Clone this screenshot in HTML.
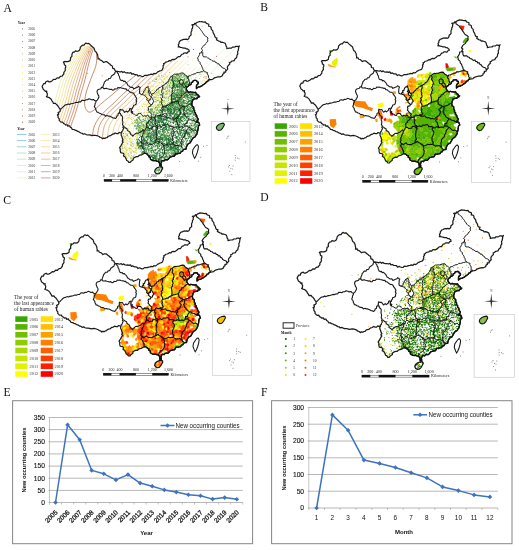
<!DOCTYPE html><html><head><meta charset="utf-8"><title>Figure</title><style>html,body{margin:0;padding:0;background:#fff}svg{display:block}text{white-space:pre}</style></head><body>
<svg width="519" height="550" viewBox="0 0 519 550">
<rect width="519" height="550" fill="#fff"/>
<defs>
<path id="cn" d="M37.2 88.4L37.4 87.2L38.1 86.1L38.7 85L40.4 85L40.8 83.2L42 82.6L43.2 82.1L44.2 83.1L45.4 83.1L46.4 82.5L47.5 82.1L48.3 81.2L49.4 80.4L51 80.6L52 79.7L53.1 78.8L54.7 79.1L55.6 77.9L56.6 77.2L58.1 77.1L58.9 75.9L59.9 74.8L59.8 73.1L60.8 72L61.5 70.7L61.2 69.1L61.8 67.7L61.8 66.1L60.4 65.2L60.2 63.7L59.4 62.4L60.8 61.7L62.3 61.8L63.9 61.9L65.3 61.4L66.6 60.5L66.8 59L67 57.5L68.4 56.4L68.2 54.7L68.7 53.3L69.5 52L70.9 51.9L72 50.6L73.6 51.1L75 50.8L76.2 49.9L76.9 48.5L77.1 46.8L78.2 45.6L79.4 44.7L81 44.6L81.9 43.3L83 42.4L84.4 43.2L85.9 42.8L87 43.8L88 44.8L89.1 45.8L90.2 46.7L91.3 47.6L91.8 48.8L92.2 50.1L92.7 51.4L93.9 52.2L94.5 53.4L95.2 54.8L95.3 56.2L95.7 57.6L95.5 59.1L97.1 58.9L97.9 60.4L99.3 60.7L100.3 61.6L101.5 62.8L103.3 62L104.8 62L106.1 63L107 63.9L108.1 64.5L108.8 65.5L110 65.9L110.8 67.2L110.9 68.9L112.8 69.4L113.2 70.9L114.2 72.1L115.8 72.1L117.4 72.3L118.9 72.8L120.3 72.1L121.6 73.3L123 72.4L124.3 73.5L125.6 73.6L127 73.5L128.3 74L129.9 73.4L130.9 74.9L132.5 74.5L133.7 75.4L135.1 75.5L136.5 75.7L137.5 77.2L139.2 76.4L140.5 77L141.8 77.5L143.2 77.3L144.3 76.2L145.8 76.3L147.2 76.2L148.5 75.7L150 75.5L151.2 74.9L152.9 75.4L154 74.2L155.7 74.6L156.9 73.7L158 72.6L159.3 72.1L160.5 71.5L161.9 71.2L162.9 70.3L163.4 68.8L163.9 67.6L163.5 66.4L164.5 65.3L164.1 64L165.3 63.6L166.1 62.5L167.5 62.2L168.9 61.8L170.1 60.8L171.7 61.1L172.6 59.9L173.9 59.5L175.4 59.8L176.5 59.1L177.7 58.4L178.6 57.3L179.9 56.7L181.5 56.6L182.3 55.3L183.2 54.2L184.6 53.9L185.6 52.9L187.1 52.8L188.7 53.2L189.6 51.7L190.9 51.4L190.9 50.1L189.9 49.3L189 48.5L187.7 48.6L186.7 47.7L185.4 47.7L184.2 47.6L183.1 47.1L181.8 47L180.7 46.5L179.4 46.6L179.9 45.5L179.5 44.1L180.4 43.1L180.3 41.8L181.1 40.8L181.9 39.8L183.1 39.5L184.2 38.9L185.4 38.5L186.6 38.6L187.8 38.4L189 38.9L190.1 38.2L190.8 37.2L190.9 35.8L191.9 35L193 33.8L192.8 32.1L193 30.6L193.8 29.3L193.6 28L194.5 26.9L194.5 25.7L194.8 24.5L193.7 23.4L194.7 23.1L196.1 23.3L196.6 22L198.1 21.9L199.1 20.9L200.4 20.4L201.6 19.9L202.8 20.2L204 20.1L205.2 20.4L206.5 20.6L208 20.4L208.9 21.9L210.1 22.3L211.4 22.9L211.3 24.9L213 25.2L213.9 26.2L213.9 27.6L214.7 28.7L215.7 29.7L215.8 31L216.2 32.2L217 33.3L217.5 34.5L217.8 35.8L218.5 36.8L220 37.2L219.4 39.1L220.7 39.7L221.8 40.4L223.1 40.6L224.1 41.8L225.5 41.6L227.1 42.2L228.6 42.8L229.3 44.5L229.5 45.8L230.4 47L230.3 48.4L231.5 48.2L232.7 47.8L233.9 47.8L235.1 47.8L236.1 46.8L237.5 46.8L238.8 46.6L239.9 45.8L241.1 45.9L242.3 46.4L243.4 45.5L242.8 46.6L242.6 47.8L242.4 49.1L242.2 50.3L241.6 51.4L241.6 52.7L241.8 54.1L240.9 55.1L240.8 56.5L240.5 57.8L239.3 58.6L238.5 59.7L238 60.9L236.7 61.2L235.4 61.3L234.5 62.5L233.2 62.8L233.4 64.5L232.2 65.6L231.3 66.7L230.8 67.9L231.2 69.5L230.4 70.5L229.3 71.5L229.1 72.8L227.2 72.9L227.4 74.4L226.1 75L225.7 76.6L224.5 77.3L223.4 77.8L222.1 77.7L220.9 77.9L219.7 78.2L218.2 78.6L216.8 79.2L215.6 80.3L214.1 80.7L212.5 80.8L211 81.2L210.3 82.6L208.9 83L208.1 84.3L206.8 85.3L205.5 86.1L204.3 87.2L203.1 87.6L202 88.4L200.6 88.4L199.5 89.1L198.5 90L198.5 88.6L198.5 87.2L199.2 85.9L200.5 84.9L200.4 83.3L199.2 83.1L198.7 81.7L197.5 81.4L196.2 81.6L195.1 82L194.6 83.3L193.2 83.8L193 85.5L191.8 86.2L190.6 86.5L190 87.6L188.9 88.1L188 89.4L187.9 91L188.8 92.3L189.8 93.5L191 94L192.2 93.4L193.4 93.9L194.6 93.9L196.1 94.2L197.5 93.9L198.3 95.1L199.1 96.1L200.4 96.8L200.5 98.1L201.8 98.1L200.9 99.1L199.6 99.3L199 100.7L197.5 100.6L196.4 101L195.1 101.3L194.6 102.6L194.1 104L193.7 105.5L193.8 107L194.1 108.5L195.6 109.3L195.7 110.6L195.8 112L196.6 113.2L196.4 114.6L197.6 115.6L197.5 117L198.7 118L199 119.5L199.5 120.9L200.3 121.7L200.4 122.8L199.2 123.8L198.5 125.2L199.9 124.9L200.9 125.4L201.4 126.7L201.9 128.2L200.6 129.2L200.4 130.5L200.3 131.7L200.1 132.9L199.9 134.1L199.5 135.3L199.2 136.6L198.9 137.9L197.9 138.9L197.5 140.1L196.6 140.9L195.5 141.4L194.6 142.2L193.9 143.4L193.2 144.6L192.5 145.8L191.8 147L190.1 147.6L189.1 148.8L188.4 150.3L187.9 151.8L187.6 153.4L185.8 153.5L184.5 154.2L184 155.6L182.5 156.1L181.5 157.7L179.8 157.9L178.3 158.5L176.7 158.2L176 159.8L175.1 160.9L173.7 160.9L172.5 161.4L171.1 161.6L170.2 162.5L169.3 163.7L168.3 164.6L166.7 164.3L165.5 164.6L164.6 165.8L163.2 165.3L162.2 165.9L162 167L161.3 168.2L161.6 169.4L161.7 170.7L160.2 170.7L160 169.1L159.8 167.6L159.1 166.9L158.4 166.2L156.9 165.9L155.5 165.3L154.2 165.5L152.9 165.4L151.7 164.7L150.4 163.9L150.3 162L148.8 161.4L148.9 159.9L147.5 159.5L146.8 158.5L145.5 157.8L144 157.6L143.1 158.4L142 158.8L141.1 159.5L139.5 159.6L138.3 160.3L137.2 161.4L135.8 161.3L134.6 161.7L133.4 162.4L132.4 163.1L132.4 164.5L131.4 165.3L130.2 166L129.5 167.2L127.8 167.3L126.9 165.9L125.6 165.3L125.1 163.9L124.5 162.6L123.7 161.4L122.2 160.6L122.8 158.7L121.8 157.6L120.5 157.4L119.3 157.1L118.9 155.6L118.8 154.4L118.9 153.2L118.1 152L118.9 150.8L119.7 149.7L120.3 148.4L121 147.2L121.8 146L120.9 144.9L121.7 143.5L121.1 142.4L120.8 141.2L120.4 140L119.8 138.9L119.8 137.7L119.9 136.4L118.8 136.3L117.7 135.9L116.6 137.1L115.1 137.1L113.5 136.5L112.3 137.5L110.9 137.8L109.8 138.5L108.7 139.4L107.2 139.6L106 140.2L105.1 141.3L103.9 141.5L102.8 142.2L101.4 141.9L100.3 142.6L99.3 141.5L97.9 141.2L96.8 140.2L95.5 139.7L94 139.2L92.5 138.9L90.9 139.1L89.3 139.3L87.8 138.8L86.3 138.5L84.7 138.6L83.2 138.2L81.7 137.3L80.1 137.8L79.1 136.8L77.8 136.6L76.7 135.9L75.6 135.2L74.3 134.9L73.1 134L71.6 133.6L70.4 132.9L68.7 132.8L67.9 131.2L66.6 130.5L65.9 129L64.1 129.5L63.5 127.9L61.8 128.2L60.8 127.2L59.5 126.6L58.8 125.2L57.1 125.3L56 124.4L55 123.4L55.1 121.8L53.9 120.5L53.9 118.9L53.1 117.6L54.5 116.9L53.8 115.1L55.4 114.4L56.2 113.4L56 111.8L55.4 110.8L54.7 109.9L54.1 108.9L53.2 107.6L52 106.7L51.1 105.4L49.1 105.6L48.3 104.1L47.4 102.9L46.8 101.5L45.7 100.5L44.5 99.5L43 99.1L41.6 98.5L42.4 97.7L42.5 96.6L42.6 95.3L41.8 94.1L42 92.8L40.5 93.1L39.8 91.8L38.7 91.3L38.1 90.4L37.8 89.3Z"/>
<path id="hn" d="M163 172.5L162.1 171.7L159.7 172.1L157.4 173L155.4 174.7L154.8 176.8L155.7 178.5L157.4 179.4L159.5 179L161.2 177.3L162.3 175.3L163.2 173.6Z"/>
<path id="tw" d="M199.6 148.8L200.6 150.5L200.2 154L199 158L197.6 161.5L196.6 163L195.6 161L194.3 157.5L194.8 154L196.8 151L198.5 149Z"/>
<path id="pv" d="M56 111.8L57.4 111.1L58.4 109.9L59.4 108.9L60.5 107.8L61.8 107L63.2 106.9L64.5 106.1L66 106.6L67.3 105.9L68.7 105.6L70 105.4L71.4 105L72.8 104.4L74.5 104.6L75.9 103.9L77.5 104L78.6 102.4L80.1 102.2L81.7 102.7L83.2 101.7L84.7 101.8L86.2 100.7L87.8 101.2L89.2 101.9L90.9 101.5L92.1 102.7L93.6 103.1M93.6 103.1L94.9 102.1L95.7 100.7L96.5 99.3L96.4 97.7L95.5 96.4L95 94.9L94.5 93.5L94.9 92L95.9 91L97.4 90.6L98.6 90.2L99.2 88.7L100.7 89M114.2 72.1L113.3 73.1L113 74.6L111.9 75.4L110.8 76.2L109.7 76.9L109.1 78.3L108.3 79.5L106.7 79.6L106.1 81.1L104.2 81.1L103.4 82.3L102.2 83.4L101.9 84.9L101.3 86.3L100.8 87.6L100.7 89M100.7 89L101.7 90.1L102.9 90.1L104.3 89.7L105.4 90.3L106.8 90.5L108.1 91.1L109.6 90.7L110.8 91.7L112.1 91.6L113 90.4L114.3 90.5L115.5 90.3L116.3 89.1L117.7 89.3L118.9 89L120 89.5L121.1 89.8L122.3 89.9L123.5 90.4L125 90.3L125.6 91.7L127 91.8L128 92.7L129 93.5L130.2 94.4L131.8 94.5L133 95.3L133.6 96.7L134.5 97.8L135.3 99.1L136 100.4L135.3 101.9L136.1 103.2L135.6 104.2L135.6 105.4L135.3 106.5L134.1 107.2L132.8 107.6L132.4 109.2L131.6 110L131.4 111.3L130.3 111.9L130.2 113.4L131.9 114.4L131.3 116M93.6 103.1L93.3 104.6L92.5 106L92.4 107.5L91.7 108.9L92.4 110L93.2 111L93.3 112.4L94 113.5L94.5 114.7L95.9 114.9L97 115.8L98.4 116.1L99.5 117.2L100.9 117.4L102.3 117.6L103.4 118.9L105 118.3L106.3 118.9L107.7 118.9L109 119.5L110.1 120.1L111.3 120.8L112.6 120.9L113.8 121.4L114.8 120.4L115.2 119L116.5 118.2L116.6 116.5L117.7 115.6M117.7 115.6L119.2 116.1L119.4 117.8L120.6 118.5L121.3 120L121.1 121.6L121 123.1L121.6 124.6L121.5 126.2L121.2 127.8L122.1 129.1L121.6 130.7L122.5 132L121.6 133L121.4 134.3L120.2 135.2L120.6 136.8M117.7 115.6L118.4 114.4L118.3 113.1L118.6 111.8L119.9 112.4L121.6 112.2L122.5 113.7L123.5 115L125.2 113.6L126.3 114.7L127.3 113.8L128.4 113L128.6 111.3L130 110.8L130.4 112.1L130.4 113.5L130.3 114.9L131.3 116M114.2 72.1L115.6 72.5L116 73.9L116.9 74.8L117.1 76.2L118 77.4L118.2 78.9L118.6 80L119.1 81.1L120.2 81.6L121.4 81.4L122.3 82.7L123.6 82.3L124.5 83.4L125.6 84.3L126.4 85.6L127 87L128.2 87.5L129.1 88.5L130.3 89L131.8 88.7L132.9 90.4L134.4 89.7L135.6 89.2L136.9 88.8L137.8 87.7L138.8 88.4L139.8 89L139.3 90.1L139.2 91.2L139.1 92.4L139 93.8L139.1 95.1L140.4 95.9L141.8 96.4M122.5 130L123.7 130.6L124.7 131.6L126 132L126.1 133.5L127.1 134.3L128.3 135L129 136L129.4 137.2L130.1 138.3L131.4 138.9L132 140L132.8 138.8L134 138L135 137L136.3 136.6L137.8 136.8L139 136L140.2 135.6L141.1 134.8L142 134L143 133.2L143.9 134.1"/>
<path id="pe" d="M141.8 96.4L142.1 95.2L143.4 94.4L143 93L144.4 92.5L144.7 91.2L145.2 90L145.9 89L147.2 88.9L147.9 87.7L148.2 89.1L148.8 90.3L148.8 91.5L148.7 92.7L147.9 93.7L149.2 94.5L149 95.9L149.2 97.1L150.5 97.9L151.3 99.1L150.3 100.3L150.6 101.8L149.1 101.7L148.6 103.2L147.4 102.8L146.5 101.8L147.1 100.2L145.9 99.1L145 98.2L144.5 97.1L143.1 96.8L141.8 96.4M148.8 91.5L149.5 92.5L150.1 93.6L150.3 94.9L151.3 95.7L152.6 95.3L154 95.1L154.7 94.1L155.6 93.1L156.6 92.4L157.1 90.9L158.8 90.5L159.3 89L160.8 88.7L162 87.7L162.8 87.1L163.7 86.9L164.8 86.2L165.9 85.6L166.5 84.4L167.8 84.1L168.6 82.7L169.5 81.5L170 80L170.9 79.2L171.2 77.8L172.4 77.2L173.4 76.5L174.4 75.6L175.5 75L176.9 75.1L178.3 74.8L179.7 74.9L181 74.4L182.4 73.9L183.8 73.7L185.1 73.9L185.7 75L186.6 75.8L187.7 76.4L188.7 77.2L189.8 78.2M196.6 22L197.9 22.5L198.1 24.1L199.3 24.7L200.3 25.6L201.5 26.3L202 27.6L203 28.5L203.7 29.6L204.5 30.6L205.1 31.8L206 32.8L206.8 34.2L207.9 35.3L209.3 36L210.6 37.2L210.1 39L210.6 40.4L209.7 41.3L209 42.3L208.1 43.1L207.6 44.3L206.3 45.1L205.1 46.1L204.4 47.5L203.6 48.6L205.1 49.9L204 51M204 51L205.1 52.3L205.1 53.9L205.2 55.5L206 57L207.6 56.9L209.1 57L210.1 58L211.6 58.3L212.4 59.7L213.9 59.9L214.9 60.9L216 61.6L217.6 61.2L218.3 62.8L219.7 62.8L220.3 64.2L222.1 64.2L222.6 65.7L224.2 66.3L224.9 67.9L226.4 68.6L227.8 69.1L228.9 69.9L229.3 71.5M204 51L204.1 52.7L201.8 52.9L201.8 54.5L201.1 55.8L200.5 57L199.5 58L200.3 59.2L200.2 60.8L201.5 61.7L202.4 62.8L202.3 64.2L203.4 65.2L204 66.3L204.3 67.6L205.1 68.8L205.3 70.4L206.2 71.5M206.2 71.5L207.4 72.3L208.7 73L210.1 73.4L209.8 74.7L210.5 75.8L211.2 76.9L211 78.2L211.8 79.5L212.5 80.8M206.2 71.5L204.9 72.4L203.3 72.5L201.9 73.1L200.4 73.4L198.8 73.3L197.6 74.6L196 74.7L194.6 75.3L193.2 75.8L192.2 76.7L190.5 76.7L189.8 78.2M189.8 78.2L189.2 79.5L190.2 80.4L190.8 81.3L190.8 82.8L191.5 84.1L190.8 85.4L190.5 86.8M173.4 76.5L172.8 77.6L173.6 79L173 80.1L172.7 81.3L173.9 82.5L174.5 83.9L174.8 85.5L174 86.8L174.2 88.3L172.8 89.4L173.4 91L173.9 92.6L172.9 93.9L173.2 95.4L172 96.6L172 98L172.5 99.4L172.5 100.8L172.7 102.2L172.6 103.5L172.6 104.8L171.3 105.6M163.7 86.9L163 88.2L163.1 89.7L162.6 91L162.3 92.4L162.1 93.9L162.9 95.2L162.5 96.6L163 98L163 99.5L161.6 100.6L162.5 102.3L161.6 103.5L161.7 105L162.4 106.3L163 107.6L163 109.1M163 109.1L164.4 108.6L165.9 108.4L167.2 107.7L168.8 107.4L169.9 106.2L171.3 105.6M180.6 81.6L182.6 80.6L184.6 81.8L184.8 84.4L183 86L181 85.2L180.6 81.6M184.8 84.4L186.6 85.6L187.2 88.4L185.6 89.4L184.4 87.6L183 86M188.7 93.1L187.5 94L186.2 94.8L185.2 95.9L184.4 96.9L182.8 97L182.5 98.5L181.7 99.4L180.2 100.1L180.1 101.9L179 102.9M171.3 105.6L172.7 105.2L174 104.3L175.5 104.2L176.6 103.7L177.9 103.4L179 102.9M179 102.9L179.6 104.2L179.7 105.6L180.4 107L181.7 107.7L183 108L183.8 109.1M183.8 109.1L185 109.1L186.2 108.8L187.3 108.4L188.9 108.2L190.2 107.2L191.5 106.3L192.6 106L193.7 105.5M183.8 109.1L182.7 110.1L181.8 111.2L180.4 111.9L181 113.2L182.2 114.3L181.7 116L181.1 117.1L180.6 118.2L179.7 119L178.6 119.3L178.3 120.5M183.8 109.1L185.4 109.1L185.9 110.7L185.4 111.8L185.5 113.3L184.5 114.2L185.4 115.3L185.5 116.8L186.6 117.7L187.2 118.7L187.6 119.8L188.7 120.5L189.8 121.1L190.8 121.9M151.3 95.7L152.2 97L151.2 98.6L152 100L152.7 101.3L153.5 102.6L154 104L152.8 104.8L152.5 106.5L151 107L150.5 108.5L148.7 108.7L148 110L148.5 111.3L148 112.8L149 114L149.8 115.2L150.9 116.1L152 117L151.2 118.3L152 119.9L151.2 121.2M163 109.1L162.1 110.4L162.9 112L162.3 113.3L162.7 114.4L162.9 115.5L163.7 116.4L162.7 117.9L160.8 117.5L159.5 118.4M159.5 118.4L158 118.4L156.7 117.7L155.8 118.4L155.4 119.8L154 119.8L152.7 120.6L151.2 121.2M131.3 116L132.6 116.6L133.9 117L135 118L136.8 118.2L137.5 116.3L139 116L140.4 116.2L141.1 117.4L142 118.3L143 119L144.2 118.1L145.9 119.1L147 118L148.4 118.4L148.8 120L150.4 120L151.2 121.2M148.6 103.2L148.6 104.9L150 106L151 107M151.2 121.2L150.3 122.3L149.5 123.5L148 124L148 125.5L146.8 126.1L146 127L146.5 128.2L146.3 129.4L146.5 130.6L145.5 131.6L145 133.1L143.9 134.1M146.5 130.6L148.1 130.4L149.3 132L151 131.5L152.5 131.5L153 129.5L154.6 129.7L156.1 130.1L157 131.4L158.2 132.3M154 119.8L154.9 120.7L154.9 122.2L156 123L155.3 124.4L155 126L155.8 127L155.9 128.5L157.4 128.8L157.5 130L157.8 131.2L158.2 132.3M143.9 134.1L143.6 135.6L143.3 137.1L142.3 138.4L141.9 139.9L141.2 141.3L141.1 142.8L141.4 144.4L140.3 145.7M140.3 145.7L141.4 146.8L141.8 148.1L140.8 149.9L142 151L142.8 152.3L143.1 153.8L144 155L143.9 156.3L144 157.6M140.3 145.7L141.3 146.6L142.6 147.4L143.5 148.4L144.5 147.8L145.4 147.1L146.5 146.6L147.4 147.6L148.5 148.2L149.8 148.2L151 148.4L152.3 148.4L153.2 147.4L154.4 147L155.5 146.6M158.2 132.3L157.1 133.4L156.7 134.8L156.7 136.3L156.4 137.7L156.4 139.1L156.4 140.4L156.9 141.7L157.3 143L156 143.8L156 145.4L155.5 146.6M155.5 146.6L156.6 146.2L157.4 145.4L158.5 145L159.3 146.1L160.7 146.6L161.7 147.5M161.7 147.5L162.8 148.5L164.1 149.4L164.4 151L165.1 152.1L164.4 153.6L165.3 154.7L165.1 156.1L165 157.6L164.4 159L163.7 160.2L162.8 161.3L161.3 161.9L160.5 163L159.5 163.9L159.1 165.2L158.4 166.2M161.7 147.5L162.9 147.7L163.8 148.9L164.8 149.5L166.2 149.3L167.6 148.8L169 147.9L170.6 148.4L171.8 148L173.1 148.2L174.2 147.5M174.2 147.5L174.7 148.8L176.1 149.2L176.9 150.2L178 149.4L179.4 149.8L180.5 149.3L181.5 149.8L182.1 150.8L183.2 151.1L183.7 152.3L184.9 152.9M174.2 147.5L174.8 146L173.5 144.9L173.3 143.6L173.3 142.2L173.3 140.7L174.1 139.4L174.6 138.1L175.1 136.8L175.2 135.4L174.6 134.4L173.9 133.4L173.3 132.3L173.9 131.4L175 131M175 131L174 130.2L172.8 129.8L171.5 129.7L170.1 130L169.4 128.6L168.4 127.7L167 127.9L165.7 128.4L164.1 128.1L163 129.3L161.7 129.7L160.4 128.8L158.6 130L157.4 128.8M175 131L176.7 131L178 130L179.3 130.2L180.4 130.9M180.4 130.9L180 129.9L179.7 128.8L179 127.4L178.9 125.7L177.6 124.6L177.1 123.1L178.7 122L178.3 120.5M178.3 120.5L177 120.6L176.2 122L174.8 121.9L173.6 121.3L172.1 121.9L171.1 121.1L169.9 120.5L168.4 120.8L167.1 120.2L166 118.6L164.4 119.1L163.1 119.1L161.9 119.3L160.8 118L159.5 118.4M180.4 130.9L181.7 130.4L183.1 130.2L184.8 130.8L186 129.5M186 129.5L186.6 128.1L186.6 126.7L188.6 126.7L188.7 125.3L189.3 124.1L190 123L190.8 121.9M190.8 121.9L192.1 121.9L193 122.9L194.2 123.2L195.8 123.5L197 124.6L197.8 124.7L198.5 125.2M186 129.5L187.2 129.3L188.5 129L189.5 129.7L190.3 130.6M190.3 130.6L191.8 131.1L192.8 132.2L193.9 133.2L195.3 133.9L196.9 133.3L198.3 134.1L198.7 134.9L199.5 135.3M190.3 130.6L189.6 132.1L188.5 133.2L187.8 134.2L187.8 135.5L187.4 136.7L186.7 137.7L186.1 138.9L186 140.3L184.9 141.2L184 142.2L183 143.5L183.1 145.2L182.3 146.6L182.7 148.1L182.7 149.6L183.2 151.1"/>
<path id="coast" d="M212.5 80.8L211 81.2L210.3 82.6L208.9 83L208.1 84.3L206.8 85.3L205.5 86.1L204.3 87.2L203.1 87.6L202 88.4L200.6 88.4L199.5 89.1L198.5 90L198.5 88.6L198.5 87.2L199.2 85.9L200.5 84.9L200.4 83.3L199.2 83.1L198.7 81.7L197.5 81.4L196.2 81.6L195.1 82L194.6 83.3L193.2 83.8L193 85.5L191.8 86.2L190.6 86.5L190 87.6L188.9 88.1L188 89.4L187.9 91L188.8 92.3L189.8 93.5L191 94L192.2 93.4L193.4 93.9L194.6 93.9L196.1 94.2L197.5 93.9L198.3 95.1L199.1 96.1L200.4 96.8L200.5 98.1L201.8 98.1L200.9 99.1L199.6 99.3L199 100.7L197.5 100.6L196.4 101L195.1 101.3L194.6 102.6L194.1 104L193.7 105.5L193.8 107L194.1 108.5L195.6 109.3L195.7 110.6L195.8 112L196.6 113.2L196.4 114.6L197.6 115.6L197.5 117L198.7 118L199 119.5L199.5 120.9L200.3 121.7L200.4 122.8L199.2 123.8L198.5 125.2L199.9 124.9L200.9 125.4L201.4 126.7L201.9 128.2L200.6 129.2L200.4 130.5L200.3 131.7L200.1 132.9L199.9 134.1L199.5 135.3L199.2 136.6L198.9 137.9L197.9 138.9L197.5 140.1L196.6 140.9L195.5 141.4L194.6 142.2L193.9 143.4L193.2 144.6L192.5 145.8L191.8 147L190.1 147.6L189.1 148.8L188.4 150.3L187.9 151.8L187.6 153.4L185.8 153.5L184.5 154.2L184 155.6L182.5 156.1L181.5 157.7L179.8 157.9L178.3 158.5L176.7 158.2L176 159.8L175.1 160.9L173.7 160.9L172.5 161.4L171.1 161.6L170.2 162.5L169.3 163.7L168.3 164.6L166.7 164.3L165.5 164.6L164.6 165.8L163.2 165.3L162.2 165.9L162 167L161.3 168.2L161.6 169.4L161.7 170.7L160.2 170.7L160 169.1L159.8 167.6L159.1 166.9L158.4 166.2L156.9 165.9L155.5 165.3L154.2 165.5L152.9 165.4L151.7 164.7L150.4 163.9L150.3 162L148.8 161.4L148.9 159.9L147.5 159.5L146.8 158.5L145.5 157.8L144 157.6"/>
<clipPath id="cc"><use href="#cn"/><use href="#hn"/></clipPath>
<g id="na"><path d="M231.3 103.4L232.2 111.2L231.3 118.6L230.4 111.2Z" fill="#333"/>
<path d="M224.1 111.2L231.3 110.4L238.5 111.2L231.3 112Z" fill="#333"/>
<text x="231.3" y="101.6" font-family="'Liberation Serif',serif" font-size="3" text-anchor="middle" fill="#444">N</text></g>
<g id="sb">
<rect x="101.9" y="185.2" width="67.2" height="1.9" fill="#fff" stroke="#111" stroke-width="0.45"/>
<rect x="101.9" y="184.9" width="8.4" height="2.3" fill="#111"/>
<rect x="118.7" y="184.9" width="16.8" height="2.3" fill="#111"/>
<rect x="152.3" y="184.9" width="16.8" height="2.3" fill="#111"/>
<text x="101.9" y="182.7" font-family="'Liberation Serif',serif" font-size="4.1" text-anchor="middle" fill="#222">0</text>
<text x="110.3" y="182.7" font-family="'Liberation Serif',serif" font-size="4.1" text-anchor="middle" fill="#222">200</text>
<text x="118.7" y="182.7" font-family="'Liberation Serif',serif" font-size="4.1" text-anchor="middle" fill="#222">400</text>
<text x="135.5" y="182.7" font-family="'Liberation Serif',serif" font-size="4.1" text-anchor="middle" fill="#222">800</text>
<text x="152.3" y="182.7" font-family="'Liberation Serif',serif" font-size="4.1" text-anchor="middle" fill="#222">1,200</text>
<text x="169.1" y="182.7" font-family="'Liberation Serif',serif" font-size="4.1" text-anchor="middle" fill="#222">1,600</text>
<text x="171.1" y="187.4" font-family="'Liberation Serif',serif" font-size="4.1" fill="#222">Kilometers</text>
</g>
<g id="ins"><rect x="214.1" y="124.3" width="40.4" height="62.9" fill="#fff" stroke="#b8b8b8" stroke-width="0.5"/>
<path d="M231.2 140.6h0M232.2 139.8h0M230.4 142.2h0M249.6 145.9h0M239 160h0M239.2 162.5h0M239.1 165h0M241.5 162.7h0M243 163.5h0M232 172h0M234.5 173.5h0M236 174.2h0M233.5 176.5h0M235.5 180h0M233 170.5h0M236.8 171h0" stroke="#333" stroke-width="0.7" stroke-linecap="round" fill="none"/>
</g>
<path id="isx" d="M206 150.4h0M209.5 149.6h0M181 166.3h0M203 162h0M200.5 166h0" stroke="#333" stroke-width="0.7" stroke-linecap="round" fill="none"/>
</defs>
<text transform="translate(3.4 11.9) scale(0.88 1)" font-family="'Liberation Serif',serif" font-size="13.2" fill="#111">A</text>
<text transform="translate(260.3 10.9) scale(0.88 1)" font-family="'Liberation Serif',serif" font-size="13.2" fill="#111">B</text>
<text transform="translate(3.2 203.7) scale(0.88 1)" font-family="'Liberation Serif',serif" font-size="13.2" fill="#111">C</text>
<text transform="translate(260.3 200.9) scale(0.88 1)" font-family="'Liberation Serif',serif" font-size="13.2" fill="#111">D</text>
<text transform="translate(3.5 396.2) scale(0.88 1)" font-family="'Liberation Serif',serif" font-size="13.2" fill="#111">E</text>
<text transform="translate(261.1 396.2) scale(0.88 1)" font-family="'Liberation Serif',serif" font-size="13.2" fill="#111">F</text>
<g transform="translate(6.6 2.43) scale(0.9563)">
<g clip-path="url(#cc)" fill="none" stroke-width="0.8">
<path d="M93.3 45.6C93.4 48.5 94.7 57.9 94 63.1C93.3 68.4 90.6 73.2 89.3 76.9C88 80.6 87.2 82.5 86.2 85.3C85.2 88.1 84.1 90.6 83.3 93.7C82.6 96.7 81.7 100.8 81.6 103.7C81.4 106.6 81.8 109.1 82.6 110.9C83.4 112.7 84.8 114.4 86.2 114.7C87.6 115 89.1 114.2 91.1 112.8C93.1 111.4 95.6 108.8 98.2 106.5C100.8 104.3 103.8 101.8 106.7 99.4C109.5 97.1 112.3 94.8 115.1 92.4C117.9 90.1 121.2 87.2 123.5 85.3C125.8 83.4 125.3 84.2 129 81.1C132.8 78.1 141.2 70.8 145.8 67C150.3 63.2 154.5 59.6 156.2 58.1" stroke="#b8683f"/>
<path d="M91.6 45.6C90.7 48.3 87.9 56.4 86.3 62.3C84.7 68.2 83.2 76.1 81.9 81.1C80.6 86.2 79.7 88.4 78.5 92.6C77.3 96.9 76 102.3 74.8 106.5C73.6 110.7 72.4 114.3 71.3 117.8C70.1 121.3 69.2 123.5 67.8 127.6C66.5 131.8 63.9 140.3 63.1 142.8" stroke="#bf7046"/>
<path d="M90.2 45.6C89.2 48.3 86 56.4 84.1 62.3C82.3 68.2 80.6 76.1 79.2 81.1C77.8 86.2 76.9 88.4 75.7 92.6C74.5 96.9 73.3 102.3 72 106.5C70.8 110.7 69.7 114.3 68.5 117.8C67.3 121.3 66.4 123.5 65 127.6C63.7 131.8 61.1 140.3 60.3 142.8" stroke="#c87a4e"/>
<path d="M88.9 45.6C87.7 48.3 84.1 56.4 82 62.3C79.9 68.2 77.9 76.1 76.4 81.1C74.9 86.2 74.1 88.4 72.9 92.6C71.8 96.9 70.5 102.3 69.3 106.5C68.1 110.7 66.9 114.3 65.7 117.8C64.6 121.3 63.6 123.5 62.3 127.6C60.9 131.8 58.3 140.3 57.6 142.8" stroke="#d08656"/>
<path d="M87.5 45.6C86.2 48.3 82.2 56.4 79.9 62.3C77.6 68.2 75.2 76.1 73.6 81.1C72 86.2 71.4 88.4 70.2 92.6C69 96.9 67.7 102.3 66.5 106.5C65.3 110.7 64.1 114.3 63 117.8C61.8 121.3 60.9 123.5 59.5 127.6C58.1 131.8 55.6 140.3 54.8 142.8" stroke="#e2a464"/>
<path d="M86.2 45.6C84.8 48.3 80.3 56.4 77.7 62.3C75.2 68.2 72.6 76.1 70.8 81.1C69.1 86.2 68.6 88.4 67.4 92.6C66.2 96.9 64.9 102.3 63.7 106.5C62.5 110.7 61.3 114.3 60.2 117.8C59 121.3 58.1 123.5 56.7 127.6C55.4 131.8 52.8 140.3 52 142.8" stroke="#eab870"/>
<path d="M84.8 45.6C83.3 48.3 78.4 56.4 75.6 62.3C72.8 68.2 69.9 76.1 68.1 81.1C66.2 86.2 65.8 88.4 64.6 92.6C63.4 96.9 62.2 102.3 61 106.5C59.8 110.7 58.6 114.3 57.4 117.8C56.2 121.3 55.3 123.5 54 127.6C52.6 131.8 50 140.3 49.3 142.8" stroke="#eec678"/>
<path d="M83.4 45.6C81.8 48.3 76.5 56.4 73.5 62.3C70.4 68.2 67.2 76.1 65.3 81.1C63.4 86.2 63 88.4 61.9 92.6C60.7 96.9 59.4 102.3 58.2 106.5C57 110.7 55.8 114.3 54.6 117.8C53.5 121.3 52.5 123.5 51.2 127.6C49.8 131.8 47.3 140.3 46.5 142.8" stroke="#f2dc88"/>
<path d="M82.1 45.6C80.3 48.3 74.6 56.4 71.3 62.3C68.1 68.2 64.6 76.1 62.5 81.1C60.5 86.2 60.3 88.4 59.1 92.6C57.9 96.9 56.6 102.3 55.4 106.5C54.2 110.7 53 114.3 51.9 117.8C50.7 121.3 49.8 123.5 48.4 127.6C47.1 131.8 44.5 140.3 43.7 142.8" stroke="#f2e490"/>
<path d="M80.7 45.6C78.8 48.3 72.7 56.4 69.2 62.3C65.7 68.2 61.9 76.1 59.8 81.1C57.6 86.2 57.5 88.4 56.3 92.6C55.1 96.9 53.9 102.3 52.7 106.5C51.4 110.7 50.3 114.3 49.1 117.8C47.9 121.3 47 123.5 45.6 127.6C44.3 131.8 41.7 140.3 40.9 142.8" stroke="#f0ea98"/>
<path d="M79.4 45.6C77.3 48.3 70.8 56.4 67.1 62.3C63.3 68.2 59.2 76.1 57 81.1C54.7 86.2 54.7 88.4 53.5 92.6C52.4 96.9 51.1 102.3 49.9 106.5C48.7 110.7 47.5 114.3 46.3 117.8C45.2 121.3 44.2 123.5 42.9 127.6C41.5 131.8 39 140.3 38.2 142.8" stroke="#e6eca0"/>
<path d="M66.5 48.7L63 60.2" stroke="#5ab0c8"/>
<path d="M68.4 47.1L64.5 61.8" stroke="#80c0c0"/>
<path d="M70.3 46.1L66.3 62.3" stroke="#a8d4b8"/>
<path d="M87.7 154.3C88.1 151.9 89 143.9 89.7 139.7C90.4 135.5 90.6 132.3 91.8 129.1C93 125.9 94.7 123.4 96.7 120.6C98.7 117.9 101.2 115.4 103.8 112.8C106.4 110.2 109.5 107.8 112.3 105.1C115.1 102.4 117.9 99.2 120.7 96.6C123.5 94 125.2 93.1 129 89.6C132.9 86 138.8 80.2 143.7 75.4C148.6 70.6 155.9 63.2 158.3 60.7" stroke="#bf7046" opacity="1.0"/>
<path d="M93 154.3C93.3 151.9 94.3 143.9 94.9 139.7C95.6 135.5 95.9 132.3 97 129.1C98.2 125.9 100 123.4 102 120.6C104 117.9 106.5 115.4 109.1 112.8C111.7 110.2 114.7 107.8 117.5 105.1C120.3 102.4 123.1 99.2 125.9 96.6C128.7 94 130.4 93.1 134.3 89.6C138.1 86 144 80.2 148.9 75.4C153.8 70.6 161.1 63.2 163.5 60.7" stroke="#c87a4e" opacity="1.0"/>
<path d="M98.2 154.3C98.5 151.9 99.5 143.9 100.2 139.7C100.9 135.5 101.1 132.3 102.3 129.1C103.4 125.9 105.2 123.4 107.2 120.6C109.2 117.9 111.7 115.4 114.3 112.8C116.9 110.2 120 107.8 122.8 105.1C125.6 102.4 128.3 99.2 131.1 96.6C133.9 94 135.7 93.1 139.5 89.6C143.3 86 149.3 80.2 154.1 75.4C159 70.6 166.3 63.2 168.8 60.7" stroke="#d9945c" opacity="1.0"/>
<path d="M103.4 154.3C103.8 151.9 104.7 143.9 105.4 139.7C106.1 135.5 106.3 132.3 107.5 129.1C108.7 125.9 110.4 123.4 112.4 120.6C114.4 117.9 116.9 115.4 119.5 112.8C122.1 110.2 125.2 107.8 128 105.1C130.8 102.4 133.6 99.2 136.4 96.6C139.1 94 140.9 93.1 144.7 89.6C148.6 86 154.5 80.2 159.4 75.4C164.2 70.6 171.6 63.2 174 60.7" stroke="#eab870" opacity="1.0"/>
<path d="M108.6 154.3C109 151.9 110 143.9 110.6 139.7C111.3 135.5 111.6 132.3 112.7 129.1C113.9 125.9 115.6 123.4 117.6 120.6C119.6 117.9 122.2 115.4 124.8 112.8C127.3 110.2 130.4 107.8 133.2 105.1C136 102.4 138.8 99.2 141.6 96.6C144.4 94 146.1 93.1 150 89.6C153.8 86 159.7 80.2 164.6 75.4C169.5 70.6 176.8 63.2 179.2 60.7" stroke="#eec678" opacity="1.0"/>
<path d="M113.9 154.3C114.2 151.9 115.2 143.9 115.9 139.7C116.5 135.5 116.8 132.3 118 129.1C119.1 125.9 120.9 123.4 122.9 120.6C124.9 117.9 127.4 115.4 130 112.8C132.6 110.2 135.6 107.8 138.5 105.1C141.3 102.4 144 99.2 146.8 96.6C149.6 94 151.3 93.1 155.2 89.6C159 86 164.9 80.2 169.8 75.4C174.7 70.6 182 63.2 184.5 60.7" stroke="#f2dc88" opacity="1.0"/>
<path d="M119.1 154.3C119.4 151.9 120.4 143.9 121.1 139.7C121.8 135.5 122 132.3 123.2 129.1C124.4 125.9 126.1 123.4 128.1 120.6C130.1 117.9 132.6 115.4 135.2 112.8C137.8 110.2 140.9 107.8 143.7 105.1C146.5 102.4 149.3 99.2 152 96.6C154.8 94 156.6 93.1 160.4 89.6C164.2 86 170.2 80.2 175 75.4C179.9 70.6 187.2 63.2 189.7 60.7" stroke="#f0ea98" opacity="1.0"/>
<path d="M124.3 154.3C124.7 151.9 125.6 143.9 126.3 139.7C127 135.5 127.2 132.3 128.4 129.1C129.6 125.9 131.3 123.4 133.3 120.6C135.3 117.9 137.8 115.4 140.4 112.8C143 110.2 146.1 107.8 148.9 105.1C151.7 102.4 154.5 99.2 157.3 96.6C160.1 94 161.8 93.1 165.6 89.6C169.5 86 176.6 79 180.3 75.4C183.9 71.8 186.4 69.3 187.6 68" stroke="#ecec9c" opacity="0.8"/>
<path d="M129.6 154.3C129.9 151.9 130.9 143.9 131.5 139.7C132.2 135.5 132.5 132.3 133.6 129.1C134.8 125.9 136.6 123.4 138.6 120.6C140.6 117.9 143.1 115.4 145.7 112.8C148.3 110.2 151.3 107.8 154.1 105.1C156.9 102.4 159.7 99.2 162.5 96.6C165.3 94 167 93.1 170.9 89.6C174.7 86 181.8 79 185.5 75.4C189.2 71.8 191.6 69.3 192.8 68" stroke="#dcecaa" opacity="0.8"/>
<path d="M134.8 154.3C135.1 151.9 136.1 143.9 136.8 139.7C137.5 135.5 137.7 132.3 138.9 129.1C140 125.9 141.8 123.4 143.8 120.6C145.8 117.9 148.3 115.4 150.9 112.8C153.5 110.2 156.6 107.8 159.4 105.1C162.2 102.4 164.9 99.2 167.7 96.6C170.5 94 172.3 93.1 176.1 89.6C179.9 86 187.1 79 190.7 75.4C194.4 71.8 196.8 69.3 198.1 68" stroke="#d0e8b0" opacity="0.8"/>
<path d="M140 154.3C140.3 151.9 141.3 143.9 142 139.7C142.7 135.5 142.9 132.3 144.1 129.1C145.3 125.9 147 123.4 149 120.6C151 117.9 153.5 115.4 156.1 112.8C158.7 110.2 161.8 107.8 164.6 105.1C167.4 102.4 170.2 99.2 173 96.6C175.7 94 177.5 93.1 181.3 89.6C185.2 86 192.3 79 196 75.4C199.6 71.8 202.1 69.3 203.3 68" stroke="#d0e8b0" opacity="0.8"/>
<path d="M145.2 154.3C145.6 151.9 146.6 143.9 147.2 139.7C147.9 135.5 148.2 132.3 149.3 129.1C150.5 125.9 152.2 123.4 154.2 120.6C156.2 117.9 158.8 115.4 161.4 112.8C163.9 110.2 167 107.8 169.8 105.1C172.6 102.4 175.4 99.2 178.2 96.6C181 94 182.7 93.1 186.6 89.6C190.4 86 196.3 80.2 201.2 75.4C206.1 70.6 210.4 66.2 215.8 60.7C221.2 55.2 228 48.2 233.6 42.4C239.2 36.7 244.4 31.3 249.3 26.2C254.2 21.2 260.6 14.5 262.9 12.1" stroke="#d0e8b0" opacity="0.55"/>
<path d="M155.7 154.3C156 151.9 157 143.9 157.7 139.7C158.4 135.5 158.6 132.3 159.8 129.1C161 125.9 162.7 123.4 164.7 120.6C166.7 117.9 169.2 115.4 171.8 112.8C174.4 110.2 177.5 107.8 180.3 105.1C183.1 102.4 185.9 99.2 188.6 96.6C191.4 94 193.2 93.1 197 89.6C200.8 86 206.8 80.2 211.6 75.4C216.5 70.6 220.9 66.2 226.3 60.7C231.7 55.2 238.5 48.2 244.1 42.4C249.6 36.7 254.9 31.3 259.8 26.2C264.6 21.2 271.1 14.5 273.3 12.1" stroke="#d0e8b0" opacity="0.55"/>
<path d="M166.2 154.3C166.5 151.9 167.5 143.9 168.1 139.7C168.8 135.5 169.1 132.3 170.2 129.1C171.4 125.9 173.1 123.4 175.2 120.6C177.2 117.9 179.7 115.4 182.3 112.8C184.9 110.2 187.9 107.8 190.7 105.1C193.5 102.4 196.3 99.2 199.1 96.6C201.9 94 203.6 93.1 207.5 89.6C211.3 86 217.2 80.2 222.1 75.4C227 70.6 231.3 66.2 236.7 60.7C242.1 55.2 248.9 48.2 254.5 42.4C260.1 36.7 265.3 31.3 270.2 26.2C275.1 21.2 281.5 14.5 283.8 12.1" stroke="#d0e8b0" opacity="0.55"/>
<path d="M176.6 154.3C176.9 151.9 177.9 143.9 178.6 139.7C179.3 135.5 179.5 132.3 180.7 129.1C181.9 125.9 183.6 123.4 185.6 120.6C187.6 117.9 190.1 115.4 192.7 112.8C195.3 110.2 198.4 107.8 201.2 105.1C204 102.4 206.8 99.2 209.6 96.6C212.3 94 214.1 93.1 217.9 89.6C221.8 86 227.7 80.2 232.6 75.4C237.4 70.6 241.8 66.2 247.2 60.7C252.6 55.2 259.4 48.2 265 42.4C270.6 36.7 275.8 31.3 280.7 26.2C285.5 21.2 292 14.5 294.3 12.1" stroke="#d0e8b0" opacity="0.55"/>
<path d="M187.1 154.3C187.4 151.9 188.4 143.9 189.1 139.7C189.7 135.5 190 132.3 191.2 129.1C192.3 125.9 194.1 123.4 196.1 120.6C198.1 117.9 200.6 115.4 203.2 112.8C205.8 110.2 208.8 107.8 211.6 105.1C214.5 102.4 217.2 99.2 220 96.6C222.8 94 224.5 93.1 228.4 89.6C232.2 86 238.1 80.2 243 75.4C247.9 70.6 252.3 66.2 257.7 60.7C263.1 55.2 269.9 48.2 275.4 42.4C281 36.7 286.2 31.3 291.1 26.2C296 21.2 302.5 14.5 304.7 12.1" stroke="#d0e8b0" opacity="0.55"/>
<path d="M197.5 154.3C197.9 151.9 198.8 143.9 199.5 139.7C200.2 135.5 200.4 132.3 201.6 129.1C202.8 125.9 204.5 123.4 206.5 120.6C208.5 117.9 211 115.4 213.6 112.8C216.2 110.2 219.3 107.8 222.1 105.1C224.9 102.4 227.7 99.2 230.5 96.6C233.3 94 235 93.1 238.8 89.6C242.7 86 248.6 80.2 253.5 75.4C258.4 70.6 262.7 66.2 268.1 60.7C273.5 55.2 280.3 48.2 285.9 42.4C291.5 36.7 296.7 31.3 301.6 26.2C306.5 21.2 312.9 14.5 315.2 12.1" stroke="#d0e8b0" opacity="0.55"/>
<path d="M208 154.3C208.3 151.9 209.3 143.9 210 139.7C210.7 135.5 210.9 132.3 212.1 129.1C213.2 125.9 215 123.4 217 120.6C219 117.9 221.5 115.4 224.1 112.8C226.7 110.2 229.8 107.8 232.6 105.1C235.4 102.4 238.1 99.2 240.9 96.6C243.7 94 245.5 93.1 249.3 89.6C253.1 86 259.1 80.2 263.9 75.4C268.8 70.6 273.2 66.2 278.6 60.7C284 55.2 290.8 48.2 296.4 42.4C301.9 36.7 307.2 31.3 312 26.2C316.9 21.2 323.4 14.5 325.6 12.1" stroke="#d0e8b0" opacity="0.55"/>
<path d="M218.4 154.3C218.8 151.9 219.8 143.9 220.4 139.7C221.1 135.5 221.4 132.3 222.5 129.1C223.7 125.9 225.4 123.4 227.4 120.6C229.4 117.9 232 115.4 234.5 112.8C237.1 110.2 240.2 107.8 243 105.1C245.8 102.4 248.6 99.2 251.4 96.6C254.2 94 255.9 93.1 259.8 89.6C263.6 86 269.5 80.2 274.4 75.4C279.3 70.6 283.6 66.2 289 60.7C294.4 55.2 301.2 48.2 306.8 42.4C312.4 36.7 317.6 31.3 322.5 26.2C327.4 21.2 333.8 14.5 336.1 12.1" stroke="#d0e8b0" opacity="0.55"/>
<path d="M228.9 154.3C229.2 151.9 230.2 143.9 230.9 139.7C231.6 135.5 231.8 132.3 233 129.1C234.1 125.9 235.9 123.4 237.9 120.6C239.9 117.9 242.4 115.4 245 112.8C247.6 110.2 250.7 107.8 253.5 105.1C256.3 102.4 259.1 99.2 261.8 96.6C264.6 94 266.4 93.1 270.2 89.6C274 86 280 80.2 284.8 75.4C289.7 70.6 294.1 66.2 299.5 60.7C304.9 55.2 311.7 48.2 317.3 42.4C322.8 36.7 328.1 31.3 332.9 26.2C337.8 21.2 344.3 14.5 346.5 12.1" stroke="#d0e8b0" opacity="0.55"/>
<path d="M239.4 154.3C239.7 151.9 240.7 143.9 241.3 139.7C242 135.5 242.3 132.3 243.4 129.1C244.6 125.9 246.3 123.4 248.4 120.6C250.4 117.9 252.9 115.4 255.5 112.8C258.1 110.2 261.1 107.8 263.9 105.1C266.7 102.4 269.5 99.2 272.3 96.6C275.1 94 276.8 93.1 280.7 89.6C284.5 86 290.4 80.2 295.3 75.4C300.2 70.6 304.5 66.2 309.9 60.7C315.3 55.2 322.1 48.2 327.7 42.4C333.3 36.7 338.5 31.3 343.4 26.2C348.3 21.2 354.7 14.5 357 12.1" stroke="#d0e8b0" opacity="0.55"/>
<path d="M249.8 154.3C250.1 151.9 251.1 143.9 251.8 139.7C252.5 135.5 252.7 132.3 253.9 129.1C255.1 125.9 256.8 123.4 258.8 120.6C260.8 117.9 263.3 115.4 265.9 112.8C268.5 110.2 271.6 107.8 274.4 105.1C277.2 102.4 280 99.2 282.8 96.6C285.5 94 287.3 93.1 291.1 89.6C295 86 300.9 80.2 305.8 75.4C310.6 70.6 315 66.2 320.4 60.7C325.8 55.2 332.6 48.2 338.2 42.4C343.8 36.7 349 31.3 353.9 26.2C358.7 21.2 365.2 14.5 367.5 12.1" stroke="#d0e8b0" opacity="0.55"/>
<path d="M260.3 154.3C260.6 151.9 261.6 143.9 262.3 139.7C262.9 135.5 263.2 132.3 264.4 129.1C265.5 125.9 267.3 123.4 269.3 120.6C271.3 117.9 273.8 115.4 276.4 112.8C279 110.2 282 107.8 284.8 105.1C287.7 102.4 290.4 99.2 293.2 96.6C296 94 297.7 93.1 301.6 89.6C305.4 86 311.3 80.2 316.2 75.4C321.1 70.6 325.5 66.2 330.9 60.7C336.3 55.2 343.1 48.2 348.6 42.4C354.2 36.7 359.4 31.3 364.3 26.2C369.2 21.2 375.6 14.5 377.9 12.1" stroke="#d0e8b0" opacity="0.55"/>
</g>
<path d="M195.4 49.1h0M219.6 56.3h0M208.5 79h0" stroke="#b04a34" stroke-width="1.1" stroke-linecap="round" fill="none"/>
<path d="M85.8 51.5h0M189.7 56.9h0M84.9 74.1h0M123.5 141h0" stroke="#c85a3a" stroke-width="1.1" stroke-linecap="round" fill="none"/>
<path d="M232.5 62.4h0M202.2 74.9h0M99.9 76.7h0M206.3 78.2h0M148.9 91.8h0M163 102.1h0M149.2 108.9h0M181.5 109.6h0M161.5 112.7h0M121.9 130.5h0M184.9 133.1h0M192.7 140.6h0M139.3 153.3h0" stroke="#dc6a40" stroke-width="1.1" stroke-linecap="round" fill="none"/>
<path d="M207.5 77.5h0M176 78.2h0M147.9 93.6h0M174.8 95.1h0M184 98.3h0M184.4 111.4h0M146.5 114.8h0M128.8 117.7h0M167 117.9h0M131 120.6h0M135.3 125.9h0M131.1 126.7h0M159 142.4h0M157.4 145.7h0M175.8 148.9h0M149.5 159.8h0" stroke="#e88048" stroke-width="1.1" stroke-linecap="round" fill="none"/>
<path d="M190.6 40.9h0M208.8 74h0M214.5 74.1h0M209 77.3h0M168 77.7h0M198 78.6h0M161.5 80.5h0M191.4 80.8h0M191.5 83.3h0M149.6 84h0M152.7 91.8h0M165.9 111.3h0M163 113.5h0M140.3 116.2h0M171 115.5h0M133.4 118.7h0M127.9 120.4h0M161.7 121.3h0M161.1 121.6h0M197.8 121.8h0M152.1 130.5h0M143.6 133.6h0M130.7 137.4h0M130 149.6h0M119.2 154.3h0M120.7 156.2h0" stroke="#f09850" stroke-width="1.1" stroke-linecap="round" fill="none"/>
<path d="M156.5 92.4h0M143.3 93.6h0M155.5 95.5h0M146.5 96.5h0M167.7 98.7h0M156.6 99.8h0M148.5 100.5h0M179 101.1h0M143.8 106.8h0M186.1 110.9h0M143.9 114.8h0M166.9 115.7h0M126.9 118.6h0M143.2 119.1h0M151.2 119.1h0M126.8 120.5h0M125.8 121.4h0M143.8 121.7h0M196 123.3h0M124.5 127.4h0M75.2 134.6h0M124 134.8h0M176.8 137.4h0M186.8 137.7h0M129.5 144.5h0M122.4 146.4h0M136.8 145.7h0M168.1 145.7h0M130.2 153.3h0M130.6 157.5h0M124.4 159.6h0" stroke="#f5b058" stroke-width="1.1" stroke-linecap="round" fill="none"/>
<path d="M207.4 46.9h0M202.4 75.4h0M159.9 77.6h0M164.1 77.5h0M157.3 78.9h0M155.5 80.2h0M209.4 81.4h0M148.9 82.3h0M206.7 82h0M203.6 84.9h0M147.3 89.6h0M152.1 92.1h0M157.4 93.6h0M154.9 95.3h0M167.1 94.6h0M142.8 96.3h0M154.9 95.5h0M156.8 96.2h0M148 97.9h0M164 99.5h0M173.2 105.3h0M148.8 106.4h0M164.4 109.3h0M147.3 111.3h0M136.9 112.2h0M138.2 111.7h0M144 112.1h0M147.7 112.6h0M140.1 116.2h0M136 116.8h0M150.3 120.4h0M131.6 126.3h0M183.1 126.5h0M199.6 127.8h0M124.8 130.7h0M124.3 137.7h0M122.1 138.7h0M122.1 141.9h0M158.5 145.3h0M123.1 149h0M135.6 148.7h0M135.8 149.2h0M122.8 152.2h0M133.8 152.2h0M128 153.1h0M123.8 155.8h0M125.3 156.3h0M134 156.5h0M129.7 158.1h0M126.9 158.9h0M134.1 158.9h0M132.8 161h0M136.3 160.9h0" stroke="#f7c860" stroke-width="1.1" stroke-linecap="round" fill="none"/>
<path d="M166.7 67.3h0M159.7 76.9h0M176.7 76.8h0M208.3 77.5h0M158.3 77.6h0M156 79.8h0M164.7 80.1h0M87.9 82.7h0M165.4 84.1h0M161.9 85.6h0M151.5 86.6h0M153.2 87h0M152.8 88.3h0M153.7 88.2h0M162.1 88h0M163.7 87.9h0M166.3 89h0M170.4 89h0M170.6 88.8h0M145.4 89.7h0M172.8 90.4h0M161.2 92h0M166.6 92.8h0M143.4 94.2h0M146.8 95.7h0M152 96.3h0M153.4 96.4h0M159.3 96.7h0M158.7 97.6h0M158.9 99.2h0M159 98.9h0M147.3 99.9h0M147.5 99.9h0M148 100.1h0M155.2 100h0M169.2 100.5h0M169.5 99.9h0M146.6 100.7h0M146.5 101.6h0M159.4 103.4h0M161.5 102.7h0M166.7 102.9h0M147.8 104h0M167.1 103.9h0M145.5 106.1h0M146.4 107.3h0M151.3 107.6h0M157.6 107.7h0M146.6 108.6h0M155.2 109.3h0M181.2 109.7h0M181.8 109.6h0M139.5 111.5h0M141 115.2h0M146.1 114.9h0M147.3 115.2h0M185.1 115.7h0M193.3 117.6h0M134.8 119.3h0M132.6 121.2h0M128.7 121.6h0M176.2 125h0M123.7 125.7h0M127.7 128h0M126 134.7h0M125.4 138.3h0M143.5 137.5h0M123.7 138.6h0M127 140.2h0M125.1 141h0M122.8 141.8h0M130 142.1h0M125.9 144.8h0M130.6 145.2h0M124 145.6h0M135.8 147.4h0M133.5 148h0M121.4 148.9h0M130 148.6h0M120.5 150.1h0M132.5 150.2h0M135.5 150.1h0M137.7 150.3h0M121.4 152.1h0M128.3 151.9h0M137 152.5h0M137.8 151.9h0M125 152.9h0M129.6 152.7h0M135.4 154.1h0M122.1 154.6h0M131.3 155.1h0M133.9 155.4h0M135.1 154.6h0M123.1 156.2h0M135.2 156.5h0M126.2 157.8h0M128.2 160.1h0M138.2 159.9h0M134.9 161.3h0M133.2 162.1h0M125.1 163.4h0M132.8 162.8h0M130.3 164.3h0" stroke="#f7dc68" stroke-width="1.1" stroke-linecap="round" fill="none"/>
<path d="M196.6 33.3h0M194.1 60.3h0M171.7 68.5h0M165 77.7h0M166.5 78.8h0M207.9 79.2h0M161.5 80.3h0M167.9 79.7h0M172.9 80.1h0M157.2 80.8h0M162.4 84h0M165.2 84.4h0M163.8 84.6h0M166.4 85.1h0M159.2 86.8h0M201.9 87.1h0M150 87.7h0M163.4 87.5h0M164.8 89.2h0M146.4 90.1h0M162.3 90.3h0M150.3 91h0M143.5 92.3h0M145.5 92.3h0M144 93.2h0M147.9 92.7h0M142.7 94.5h0M147.3 94.4h0M166.4 93.7h0M166.7 94.3h0M168.6 94h0M170.7 94.3h0M157.8 94.7h0M159.5 95.3h0M169.5 95.1h0M147.2 97.3h0M157 97.4h0M147.4 98.1h0M156.4 97.7h0M157.6 97.6h0M169 97.7h0M157.6 99.5h0M161.1 100h0M161.4 100.4h0M161.9 100.3h0M147.3 101.5h0M158.2 100.9h0M153.9 103h0M160.8 103.1h0M160.9 104.4h0M161 103.7h0M163.5 104.7h0M147.5 106.1h0M156 106.2h0M158.3 105.9h0M160.8 106.4h0M170.5 105.7h0M147.9 106.7h0M151.8 107h0M158.3 106.7h0M167.7 107.3h0M154 108h0M161.4 109.2h0M159.6 110.2h0M160.4 109.6h0M160.6 110.2h0M156.3 110.7h0M156.7 110.7h0M146.9 113.6h0M160.9 115.4h0M128.2 117.9h0M128.4 118.4h0M128.5 117.7h0M149.8 117.7h0M131.7 125.5h0M131.8 126.8h0M123.5 131h0M125.5 131.4h0M128.8 131.5h0M127.4 134.1h0M123.7 136.2h0M124.3 136.5h0M124.6 137.4h0M127.8 137h0M142.9 137.2h0M137.3 137.5h0M125.7 139.2h0M126.3 139.3h0M135.9 139h0M136 140h0M123.8 140.8h0M132 141h0M123.4 143.4h0M126.2 142.5h0M129.8 143h0M133.6 143.3h0M123.7 143.6h0M129.9 144.4h0M135.2 143.8h0M128.3 145.5h0M134.8 144.5h0M125.5 146.9h0M126.8 147.1h0M130 147.5h0M121.2 148h0M132 147.8h0M132.1 147.9h0M130.7 148.8h0M119.6 150.2h0M132.9 149.7h0M128.9 151.8h0M124.8 152.9h0M124.9 152.9h0M127.5 152.7h0M135.3 153.1h0M121.8 154h0M129.8 154.3h0M137.6 153.9h0M121.8 155.3h0M126 154.9h0M132.9 155h0M123.5 155.8h0M128.3 156.5h0M129.6 156.5h0M139.2 156.4h0M123.4 156.8h0M125.8 157.2h0M123.5 158.3h0M124.3 157.8h0M133 158.3h0M125.5 158.9h0M123.4 160.5h0M126.2 159.6h0M133.4 160h0M129 160.6h0M131.2 160.6h0M125.6 162.7h0M132.3 162.5h0M130.2 164.1h0M131.6 163.7h0" stroke="#f2ea6e" stroke-width="1.1" stroke-linecap="round" fill="none"/>
<path d="M213.9 35.9h0M170.7 70.7h0M183.8 74.3h0M203.7 75.4h0M171.1 76.5h0M177.9 76.7h0M165.6 78h0M171.6 78.5h0M155 79h0M173.5 79.4h0M164.8 79.7h0M165.4 80.5h0M170.9 79.5h0M177.9 79.6h0M162.2 81.5h0M179.3 80.5h0M202.5 82.4h0M168.6 83.1h0M170.1 83.3h0M157.3 84.2h0M171.1 83.9h0M205.2 83.8h0M171.3 85h0M171 85.5h0M168.5 86.8h0M168.8 86.8h0M171.4 87.1h0M150.8 87.7h0M163.9 88.2h0M163.7 89.3h0M163.5 90.5h0M145.9 91.4h0M150 90.6h0M162.9 90.9h0M164.2 91.4h0M158.8 92.3h0M159.1 92.1h0M159.9 92.3h0M170.9 91.5h0M144 94.2h0M151.1 93.7h0M163.6 93.9h0M164.7 94.2h0M167.5 93.6h0M168.1 94h0M171.1 94.1h0M147.1 95.1h0M148.2 95.4h0M155 94.8h0M157.2 95.2h0M157.5 94.9h0M157.9 95.4h0M164.1 94.7h0M195.4 94.9h0M145.9 96.5h0M159.9 95.6h0M167.7 96.1h0M168.3 96.4h0M145.5 97.4h0M155.5 96.5h0M164.5 96.6h0M164.9 97.2h0M171.4 97.2h0M156.8 97.5h0M162.3 97.7h0M146.2 98.8h0M146.8 99.2h0M153.1 99.4h0M156.7 98.7h0M160.6 99.4h0M164.1 99h0M170.9 99.4h0M156.3 100.4h0M158.9 99.8h0M162.7 99.5h0M171.3 100.4h0M171.9 100.2h0M172.1 100.3h0M155 100.9h0M172.4 101.3h0M153.5 101.8h0M158.1 102.3h0M158.8 101.8h0M163.3 101.7h0M158 103.1h0M164.2 103.2h0M156.6 103.6h0M160.2 104h0M162.5 104.4h0M171.6 104.2h0M171.9 103.6h0M159.6 104.7h0M163.1 104.6h0M150.1 106.4h0M160 105.7h0M169 106h0M154.4 107.1h0M155.8 107.4h0M158.1 106.7h0M159.9 107.4h0M160.7 107.2h0M151.2 108h0M153.4 108.3h0M160.9 107.7h0M161.2 107.6h0M153.6 109.3h0M155.9 109.1h0M157.4 109.5h0M159.3 109.1h0M160.3 109.5h0M162 109.1h0M148.7 110.3h0M152.4 110.3h0M155.4 110.1h0M160.3 110h0M146.4 111.4h0M158.4 111.1h0M150.7 113.5h0M137.6 114h0M156.6 113.9h0M151 115h0M155.1 114.6h0M136.2 115.8h0M144 115.6h0M72.3 116.6h0M155.6 117.9h0M150.7 119.2h0M139.3 120h0M129.3 121.4h0M144.8 120.8h0M143.8 122.7h0M135.4 124.9h0M136.4 125.1h0M137.1 130.1h0M144.3 131.5h0M147 130.5h0M130.3 134.1h0M128 136.3h0M135.7 135.7h0M146.3 135.7h0M124.3 137.3h0M129.4 137h0M101.4 137.7h0M135.8 138.1h0M136.3 139.2h0M142.1 138.9h0M146.1 138.9h0M127.6 140.6h0M129.8 142h0M134.2 142.4h0M125.5 142.9h0M128.5 143.3h0M131.6 143.3h0M123.1 143.6h0M123.7 144.1h0M126.5 144.1h0M127.2 145.4h0M123.8 146.5h0M131 147h0M125.7 149h0M128.3 148.8h0M133 149.2h0M120.2 149.6h0M136 149.9h0M123.8 151h0M136 151.3h0M120.4 152.1h0M121.7 151.6h0M126.1 151.5h0M120.8 152.9h0M125.5 154.5h0M126.7 154h0M136 153.8h0M126.5 155.1h0M131 154.6h0M135.5 154.7h0M135.1 156.1h0M134.7 156.8h0M130.2 158.2h0M130.8 157.8h0M135.8 157.8h0M128.3 158.8h0M124.1 159.5h0M132.5 159.8h0M124.9 161h0M125.6 160.9h0M126.3 161.9h0M126.3 162.9h0M129.8 162.9h0M130.4 163.8h0M129.6 165.8h0M157.1 178.8h0" stroke="#dde26a" stroke-width="1.1" stroke-linecap="round" fill="none"/>
<path d="M204.5 24.8h0M206.7 73.2h0M185.1 75h0M160 76.5h0M166.2 75.7h0M158.5 77.1h0M172.6 77.5h0M180.9 77.2h0M203.2 77.1h0M162.8 78.1h0M172.8 78.1h0M183.1 78.2h0M186.5 78.3h0M174.3 80.4h0M187 79.8h0M193.3 79.9h0M201.5 79.6h0M170.4 81.1h0M174.5 81.4h0M176.4 81.3h0M177.7 81.4h0M182 81.1h0M186.5 81.5h0M162.9 82.3h0M166.7 82.1h0M172.2 82.2h0M176.4 82.3h0M178.3 82h0M178.9 82.3h0M190 81.8h0M190.5 82.2h0M164.3 82.5h0M174.1 83.3h0M174.3 83h0M185.4 83.2h0M185.6 83.2h0M192.9 82.6h0M159.5 83.6h0M171.1 83.9h0M178.2 84h0M184.5 83.9h0M166.9 85.2h0M168.5 85.1h0M171.4 85.4h0M172.6 84.9h0M179.5 84.9h0M180.1 85.2h0M168.2 85.9h0M170.1 85.7h0M173.4 85.7h0M170.6 87.4h0M172.5 86.7h0M174.4 86.9h0M185.8 86.6h0M156.2 87.8h0M165.5 88.2h0M170 87.6h0M169.8 88.6h0M173.5 89.3h0M182.8 89.4h0M165.8 89.5h0M172.9 89.6h0M159.1 90.7h0M164.5 90.7h0M168.6 91.2h0M170.5 91.2h0M176 91.1h0M148.1 91.6h0M148.1 92.4h0M153 92.3h0M157.5 91.6h0M168.8 92h0M145.7 93.4h0M147.1 92.7h0M159.1 93h0M161.8 92.6h0M167.2 93h0M180.5 93h0M145.9 94.1h0M158.4 93.8h0M158.7 94.3h0M159 93.6h0M177.7 94.3h0M154.7 94.8h0M156.2 94.9h0M164.7 95.1h0M168.3 95h0M170.8 95h0M178.8 94.6h0M186.3 94.5h0M145.5 95.7h0M155.1 96.3h0M163.6 96.4h0M164 95.7h0M166.1 95.7h0M169.9 95.8h0M149.4 97.7h0M146.1 98.7h0M155.3 99.3h0M160.8 99.4h0M169.4 99.3h0M182 98.8h0M182.5 99.1h0M158.1 99.6h0M162.9 99.6h0M169.8 100.5h0M171.4 100.2h0M147.6 101.1h0M147.9 101.4h0M155.5 101.2h0M166.9 100.9h0M169 100.6h0M169.8 101.2h0M171.6 101.1h0M155.2 101.8h0M160.2 102.1h0M171.5 101.8h0M161.6 103.3h0M164.6 103.4h0M168.3 103.3h0M160.2 104.4h0M193.4 103.7h0M161.8 104.6h0M168.9 105.1h0M185.9 104.9h0M158.2 107.4h0M162.4 107.2h0M162.6 107.4h0M163.2 107h0M164.9 107.2h0M167.7 107.1h0M175.2 106.8h0M193.8 107.1h0M151.7 108h0M161.5 108.2h0M163.5 107.7h0M163.8 107.5h0M164.9 108.5h0M165.3 107.9h0M151.9 108.6h0M152.9 108.5h0M156.2 109.4h0M157.1 109h0M158.8 109.1h0M181.7 109.1h0M154 110.3h0M192 109.9h0M155.3 110.8h0M150.1 112.5h0M151 111.7h0M152.6 112.4h0M157.9 112.4h0M156.3 113.3h0M158.3 112.9h0M161.2 113h0M156.6 115.2h0M161.1 114.7h0M162.8 115h0M156.6 116.1h0M141.5 117.8h0M150.1 118.2h0M158.7 118h0M145.7 118.6h0M153.1 119.1h0M176.8 118.8h0M139.5 120h0M152.8 119.8h0M137.3 121.3h0M139.4 121.4h0M135.8 121.8h0M136.2 121.9h0M147.5 122.3h0M147.7 121.9h0M130.5 122.5h0M138.7 124.5h0M142.2 125.1h0M139.6 125.6h0M146.5 126.1h0M137.3 126.8h0M137.9 126.8h0M143.3 127.5h0M147.2 126.6h0M137.4 128.2h0M141.8 128.5h0M136.5 129.2h0M136.8 129.6h0M138.9 129.9h0M142.3 129.8h0M142.1 131.5h0M135.4 131.9h0M139.1 131.5h0M141.1 131.8h0M146.1 132.2h0M147.1 132.3h0M127.2 132.9h0M137.3 133.3h0M142.2 132.6h0M143 133h0M143.5 133.2h0M144.4 132.6h0M146 133.2h0M144.1 134.5h0M144.6 134.1h0M145.4 135.3h0M145.4 135.3h0M145.9 135h0M165 135.2h0M140.9 136.3h0M140.9 135.9h0M141.5 135.6h0M165.1 135.6h0M125.9 137h0M140.1 137.1h0M142.8 136.9h0M147.5 137h0M147.8 136.7h0M140.8 137.9h0M146.3 138.4h0M162.2 138.2h0M122.3 139.5h0M131.5 139.3h0M165.6 138.7h0M134.8 140.3h0M136.7 141h0M132.2 145.4h0M121.9 148.7h0M136.7 149.4h0M121.3 149.8h0M130.3 149.9h0M136.7 150h0M121 151h0M123.6 151.2h0M131.1 150.8h0M132.3 150.7h0M123.5 152.3h0M134.3 152.1h0M137.1 152.3h0M128.6 155h0M131.6 155.1h0M132.8 155.9h0M124.9 156.9h0M136.2 157.2h0M128.1 161.7h0M130.9 161.8h0M125.1 163h0M130.6 162.9h0M130.4 163.8h0" stroke="#bcd468" stroke-width="1.1" stroke-linecap="round" fill="none"/>
<path d="M189.8 65.1h0M170.4 73.3h0M185.6 75.4h0M162 76.3h0M178.8 76h0M179.9 76.3h0M180.3 76.1h0M159.2 77h0M173.9 77.1h0M175.3 76.9h0M177.8 77.2h0M182.2 77h0M182.6 76.9h0M185.9 76.5h0M187.8 77.3h0M173.1 77.7h0M176 77.5h0M178.7 77.9h0M179.5 77.8h0M183 78h0M177.8 78.6h0M180.7 78.9h0M184.5 78.6h0M186 79.2h0M188.9 78.6h0M171.4 80.3h0M173.9 80.4h0M176.9 79.9h0M182.1 80.3h0M190.4 80.3h0M170.1 81.4h0M170.9 80.8h0M172.2 80.9h0M172.5 80.9h0M173.3 81.2h0M174.5 81.3h0M176.8 81.4h0M182.4 80.7h0M183.4 81.3h0M152.5 82h0M154.2 82.3h0M170.1 81.6h0M170.5 81.9h0M171.8 81.7h0M177.4 82.2h0M181.9 81.8h0M155.2 82.7h0M171.8 83.3h0M175.3 82.6h0M186.4 83.4h0M175.1 84h0M180.5 83.9h0M181.2 83.6h0M181.5 84h0M184 83.7h0M186.9 83.6h0M188.2 83.7h0M148.1 84.8h0M166.5 85h0M166.8 84.9h0M176.8 85.3h0M186.7 84.8h0M188.1 85.2h0M188.8 85.1h0M173.6 86.2h0M173.8 86.1h0M179 86.2h0M182.1 86.3h0M182.4 86.5h0M183.9 85.6h0M187.8 85.9h0M167.9 87h0M168.7 87.4h0M170.5 87h0M173.6 87.5h0M177 87.3h0M166 88.5h0M167.4 87.6h0M171 88.2h0M175.1 87.8h0M148.8 89.4h0M167.3 88.8h0M168.3 88.8h0M169.9 89.2h0M171 89.1h0M181.5 89.1h0M166.5 90.3h0M176.8 89.9h0M179.2 89.5h0M180.5 90.4h0M145.5 91h0M179 91.4h0M154.6 92.2h0M166.7 92h0M168.2 92.2h0M169.9 91.7h0M172.4 92h0M179.1 92.2h0M182 91.6h0M182.9 92.4h0M159.5 92.6h0M175.2 93.4h0M179.2 92.6h0M181.9 93.1h0M182.2 92.9h0M182.7 92.7h0M147.5 94.4h0M150.7 93.7h0M158.3 93.7h0M174.6 94.3h0M178.6 94.5h0M180.5 94.5h0M183.5 93.9h0M184.1 94.1h0M152.4 95.5h0M159.5 94.7h0M168.1 94.8h0M176 94.5h0M181.3 95h0M185.6 95h0M196 94.8h0M196.3 94.8h0M196.9 95.4h0M145.1 95.9h0M164 96h0M166.3 96.4h0M166.9 96.3h0M183 96.3h0M152.7 97h0M158.4 97.4h0M160.3 96.6h0M161.3 97h0M177.9 96.5h0M178.7 96.8h0M184.4 97.2h0M186.5 96.6h0M186 97.6h0M153.8 98.7h0M165.3 98.6h0M167 99.3h0M168.8 98.9h0M152.9 100h0M153.9 100h0M163.5 99.5h0M166.4 100.3h0M168.8 100.1h0M169.4 99.6h0M198.6 99.8h0M162.4 101.3h0M181.4 100.9h0M183.5 101.2h0M188.8 101.3h0M149.3 102.5h0M156.2 101.7h0M159.1 102.3h0M163.2 102.5h0M165.2 102.3h0M178.3 102.2h0M184 102.2h0M164.3 103h0M164.4 102.9h0M164.6 103h0M176.5 102.6h0M156.8 104.1h0M161.9 103.7h0M174.2 104h0M177.6 103.7h0M179.3 103.5h0M165.4 104.5h0M168.4 105.4h0M183.3 104.6h0M183.4 105.3h0M193 104.9h0M162.3 106.5h0M165.9 105.8h0M180.5 106h0M187.5 105.6h0M189.9 106.2h0M158.1 107.4h0M158.8 107.1h0M164.2 107.5h0M164.9 106.9h0M165.6 107.5h0M167.6 107.1h0M186.3 106.6h0M150.9 108.4h0M173 108.1h0M175.9 107.5h0M176.4 108.2h0M180 108.4h0M182.3 107.7h0M185.6 107.7h0M142.1 108.9h0M150.9 108.6h0M156.8 109.4h0M158.5 109h0M159.6 108.8h0M173.8 109.2h0M182.8 108.8h0M173.1 109.9h0M177 110.1h0M177.1 109.9h0M179.2 110.4h0M190.9 109.5h0M155.1 111h0M191.6 110.8h0M178 111.7h0M188.4 112.1h0M160.3 113.1h0M172.5 113.3h0M172.8 113.3h0M195.4 113.5h0M151.1 114.1h0M151.6 114.4h0M159.5 114.1h0M161.5 113.7h0M162.5 113.9h0M178.1 113.8h0M140.5 115.1h0M153.4 115.5h0M155 114.9h0M158.2 115h0M159.8 114.9h0M160.2 114.6h0M163.5 115.4h0M156.8 115.8h0M157 115.6h0M158.8 116.3h0M162 115.7h0M174.6 115.5h0M154.9 117.5h0M155.5 116.9h0M160.5 116.9h0M181.7 116.7h0M189.4 116.7h0M195.1 117.2h0M158.8 118h0M141.9 119.4h0M138.7 119.7h0M142 119.9h0M146.6 119.6h0M137.9 121h0M145.7 121.1h0M147.9 121h0M149.5 121.5h0M139.7 122.4h0M189.4 122.2h0M198.5 122.3h0M198.9 121.6h0M136.7 122.5h0M136.9 123.3h0M198.2 122.9h0M134 123.6h0M134.9 124.2h0M141.3 124.3h0M143.3 123.8h0M149 124.1h0M198.1 124.1h0M134.4 125.4h0M134.7 125.2h0M139 125.4h0M141.9 124.7h0M146.6 124.9h0M136.8 125.7h0M137.7 126.2h0M138.8 126.2h0M139.4 126.2h0M144.3 125.6h0M145.9 125.5h0M146 126.3h0M146.5 126.4h0M146.5 125.7h0M193.5 126.1h0M194.5 125.7h0M138.2 126.6h0M140.9 126.5h0M142.4 127.1h0M147.5 127.4h0M170.1 126.5h0M134.1 128.4h0M136.9 128.4h0M143.6 128h0M145.8 128.2h0M197 127.7h0M134.4 128.8h0M138.9 129.1h0M139.6 128.9h0M140.7 129.5h0M143.2 128.7h0M147.8 128.6h0M136.4 129.8h0M140.3 130.4h0M142.4 129.6h0M143.8 129.8h0M146.5 130.3h0M147.8 130h0M140 131.5h0M145.2 131.1h0M146.1 130.9h0M146.2 130.8h0M146.6 131.5h0M170.5 131.5h0M196.4 131.1h0M135.4 132h0M138.7 132h0M144.5 132.5h0M146.1 131.8h0M146.6 131.8h0M146.6 132.4h0M147.1 131.6h0M183.3 131.7h0M137.8 133.5h0M138.6 132.7h0M141.9 132.7h0M143.3 132.9h0M146.3 132.7h0M170.6 132.9h0M172.1 132.7h0M193.1 132.7h0M199.2 133.3h0M138.9 133.5h0M139.6 133.9h0M145.3 133.7h0M167.8 133.8h0M142.6 134.6h0M147.8 135.1h0M163.1 134.9h0M164.2 134.8h0M168.3 135.2h0M129.7 135.6h0M140.4 135.7h0M144.2 136.3h0M145.5 135.9h0M147.5 135.8h0M147.6 136.3h0M165.8 135.6h0M195.4 136.3h0M196.7 136.1h0M198.1 136.2h0M144.3 137.2h0M144.9 137h0M145.5 137.4h0M147.3 136.7h0M147.9 136.9h0M196.2 137.2h0M138.8 138.2h0M142.8 138.3h0M143.6 138.1h0M143.8 138h0M144.2 138.3h0M146.6 137.7h0M147.6 137.9h0M159.9 137.8h0M165.7 138.1h0M165.7 138.5h0M125.3 138.6h0M139.7 139.3h0M144.1 138.8h0M165.2 139.3h0M168.5 139.5h0M123 140.2h0M124.3 140.3h0M143.1 139.5h0M147.5 139.8h0M164.6 139.5h0M195.6 140.1h0M164.4 140.6h0M124.1 142.3h0M128.2 142.2h0M136 142.7h0M167.4 142.8h0M122.3 144.7h0M129.2 146.3h0M130.8 146.5h0M152.3 146.5h0M176.6 146.4h0M147.2 147.5h0M131.6 147.8h0M133 147.9h0M174.1 148.2h0M129.9 149.1h0M144.8 151.3h0M121.5 152.6h0M128.4 152.9h0M140.1 153.3h0M141.5 153h0M157.9 152.8h0M120.6 154h0M125.1 154h0M152.7 154.1h0M176.2 154.1h0M141 155.1h0M152 154.8h0M163.5 155.1h0M169.7 155.1h0M173.9 155.5h0M175.7 155.2h0M175.7 155.9h0M151.8 156.7h0M173.2 156.7h0M127.3 157.9h0M139.9 159.1h0M168 159.3h0M170.1 159.4h0M124.6 160.5h0M127.8 160.2h0M130.7 160.1h0M167.9 160.5h0M171.8 160.2h0M132.3 160.8h0M161.5 160.9h0M129.9 161.6h0M132.2 161.7h0M161 161.8h0M164.1 161.7h0M129.5 162.6h0M161.7 163.4h0M162.2 162.9h0M153.8 164.9h0M161.1 172.8h0M156.5 173.8h0" stroke="#94c060" stroke-width="1.1" stroke-linecap="round" fill="none"/>
<path d="M183.9 74.4h0M176.9 75.3h0M180.2 75.2h0M182.2 75.4h0M184 75.4h0M177.6 76.4h0M177.9 76h0M181.5 76.1h0M183 76.1h0M175.3 76.9h0M181.9 76.9h0M184.7 77.4h0M188.2 77h0M176.5 78.5h0M180.7 78.1h0M184.1 78.5h0M187.6 78.4h0M188.8 77.5h0M188.9 78.4h0M189.7 78.1h0M174.3 78.9h0M174.4 78.8h0M175.1 79.2h0M176 78.7h0M177 79.4h0M178 79.3h0M179.5 79h0M179.9 78.7h0M181 78.9h0M181.8 79.3h0M187.9 78.6h0M188.1 79.2h0M189.7 79.1h0M156.1 80.2h0M178.9 79.6h0M179.3 79.7h0M185.9 79.9h0M173.5 81h0M173.9 81.3h0M174.2 80.6h0M175.5 81.2h0M179.1 81.1h0M180.1 80.8h0M180.3 81h0M183.5 80.6h0M185.6 81.1h0M188.4 80.8h0M190 80.6h0M190.3 81.2h0M170.8 82.2h0M172.6 81.8h0M176.7 82.3h0M177.2 81.5h0M177.7 81.5h0M185.1 81.8h0M186 81.6h0M173.5 82.5h0M176.9 82.7h0M178.9 83.4h0M188.8 83.4h0M189.4 83h0M191.2 83.2h0M163.9 83.7h0M169.3 84.4h0M173.2 84.5h0M174.5 84.4h0M178.1 83.5h0M184.4 83.9h0M186.9 84.1h0M187.2 84.3h0M188.1 84.4h0M191.2 84h0M191.3 84.3h0M175.3 84.5h0M176.9 85.2h0M177.3 85.4h0M178.1 84.9h0M183 85.5h0M185.1 84.6h0M185.1 85.3h0M187.4 85.3h0M190.7 85h0M173.6 86.2h0M174.1 85.8h0M177.2 86.4h0M178.6 85.9h0M178.8 85.8h0M178.9 85.5h0M179.3 86.1h0M181.6 86.2h0M185.9 85.7h0M188.5 85.9h0M188.9 86.1h0M189.3 86.2h0M170.3 87.3h0M174.7 86.8h0M177.3 87.2h0M185 87.4h0M185.5 87.3h0M186.5 86.9h0M174.4 88.3h0M177.7 87.5h0M179.1 87.7h0M181.9 87.8h0M186.4 88.2h0M164 88.8h0M171.9 88.7h0M179.3 88.9h0M180.5 89.3h0M180.8 88.8h0M180.9 88.7h0M183.3 89.5h0M184 88.5h0M188.5 88.6h0M166.1 89.7h0M168.1 90.1h0M172.5 89.5h0M173.9 89.7h0M183.4 89.6h0M184.7 89.9h0M186.6 90.2h0M163.1 91.2h0M178.2 91.3h0M178.2 90.7h0M178.6 91h0M179.6 91.1h0M181.2 90.9h0M182.6 91.4h0M183 90.9h0M183.4 91h0M175.6 92.5h0M176.6 91.8h0M176.7 92h0M177.1 91.5h0M178.7 92h0M180.5 91.7h0M181.1 92.3h0M181.7 91.5h0M182.2 91.9h0M186.9 92.1h0M164.4 93.3h0M172.8 92.8h0M172.8 93.3h0M178.3 92.9h0M179 93h0M180.4 93.5h0M185.3 93.1h0M186.6 93.2h0M156.7 94.2h0M179.6 94.3h0M181.1 93.5h0M182.1 94h0M184.4 93.7h0M185.9 94.4h0M187.6 94.1h0M188.1 93.8h0M163.9 94.8h0M176.1 95.1h0M181.8 95h0M183.2 95h0M185.3 95.4h0M186.5 94.8h0M187.3 95.1h0M187.8 95.1h0M190.1 95.3h0M191.4 94.9h0M191.9 94.5h0M193.6 95h0M193.7 95.1h0M194.9 95.1h0M195.7 94.6h0M197.7 94.7h0M166.9 95.5h0M177 96.1h0M184.8 95.8h0M184.8 95.7h0M186.3 95.9h0M188.1 96.2h0M188.9 96.2h0M192.6 95.7h0M194.3 95.9h0M195.3 96h0M196.3 95.8h0M197.3 96.3h0M197.7 95.7h0M199.3 96.3h0M160.7 96.8h0M170.5 96.8h0M172.7 97h0M180.8 97.4h0M181.5 97.2h0M186 97.1h0M186.9 97.1h0M188.5 96.7h0M189.2 97.1h0M198.2 97.5h0M200.1 97.1h0M178.4 97.8h0M179 97.9h0M179.3 98.4h0M180 98.5h0M185 97.9h0M189.4 98h0M191.7 97.8h0M192.4 97.5h0M199.7 97.6h0M160.8 99.3h0M175.6 99.4h0M176.2 99h0M183 99.2h0M185.4 99.2h0M186.2 99.4h0M192.4 99.1h0M193.2 99.2h0M165.7 99.9h0M172.9 100.1h0M177.6 99.6h0M178 99.6h0M180.6 100h0M183.1 99.8h0M184.1 99.7h0M196.2 100.3h0M162.3 101.3h0M176.4 100.6h0M180.9 100.7h0M169.4 102.2h0M174 101.6h0M176.3 102.2h0M180.5 101.7h0M182.5 102.1h0M184.9 101.7h0M185.3 102.3h0M189.5 101.6h0M157.5 102.6h0M158.3 102.6h0M173.3 103.1h0M177.3 103.1h0M177.7 102.5h0M179.4 102.5h0M181.6 102.9h0M163.5 104h0M171.6 104.4h0M181.3 103.9h0M184 104.4h0M185.4 103.7h0M190.3 103.8h0M162.6 104.9h0M169.8 104.9h0M170.8 104.8h0M176.2 104.9h0M176.4 105.1h0M180 105.2h0M185.5 104.5h0M185.5 105.1h0M188.8 105.5h0M180.4 106.2h0M182.5 106.3h0M182.8 106h0M184.1 106.1h0M185.8 105.5h0M192.4 106.3h0M192.9 105.8h0M159.5 106.5h0M161 107h0M174.4 107.2h0M174.8 106.8h0M180.6 107.4h0M183.3 106.6h0M184 107.5h0M188.7 107.4h0M188.8 106.5h0M190.4 106.9h0M190.4 107.1h0M158.4 107.7h0M179 108.2h0M185.5 108.2h0M185.6 108h0M189.3 108.2h0M165.8 108.5h0M166.6 109.1h0M174.8 108.9h0M176.4 109.4h0M178.5 108.7h0M178.7 109.3h0M182.3 108.8h0M189.2 108.7h0M193 109.3h0M174.4 109.6h0M178.7 109.5h0M179.3 109.8h0M183.2 110h0M194.1 110.5h0M152.4 111.1h0M162 111.3h0M176.5 110.7h0M180.1 111.2h0M180.1 110.8h0M182.3 110.6h0M183.2 110.7h0M189.6 111.4h0M191.5 110.7h0M150.3 112.1h0M150.7 112.4h0M153 112.4h0M155.2 111.9h0M160.1 111.7h0M171.3 112.4h0M174 111.5h0M174.8 112.5h0M175.2 111.8h0M175.9 112.4h0M179.6 112.5h0M180.3 111.8h0M181.7 112.2h0M184.4 111.9h0M185.7 112h0M185.9 111.9h0M188.5 111.5h0M151.7 112.8h0M152.1 112.7h0M157.9 112.5h0M159.2 112.8h0M160.7 112.6h0M176.7 112.9h0M182.1 113.4h0M183.4 112.8h0M189.8 112.5h0M191.6 112.9h0M194.4 113h0M158.7 113.8h0M172.1 114.3h0M179 114h0M188.3 114.2h0M194.3 113.6h0M150.8 114.8h0M153.3 115.2h0M157.1 115.4h0M159.6 115.1h0M161.3 115.2h0M178.4 114.8h0M182.7 114.6h0M188.9 115.4h0M160.5 115.8h0M172.9 116.2h0M175.7 115.7h0M178.2 115.8h0M182.8 115.7h0M189.1 116.3h0M192.4 116.4h0M147.7 117.4h0M155.2 116.7h0M189.7 116.5h0M195.2 117.4h0M153.2 117.9h0M155.9 118.3h0M185.3 118.5h0M185.6 117.6h0M139.4 119.3h0M152.4 119.3h0M197.9 118.9h0M136.9 120.4h0M138 120.4h0M145.3 119.5h0M146.2 119.8h0M179.6 119.6h0M185.6 120.2h0M191.1 119.6h0M138.6 120.6h0M153.4 120.7h0M155.7 121.1h0M145.1 122h0M145.3 121.9h0M152.1 121.9h0M157.4 122.5h0M174.6 122.4h0M175.8 122.5h0M177.8 122.3h0M186.4 121.7h0M195.6 121.6h0M199.3 121.8h0M135.5 123.5h0M155.3 122.6h0M180.2 122.6h0M184 123.1h0M196.3 122.7h0M196.9 122.8h0M199.7 122.8h0M137.7 124.1h0M145.6 123.6h0M193.7 123.6h0M139.9 125.3h0M140.4 125.1h0M143.4 124.6h0M146.4 124.7h0M175.9 124.9h0M182.9 124.7h0M189.4 125.5h0M195.8 125.1h0M197.1 124.5h0M198.1 125.3h0M199.5 125.1h0M133.9 125.9h0M135.7 126.5h0M136.1 125.9h0M137.3 126.2h0M138.3 125.8h0M141.4 125.7h0M147.5 126.2h0M147.5 125.6h0M147.6 125.7h0M178.8 126h0M197.5 125.8h0M132.3 126.9h0M140.9 126.6h0M145.6 127.2h0M146.4 127.4h0M147.8 127.2h0M165.9 127.3h0M194.9 126.9h0M201.3 127.2h0M137.6 127.7h0M141.4 127.7h0M142.3 128.2h0M142.6 128.5h0M184.6 128.2h0M186.3 127.7h0M196.2 127.7h0M196.4 128.1h0M135.1 128.9h0M136.6 128.8h0M136.7 129.1h0M138.8 128.7h0M139.4 128.6h0M139.5 128.7h0M140.7 128.9h0M143.2 128.9h0M147 129h0M147.2 129.1h0M184.8 128.8h0M189.4 129.5h0M189.5 129.1h0M200.8 128.5h0M134.2 129.8h0M137.3 130.3h0M143.5 129.6h0M145.1 130.3h0M145.4 129.6h0M146.5 130.3h0M193.8 129.9h0M196.8 130.3h0M197.1 130h0M139.3 130.9h0M141.8 131.3h0M143.1 130.8h0M144.5 130.5h0M146.5 131.3h0M164.2 130.8h0M180.2 130.8h0M192.9 131.1h0M135.6 131.9h0M136.5 131.5h0M136.7 132h0M140.7 131.8h0M145.6 131.7h0M147.2 132.5h0M147.4 132.1h0M147.7 132h0M166.3 132.5h0M189.6 132.4h0M197.4 131.9h0M144.7 132.7h0M145.3 132.7h0M147.2 133.2h0M147.5 133.1h0M163.7 133.1h0M168.7 133.1h0M184.5 133h0M185.5 133.4h0M191.9 132.5h0M194.2 133.1h0M197.4 132.6h0M199.7 132.6h0M137.9 134h0M138.6 133.9h0M139.6 134.4h0M141.9 134h0M142.5 134.4h0M145 134h0M145.5 134.4h0M147.5 134.5h0M164.6 133.9h0M168.1 134.4h0M169.2 133.8h0M194.1 133.7h0M195.1 134.4h0M195.7 134.5h0M195.9 133.8h0M198.1 133.6h0M198.5 134.3h0M199.5 134.1h0M199.8 134.5h0M138.2 135h0M142.3 135.2h0M145.2 135.1h0M145.7 134.8h0M159.9 135h0M161.1 134.7h0M165 135.2h0M194.8 135.2h0M196.4 134.6h0M143.3 136.2h0M143.5 135.5h0M145.2 135.7h0M146.9 136h0M147.9 135.6h0M160.1 136h0M163.4 135.9h0M163.7 135.7h0M164.1 135.9h0M164.8 135.7h0M165.3 136.5h0M172.6 136.1h0M173 135.8h0M193.4 135.6h0M197.3 136h0M141.3 137.3h0M142.8 136.7h0M143.4 137.3h0M145.7 137.1h0M147.4 137.1h0M147.9 137.3h0M152.7 136.8h0M157.9 136.7h0M160.3 137h0M161.8 137.2h0M164.1 137.1h0M179.7 136.8h0M185.8 136.6h0M189.9 136.7h0M139.8 137.9h0M145.2 138.3h0M146.9 138.1h0M147.4 138.2h0M160.5 137.8h0M165.7 138.3h0M167.2 138.3h0M170.2 138.1h0M140.2 139.2h0M146.8 138.9h0M147.2 139.4h0M165.5 139.1h0M166.1 139.4h0M170.4 138.7h0M174 138.5h0M193.9 139.1h0M194.2 138.8h0M143.1 139.7h0M165.9 140.5h0M168.1 139.9h0M168.8 140.1h0M192.5 140.5h0M193.3 140.5h0M150 141.3h0M160.6 140.6h0M164.2 140.7h0M170.1 141.3h0M149 142.1h0M181.3 141.9h0M160.4 143.3h0M135.9 143.6h0M147.8 143.8h0M154.1 144.1h0M150.9 145.1h0M155.4 144.9h0M175 145.4h0M184.1 145h0M149 145.9h0M170 146.1h0M177 146.2h0M173.5 146.5h0M177.4 147.3h0M178.3 146.8h0M179.8 146.8h0M126.6 147.8h0M146.7 148.4h0M149.4 147.6h0M151.4 147.8h0M152 147.7h0M171.1 148.2h0M183.7 148.4h0M187 148.1h0M144.8 149.3h0M149.3 148.6h0M154.3 148.6h0M156.7 149h0M179.1 148.9h0M183 149h0M179.1 150h0M146.9 151.2h0M154.2 151.1h0M157.5 150.7h0M187.7 151.2h0M135.2 152.4h0M142 151.9h0M151.1 152h0M152.7 152.1h0M170.8 151.6h0M175.7 152.3h0M143.7 152.7h0M145.3 152.9h0M146.7 152.9h0M159 153.1h0M170.8 153.2h0M174 152.9h0M174.6 152.7h0M176.4 153.1h0M181.8 152.7h0M148.4 154h0M156.9 153.5h0M161.5 153.6h0M178.1 153.7h0M144.6 154.7h0M150.2 155.1h0M151 154.9h0M153.2 154.7h0M155.5 155.3h0M166.8 154.9h0M168.2 154.9h0M171.1 155.2h0M179.3 154.5h0M133.1 156.4h0M140.4 155.7h0M146.3 156.2h0M146.3 156.3h0M177.3 156h0M141.7 156.6h0M166.2 157.4h0M166.7 156.6h0M169.6 156.9h0M177.9 157.3h0M141.6 157.9h0M157.4 157.6h0M165.9 158.5h0M171.6 158.3h0M172.3 157.5h0M173.7 158h0M174 157.8h0M175.7 158.1h0M176.6 157.8h0M177.3 157.5h0M178.9 158h0M152.8 158.7h0M153.2 159.1h0M172.7 158.9h0M173.8 159.5h0M174.7 159.3h0M175.3 158.6h0M153.2 160.1h0M167.1 160.1h0M170.6 159.8h0M171.7 160h0M174.6 159.6h0M165.6 160.9h0M168.4 161.2h0M168.9 160.8h0M171.6 160.5h0M161.6 161.6h0M166.3 162h0M166.5 161.6h0M166.8 162h0M164.3 162.7h0M166.7 162.6h0M168.9 162.7h0M164.5 164h0M155.9 164.9h0M160.9 170.1h0M162.4 172.7h0M159.2 173.7h0M156.2 174.9h0M158.5 174.9h0M160.4 175.2h0M156.5 176.4h0M157.7 175.9h0M155.3 177.4h0M158.7 178.1h0M159.2 178.3h0" stroke="#6aa855" stroke-width="1.1" stroke-linecap="round" fill="none"/>
<path d="M177.5 75.6h0M180 75.9h0M174 77.1h0M178.5 77h0M179.5 76.7h0M185.4 76.5h0M186.1 77h0M175.2 77.7h0M177.1 78.4h0M181 77.6h0M186.6 77.5h0M187.9 77.8h0M173.6 78.7h0M181.8 79.2h0M156.7 80.2h0M175.2 79.8h0M176.8 80.4h0M183.3 80.3h0M186.1 80h0M189.8 79.5h0M182.1 80.6h0M184.9 80.6h0M190.3 81.4h0M174.2 82.1h0M175.4 81.7h0M177.1 82.4h0M177.1 82.3h0M178.7 82.3h0M181.2 81.7h0M182.1 81.9h0M186.5 82.4h0M189.3 82.4h0M168.8 83.4h0M174.7 83.4h0M174.8 83.3h0M176.5 82.7h0M178.7 82.9h0M179.4 83.2h0M179.9 82.5h0M180.2 82.7h0M187.3 83.4h0M188.1 82.8h0M188.4 83.2h0M171.4 84.1h0M173.9 83.6h0M181.6 84.5h0M183.6 84.4h0M186.8 83.6h0M188.1 84.5h0M188.5 83.9h0M189.5 83.8h0M189.6 83.9h0M167 84.8h0M178.9 85.3h0M180 84.6h0M185.6 85.3h0M189.9 84.8h0M175.2 86.3h0M175.3 85.9h0M175.5 86.5h0M177.6 86.1h0M180.4 85.9h0M182.2 85.7h0M185 86.2h0M170.1 86.9h0M177.5 87.1h0M178.2 86.6h0M179.1 87h0M181 86.6h0M182.9 86.6h0M183.7 86.6h0M187.6 87.2h0M188.2 87.1h0M190.3 86.5h0M174.3 87.6h0M174.6 88h0M174.7 88.1h0M175 87.9h0M175.6 87.9h0M176.1 87.8h0M178.7 87.6h0M179.3 88.3h0M179.4 87.8h0M180.9 88.1h0M181.4 87.6h0M182.1 87.9h0M182.6 88.2h0M182.9 87.9h0M183.5 87.7h0M185.9 88.1h0M187.4 88.2h0M188.1 88.1h0M188.2 88.3h0M176.3 88.7h0M176.5 89h0M177.2 89h0M180.9 89.2h0M182.8 89.4h0M184.1 88.9h0M185.9 89.3h0M187.6 89.2h0M187.7 89.5h0M173.7 89.9h0M174.3 89.6h0M163.7 91.4h0M175.4 91.3h0M180.1 91.2h0M182.5 91.1h0M183.4 91.4h0M186.7 90.8h0M173.8 91.8h0M178 92.1h0M179.3 92.4h0M183.6 91.7h0M184.1 91.7h0M184.5 92.3h0M185 91.5h0M167 93.1h0M169.8 93.2h0M175.7 92.8h0M181.5 92.6h0M183.2 92.8h0M183.5 93.4h0M184 93.2h0M185.2 93h0M186.9 93.1h0M174.6 94h0M175.5 93.7h0M177.9 94.3h0M178.6 94h0M179.1 94.4h0M181 93.6h0M181.5 93.6h0M186.5 94.1h0M189.1 94.2h0M175.8 95.2h0M176.8 94.7h0M180.6 95.4h0M182.3 95.3h0M183.9 95.2h0M184.7 94.9h0M186.6 95.2h0M187.4 94.9h0M190 94.7h0M192.4 95.4h0M193.2 95.5h0M161.1 96.1h0M175.1 96.4h0M177.7 95.8h0M177.9 95.9h0M178.8 96.2h0M179.1 95.9h0M180.4 95.7h0M182.5 96.1h0M183.3 96.1h0M187 95.7h0M188.3 96h0M188.8 96.1h0M188.9 95.7h0M191.8 96h0M193.8 96.4h0M194.1 96.4h0M194.4 95.7h0M195.5 96h0M173.7 97h0M174.1 97h0M176.8 97.1h0M177.9 97h0M180.1 97.5h0M180.6 97h0M181 97.2h0M181.8 97.2h0M183.1 97.5h0M183.4 96.7h0M187.6 97.3h0M187.6 96.6h0M189.6 97.3h0M191.2 96.7h0M197.8 96.6h0M198.6 96.8h0M199.3 96.7h0M163.7 97.9h0M170 98.3h0M180.6 97.7h0M180.6 97.8h0M181.5 97.8h0M181.6 98.2h0M186 98.3h0M187.4 98h0M187.6 98.1h0M188.7 98.4h0M192.9 98.2h0M197.9 97.8h0M200.4 97.6h0M175.5 99.3h0M176.2 99.3h0M183.7 99.2h0M184.9 99.4h0M185.1 99.4h0M188.2 98.8h0M188.7 98.9h0M190.2 99.4h0M191.5 99.1h0M195.9 98.8h0M196.5 99.4h0M164.9 99.6h0M173.9 100.4h0M178.8 100h0M181.9 100.2h0M181.9 100h0M182.2 100.3h0M182.3 99.8h0M182.9 99.8h0M183.5 100.2h0M188.8 100h0M193 100.1h0M198.4 100.3h0M174.7 101.4h0M175.2 100.8h0M176.4 101.3h0M180.8 101.4h0M183.8 101.2h0M189.6 100.6h0M194.3 101.5h0M194.9 101.1h0M171.9 101.7h0M173.2 101.7h0M178.9 102h0M180.7 101.8h0M182.4 102h0M183 101.7h0M185 102h0M186.3 102.4h0M186.3 102.2h0M162.9 102.6h0M180 103.3h0M180.8 103.3h0M180.8 102.7h0M181.9 103.2h0M184.2 103.5h0M186 102.9h0M187.6 102.6h0M191 102.6h0M193 103.4h0M155.4 103.9h0M177.9 104.2h0M178.3 104.2h0M178.7 103.8h0M179.8 103.7h0M179.9 104.4h0M180.6 103.7h0M183.6 103.9h0M188.8 104.1h0M189.9 104.3h0M190.1 104h0M193.4 103.6h0M172.7 105h0M175.4 104.7h0M175.8 105.5h0M177.1 105.2h0M177.4 104.6h0M180.4 104.8h0M180.4 105h0M184.2 104.9h0M185 105.3h0M185.7 104.5h0M186.8 105.4h0M192.2 104.5h0M176 106.2h0M177.1 105.7h0M177.7 106h0M179.6 105.8h0M183.9 106.2h0M186.1 105.7h0M188.5 106.2h0M188.9 105.9h0M189.8 106.5h0M192.3 106.2h0M192.9 105.8h0M170.4 107.5h0M179.1 107.3h0M183.4 107.1h0M184.4 107.3h0M190.5 107h0M192.4 107.1h0M192.8 106.9h0M166.7 108.2h0M168.7 107.6h0M170.3 107.8h0M174.1 108.2h0M174.4 108.3h0M176.5 108.1h0M178.7 107.6h0M180.1 108.5h0M188.9 108.4h0M190.6 108.5h0M192.6 107.9h0M193 107.9h0M193.1 108h0M162.8 109.4h0M165 108.6h0M171.6 108.8h0M174.9 108.8h0M177 108.7h0M177.1 108.7h0M177.8 109.4h0M181 108.7h0M184 109.4h0M188.2 108.8h0M158.2 110.2h0M165.6 109.7h0M166.3 109.5h0M167.3 110h0M168.2 109.8h0M170.8 110.1h0M172.4 110.2h0M173.7 109.7h0M174 110.3h0M176 109.7h0M177.8 110.3h0M178.1 109.6h0M179.1 109.8h0M185.8 110.1h0M186 109.6h0M186.1 110.2h0M186.5 110.5h0M187.3 109.7h0M188.7 110.2h0M192.2 110h0M192.8 109.6h0M163.4 111.5h0M167.7 111.5h0M169.2 110.9h0M169.8 111.1h0M176.1 110.9h0M176.6 111.4h0M176.6 111.1h0M182.8 110.7h0M183.4 111.4h0M183.7 111.4h0M185 110.5h0M188.1 110.9h0M188.2 111.2h0M189.8 110.7h0M148.9 112.2h0M150.7 112.2h0M157.9 111.5h0M161 112h0M170.4 112.4h0M172.6 111.8h0M172.8 111.6h0M174.4 112.1h0M175.1 112.4h0M176 112.1h0M176 111.8h0M176 112.5h0M177.8 112h0M178.5 112.2h0M180.1 111.8h0M180.1 111.9h0M181 112.2h0M182.4 112.3h0M184.9 112.1h0M185.1 111.6h0M189.2 112.4h0M191.7 111.8h0M192 112.4h0M151.1 112.5h0M162.1 112.6h0M162.4 113.5h0M163.7 113h0M165.5 113.2h0M172.1 112.7h0M173.7 113.2h0M173.9 113.2h0M174 112.5h0M178.8 112.5h0M181.2 112.9h0M184.5 112.7h0M184.8 112.8h0M187 113.3h0M190.8 112.7h0M192.9 113.3h0M195.1 112.7h0M150 113.9h0M152.3 114.2h0M165.6 113.7h0M170.1 113.6h0M171 113.5h0M175.4 114.4h0M178.4 114.1h0M179.5 113.7h0M179.5 113.6h0M192.8 114.1h0M148.7 115h0M154 114.8h0M154.3 115.4h0M160 114.8h0M160.1 114.8h0M161.5 115.1h0M169.8 114.9h0M170.2 114.9h0M172.2 114.6h0M174.3 114.7h0M174.7 114.7h0M178.5 115.2h0M181.1 115.4h0M182.5 115.4h0M189.5 115.2h0M195.5 114.9h0M151.7 115.6h0M157.9 116h0M161.4 115.7h0M161.9 116.3h0M171.1 116.3h0M176.7 115.9h0M178.1 116h0M180.4 115.7h0M181.2 116.3h0M181.4 115.9h0M184.1 116.4h0M188.7 116.4h0M192.8 116.3h0M196.5 115.5h0M153.5 116.6h0M156 117h0M174.3 116.7h0M180.8 117.2h0M181.2 117h0M184 117.4h0M185 117h0M186 117h0M187.1 116.6h0M188.1 116.7h0M189.5 116.9h0M189.6 117.1h0M154 117.6h0M170.1 118.2h0M176.4 117.7h0M179.7 118.5h0M179.9 117.6h0M186 118.3h0M191.1 117.8h0M191.1 117.8h0M196.4 118h0M144.7 119.2h0M157.1 119.2h0M157.9 119h0M160.1 118.8h0M160.4 119.5h0M171.9 119.1h0M178.3 118.8h0M178.4 118.7h0M182.1 119.3h0M182.9 119h0M191.8 119.5h0M194 118.8h0M138.6 119.6h0M155.7 120.4h0M159.2 120.3h0M162.4 119.8h0M171.1 120h0M174.9 120.1h0M175.6 120.1h0M176.8 119.7h0M178.1 120.4h0M179 120.1h0M179.1 120.3h0M180.4 119.6h0M186.8 119.9h0M194.1 119.6h0M195.6 120.4h0M196 120.5h0M198.2 119.6h0M138.1 120.7h0M138.8 121.5h0M147.3 120.8h0M150.2 121.2h0M153.9 120.7h0M154.9 120.9h0M159 120.8h0M159.5 120.7h0M176.5 121.5h0M178.5 121.4h0M179.8 121h0M193.6 121.2h0M194.3 121.2h0M195.1 121h0M143.3 122.4h0M151.7 122.2h0M152.9 121.6h0M181.1 121.6h0M187.2 122.4h0M197.8 121.8h0M134.2 122.9h0M136.9 122.9h0M141.7 122.8h0M148.7 122.8h0M152.4 123.2h0M154.1 123h0M159.4 123.2h0M179.8 123.4h0M181.3 123.2h0M186.7 123.1h0M196.1 122.6h0M144.2 123.6h0M145.5 123.7h0M150.9 124h0M153.6 123.9h0M175.7 123.5h0M178.7 124.5h0M181.1 124.2h0M195.5 123.6h0M198.4 123.8h0M137 124.9h0M141.5 124.5h0M152.6 124.6h0M172.7 125h0M173.2 125.4h0M187.7 125.3h0M146.4 125.7h0M147.6 126.2h0M167.2 125.7h0M177.7 125.6h0M178.8 125.9h0M181 125.7h0M188.4 125.8h0M188.9 126.2h0M191.1 126h0M199.2 126.1h0M149.1 127.1h0M176.5 127.1h0M185.1 127h0M185.7 127.1h0M193.9 126.7h0M137 128.3h0M137.6 127.6h0M146.5 127.8h0M166.3 128.4h0M167.8 128.3h0M169.7 128.1h0M176.7 127.8h0M180.5 128.2h0M193.2 128.1h0M200.5 128.5h0M137.8 129h0M144.5 128.5h0M147 128.8h0M147.4 129.3h0M147.4 128.7h0M180.6 128.7h0M183.3 129.1h0M188.2 129.5h0M189.1 129.3h0M191.3 128.9h0M193.6 128.8h0M199.5 128.5h0M201.2 128.6h0M136.1 130.4h0M140.3 130.3h0M145.9 130.3h0M153.4 129.5h0M158.3 130.4h0M168 130.2h0M173.7 129.6h0M180.6 130.1h0M181.1 129.6h0M186.9 130.3h0M188.9 130.2h0M191 130h0M191.8 129.7h0M197.2 130.3h0M198.5 130h0M138.3 130.5h0M138.5 131.3h0M138.9 131.3h0M147.2 130.6h0M147.3 131h0M164 131.2h0M164.1 131.4h0M165.7 130.6h0M185.4 130.8h0M196.6 130.7h0M135.7 132.4h0M141.9 132.3h0M147.1 131.6h0M150 132.2h0M172.7 131.5h0M197.2 132.1h0M138 133.2h0M139.9 133.2h0M142.2 133h0M145 133h0M146.8 132.9h0M146.9 132.7h0M163.1 132.9h0M163.2 133h0M167.8 133.4h0M169.5 132.6h0M171.1 133.2h0M176.4 132.9h0M191.9 132.8h0M195.7 132.7h0M195.9 132.6h0M198 132.5h0M139.8 134.5h0M141.6 133.8h0M145.4 134.5h0M147.4 134.1h0M156.3 133.6h0M157.5 134.4h0M164.1 134.3h0M164.3 133.7h0M164.7 133.7h0M169.9 133.6h0M170 133.9h0M185.3 133.7h0M187.5 133.9h0M187.6 134.2h0M192 133.8h0M192.6 133.9h0M199.6 133.7h0M138.3 134.6h0M140.3 134.6h0M140.3 135.2h0M144.3 134.8h0M162.7 135.3h0M162.9 135h0M164.1 134.6h0M166 134.8h0M168.2 135h0M176.1 134.7h0M181.6 135h0M189.4 135.5h0M193.5 135.3h0M195 135h0M195.3 134.8h0M198.4 135h0M139.8 136.3h0M142.1 136.3h0M143.5 135.9h0M158.8 135.6h0M159.7 136.2h0M164.8 135.7h0M166.3 135.7h0M174.5 136.3h0M175.3 136.1h0M188 136.1h0M189.7 136.1h0M193.7 136.1h0M196.1 136.4h0M142.2 137h0M144.2 137.3h0M146.8 136.7h0M159.7 137h0M164.1 137.2h0M167.4 137.2h0M168.6 137.4h0M170.5 136.6h0M172.4 136.8h0M172.7 137.2h0M173.5 136.9h0M178.9 136.9h0M189 136.6h0M194.1 137.4h0M154.4 137.7h0M155.6 137.6h0M162 137.8h0M162.6 138.5h0M163.1 137.5h0M164.3 137.9h0M164.6 137.6h0M164.9 138.2h0M172.2 138.4h0M176.8 138h0M176.9 137.8h0M189 137.7h0M195.8 137.9h0M197.6 137.9h0M138.6 139.4h0M152.6 139.3h0M153.6 139h0M162.4 138.7h0M163.5 138.6h0M163.9 139h0M165 139.1h0M185.6 138.5h0M147.8 140.3h0M148.5 139.7h0M152.9 139.6h0M153.9 139.9h0M155.1 139.5h0M159.9 139.9h0M163.4 139.7h0M166.7 140.2h0M167.6 139.7h0M173.7 140h0M179.4 140.1h0M191.2 139.7h0M146.6 140.6h0M150.5 140.7h0M165.3 140.9h0M167.3 141.3h0M171.5 141h0M175.4 140.9h0M177.2 140.6h0M178 140.6h0M178 140.5h0M192.9 141.2h0M195.3 141.2h0M151.5 141.6h0M152.4 142.5h0M153.8 142.4h0M160.6 141.7h0M162.4 141.8h0M163.1 142.3h0M164.3 141.9h0M169.3 141.9h0M173.4 142.3h0M173.5 141.9h0M181.5 142.1h0M189.8 142h0M150.7 143.5h0M155.6 143.1h0M163.1 143.2h0M163.3 143.3h0M168.5 142.6h0M169.3 142.8h0M174.3 143.2h0M180.3 143.3h0M181.9 143.1h0M187.6 142.8h0M151.4 144.4h0M152.2 143.6h0M155.1 143.8h0M165.1 144.3h0M165.4 143.9h0M178.9 143.7h0M144.4 144.9h0M146.4 144.6h0M149.9 144.6h0M150.3 145.3h0M151.1 144.5h0M151.8 144.8h0M153.4 145.4h0M154.5 145h0M163.5 144.6h0M169.6 145h0M174.5 144.9h0M178.2 145.2h0M181.4 145.5h0M182.5 144.8h0M184.6 145.2h0M137.6 146.4h0M138.7 145.6h0M146.5 145.8h0M146.6 145.6h0M148 146.5h0M149.9 145.6h0M152 145.6h0M152.5 145.7h0M157.4 145.9h0M158.9 146.3h0M173.6 146.4h0M184 145.9h0M186.2 145.5h0M168.3 147.1h0M185 146.6h0M188 146.8h0M149 148.3h0M153.9 147.6h0M156.7 147.7h0M158.7 147.6h0M158.9 148h0M164.4 147.9h0M165 147.8h0M182.6 148.2h0M183.6 148h0M137.3 148.9h0M145.5 148.8h0M148.6 149h0M148.7 148.9h0M150.6 149.3h0M155.6 149.4h0M158.7 148.9h0M161 148.9h0M168.1 148.7h0M172.9 148.8h0M179.5 149.1h0M139.5 150h0M140 150.3h0M156.8 149.9h0M160.1 150.2h0M164.3 150.3h0M167.2 150.1h0M175.9 149.7h0M177.9 149.6h0M141.9 151h0M142.4 150.8h0M143.1 151.1h0M151.4 150.8h0M153 151.1h0M155.3 150.8h0M160 150.6h0M164.6 151.1h0M171.6 151.2h0M174.9 151h0M176.6 150.9h0M179.7 151.4h0M180.6 150.6h0M138.5 151.8h0M141.7 152.4h0M144.6 151.6h0M151.1 152.3h0M158 152.4h0M159.2 152.4h0M161.4 152.4h0M167.6 152.5h0M168.3 151.8h0M171 151.7h0M173.1 152h0M173.9 151.6h0M178.2 151.6h0M182.5 152h0M144.8 152.6h0M149.2 153.3h0M157.7 152.9h0M164.5 153h0M172 152.5h0M176.3 152.8h0M176.7 153.1h0M182.7 153.3h0M145 154h0M146 154.1h0M148.2 153.9h0M152.6 154h0M154.9 153.6h0M156.3 154.4h0M160.2 153.6h0M160.2 154.2h0M160.4 154.2h0M161.3 153.7h0M163.1 154.4h0M167.7 154h0M169.2 154.3h0M171.5 153.8h0M171.6 153.6h0M172.1 153.7h0M173 153.5h0M173.2 154.2h0M175.4 154h0M175.5 154.3h0M176.7 153.8h0M177.5 154h0M178.6 153.7h0M181.3 154h0M146.3 155.2h0M148.4 154.8h0M149.1 154.7h0M149.1 154.7h0M154.1 154.9h0M154.1 154.6h0M155.6 154.6h0M165 154.9h0M167.5 154.9h0M169.1 154.5h0M171.8 155.5h0M174.3 154.9h0M175.6 155.5h0M178.6 155.3h0M145.8 156.3h0M148.3 155.7h0M159.5 156.2h0M172.1 155.7h0M174.5 156.4h0M176.1 156.5h0M178.6 156.4h0M130.1 156.5h0M153.5 157.1h0M156.3 157.1h0M158.3 157.2h0M163.6 157.3h0M169.8 157.2h0M170.8 156.9h0M172.4 157.5h0M176.2 157.5h0M180.8 157.3h0M141.8 158h0M147.2 158.3h0M154.4 158.5h0M157.7 158.2h0M163.3 158.4h0M163.5 158.4h0M167.8 157.8h0M169.1 158.3h0M169.7 158.4h0M172.1 157.6h0M172.9 158.1h0M173.2 158.2h0M174.5 158.2h0M175 158.3h0M176.6 158.4h0M177 157.6h0M180.8 157.6h0M181 157.7h0M150.8 159.1h0M166.5 158.8h0M152.4 159.8h0M153.9 160h0M155 160h0M156.9 160.3h0M157.2 159.7h0M162.3 159.6h0M164.2 160.2h0M169.9 159.9h0M170.2 159.7h0M171.8 160.4h0M173.1 160.2h0M173.6 159.7h0M174.3 160.4h0M149.1 161.3h0M152.2 161.3h0M152.2 161.3h0M155.5 161.5h0M157.4 161h0M160.3 161.1h0M160.4 161h0M167.5 161h0M167.9 161.2h0M170.1 160.9h0M171.3 161.1h0M174 160.7h0M154.3 161.7h0M155 162.4h0M162.5 161.6h0M165.4 162h0M166.1 161.6h0M168.1 162.3h0M157.2 163.3h0M164.6 162.7h0M168.9 162.7h0M155.7 164.4h0M158.3 163.5h0M161.6 164.4h0M166.6 163.7h0M166.8 163.9h0M168.7 163.7h0M160.7 165.3h0M163.5 165h0M161 166.1h0M160.7 169.7h0M161 169.6h0M160.9 171.9h0M160.4 173.6h0M156 174.6h0M159.9 174.5h0M156.3 175.9h0M159 175.8h0M159.1 177.1h0M157.7 179h0" stroke="#4a9445" stroke-width="1.1" stroke-linecap="round" fill="none"/>
<path d="M178.6 75.2h0M182.6 75.7h0M174.3 77h0M176.4 77.8h0M189.7 78.8h0M178.2 79.7h0M178.8 80.5h0M186.4 80.4h0M175.1 81.1h0M179.3 81.3h0M173.4 82h0M173.5 81.6h0M175.5 81.7h0M179.3 82.4h0M180 81.6h0M174.7 82.9h0M181 83.4h0M188.1 82.5h0M174.3 83.5h0M176.2 84.2h0M183.1 84.3h0M187 84.3h0M187.9 83.5h0M188.5 84.1h0M188.9 83.5h0M179.8 85.3h0M182.4 85.4h0M186.7 84.7h0M164.5 86.5h0M175.7 86.5h0M175.8 86.3h0M176.9 86.2h0M183 86.4h0M183.4 85.7h0M184 85.6h0M184.7 86.2h0M188.6 85.9h0M177.5 86.8h0M178.8 86.5h0M180.8 87.3h0M188.2 87.1h0M188.3 87.4h0M175.5 88.2h0M184.7 88.4h0M184.9 87.6h0M174.3 89.2h0M175.4 88.7h0M176.1 89.1h0M181.1 88.5h0M182.5 88.8h0M164.2 89.7h0M183.3 89.9h0M183.9 90.2h0M165.5 90.9h0M178.5 90.7h0M175.8 91.6h0M187.3 91.8h0M182.3 93.4h0M185.3 92.8h0M174.4 94.1h0M174.8 94.4h0M183 93.9h0M185.3 94.1h0M185.4 94.2h0M187.8 93.7h0M188.8 94.2h0M163.9 94.7h0M172.7 95.5h0M174 94.9h0M175.5 95.4h0M175.6 95.4h0M182.7 95h0M183.1 94.8h0M194.8 95.2h0M197.9 95.4h0M161.6 96h0M172.6 96.2h0M174 96.2h0M177.3 96.4h0M177.8 95.8h0M181 96.4h0M182.1 95.7h0M192.1 95.8h0M193.2 96.3h0M194.3 96.2h0M197.1 96.2h0M174.7 97h0M177.2 96.7h0M177.2 97.2h0M179.3 97.2h0M180.4 96.5h0M186.4 97.3h0M187.5 97.3h0M188.7 97.3h0M192.4 97h0M193.6 97.5h0M197.3 97.2h0M172.6 98.4h0M174.3 98.3h0M177.6 98.5h0M178.2 98.3h0M182.7 98.5h0M188.5 98.1h0M189.7 97.5h0M190 97.6h0M190.2 97.7h0M155.1 99h0M174.7 98.9h0M177 99.4h0M178.7 99.4h0M179.4 99.1h0M180.4 99.2h0M186.2 98.6h0M187.2 98.9h0M192.7 98.5h0M193.4 99.4h0M193.6 98.6h0M198.4 99.2h0M199.5 99.5h0M201 98.7h0M175.3 100.1h0M175.9 100h0M176 100h0M176.8 100h0M181.6 99.6h0M181.8 99.8h0M187 100.3h0M195.8 99.7h0M195.9 100.1h0M198.1 100.3h0M172.9 101.1h0M176.5 100.7h0M181.6 101.1h0M182.5 101.3h0M188.5 101h0M190.5 101.4h0M195 100.7h0M195.5 100.7h0M175.3 101.5h0M176.9 101.8h0M177.7 102.4h0M182.4 101.7h0M191.9 102.4h0M192.5 102.4h0M172.9 103h0M172.9 103.3h0M176.4 102.9h0M176.7 103.3h0M176.7 102.7h0M177.4 103.1h0M179.5 103.1h0M180.2 103.2h0M182.3 103.3h0M186.6 102.9h0M190.1 103h0M191.1 102.6h0M191.5 102.7h0M192.9 103.1h0M193.2 103.4h0M193.7 102.9h0M159.9 104.1h0M172.9 104h0M174 104h0M175.6 104.2h0M177.1 104.3h0M178.2 103.7h0M180.3 103.7h0M182.5 104h0M182.6 104.4h0M193.6 103.8h0M172.2 104.5h0M173.9 105h0M175.8 105.1h0M177.6 104.7h0M178.3 105.5h0M179 104.8h0M182.5 105h0M184.8 105h0M189.1 104.6h0M190.6 105.3h0M192.6 105h0M172.2 106.2h0M173.5 105.8h0M173.5 106.2h0M175.7 105.5h0M177.1 106.1h0M180.2 106.1h0M182.5 105.6h0M191.1 106h0M191.2 106h0M192.9 106.4h0M193.6 105.8h0M168.7 107.4h0M171.3 107.3h0M171.7 106.7h0M171.9 106.6h0M172.9 107.3h0M174.6 107.1h0M175.1 107h0M177.5 106.9h0M177.5 106.7h0M180.3 107.2h0M183.1 107.1h0M184.6 107.2h0M191 106.8h0M193.3 107.2h0M193.6 107.5h0M172.5 108.1h0M173.5 107.6h0M174.4 107.5h0M182.5 108.3h0M183.7 107.8h0M186.5 108.2h0M163.9 109.3h0M166.6 108.9h0M169.1 108.8h0M169.5 108.9h0M171.9 109.3h0M186 108.6h0M186.6 109.1h0M190.9 108.9h0M163.6 109.6h0M164.1 110h0M169.7 110.4h0M176.2 110.2h0M177 110.3h0M177.7 110.1h0M180.3 110.1h0M181.6 109.5h0M181.7 110.2h0M181.9 109.5h0M186 109.6h0M189.5 109.7h0M193.9 109.6h0M150.9 111.2h0M151.6 111.4h0M163.9 110.7h0M163.9 110.5h0M166.9 111.4h0M166.9 110.5h0M168.3 110.8h0M168.8 111.1h0M171 110.9h0M171.2 110.5h0M172 111.4h0M174.4 111.2h0M175.5 110.9h0M179.7 110.7h0M180.3 111.3h0M180.5 110.6h0M185.4 110.6h0M186.8 111.1h0M190.2 111.3h0M194.8 110.7h0M152 111.6h0M163.2 111.9h0M165.1 112.3h0M165.4 112.3h0M168.4 112.4h0M168.4 112.5h0M169.6 111.7h0M169.9 112h0M170.1 111.8h0M170.3 111.9h0M170.3 112h0M171.8 111.8h0M172 112.3h0M176.9 112.2h0M177.3 112.1h0M178.3 111.7h0M178.7 112h0M180.7 112h0M183.7 111.7h0M185.7 112h0M190 111.9h0M190.6 111.8h0M193 111.7h0M166 112.9h0M167.6 113.2h0M167.6 112.7h0M168.1 113.3h0M171.1 112.8h0M172.2 113.2h0M175.3 112.8h0M175.4 113.2h0M180.2 113.4h0M181.4 112.6h0M182 113.4h0M182.3 112.6h0M185.5 113.4h0M188.7 113.4h0M190.3 112.5h0M191.2 113.1h0M194.1 113.5h0M154.3 113.8h0M164.7 113.9h0M164.7 113.5h0M168.9 114.3h0M171.9 114.3h0M174.8 114.5h0M175.7 114h0M186.7 114.3h0M187.1 114.3h0M187.1 114.4h0M191.9 113.8h0M192.7 114.4h0M194 113.8h0M194.1 114.2h0M194.6 113.8h0M168.1 115.4h0M168.8 115.4h0M172.7 114.6h0M175.5 115.4h0M186.1 115h0M186.4 115.4h0M193.1 115.5h0M170.3 116h0M172.3 115.8h0M172.9 116.1h0M173.3 116.4h0M173.6 115.9h0M176.3 116.4h0M177.3 116h0M183.2 116.4h0M185.8 116.5h0M188.2 115.6h0M189.4 116.3h0M189.6 115.8h0M191.5 116h0M192.6 116.1h0M193.9 115.8h0M195.5 116.2h0M153.3 116.9h0M160.9 117.1h0M177.5 117.1h0M178.6 117h0M178.8 117.4h0M181.9 116.8h0M182.1 117.1h0M185.3 117.2h0M187.2 116.5h0M191.3 116.7h0M191.8 117.4h0M192.5 117.1h0M196.3 116.6h0M155.4 118.4h0M156 118.4h0M160.5 118.1h0M161.4 118h0M163.3 118.4h0M170.8 118h0M175.3 118.4h0M175.4 117.6h0M179.5 118.3h0M184.7 117.8h0M184.8 118.3h0M157.5 119.3h0M158.3 119.1h0M159.2 119.5h0M160 119h0M170 118.9h0M176.2 118.8h0M178 118.8h0M179.4 118.6h0M180.9 119.4h0M187.4 119.2h0M188.9 118.8h0M197.4 118.5h0M156.1 119.9h0M156.2 120.3h0M158.3 119.9h0M159 120.3h0M166.7 120.2h0M168.8 120.3h0M173.8 120.2h0M174.6 120h0M175.3 119.8h0M178.2 120h0M182.2 120.1h0M183.6 119.7h0M185 119.6h0M185 119.8h0M188 119.7h0M190.6 120.5h0M151.5 120.6h0M155.5 120.6h0M159 121h0M160.1 121h0M161 121h0M176.3 120.9h0M176.4 121.3h0M177.8 120.8h0M177.9 120.9h0M182.3 121h0M182.8 121h0M187.9 121.5h0M150.8 122.2h0M151.2 122.3h0M155.4 122.3h0M168.1 122h0M170.3 121.7h0M171.3 122.2h0M173.1 122.1h0M173.2 122h0M173.7 122.3h0M177.1 121.6h0M179.2 121.7h0M179.7 121.5h0M180.1 122h0M180.4 121.8h0M199.7 122.1h0M139.1 122.7h0M150.1 122.7h0M151.7 122.5h0M153.4 123.2h0M167.8 123.1h0M174.5 123.4h0M175.1 123h0M176.6 122.6h0M177.6 122.9h0M179.6 122.8h0M179.7 123.2h0M188.6 123.3h0M140.2 123.5h0M149.6 124.3h0M152.4 123.5h0M159.2 124.2h0M167.3 123.8h0M173.9 123.7h0M177.7 123.5h0M180.7 123.9h0M180.9 124.1h0M186.2 123.6h0M194.2 124.1h0M148.4 124.9h0M152.4 125.2h0M159.2 124.9h0M163.4 125.4h0M178.1 124.7h0M180.8 125.3h0M181.7 124.6h0M183.9 124.6h0M199.2 125.1h0M148.8 125.7h0M150.9 126h0M156.3 126.5h0M169 125.8h0M173.7 125.6h0M188.2 126.2h0M197.4 125.7h0M147.5 126.7h0M158.7 127.5h0M164.3 126.9h0M168.8 127.4h0M179.1 127h0M179.2 127.4h0M182.5 126.6h0M183.4 127.4h0M184.7 126.6h0M192.4 126.7h0M192.7 127h0M143.1 128h0M150.3 127.9h0M152.1 127.6h0M155.5 128.2h0M163 127.6h0M169.2 127.5h0M196.9 128.2h0M198.5 128.2h0M199.2 127.8h0M134.2 129.1h0M148.8 129.3h0M173.7 129.4h0M175 129.1h0M177 129.2h0M179.8 128.8h0M182.1 129.2h0M187.3 129.3h0M193.3 128.6h0M195 129.3h0M138.3 129.7h0M160.8 129.6h0M167.6 130.4h0M176.7 129.9h0M177.8 130.4h0M197.3 129.9h0M198.7 129.8h0M147.3 130.9h0M161.9 130.8h0M164.4 130.9h0M165.2 130.8h0M165.4 130.9h0M166.6 131.5h0M167.2 131.3h0M169.3 131.4h0M170.1 131.4h0M177.7 131.4h0M180.4 131h0M192.3 130.9h0M153.2 132.5h0M155.7 132.1h0M163 132.2h0M163.8 132.3h0M164.5 132.3h0M164.8 131.9h0M166.8 131.7h0M167 132.2h0M171.3 131.8h0M175 131.8h0M179.7 132h0M180.1 131.9h0M191.7 132.5h0M193.6 131.7h0M194.3 131.6h0M195.5 131.7h0M197.2 132.1h0M152.5 132.8h0M154.9 133.3h0M155.4 133.2h0M156.6 133.2h0M162.1 132.9h0M166.1 132.9h0M167.3 132.9h0M172.2 132.6h0M175.4 132.6h0M178.7 132.5h0M185.5 132.7h0M185.7 133.2h0M187.7 133.4h0M193.4 132.9h0M197.1 133.3h0M142.3 133.7h0M148.5 133.8h0M149.7 134.2h0M152.6 134.3h0M153.4 134.4h0M160.1 134.3h0M165.3 133.6h0M169.7 133.5h0M172.1 134h0M177.7 134h0M181.2 134.2h0M183 133.8h0M185.6 133.7h0M190.9 134.2h0M191.2 134.1h0M199.2 133.7h0M149.8 134.7h0M156.4 134.7h0M157 135.4h0M171.6 135.5h0M172.6 135.4h0M173.6 134.8h0M180.8 135.2h0M181.9 135.5h0M182.6 135.2h0M182.6 135.3h0M185.4 135.3h0M187.1 135.4h0M188 134.6h0M188.3 134.9h0M189.7 135.1h0M192.9 135.3h0M153.7 136.1h0M154.8 136.2h0M157.1 136h0M159 135.7h0M169.1 136.4h0M172.4 136.2h0M180.4 136.4h0M182.9 136.2h0M184.7 136.2h0M186.9 135.6h0M188.5 135.7h0M189.9 135.8h0M137.6 137.5h0M149.1 137.5h0M149.3 136.8h0M149.4 136.9h0M179.9 137.4h0M181.8 137.3h0M189.8 137.4h0M190.6 136.6h0M197 137.3h0M149 138.2h0M152.1 138.3h0M155.8 138.2h0M156.4 138.3h0M156.5 138h0M161.3 137.6h0M163.5 137.6h0M172.1 138.3h0M189.1 138.2h0M189.9 138.2h0M147.5 138.9h0M151.7 138.6h0M154.5 138.7h0M156.9 139.2h0M157 138.8h0M157.1 138.8h0M157.5 139.1h0M157.7 139.5h0M158 138.8h0M161 138.9h0M167.6 139.1h0M169.5 139.2h0M171.8 138.5h0M175.5 138.7h0M175.6 138.8h0M179.9 138.8h0M184 138.9h0M196 139.2h0M141.2 140.2h0M144.7 140.4h0M147.2 140.1h0M148.4 139.9h0M151.5 139.6h0M153.8 140.3h0M160.5 140.3h0M165.2 140.4h0M165.2 139.7h0M166.1 139.5h0M169.5 140.1h0M174.1 139.6h0M174.3 139.6h0M176.9 139.8h0M178 140.2h0M179.2 140h0M184.7 140h0M185.3 140.4h0M186.1 139.8h0M192.6 139.7h0M193.2 140.3h0M146.2 141.4h0M146.9 141.1h0M149.1 140.6h0M150.2 141.3h0M150.8 140.8h0M151 140.6h0M155.9 141.3h0M157.9 141.5h0M161.4 140.8h0M165.5 141h0M167.1 141.3h0M168.9 141.5h0M173.9 141.5h0M177.3 141.4h0M181.2 141.2h0M183.6 141.3h0M194.8 141.3h0M194.9 140.9h0M150.1 141.6h0M150.8 141.9h0M153.9 142.5h0M160.5 142h0M160.7 142.3h0M162.2 141.9h0M162.3 142.2h0M162.6 141.7h0M163.3 141.9h0M166.6 141.8h0M167.2 142.4h0M177.2 142.1h0M178.1 141.6h0M180.7 142.3h0M186.2 141.5h0M186.6 141.9h0M190 141.6h0M137.8 142.8h0M143.6 142.6h0M150.4 142.9h0M152.7 143.4h0M154.4 142.7h0M155.5 142.9h0M157.5 142.8h0M161.6 143h0M165.3 142.9h0M168.2 142.7h0M168.8 143.5h0M169.5 142.8h0M170.1 143.3h0M170.5 143.2h0M171.6 143.3h0M171.7 142.7h0M171.9 143.3h0M174.3 143.3h0M150.8 144.4h0M152.7 143.5h0M160.2 144h0M166.1 143.7h0M170.3 143.6h0M172.7 144h0M188.7 144.5h0M152.3 145.2h0M153.4 145.2h0M156.9 144.6h0M159.6 145.3h0M159.9 145.1h0M161.2 145.5h0M161.7 145.4h0M167.2 145h0M171.1 145.2h0M174.5 145.3h0M175.2 145.4h0M177.2 144.9h0M179.1 145.2h0M184.8 145h0M191.4 145.4h0M136.4 146.4h0M142.9 146.4h0M147.6 146.3h0M152.1 146.2h0M155.3 145.9h0M156.7 146.2h0M164 145.6h0M168 146h0M172.5 145.8h0M179.5 145.7h0M180.2 145.9h0M183.4 145.5h0M183.8 145.7h0M137.4 147.4h0M140.7 147.3h0M150.6 147h0M153.9 146.7h0M154.7 146.7h0M160.1 146.8h0M161.9 147.4h0M163 146.6h0M167.2 146.7h0M169.9 146.6h0M170.1 147.3h0M172.7 146.7h0M174 146.9h0M177.5 147.3h0M182.6 146.8h0M184.4 147.4h0M187.6 147.1h0M136.7 147.8h0M145.6 148.4h0M151.6 148.2h0M160 148.2h0M162.5 147.8h0M171.4 148.1h0M172.6 148.2h0M174.3 148.4h0M180.7 148.4h0M187.9 148.2h0M187.9 148.2h0M137.2 148.9h0M142.1 149.4h0M143.4 149h0M145.5 149h0M145.7 149.5h0M146 149.2h0M146.5 149.2h0M147.4 149.1h0M148.4 149h0M148.7 149.2h0M152.2 149.4h0M156.4 149.3h0M165.4 149.3h0M168.5 149.3h0M176.2 149.5h0M176.4 148.9h0M178.5 148.6h0M182.2 149.3h0M184.9 148.5h0M137.5 149.9h0M141.8 150.3h0M153.8 150.2h0M155.4 150.1h0M155.5 150.3h0M158.2 150.2h0M158.6 150.2h0M160.2 149.6h0M161.6 149.6h0M162 149.8h0M164.5 149.7h0M167.6 149.6h0M167.8 150.2h0M168.7 150.4h0M169.3 149.5h0M174.1 150.1h0M175.6 150h0M176.5 149.7h0M178 149.7h0M179.1 149.8h0M185.8 150.1h0M137.9 151.5h0M139.5 151.1h0M142.1 151.3h0M142.4 151.1h0M142.8 151.2h0M148 151.2h0M148.1 150.7h0M151.9 151.4h0M157.8 150.9h0M162.3 151.1h0M163.4 151h0M163.5 150.6h0M164.2 151.3h0M167.5 150.5h0M169.6 150.7h0M171.4 150.7h0M174.8 151h0M175.1 150.5h0M176 151h0M176.6 150.9h0M179.1 151.1h0M180.5 150.9h0M183.3 150.9h0M143.3 152.3h0M147.5 152h0M150.1 152.4h0M158.6 152h0M164.9 151.5h0M166.4 152.4h0M167.2 151.5h0M168 151.8h0M171.6 152.4h0M172 152.4h0M173 151.6h0M173.2 152.3h0M174.1 152.1h0M176.1 152.5h0M176.7 152.4h0M176.8 152.2h0M138.3 152.6h0M140.2 152.6h0M142.4 152.5h0M144.3 152.6h0M144.5 153.3h0M147.4 153.2h0M148.8 153.3h0M148.8 153.1h0M160.2 153h0M161.6 152.7h0M164.7 153.1h0M165.2 153.3h0M167.4 153.2h0M171.4 153.2h0M172.8 152.5h0M173.2 152.7h0M177 152.6h0M177.6 152.8h0M141.3 154.1h0M144.6 153.8h0M155.5 154.4h0M156.1 154.1h0M162.8 153.9h0M165.5 154.1h0M166.9 153.7h0M168.5 154.1h0M169.9 154.1h0M174.4 154.1h0M176.1 154.3h0M176.4 154h0M176.5 154.3h0M177.1 154.4h0M177.4 154.1h0M180.2 153.5h0M151.5 155.2h0M153.6 155h0M159.8 154.6h0M167.1 155.2h0M167.4 154.9h0M168.9 155.5h0M175.7 155.2h0M178.3 155.3h0M179.7 155.1h0M183.4 155h0M142.3 155.8h0M145.5 155.7h0M150.1 156.3h0M151.2 155.6h0M160.4 156.5h0M160.6 156h0M176.1 156h0M176.2 156.3h0M141.5 156.9h0M142.4 156.7h0M143 157.3h0M147.9 157.1h0M151.7 157.4h0M155 156.8h0M161.2 156.9h0M162.6 157.1h0M166.6 157h0M166.6 157.3h0M175.1 157.4h0M179 156.9h0M180 157.1h0M141.4 158.2h0M147.2 157.6h0M155.2 157.7h0M156.5 158.2h0M157.3 157.6h0M159.9 158.1h0M162.7 158.2h0M167.5 157.8h0M157.4 159.4h0M160.5 158.5h0M166.7 159.2h0M166.8 158.6h0M174.3 158.5h0M149.9 160.4h0M152 159.6h0M152.1 159.8h0M155.5 160.1h0M161 159.9h0M167.3 160h0M170.5 160.3h0M175.4 159.9h0M175.9 159.8h0M148.9 160.8h0M149.7 160.7h0M162.5 161.3h0M166.2 161.1h0M167.5 161.4h0M150.9 161.5h0M152.3 161.6h0M153.8 161.6h0M155.1 162.1h0M156 161.7h0M156.8 161.7h0M162.4 162.1h0M163.4 161.8h0M164 161.8h0M155.7 162.8h0M159.2 163.4h0M156.3 164.4h0M158.5 163.6h0M158.5 164.5h0M159.4 164.4h0M165.2 163.5h0M155 165.3h0M156.9 164.7h0M161.7 165.3h0M162 164.8h0M159.4 166.5h0M159.8 166.1h0M160.4 165.9h0M159 166.7h0M161.9 172.6h0M162.1 173.9h0M162.3 174.4h0M161.6 175.2h0M161.9 174.7h0M157.2 178.5h0" stroke="#2f7f36" stroke-width="1.1" stroke-linecap="round" fill="none"/>
<path d="M189.9 79.2h0M188.8 82.1h0M169.2 82.7h0M175.3 84.5h0M177.4 86.2h0M175 87.4h0M175.3 86.5h0M180.4 86.7h0M181.2 87.3h0M177.6 88h0M178.7 87.8h0M179.3 88.1h0M179.4 88.3h0M178.5 88.9h0M176.3 90.3h0M181.6 90.3h0M179.2 90.7h0M183.1 92h0M170.6 92.6h0M182.4 92.6h0M173.3 95.1h0M173.6 95.1h0M179.8 95.3h0M183.4 95.1h0M189.9 95.2h0M176.5 96.1h0M180.3 95.7h0M188.2 96.4h0M191.2 95.9h0M191.4 96.2h0M192.1 96.2h0M193.9 95.7h0M198.6 96.3h0M172.5 96.8h0M172.7 97.5h0M175.4 97h0M178.2 97.2h0M178.8 97.3h0M182.5 97.1h0M189 96.7h0M189.8 96.9h0M196.3 97.3h0M198.1 97.3h0M173.7 97.6h0M173.9 98.4h0M175.6 98.4h0M185.6 97.6h0M185.8 98h0M189.3 98.4h0M193.5 98.4h0M194.3 97.7h0M195.6 97.7h0M201.1 98.5h0M172.7 99.5h0M177 99h0M178.3 99.3h0M179.7 99.4h0M185.6 98.8h0M193.8 99.3h0M194.5 99.3h0M173.6 99.9h0M174.6 100.1h0M179.6 99.6h0M183.3 100h0M189.4 99.5h0M190.7 99.7h0M191.6 100.2h0M192.8 100.2h0M195.8 99.5h0M196.3 99.8h0M196.6 99.8h0M197 100.4h0M174 100.9h0M174.9 101.2h0M176.4 100.8h0M177.1 101.3h0M177.1 101.2h0M178.8 101h0M193 101.1h0M193.2 100.7h0M193.3 101.3h0M194.5 101.2h0M196.4 100.6h0M198 100.6h0M175.1 101.6h0M172.7 102.9h0M173.5 103h0M174.9 103h0M175.2 103.4h0M175.2 103.3h0M178.6 103.3h0M178.9 102.6h0M185.1 102.7h0M189.9 103.5h0M190.3 103.2h0M191.1 103.4h0M191.3 103.1h0M193.6 102.9h0M173.6 104h0M175.5 103.9h0M175.8 103.9h0M176.4 103.9h0M177.4 103.8h0M178.7 103.5h0M185.2 103.7h0M188.5 103.7h0M192.9 103.6h0M172.5 105h0M173.2 105.5h0M174.1 104.8h0M175.3 105h0M179.6 104.8h0M182.1 105h0M187.2 104.9h0M172 106.3h0M174.7 106h0M178.1 106.2h0M179.1 106h0M181.5 106.2h0M188.1 105.7h0M188.8 105.7h0M192.9 106.3h0M193.3 105.8h0M167.9 107.4h0M170.3 107.5h0M170.5 106.8h0M171.1 107.3h0M173.3 106.7h0M173.4 106.6h0M193.5 107.5h0M166.2 108.3h0M167 108.4h0M167.2 108.4h0M167.2 107.9h0M168.8 107.5h0M170.6 108h0M170.8 108.2h0M171 107.6h0M173 107.7h0M173.3 108.1h0M173.4 107.9h0M173.7 107.6h0M180.7 108.1h0M185 108h0M185 107.7h0M163.4 109h0M164 109h0M164.4 109.2h0M166.8 109.4h0M167 109h0M167.7 109.3h0M169.2 109h0M171.8 108.7h0M176.2 109h0M182.2 109.3h0M186.9 109h0M194.2 108.9h0M156 110h0M163.2 109.9h0M164.4 110.3h0M164.6 110.1h0M165.3 110.1h0M166 109.8h0M166 109.6h0M166.4 109.9h0M170 109.8h0M173.4 109.8h0M175.5 109.6h0M178.8 110.4h0M182.1 109.8h0M182.3 110h0M189.1 109.7h0M193.1 110.2h0M164.1 110.9h0M164.2 110.6h0M168.3 110.9h0M169.2 111h0M171 111.2h0M171.7 110.8h0M174.5 111h0M179.6 110.9h0M183.7 110.7h0M192 111.2h0M194.4 110.5h0M194.4 111.2h0M195.1 111h0M163.6 112.4h0M164.3 111.6h0M165 111.7h0M165.5 111.9h0M165.6 111.6h0M168.1 112h0M168.3 111.9h0M168.9 112h0M169.4 111.8h0M169.4 112.1h0M171 111.9h0M172.5 111.6h0M172.8 111.9h0M175.9 112h0M176.1 111.8h0M181 111.9h0M181 111.5h0M189.1 112h0M156.5 112.5h0M160.6 113.1h0M161 112.7h0M163.3 112.8h0M164.1 112.7h0M168.1 112.7h0M168.3 112.5h0M168.5 112.8h0M169.5 113.5h0M169.9 113h0M175.5 113.1h0M177.7 112.5h0M180 112.7h0M180.2 113.1h0M180.5 113.5h0M186.1 112.7h0M187.6 112.7h0M188.1 113.5h0M192.9 112.8h0M195.7 113h0M162.7 113.9h0M165.8 113.9h0M168.5 114h0M169.1 114.4h0M171.1 113.9h0M172.5 114h0M175.6 114.2h0M176.2 113.7h0M190.9 113.9h0M193.9 114.1h0M171.1 114.7h0M171.7 114.9h0M174.1 115.1h0M175 114.6h0M177.7 114.7h0M181 114.6h0M181.7 115.3h0M182.3 115.4h0M188.9 115.4h0M190.6 115.3h0M194.4 115.4h0M194.5 115.3h0M165.1 116.1h0M165.8 115.7h0M165.8 115.7h0M166.4 116.4h0M166.5 116h0M167.4 116.3h0M169.2 116.3h0M170.9 115.6h0M170.9 115.7h0M171 115.9h0M171.4 115.6h0M171.9 115.7h0M173 116.1h0M174.7 116.2h0M181.7 115.9h0M185.4 116.3h0M186.4 116.5h0M187.8 116h0M163.3 116.8h0M163.5 116.8h0M164.1 117.2h0M166.9 117.2h0M168 116.6h0M170.3 117.4h0M170.8 116.9h0M171 116.8h0M172.8 116.6h0M173.4 117h0M174.9 116.7h0M176.7 117.3h0M177 116.9h0M177.3 116.7h0M182.1 117.3h0M185 117.1h0M186.8 117.3h0M196.2 117.4h0M159.9 117.9h0M162.4 117.7h0M165 118.1h0M167.5 117.7h0M167.8 117.7h0M168.1 118.4h0M168.4 118.4h0M171.2 118.5h0M171.3 118.1h0M171.9 117.8h0M175.8 118h0M177.8 118.3h0M179.1 117.8h0M179.7 118.3h0M179.8 117.6h0M180.5 118.3h0M184.2 117.6h0M186.1 117.9h0M190 117.7h0M195.3 117.6h0M198.7 118.4h0M159.4 118.9h0M160.6 118.9h0M161.4 119.2h0M166.7 118.7h0M167.4 119.3h0M172.2 118.9h0M175.5 119.2h0M179.8 119h0M179.8 119.3h0M182.7 119.2h0M183.9 119.2h0M185.6 119.2h0M189 119.3h0M189.4 119.1h0M190.3 119.2h0M197.5 119.3h0M197.9 119.4h0M157.3 119.5h0M158.1 120h0M160.5 120.3h0M161.5 120.3h0M161.9 119.7h0M163.6 119.9h0M165 120.4h0M165.7 120.3h0M165.8 120.3h0M167 120.2h0M167 119.9h0M168.7 120.1h0M169.3 120h0M173 120.1h0M174 120.1h0M175 119.5h0M176 120.1h0M177.7 119.9h0M178.6 119.6h0M179.3 120.3h0M179.9 119.9h0M181.9 120.4h0M183.2 119.7h0M154 120.8h0M159 121.2h0M159 121.1h0M160.5 121.4h0M160.6 121.3h0M160.6 120.8h0M161.7 121.3h0M161.7 121.4h0M161.9 121.4h0M163.5 121.3h0M164.1 121.5h0M167.1 120.9h0M167.4 121.1h0M167.9 120.9h0M168.4 121.1h0M168.6 120.7h0M169 120.7h0M170.9 120.9h0M174.3 121h0M177.1 121.5h0M177.2 121h0M177.8 121.3h0M178.5 120.8h0M178.9 121h0M180 121.2h0M181.3 121.1h0M181.6 121.4h0M182.2 121.4h0M184 120.5h0M184.4 120.6h0M186 121.5h0M152.7 122.3h0M153.3 122.4h0M154.8 121.5h0M156.1 122.1h0M157.9 121.7h0M159.2 121.7h0M159.2 122.4h0M159.8 121.6h0M161.6 122.3h0M162 122.4h0M162.5 121.9h0M163.6 122.5h0M164.1 121.7h0M164.5 121.7h0M164.9 122.2h0M165.1 121.9h0M165.6 121.6h0M166 122.4h0M166.1 121.7h0M166.8 122.3h0M167.2 122.2h0M174.6 122.4h0M174.6 121.8h0M175 122.5h0M175.4 121.5h0M177.2 121.6h0M177.8 121.6h0M181.7 122.3h0M182.1 122.2h0M182.3 121.6h0M185 121.8h0M197.1 121.9h0M135.8 122.7h0M151.4 122.7h0M153.2 122.8h0M154.5 123.3h0M155.5 122.8h0M156.1 122.9h0M157.9 123.4h0M158.9 123.4h0M160.1 123.3h0M160.2 123.3h0M160.7 122.6h0M162.2 123.4h0M163.3 123.5h0M164 122.8h0M164.2 123.3h0M165.3 123.1h0M165.7 122.5h0M166.5 122.7h0M167 123.5h0M172 123.3h0M174.4 123.3h0M178.2 123.5h0M180.8 122.8h0M181.5 122.7h0M182.4 123.1h0M183.3 123.3h0M189.8 123.3h0M191.7 123.3h0M195.6 122.8h0M196.6 123.5h0M149.1 123.6h0M150.6 124.5h0M152.1 123.9h0M155.5 124.3h0M156.2 123.7h0M156.8 124.2h0M157.5 123.9h0M157.5 124.2h0M159.1 124h0M160.5 124.1h0M160.6 123.5h0M161.3 124h0M163.1 124.2h0M167.4 124h0M168.1 123.7h0M169.6 124.4h0M169.7 123.5h0M175 124.5h0M175.9 123.9h0M177.9 123.8h0M178.2 123.5h0M179.2 123.7h0M180 124.1h0M182.4 123.7h0M182.7 123.8h0M183.1 123.6h0M188.2 124.1h0M148.4 124.9h0M150.7 125.4h0M150.8 124.7h0M151.3 125h0M154.9 124.8h0M155.7 125.1h0M157.2 125.3h0M158.4 124.8h0M159.2 125.2h0M160 125.4h0M160.2 124.7h0M161.6 125.1h0M161.8 124.8h0M162.2 125.2h0M162.7 124.8h0M163.3 125h0M163.6 125.5h0M164.2 124.7h0M170.1 124.6h0M171.3 124.8h0M174.4 125.3h0M176.6 124.9h0M177.2 124.6h0M177.3 124.6h0M178.2 125.2h0M180.1 124.7h0M181.7 125.3h0M184.8 124.7h0M188.8 125.5h0M148.3 126.3h0M148.6 125.8h0M151.5 126h0M151.7 126.1h0M152.6 126.3h0M153.2 125.9h0M156 126.3h0M157 125.7h0M157.6 126.4h0M158.5 125.6h0M159.6 126.2h0M162 125.8h0M164.2 126h0M165.5 126.2h0M165.9 125.7h0M168.1 126.3h0M168.2 126.5h0M168.4 126.5h0M171.4 125.8h0M174.8 125.7h0M178.2 126.2h0M180.6 125.9h0M181.1 125.9h0M181.3 125.8h0M150 126.8h0M152.8 127.1h0M152.9 126.8h0M154.6 126.9h0M154.7 126.6h0M157.6 127h0M160 127.4h0M161.6 127.3h0M163.3 127.4h0M163.9 126.7h0M164.7 126.8h0M165 127.5h0M165.5 127.4h0M166.1 126.6h0M174.3 126.7h0M174.4 126.6h0M177.9 127.1h0M178.9 127h0M180.8 127.5h0M185.9 127.3h0M196.2 127.1h0M196.9 127h0M197.4 126.6h0M149.3 127.6h0M149.3 128.4h0M152.7 127.5h0M153.1 128.4h0M153.8 127.6h0M155.3 128h0M157.7 128h0M158 127.5h0M160.1 127.8h0M163.3 128.2h0M164.2 128.1h0M164.5 128h0M165.9 127.8h0M167.5 128.1h0M167.7 127.7h0M171 128.2h0M172.6 128.1h0M177.1 128h0M178.7 127.7h0M179 128h0M179.9 128.3h0M181.3 128h0M184.2 127.6h0M184.6 128.3h0M186.2 128.2h0M193.8 128.4h0M197.9 128.3h0M150.2 128.5h0M150.9 128.8h0M151.8 129.1h0M153.1 129.1h0M153.1 129h0M153.4 128.9h0M154.6 129h0M156.8 129h0M158.4 128.8h0M160.1 129h0M160.3 128.8h0M163.5 129.1h0M163.7 129h0M164.1 128.6h0M165.3 128.8h0M165.8 129.5h0M170.4 128.8h0M171.5 128.6h0M179 129.1h0M183.2 129.5h0M190.4 129.2h0M191.9 129h0M195.9 128.8h0M148.4 129.9h0M151.2 129.6h0M151.2 129.5h0M152.3 130.1h0M152.5 130.5h0M155.9 130.1h0M156.2 130.1h0M157.3 130h0M157.5 129.5h0M157.7 130.2h0M160.6 130.4h0M161.5 129.6h0M162.4 130.5h0M166.3 129.7h0M166.9 129.6h0M167.4 129.8h0M169.8 129.5h0M172.5 130.1h0M175 129.7h0M177.4 130.3h0M181 130h0M181.2 130.1h0M183.8 129.8h0M184.4 130.4h0M197.8 130.4h0M150.9 130.8h0M151.7 131.2h0M152.1 131.5h0M152.9 131h0M156.4 130.6h0M157.7 131.1h0M159.6 131.5h0M160.8 131.3h0M161.6 130.7h0M165.5 131.1h0M166.2 130.9h0M169.8 130.7h0M174.1 130.8h0M179 131.4h0M181.3 130.6h0M183.5 131.5h0M191.3 130.9h0M200.2 131.2h0M148.1 132.5h0M148.6 131.7h0M149.5 131.8h0M151.5 131.8h0M151.6 132.3h0M152.1 131.6h0M156.5 132.5h0M156.9 131.5h0M157.3 132.3h0M157.9 131.6h0M162.9 132.5h0M164.3 131.8h0M167.1 132.3h0M177.6 131.8h0M179.7 131.6h0M180.5 132.4h0M182.4 132.3h0M183.8 131.7h0M186.6 132.3h0M186.8 132h0M194.1 132.5h0M142.6 133.3h0M149.5 133.2h0M149.5 132.9h0M150.7 133.1h0M151.7 132.8h0M156 133h0M156.1 133.5h0M161.1 132.9h0M165.8 132.6h0M174.8 133.3h0M179.2 132.6h0M180.7 133.2h0M180.8 133.3h0M181 132.8h0M181 133.3h0M181.8 133.4h0M182.6 132.6h0M183.1 133.3h0M189.5 133.4h0M190.9 132.6h0M193.6 132.9h0M146.4 133.9h0M148.9 133.6h0M149.9 133.9h0M153.1 134.2h0M154.2 133.7h0M155.9 133.9h0M158.9 134.2h0M160.3 134.1h0M162.9 133.5h0M164.8 133.5h0M167.7 133.6h0M174.3 134.4h0M182.6 134h0M183.7 133.9h0M184.5 134.2h0M184.9 133.6h0M187.4 133.9h0M187.5 133.7h0M188.5 134.4h0M143.1 134.8h0M152.8 135.2h0M153.2 135.2h0M153.5 135.3h0M154.5 134.8h0M155.8 134.6h0M158.3 134.9h0M162.8 134.6h0M168.6 135.4h0M172.3 135.2h0M173.8 134.7h0M175.7 135.2h0M176.9 135.1h0M177.1 134.9h0M178.2 135.1h0M178.6 134.5h0M179 135.3h0M181.1 134.8h0M181.3 135h0M185.9 134.7h0M186.5 135.3h0M193 134.6h0M149.3 136h0M151 135.7h0M151.7 135.6h0M155.1 136.1h0M156 136.1h0M156.4 136.4h0M157.1 136.2h0M160.8 135.5h0M168.9 135.7h0M178.2 136.5h0M178.7 135.8h0M179 136h0M181.5 135.5h0M182.4 136.4h0M186.8 135.5h0M188 136.5h0M188.6 135.7h0M191.7 136.1h0M122.4 137.1h0M148.4 137h0M148.7 136.8h0M150.5 137.2h0M151.1 137.2h0M153.3 137.1h0M154.9 136.8h0M155 137.5h0M155.2 137.2h0M157.5 136.7h0M158.8 136.5h0M171.3 136.7h0M174 136.6h0M174.1 137.2h0M174.3 136.6h0M179.8 137.3h0M181.2 137.1h0M181.7 137.2h0M184.3 136.9h0M184.5 137.3h0M185.7 136.6h0M185.9 137.3h0M186.1 136.5h0M187.6 137.4h0M189 136.8h0M189.6 137.4h0M190.1 136.7h0M190.9 136.6h0M192.8 136.6h0M148.1 138.2h0M151.4 138.2h0M152.5 137.6h0M153.8 137.6h0M156.9 137.8h0M158 138.1h0M172.4 137.9h0M180 138.4h0M181.1 138.4h0M181.5 138.3h0M181.6 137.7h0M183.9 138.1h0M186.6 137.9h0M186.8 138.3h0M191 137.6h0M191.2 138.4h0M191.4 138.4h0M191.5 137.8h0M191.9 138.4h0M126.3 138.6h0M148.6 138.6h0M150.2 138.8h0M153.4 138.6h0M154 139.4h0M154.4 139.2h0M156.5 138.6h0M162 139.3h0M168.1 139.5h0M170.5 139.2h0M172.9 139.5h0M174.6 139.5h0M176.6 139.1h0M181.4 139.5h0M182.6 139h0M186.3 139.4h0M186.9 138.9h0M189.3 139.5h0M190.8 139.5h0M140.6 140h0M141.6 140.1h0M146.3 140.3h0M147.3 140.1h0M148.3 140h0M148.6 139.7h0M149.1 139.8h0M150.1 140h0M150.6 139.8h0M155.2 140.3h0M156.7 140.3h0M158.6 140.1h0M170.6 140.5h0M172.2 139.5h0M172.3 140h0M183.6 139.8h0M185.2 140.3h0M185.5 139.9h0M185.5 139.6h0M186 140.1h0M186.7 140h0M190.2 140h0M191.7 140.3h0M139 141.3h0M139 141.3h0M140.2 140.5h0M141.2 140.8h0M142 140.6h0M142.6 140.7h0M143.1 140.8h0M145 140.7h0M148.6 140.9h0M150.3 140.9h0M152.6 141.2h0M153.8 141.4h0M154.4 141.5h0M156 140.9h0M156.9 140.6h0M158.4 140.7h0M158.5 141h0M158.6 140.7h0M160.7 140.6h0M161 141.2h0M161.8 141.2h0M163.4 141.1h0M166 141h0M170.3 140.9h0M176.4 141.4h0M177.6 141h0M178 141.3h0M178.1 140.6h0M178.2 141.1h0M180.4 141.1h0M182.9 140.5h0M183.3 141.3h0M184.8 140.9h0M185.3 141h0M191 141.2h0M142.9 142h0M143.1 141.8h0M144.7 141.7h0M151 142.3h0M151.3 141.9h0M154.9 141.9h0M156.6 142.5h0M158 142.3h0M159.6 141.7h0M159.7 142.2h0M160.3 142.5h0M163.4 142.1h0M166 142.4h0M169.7 142.4h0M171.2 142.5h0M171.8 142.3h0M174.3 142.1h0M178 142.3h0M186.8 142.2h0M187.5 141.7h0M188.3 142.2h0M190.1 142.3h0M192.6 142.2h0M136.7 143h0M138 143.2h0M141.8 143.5h0M142.9 143.5h0M143.3 143h0M144.3 142.7h0M147.5 143h0M147.6 143.5h0M147.7 142.6h0M149 142.6h0M150.6 143.2h0M151 142.7h0M156.4 142.6h0M157.9 143.2h0M158.8 142.7h0M159.4 142.6h0M161.1 143h0M161.3 143.2h0M161.3 143.3h0M162.3 143.4h0M163.2 143.2h0M164.7 143.4h0M167.6 142.9h0M169.1 142.7h0M171.7 142.9h0M173 143.3h0M179 142.7h0M183.8 143.2h0M192.9 143.3h0M138.7 144.2h0M138.8 144.3h0M139.1 143.9h0M142.5 144.3h0M142.5 144.4h0M142.6 144.5h0M143.3 143.5h0M143.6 144.2h0M144.1 144h0M145 143.8h0M145.1 143.8h0M147.5 143.8h0M150.3 143.6h0M151.3 144.2h0M151.8 144.5h0M154.9 144.3h0M155.4 143.7h0M156.4 144h0M157.7 143.8h0M158.5 143.7h0M158.8 143.6h0M159.3 143.6h0M159.8 143.7h0M159.9 143.5h0M160.1 144.2h0M161.2 143.8h0M163.4 144h0M166.3 143.6h0M167.2 143.6h0M168.9 144.1h0M169.2 144.1h0M169.9 143.9h0M177.5 144.1h0M179.8 143.6h0M180.2 143.5h0M180.7 143.9h0M183.5 143.5h0M185.3 143.9h0M187 143.7h0M189.2 143.8h0M191.3 144.5h0M192.5 143.7h0M136.8 145.5h0M137 144.6h0M137.2 144.8h0M139.8 145.1h0M141.4 144.8h0M142.5 145.1h0M144.5 144.7h0M145.5 144.7h0M146.3 144.8h0M154.4 145.2h0M159.8 145.3h0M160.3 145.2h0M163.3 144.6h0M167.5 144.7h0M169.4 144.6h0M170.6 145.3h0M170.8 144.5h0M171 145.2h0M171.6 144.7h0M177.5 145.4h0M178.1 144.9h0M178.4 144.8h0M180 144.7h0M188.5 145.3h0M188.5 145.3h0M136.4 146.4h0M136.8 146.3h0M139.4 146.2h0M139.5 146.5h0M140.7 146.3h0M140.9 145.6h0M141.3 145.8h0M141.5 145.9h0M141.9 146.2h0M143.3 145.6h0M143.3 146.3h0M144.2 145.7h0M145.3 145.9h0M147 145.8h0M147.7 146.4h0M154.3 145.6h0M156 145.8h0M156.1 145.7h0M158.8 146.2h0M158.8 146h0M162.4 145.7h0M164.7 145.7h0M169.3 145.9h0M170.1 146.4h0M170.1 146h0M171.5 145.6h0M171.5 145.5h0M173.7 146.4h0M176.4 146.2h0M177.9 146h0M181.2 145.7h0M181.4 146.2h0M184.4 146.3h0M136.5 147.2h0M137.8 147.3h0M138.5 147.2h0M140.3 146.6h0M143.4 147.2h0M143.4 146.8h0M146.4 147h0M146.9 147.5h0M149.6 147h0M150.4 147.3h0M150.6 147.3h0M158.2 147.4h0M158.6 147.1h0M159.3 147h0M159.5 147h0M159.5 147.3h0M162 146.9h0M162.1 146.7h0M163.2 147.3h0M164.3 147.3h0M167.4 147h0M168.2 147.1h0M169 146.5h0M172.3 146.9h0M172.5 146.5h0M173.3 147.5h0M173.7 147h0M175.8 146.7h0M176.3 146.7h0M177.1 147.2h0M178.2 146.7h0M181.6 147.4h0M181.7 146.7h0M183.3 147.5h0M137.7 148.3h0M138.8 147.6h0M141.1 147.9h0M141.1 147.6h0M142.9 148.2h0M143 147.6h0M143.6 147.6h0M145 147.7h0M152.6 148.3h0M155.2 147.6h0M157.5 147.6h0M159.2 147.8h0M162.4 147.5h0M162.8 148.1h0M165.1 147.5h0M166 148h0M166.2 148.2h0M167.5 147.9h0M167.7 148.1h0M168.5 147.6h0M168.8 147.6h0M170.3 147.9h0M170.3 148h0M174.7 147.6h0M176 148.3h0M178.4 147.5h0M137 149h0M138.4 149.1h0M139.4 149.2h0M142.4 149.1h0M143.1 148.7h0M143.5 149.3h0M147.8 149.3h0M150.5 148.6h0M154.8 148.5h0M158 148.9h0M163.5 149.4h0M165.2 149h0M165.6 148.6h0M167.2 148.7h0M167.8 149.5h0M168.6 149.1h0M168.8 148.5h0M170.5 149.2h0M171.3 148.9h0M171.6 148.9h0M171.8 149.1h0M171.9 149h0M173.6 148.5h0M174.1 149h0M184.3 149.4h0M139.3 150.4h0M139.6 149.9h0M139.6 150.1h0M139.8 150.2h0M140 149.6h0M140.2 149.8h0M141.8 149.8h0M142.9 150.4h0M143.9 150.4h0M148.2 150.2h0M149.2 150.4h0M152.2 149.9h0M153.8 150.1h0M158 149.8h0M159.8 150.3h0M169 150.2h0M169.3 149.9h0M171.5 149.9h0M172.7 150.4h0M174 149.7h0M174.2 149.7h0M176.1 149.5h0M177.2 150h0M177.4 149.6h0M177.5 150.1h0M179.4 150h0M138.6 150.8h0M140.3 151.2h0M141.2 150.7h0M141.7 150.7h0M145.6 151.5h0M159.6 150.5h0M162.8 151.3h0M165.4 150.6h0M166.1 151h0M169 151.1h0M169.1 151.2h0M170.7 151.4h0M170.9 150.5h0M171 151.4h0M171.4 151.3h0M171.9 150.9h0M172.8 151h0M174.4 151.2h0M175.5 150.9h0M177.1 151.3h0M178.7 151.5h0M179.6 151.1h0M186.7 151h0M141.4 152.2h0M142.4 151.7h0M157.9 152h0M162 151.6h0M169.9 152.5h0M172.1 152.3h0M172.8 151.9h0M174.4 151.9h0M174.5 151.9h0M175 151.7h0M176.8 152.3h0M178.7 152.1h0M179.2 151.8h0M179.2 152.4h0M141.9 152.5h0M144.3 153.1h0M151.2 152.8h0M152.1 152.7h0M162.1 152.8h0M169.9 152.9h0M171.6 153.2h0M172.4 153.1h0M175.3 153h0M176.7 152.8h0M177.6 152.9h0M179.6 152.7h0M146.6 154h0M151 154.2h0M155.4 154.2h0M162.9 153.8h0M169.6 154.5h0M170.2 153.9h0M173.8 154.5h0M174.8 154.3h0M178.6 153.9h0M179.2 154.4h0M179.4 154.5h0M180.1 153.8h0M181.1 154.1h0M152.1 154.6h0M152.2 155h0M158.7 154.9h0M159 155.4h0M160.3 154.9h0M162.8 154.9h0M165.6 154.8h0M172.1 154.6h0M179.6 155.1h0M181.4 155.2h0M181.5 155.2h0M143.1 155.8h0M153.6 155.6h0M154.1 156.4h0M158.1 156.2h0M163.3 156.1h0M165.5 156h0M168.2 156.5h0M173.1 156.4h0M176.2 156.2h0M178.2 156.4h0M179.1 156.4h0M179.7 155.8h0M179.9 155.6h0M151.8 156.7h0M157.6 156.8h0M162.5 156.9h0M164.6 157.4h0M175.1 157.3h0M176.6 157.3h0M149 157.5h0M155.7 158.2h0M159.2 158.2h0M163.4 157.6h0M164.8 157.6h0M164.9 158.4h0M177.3 157.6h0M157.1 158.9h0M160.3 159h0M174.5 159.5h0M175.1 159.1h0M151 159.8h0M151 160h0M153.7 159.9h0M154.9 159.8h0M155.2 159.8h0M159.5 160.1h0M160.2 160.1h0M166.5 160.5h0M149.3 160.8h0M151.2 160.8h0M151.7 161.2h0M152.1 160.7h0M152.2 160.6h0M154.8 161h0M156 161.5h0M156.9 160.6h0M159.7 160.8h0M152.5 162.2h0M153.4 162h0M154.1 162.3h0M159.8 162.3h0M162.3 162.4h0M165.3 161.6h0M152.9 163h0M153.6 163.4h0M153.6 162.7h0M154.6 163.4h0M154.9 163.3h0M156 162.9h0M157.3 162.6h0M157.3 162.5h0M157.3 162.6h0M161.3 163.3h0M165.4 163.1h0M152.7 164.1h0M153.6 164.4h0M156.4 164.1h0M161 163.8h0M156.5 165.2h0M160.5 165h0M163.9 165.4h0M164.9 165.2h0M158.3 165.7h0M159.9 166h0M160.5 166.2h0M160.6 168.9h0M162.6 172.3h0M162 174.4h0M158.3 174.7h0M159.9 175.1h0M161.7 176.3h0" stroke="#1b6b2a" stroke-width="1.1" stroke-linecap="round" fill="none"/>
<use href="#cn" fill="none" stroke="#1a1a1a" stroke-width="1.25" stroke-linejoin="round"/>
<use href="#pv" fill="none" stroke="#1a1a1a" stroke-width="1.12" stroke-linejoin="round"/>
<use href="#pe" fill="none" stroke="#111" stroke-width="0.95" stroke-linejoin="round"/>
<use href="#coast" fill="none" stroke="#111" stroke-width="1.35" stroke-linejoin="round"/>
<use href="#hn" fill="none" stroke="#111" stroke-width="1.2"/>
<use href="#tw" fill="none" stroke="#111" stroke-width="1.05"/>
<use href="#isx"/><use href="#na"/><use href="#sb"/><use href="#ins"/>
<use href="#hn" transform="translate(64.5 -45.5)" fill="#7db87a" stroke="#111" stroke-width="1.1"/>
</g>
<g transform="translate(263.74 0.58) scale(0.9709)">
<path d="M163.2 115.3L163.7 116.4L162.9 116.8L162.9 116.9L162.6 116.9L160.8 117.8L161.1 118.9L162.9 119.9L164 118.9L165.5 119.1L166.5 118.3L166.7 118.4L168.4 117.9L169.7 119.7L170 119.9L171.9 119L173.2 120.5L175.5 119.8L176.4 120L176.9 119.8L177.4 117.1L176.4 116.1L174.5 117.6L172.3 117.4L172.9 115.4L174.9 114.3L174.9 114.1L173.2 112.7L173 111L171.5 110.9L171 109.7L169.2 109.5L167.8 110.8L168.6 112.4L168.1 112.9L167.1 114.9L166 115.1L164.6 113.9L164.7 113L163 111.5L162.4 112.6L162.3 113.3L162.7 114.1L163.4 114.3ZM154.6 116L156.1 113.7L154.4 112.5L153.3 112.9L152.9 115.3ZM155.2 117.1L153 117.9L153.1 119.3L153.8 119.9L154 119.8L155.4 118.7L155.6 117.5ZM152.1 124.1L152.2 125.7L153.5 126.7L154.7 126.2L154.7 126.2L156.7 123.9L156.3 122.8L153.7 122L153.4 122.1L153.2 122.2L151.8 121.6L151.5 121.1L151.2 121.2L149.3 119.7L149 119.9L147.2 118.3L147.2 118.3L145.6 119.8L146.5 121.3L145.1 123.2L146.7 124.1L148 123.8L149.1 124L149.5 123.5ZM158.1 119.2L157.5 120.6L157.6 121L159.3 121.6L160.1 121.1L160.4 119.9ZM154.9 135.8L155.2 135.2L154.8 134.1L152.8 133.9L151.9 135.3L153.3 137ZM158.8 141.5L159 142.5L160.8 143L161.2 140.5L160.5 139.8L161.8 138.3L161.9 138.1L161.7 136.9L159.6 136.4L158.3 137.3L158 138L159.4 139.8ZM155.5 141.5L155.8 141.1L155.8 140.6L153.1 138.2L152 139.2L151.9 139.6ZM154.2 145.2L154.9 143L153.6 142.7L151.3 143.9L151 145.2L153.3 145.6ZM147.5 147.5L147.9 145.6L146.5 144.9L146 145.3L145 148L145.6 148.6ZM139.6 151.4L142.7 151.8L142.8 149.7L142 149.1L139.6 151.3ZM142.3 154.8L138.9 152.5L138.9 152.5L138.6 153.1L138.6 153.4L139.8 155.8L142.1 155.6L142.1 155.6L145.2 156.9L145.6 155.5L143.6 153.2ZM145 157.7L145.5 157.8L146.4 158.3L146.4 157.7L145.3 157.4ZM156.3 165.3L155.9 165.4L156.5 165.7ZM155.7 178.5L156.5 178.9L156.4 178.2L155.4 177.9ZM177.4 76L178.4 74.8L176.9 75.1L176.4 75.3ZM178.5 108.2L180.9 107.7L180.7 106L180 105.2L178.4 105.7ZM180 115.2L179.3 116.9L180.5 118.2L180.3 119.1L181.8 120.8L183.7 119.3L183.4 118.6L184.5 116.8L186.5 117.7L187.1 117.3L187 115.3L188.3 114.4L189.2 114.7L190.4 114.2L191.1 112.7L189 112.1L188.4 110.5L188.5 110.3L188.7 109.6L187.2 108.1L187.4 105.6L187.7 105.6L189.3 106L189.3 108.9L191.1 108.8L192.2 107.5L192.2 106.7L190.7 105.6L191.1 103.6L191 103.3L189.1 102.3L188.6 102.6L186.5 102.4L185.8 104.4L185.8 105.3L184.5 106L184.4 106.1L184.4 106.9L183.2 108.6L181.1 108.6L180.7 109.5L181.2 111.7L179.5 112.1L177.8 109.9L176 111.1L176.1 111.7L178.3 113L178.4 113.8ZM185.8 112.8L185.4 114.4L183.9 114.8L182.1 112.3L182.2 112.3L184.1 111.7ZM180.7 122.3L179.9 124.4L181.4 124.8L183.6 124.2L182.2 122L181.8 121.8ZM171.4 130.9L170.8 131L170.1 128.9L168.5 128.6L168.3 131.4L169.6 132.2L169.9 133.2L171.4 133.8L172.8 133.2ZM174.5 131.5L174.5 132.3L175.9 133.3L177.8 133.3L177.7 130.9L175.9 130.5ZM166.1 142.7L166.9 141.2L165.3 139.3L164.8 139.1L163.5 140.2L163.1 141L163.5 142.1L163.7 142.3ZM169.5 160L168.6 161.4L167.9 161.8L166.6 161.4L165.7 161.4L165.5 164.6L165.5 164.6L165.9 164.5L167.9 163.2L168.6 164.3L169.3 163.7L170.2 162.5L170.3 162.4L170.2 162.4L170.4 162.3L171.1 161.6L171.8 161.5L171.9 161.4L170.7 159.8ZM190.8 99.5L192.2 101.4L194 101.4L194.3 103.5L194.6 102.6L195.1 101.3L196.4 101L196.5 101L196.5 100.9L197.2 100L196.8 98.3L194.2 99.1L194.2 99.1L190.9 99.3ZM191.6 121.8L191.7 119.3L191.3 118.9L189.2 119.5L188.8 120L188.7 122.4ZM199 136.8L197.7 138L197.8 139.4L197.9 138.9L198.9 137.9L199.2 136.8ZM187.7 146.8L188.9 148.6L188.8 149.5L189.1 148.8L189.5 148.3L190.1 147.6L191.3 147.2L191.1 146.6L189.6 145.2L188.7 145.3ZM188.6 149.9L188.2 150.1L188.1 151.1L188.4 150.3Z" fill="#38a800" stroke="#38a800" stroke-width="0.25" fill-rule="evenodd"/>
<path d="M153.1 96.2L152.4 96.9L151.7 98.4L151.8 99L153 99.9L154.8 97.9L154.8 97.1ZM154.4 112.5L156.1 113.7L156.5 113.8L157.5 113L157.3 110L156 110L154.9 111.1ZM142.2 123.4L141.1 125.1L141.6 126L143.7 126.2L144 126.7L144.3 126.9L146.5 126.1L148.7 127.1L149.1 126.8L151.2 128.3L149.2 130.2L150.4 131.5L151.4 131.4L151.8 128.5L153 127.9L154.6 130.8L154.6 130.8L152.4 131.7L152.8 133.9L154.8 134.1L155.2 135.2L154.9 135.8L153.3 137L153.2 137.9L153.1 138.2L155.8 140.6L155.8 141.1L155.5 141.5L151.9 139.6L151.7 140.5L150.4 141.6L150.3 141.6L148.3 139.3L148.2 139.3L147.7 141.6L147.8 142.1L148.9 142.3L149.2 145.4L150.2 145.7L150.5 147.2L149.1 149.1L149 150.1L150.5 150.8L152 149L153.2 149.8L153.2 151.5L151.5 152.1L151.5 152.1L151.9 153.8L154.5 154.9L154.6 154.9L154.1 151.9L155.3 151.4L155.8 150.2L156.5 149.6L158.5 151L158.7 152L159.7 152.8L161.3 152.1L161.6 149.7L159.9 148.7L159.5 147.9L161 146L161.1 145.7L157.6 144.2L157.6 144.2L159 142.5L158.8 141.5L159.4 139.8L158 138L158.3 137.3L159.6 136.4L161.7 136.9L161.9 138.1L161.8 138.3L160.5 139.8L161.2 140.5L160.8 143L160.8 143L161.3 145.4L162.8 145.2L163.7 142.3L163.5 142.1L163.1 141L163.5 140.2L164.8 139.1L165.3 139.3L166.9 141.2L168.1 140.7L168.6 140.8L170.1 143L170.2 143.1L171.8 142.6L173.1 144.3L172.4 145.4L170.2 145.3L170.2 147.4L171 148.1L172.9 147.5L173.4 147.8L175.4 145.9L176.8 146.9L173.8 148.5L174.4 149.9L172.1 151L170.6 149.8L168.8 150.4L167.4 149.6L167.3 149.6L166.9 149.5L165.2 148.4L166.6 146.2L167.3 146.6L168.9 145.2L167.6 143.7L166.2 143.2L165.7 145.3L164.2 145.9L163.9 148.2L163.3 148.7L163.2 149.1L164 150.3L164.3 152.1L164.5 152.3L165.8 152L168.2 153.9L168.9 152.6L171.8 152.5L171.9 152.4L173.5 153.7L172.5 155.2L172.5 156.7L171.3 157L170.8 159.6L170.7 159.8L171.9 161.4L171.9 161.5L172.5 161.4L173.7 160.9L173.9 159.3L176 159.7L176.6 158.4L176.7 158.2L178.3 158.5L178.7 158.3L179.4 158.1L180.3 157.3L180.4 155.5L181.4 154.6L182.7 156L184 155.6L184.4 154.5L184.5 154.2L185.8 153.5L186.4 153.5L187.6 153.4L187.8 152.3L187.9 151.8L188.1 151.1L188.2 150.1L188.6 149.9L188.8 149.5L188.9 148.6L187.7 146.8L188.7 145.3L189.6 145.2L190.5 143.5L192.9 143.4L192.9 145L193.2 144.6L193.9 143.4L194.3 142.7L194.6 142.2L195.5 141.4L196.6 140.9L197.4 140.2L197.5 140.1L197.8 139.4L197.7 138L199 136.8L197.8 135.2L196.2 135.6L195.2 134.7L194.1 134.7L193.8 136.3L194.5 138L194.3 138.4L192 139.1L190.9 137.8L188.4 139.5L188.7 140.3L187.4 141.7L187.3 142.5L187 142.9L186.4 143L184.8 144.6L184.7 144.8L182.7 145.1L182.6 147.6L183.6 147.8L184.6 150.1L185.9 150L186.3 152.4L186.1 152.8L184.8 153L183.5 151.6L181.5 153.7L180 151.9L177.9 153L177.5 153L176.3 154.9L178 155.7L177.9 157L176 157.1L175.3 156.5L175.7 155.1L174.2 153.7L175.2 151.4L174.8 150.1L176.4 149.3L178 149.9L179.3 149.8L180 148L177.9 146.6L178.6 144.3L179.3 144.1L180.3 142.9L179.5 141L182.2 140.6L181.7 139L183 137.4L184.9 139.2L186.1 138.6L185.2 135.4L184.5 135.1L184.4 134L183.5 133.2L181.1 133.4L180.5 132.3L180.7 131.6L181.5 131.2L183.1 131.2L184.3 130.1L185.4 130.8L185.8 132.5L187.7 132.9L188.1 131.6L189.4 130.4L189.7 130.4L190.4 131.4L193.2 130.6L192.9 129.6L193.2 128.4L195.5 128L196.1 126.8L197.4 126.8L198.4 125.2L199.7 124.9L200.4 125.5L200.6 126.6L201 126.9L201.4 126.7L201.4 126.7L200.9 125.4L200.7 125.3L199.9 124.9L199.7 124.9L198.5 125.2L199.2 123.8L199.6 123.5L200.4 122.8L200.3 122L200.3 121.7L199.5 120.9L199 119.5L199 119.5L198.7 118L197.8 117.2L197.5 117L197.5 115.7L197.6 115.6L196.4 114.6L196.6 113.2L196.4 113L195.8 112L195.7 110.9L195.2 111.1L194.4 109.3L194.9 108.9L194.1 108.5L193.8 107L193.7 106.1L193.7 105.5L194.1 104L194.1 104L194.3 103.5L194 101.4L192.2 101.4L190.8 99.5L189 100.8L187.8 100L185.6 100.6L186.5 102.4L188.6 102.6L189.1 102.3L191 103.3L191.1 103.6L190.7 105.6L192.2 106.7L192.2 107.5L191.1 108.8L189.3 108.9L189.3 106L187.7 105.6L187.4 105.6L187.2 108.1L188.7 109.6L188.5 110.3L188.4 110.5L189 112.1L191.1 112.7L190.4 114.2L189.2 114.7L188.3 114.4L187 115.3L187.1 117.3L186.5 117.7L184.5 116.8L183.4 118.6L183.7 119.3L181.8 120.8L181.8 121.8L182.2 122L183.6 124.2L181.4 124.8L179.9 124.4L180.7 122.3L178.7 121.2L177.7 123.4L175.9 122.3L176.4 120L175.5 119.8L173.2 120.5L171.9 119L170 119.9L169.7 119.7L168.4 117.9L166.7 118.4L166.5 118.3L165.5 119.1L164 118.9L162.9 119.9L161.1 118.9L160.8 117.8L159.5 118.4L158.2 118.1L156.7 117.7L155.4 118.7L155.3 119.4L157.5 120.6L158.1 119.2L160.4 119.9L160.1 121.1L159.3 121.6L157.6 121L156.3 122.8L156.7 123.9L154.7 126.2L154.7 126.2L153.5 126.7L152.2 125.7L152.1 124.1L149.5 123.5L149.1 124L148 123.8L146.7 124.1L145.1 123.2L146.5 121.3L145.6 119.8L144.5 119.6L144.3 118.7L143 119L141.8 119L141.5 119.7L141.5 119.8L143.1 120.9L143.1 120.9L141.8 122.6ZM173.1 140.6L173.2 138.4L173.1 138.4L172.1 136.5L173.9 135.2L175.7 136.1L175.9 136.4L175.2 137.7L176.8 140.1L175.2 141.3L175 141.4ZM174.5 131.5L175.9 130.5L177.7 130.9L177.8 133.3L175.9 133.3L174.5 132.3ZM173.5 126.7L174.1 126.2L177 127.2L177.2 127.4L177.2 127.5L176 128.7L174.3 128.3ZM168.8 136L169.1 136.7L167.8 137.9L166.9 137.8L165.3 136L166 135.3ZM160.5 133.2L160.9 131.8L162.9 130.9L164 131.8L164.2 132.6L163 134.9ZM155.9 128.5L155.4 126.8L157.8 126.9L158.4 128.6L159.6 128.8L160 130.9L157.9 131.1L157.4 130.4L155 130.5ZM154.2 145.2L153.3 145.6L151 145.2L151.3 143.9L153.6 142.7L154.9 143ZM170.1 128.9L170.8 131L171.4 130.9L172.8 133.2L171.4 133.8L169.9 133.2L169.6 132.2L168.3 131.4L168.5 128.6ZM180.7 127.6L181.7 127L182.2 126.9L184.1 129L184 129L181.7 129L180.6 128.1ZM184.3 124.3L186.2 125.3L186.7 126.2L185.9 127.7L184.9 128L183.7 125.6L184 124.4ZM189.2 119.5L191.3 118.9L191.1 117.2L191.3 117L194.3 117.2L194.9 116.3L195 116.3L196.9 118.3L196.8 119.4L194.3 119.5L194.3 122.2L193.3 122.8L191.6 121.8L191.6 121.8L188.7 122.4L188.8 120ZM134.9 139.5L134 138L132.7 139.3L133.6 140.5ZM139.6 151.3L142 149.1L142.8 149.7L142.7 151.8L143.7 152.8L143.6 153.2L145.6 155.5L146.7 154.9L146.3 153.1L147.7 152L147.8 150.8L146.1 150.1L145.6 148.6L145 148L144.9 148L143.1 146.9L141.6 147.8L140.1 147.3L139.8 145.7L137 145.8L136.7 148.1L139.2 148.3L139.4 150.6ZM145 157.7L145.3 157.4L145.2 156.9L142.1 155.6L142.1 155.6L139.8 155.8L140.9 158.3L141.2 158.5L141.8 158.5L142.8 158.5L143.1 158.4L144 157.6ZM153.5 156.5L151.3 157L151.6 158.9L153.3 159.7L154.2 158.9L156.2 160.1L156.3 160.5L157.6 161.4L157.8 161.3L159.5 159L159.5 158.9L159.7 158.1L158.4 156.7L157.2 156.6L156.5 157.7L154.3 157.7ZM154.1 162L153.5 161.7L152.9 161.9L150.6 160.4L150.2 160.5L149.2 161.6L150.3 162L150.3 162.6L151.4 163.4L153.4 164.6L154.3 162.7ZM156 174.6L157.4 173L155.7 174.4L155.4 174.7L155.3 174.9L154.8 176.8L155.4 177.9L156.4 178.2L156.5 178.9L157.4 179.4L159.5 179L159.5 179L160.6 177.9L161.2 177.3L161.9 175.9L162 175.6L160.3 175L159.9 175.2L159.8 177.7L157.2 177L157.2 176.2ZM160 87.8L161.9 86.9L161.9 86.8L160.5 85.1L160.1 85L158.2 85.2L158.2 86.6ZM164.7 113L164.6 113.9L166 115.1L167.1 114.9L168.1 112.9L168.6 112.4L167.8 110.8L169.2 109.5L169.1 108.3L170 107.1L171.8 107.9L171 109.7L171.5 110.9L173 111L173.2 112.7L174.9 114.1L174.9 114.3L172.9 115.4L172.3 117.4L174.5 117.6L176.4 116.1L177.4 117.1L176.9 119.8L178.4 120.5L180.3 119.1L180.5 118.2L179.3 116.9L180 115.2L178.4 113.8L178.3 113L176.1 111.7L176 111.1L177.8 109.9L179.5 112.1L181.2 111.7L180.7 109.5L181.1 108.6L183.2 108.6L184.4 106.9L184.4 106.1L184.5 106L182.8 103.4L184.2 102.7L184.7 100.8L182.9 100.5L181.7 101.1L181.1 102.9L180.4 103.5L178.5 102.1L177.9 102L176.4 102.7L176.1 103.5L174.3 104.2L173.5 103.6L172.1 103.6L171.9 104L171.9 105.7L171.1 105.7L169.7 106.4L167.2 107.7L167.2 107.7L166.3 108L166.1 108.1L166 108.1L163.2 109L163.6 110.3L163 111.3L163 111.5ZM178.1 109.4L176.7 107.9L176.7 106.6L178 105.7L178.4 105.7L180 105.2L180.7 106L180.9 107.7L178.5 108.2L178.1 109.4ZM160.4 110.7L160.3 112L161.8 113.6L162.4 112.6L162.7 111.2ZM165.5 164.6L165.7 161.4L165.1 161.3L162.9 162.9L165.2 164.8L164.5 165.7L164.6 165.8L165.4 164.7ZM159.9 168.8L161.5 169L161.3 168.2L162 167L162.2 166L161.6 165.3L159.8 166.3L159.6 167.4L159.8 167.6ZM159.7 172.1L158 172.8L158 172.8L159.5 172.5ZM163 172.5L162.1 171.7L162.1 171.8L162.1 172.5L163.2 173.4ZM172.9 79.6L172.7 81.3L173.4 82.6L174.6 82.6L175.2 81.6L175.5 80.2L176.5 79.4L178 80.1L178.6 80.1L179.5 77.4L177.5 76.6L177.4 76L176.4 75.3L174 76.2L174.1 77.2L173.6 77.8L173.4 79.3ZM176.4 88.2L177.3 86.2L176.3 84.4L175.6 84.3L174.8 85.4L174.8 85.5L174.5 86.6L176.1 88.3ZM185.4 77.6L183.8 78.1L183.2 77.4L180.9 78.1L181.2 79.4L182.9 80.1L183.6 79.7L185.3 80.6L187.2 79.7L187.2 78.7ZM185.8 84.1L186.7 83.8L186.7 83.7L185.2 81L184.2 82.4L182.6 81.2L181.6 82.3L181.6 83.4L182.6 84.5L184.1 83.8ZM184.9 97.1L184.9 97.3L185.4 99.7L187.9 97.5L187.6 97L186.9 96.4L186.2 96.4ZM185.8 112.8L184.1 111.7L182.2 112.3L182.1 112.3L183.9 114.8L185.4 114.4ZM180.6 157.5L180.8 157.8L181.5 157.7L181.6 157.5ZM197 97.3L198 97.2L199.7 99.1L199.2 99.8L197.2 100L196.5 100.9L196.5 101L197.5 100.6L199 100.7L199.2 100.1L199.6 99.3L200.9 99.1L201.2 98.9L201.8 98.1L200.6 98.1L200.5 98.1L200.4 96.8L199.1 96.1L199.1 96.1L198.3 95.1L198.1 94.8L197.5 94.6L196.3 94.6L196.3 96.5ZM192.6 145.6L191.1 146.6L191.3 147.2L191.8 147L192.5 145.8Z" fill="#54b400" stroke="#54b400" stroke-width="0.25" fill-rule="evenodd"/>
<path d="M139.4 124L139.3 124L138.5 126.5L139.6 127.9L137.4 129.5L137.6 130.6L140.1 131.3L140.7 130.2L143.1 130.9L143.7 130.7L144.5 131.3L145.5 130.8L146.2 128.9L148.1 128.6L148.7 129.9L149.2 130.2L151.2 128.3L149.1 126.8L148.7 127.1L146.5 126.1L144.3 126.9L144 126.7L141.6 128.8L140.6 128.9L139.8 127.9L141.6 126L141.1 125.1L142.2 123.4L141.8 122.6L143.1 120.9L143.1 120.9L141.5 119.8L141.5 119.7L140.1 119L139.3 119L138 119L137.6 119.4L138.5 119.8L138.6 121.2L139.6 121.9L139.8 122.5ZM133.9 128.4L135.2 128.7L135.5 128.5L136.4 126.2L135.9 125.3L135.4 125.1L133.8 126.2L133.6 128ZM154.6 130.8L153 127.9L151.8 128.5L151.4 131.4L150.4 131.5L149.5 133.2L151.6 135.3L151.9 135.3L152.8 133.9L152.4 131.7L154.6 130.8ZM121.2 138.3L122.2 139L123.2 137.5L123.2 136.4L121.7 135.5ZM139.9 137.8L141.3 140.6L139.9 141L138.7 142.7L138.1 143L136.9 142.8L136.6 143L136.2 144.8L137 145.8L139.8 145.7L139.9 145.4L140.7 144.8L143.3 145.1L143.3 145.1L143.1 146.9L144.9 148L145 148L146 145.3L146.5 144.9L147.9 145.6L147.5 147.5L145.6 148.6L146.1 150.1L147.8 150.8L149 150.1L149.1 149.1L150.5 147.2L150.2 145.7L149.2 145.4L148.9 142.3L147.8 142.1L147.7 141.6L145.7 140.3L147.1 138.6L146.9 138L145.5 137.9L143.7 138.4L143.3 137.7L139.9 137.8L139.9 137.7L137.6 137.2L137.1 140.1L137.2 140.1L137.7 140ZM152 149L150.5 150.8L151.5 152.1L153.2 151.5L153.2 149.8ZM138.9 152.5L139.6 151.4L139.6 151.3L139.4 150.6L137.3 149.8L138 152L138 152.1L138.9 152.5ZM148.6 158L147.9 159.6L148.9 159.9L148.8 161.4L149.2 161.6L150.2 160.5L150.6 160.4L152.9 161.9L153.5 161.7L154.1 162L154.3 162.7L153.4 164.6L154.6 165.4L155.5 165.3L155.9 165.4L156.3 165.3L156.5 165.7L156.9 165.9L158.4 166.2L158.4 166.2L159.1 166.9L159.6 167.4L159.8 166.3L161.6 165.3L161.7 164L162.5 162.9L162.9 162.9L165.1 161.3L165.7 161.4L166.6 161.4L167.9 161.8L168.6 161.4L169.5 160L170.7 159.8L170.8 159.6L171.3 157L172.5 156.7L172.5 155.2L173.5 153.7L171.9 152.4L171.8 152.5L168.9 152.6L168.2 153.9L168.2 154L167.8 154.3L166.9 156.5L164.6 156.9L164.5 156.8L164.9 154.6L164.4 153.8L164.5 152.3L164.3 152.1L164 150.3L163.2 149.1L163.3 148.7L163.9 148.2L164.2 145.9L165.7 145.3L166.2 143.2L167.6 143.7L168.9 145.2L167.3 146.6L166.6 146.2L165.2 148.4L166.9 149.5L167.3 149.6L167.4 149.6L168.8 150.4L170.6 149.8L172.1 151L174.4 149.9L173.8 148.5L176.8 146.9L175.4 145.9L173.4 147.8L172.9 147.5L171 148.1L170.2 147.4L170.2 145.3L172.4 145.4L173.1 144.3L171.8 142.6L170.2 143.1L170.1 143L168.6 140.8L168.1 140.7L166.9 141.2L166.1 142.7L163.7 142.3L162.8 145.2L161.3 145.4L160.8 143L160.8 143L159 142.5L157.6 144.2L157.6 144.2L161.1 145.7L161 146L159.5 147.9L159.9 148.7L161.6 149.7L161.3 152.1L161.7 152.3L162.6 154.4L161.8 155.8L162.3 156.9L159.7 158.1L159.5 158.9L159.5 159L157.8 161.3L159.7 161.6L159.8 163.5L157.9 163.9L157.6 163.8L157.6 161.4L156.3 160.5L156.2 160.1L154.2 158.9L153.3 159.7L151.6 158.9L151.3 157L153.5 156.5L154.3 157.7L156.5 157.7L157.2 156.6L156 154.9L156 154.9L159.7 154L159.7 152.8L158.7 152L158.5 151L156.5 149.6L155.8 150.2L155.3 151.4L154.1 151.9L154.6 154.9L154.5 154.9L151.9 153.8L151.5 152.1L149 153.9L148.9 154L150.4 156.4L148.6 157.5ZM126.2 164.2L127.7 166.3L128 166.5L129.4 166.1L128.8 163.6L126.9 163.5ZM162.3 83L160.5 85.1L161.9 86.8L163.7 85.2L163.7 85.1ZM156.5 113.8L156.1 113.7L154.6 116L155.2 117.1L155.6 117.5L156.8 117.2L157.3 115.4ZM152 117.1L151.5 119.4L151.3 120.7L151.5 121.1L153.8 119.9L153.1 119.3L153 117.9ZM157.9 131.1L160 130.9L159.6 128.8L158.4 128.6L157.8 126.9L155.4 126.8L155.9 128.5L155 130.5L157.4 130.4ZM160.9 131.8L160.5 133.2L163 134.9L164.2 132.6L164 131.8L162.9 130.9ZM160 169.1L160.2 170.7L161.7 170.7L161.6 169.4L161.5 169L159.9 168.8ZM158 172.8L158 172.8L157.4 173L157.4 173L156 174.6L157.2 176.2L157.2 177L159.8 177.7L159.9 175.2L160.3 175L162 175.6L162.2 175.4L162.3 175.3L163.2 173.6L163.2 173.4L162.1 172.5L162.1 171.8L162.1 171.7L159.7 172.1L159.7 172.1L159.5 172.5ZM174 94L172.7 93.8L172.1 96.2L173.8 96.5L173.9 96.5L174.7 96.5L177 95.1L176 93L176.4 92.2L177.1 91.6L176 88.5L175 89L173.9 89.1L173.4 91L173.3 91.4L173.2 91.9L174.3 93.5ZM176.1 103.5L176.4 102.7L174.9 100.4L174 101.4L173.5 103.6L174.3 104.2ZM165.3 102.3L165.4 102.8L168.2 104.1L168.5 101.3L168.1 100.9L167.7 100.9L165.5 101.8L165.4 101.9ZM173.5 126.7L174.3 128.3L176 128.7L177.2 127.5L177.2 127.4L177 127.2L174.1 126.2ZM166.9 137.8L167.8 137.9L169.1 136.7L168.8 136L166 135.3L165.3 136ZM176.8 140.1L175.2 137.7L175.9 136.4L175.7 136.1L173.9 135.2L172.1 136.5L173.1 138.4L173.2 138.4L173.1 140.6L175 141.4L175.2 141.3ZM173.7 160.9L173.7 160.9L175.1 160.9L176 159.8L176 159.7L173.9 159.3ZM168.3 164.6L168.6 164.3L167.9 163.2L165.9 164.5L166.7 164.3ZM181.3 74.3L181.3 74.4L181.1 74.4L181 74.4L178.4 74.8L177.4 76L177.5 76.6L179.5 77.4L180.1 77.4L180.9 78.1L183.2 77.4L183.8 78.1L185.4 77.6L187.2 78.7L187.2 79.7L187.5 79.9L190.3 79.8L189.8 78.2L188.7 77.2L188.3 77L186.6 75.8L185.8 75.2L185.1 74.7L183.8 73.7ZM178.1 83.3L178.5 83.4L179.2 83.9L181.6 83.4L181.6 82.3L179.8 80.9L179.7 80.8L178.6 80.1L178 80.1L176.5 79.4L175.5 80.2L175.2 81.6L174.6 82.6L175.6 84.3L176.3 84.4ZM182.9 80.1L182.6 81.2L184.2 82.4L185.2 81L185.3 80.6L183.6 79.7ZM179.2 85.9L177.3 86.2L176.4 88.2L179.1 88.6L180 89.4L182.1 87.4L182.5 86.6L182.4 86.4L179.3 85.9ZM180.5 94.4L182.4 92.5L182.3 91.5L180.1 90.7L179.1 91.6L179.4 93.7ZM178.7 98.2L179.4 99.1L178.5 102.1L180.4 103.5L181.1 102.9L181.7 101.1L182.9 100.5L184.7 100.8L184.2 102.7L182.8 103.4L184.5 106L185.8 105.3L185.8 104.4L186.5 102.4L185.6 100.6L187.8 100L188 97.7L190 98L190.7 98.3L191.8 96.8L191.6 95.4L192.4 94.5L189.8 94.4L189.3 93.8L188.1 92.3L187.8 92.2L186.9 92.2L186.7 92.7L187.6 95.3L186.9 96.4L187.6 97L187.9 97.5L185.4 99.7L184.9 97.3L184.9 97.1L186.2 96.4L185.2 93.9L184.8 93.8L183.4 94.3L182.7 96L182.2 96.1L181.3 96L178.8 97.6ZM178 105.7L176.7 106.6L176.7 107.9L178.1 109.4L178.1 109.4L178.5 108.2L178.4 105.7ZM176.9 119.8L176.4 120L175.9 122.3L177.7 123.4L178.7 121.2L178.4 120.5ZM180.6 128.1L181.7 129L184 129L184.1 129L182.2 126.9L181.7 127L180.7 127.6ZM180.7 131.6L180.5 132.3L181.1 133.4L183.5 133.2L184.4 134L184.5 135.1L185.2 135.4L186.1 138.6L184.9 139.2L183 137.4L181.7 139L182.2 140.6L179.5 141L180.3 142.9L179.3 144.1L178.6 144.3L177.9 146.6L180 148L179.3 149.8L180 151L180 151.9L181.5 153.7L183.5 151.6L183.5 150.8L184.6 150.1L183.6 147.8L182.6 147.6L182.7 145.1L184.7 144.8L184.8 144.6L186.4 143L187 142.9L187.3 142.5L187.4 141.7L188.7 140.3L188.4 139.5L190.9 137.8L190.7 136.9L193.8 136.3L194.1 134.7L195.2 134.7L196.2 135.6L197.8 135.2L198.2 133.9L197 132.7L198.3 131.1L197.1 129.8L196.1 129.6L195.5 128L193.2 128.4L192.9 129.6L193.2 130.6L190.4 131.4L189.7 130.4L189.4 130.4L188.1 131.6L187.7 132.9L185.8 132.5L185.4 130.8L184.3 130.1L183.1 131.2L181.5 131.2ZM175.7 155.1L175.3 156.5L176 157.1L177.9 157L178 155.7L176.3 154.9L177.5 153L177.2 152.5L178 149.9L176.4 149.3L174.8 150.1L175.2 151.4L174.2 153.7ZM182.5 156.1L182.7 156L181.4 154.6L180.4 155.5L180.3 157.3L179.4 158.1L179.8 157.9L180.8 157.8L180.6 157.5L181.6 157.5ZM193.3 122.8L194.3 122.2L194.3 119.5L194 119.2L191.7 119.3L191.6 121.8L191.6 121.8Z" fill="#70c000" stroke="#70c000" stroke-width="0.25" fill-rule="evenodd"/>
<path d="M135.5 128.5L135.2 128.7L133.9 128.4L133.6 128.7L133.5 130L134.9 131.5L134.9 131.6L137.6 130.6L137.3 133.5L137.1 133.7L137 133.9L138 135L138 135.3L137.6 137.2L139.9 137.7L140.2 136.1L141.1 134.9L140.8 133.5L140.4 133.1L140.1 131.3L137.6 130.6L137.4 129.5L139.6 127.9L138.5 126.5L139.3 124L137 123.8L135.9 125.3L136.4 126.2ZM143.7 126.2L141.6 126L139.8 127.9L140.6 128.9L141.6 128.8L144 126.7ZM144.5 131.3L143.7 130.7L143.1 130.9L141.3 133.2L144.6 133ZM136.9 142.8L138.1 143L138.7 142.7L139.9 141L141.3 140.6L139.9 137.8L137.7 140L137.2 140.1ZM145.7 140.3L147.7 141.6L148.2 139.3L147.1 138.6ZM143.1 146.9L143.3 145.1L143.3 145.1L140.7 144.8L139.9 145.4L139.8 145.7L140.1 147.3L141.6 147.8ZM136.7 148.1L136.7 148.1L137.3 149.8L139.4 150.6L139.2 148.3ZM124.5 157L124.7 159.1L123.5 160L124 161.4L124.1 161.4L126.3 160.4L126.7 160.3L127.4 158L127.3 157.8L125.1 156.8L125.6 154.7L125.5 154.6L122.9 154.3L122.6 157ZM146.8 158.5L147.5 159.5L147.9 159.6L148.6 158L148.6 157.5L150.4 156.4L148.9 154L147 154.9L146.7 154.9L145.6 155.5L145.2 156.9L145.3 157.4L146.4 157.7L146.4 158.3ZM131.9 159.6L131.1 158.9L129.4 159.2L128.6 161L130.8 162L131.6 161.4L131.9 159.7ZM126.2 164.2L125.8 164.3L125.5 165L125.6 165.3L126.9 165.9L127 166L127.7 166.3ZM168.9 76.5L170.5 78L171.4 77.3L172.1 75.2L172.6 74.9L172 73.5L170.5 74.1L170.6 74.9L169 75.5ZM171.2 84.4L171.4 83.1L169.1 82.9L168.3 83.8L168.3 84.5L168.4 84.7ZM162.4 91.9L164.8 91.8L164.9 88.9L163.2 88.8ZM172.1 96.2L172 96.6L172.4 99.4L172.6 101.3L172.7 102.2L172.1 103.6L173.5 103.6L174 101.4L174.9 100.4L174.9 100.3L173.6 99L173.8 96.5ZM160.4 117L160.7 117.2L162.6 116.9L162.9 116.8L163.2 115.3L162.7 114.1L162 113.9L160.2 115.8L159.8 115.4L158.9 113.3L157.5 113L156.5 113.8L157.3 115.4L156.8 117.2L158.3 117.9ZM152 117.1L153 117.9L155.2 117.1L154.6 116L152.9 115.3L151.4 116.1L151.4 116.4L152 117ZM150.4 115.4L149.7 114.9L148.7 115L148.5 115.3L148.3 116.9L150.4 118.7L151.4 116.7L151.4 116.4ZM150.4 141.6L151.7 140.5L151.9 139.6L152 139.2L153.1 138.2L153.2 137.9L153.3 137L151.9 135.3L151.6 135.3L149.5 133.2L148.2 133.8L148.6 136.1L149.8 136.6L150.3 138.4L148.3 139.3L150.3 141.6ZM151.5 152.1L151.5 152.1L150.5 150.8L149 150.1L147.8 150.8L147.7 152L149 153.9ZM164.4 153.8L164.9 154.6L164.5 156.8L164.6 156.9L166.9 156.5L167.8 154.3L168.2 154L168.2 153.9L165.8 152L164.5 152.3ZM157.2 156.6L158.4 156.7L159.7 158.1L162.3 156.9L161.8 155.8L162.6 154.4L161.7 152.3L161.3 152.1L159.7 152.8L159.7 154L156 154.9L156 154.9ZM179.8 80.9L181.6 82.3L182.6 81.2L182.9 80.1L181.2 79.4L180.9 78.1L180.1 77.4L179.5 77.4L178.6 80.1L179.7 80.8ZM185.2 81L186.7 83.7L186.7 83.8L188.7 85.9L190.4 84.6L191.3 84.6L191.5 84.1L190.7 81.2L190.3 79.8L187.5 79.9L187.2 79.7L185.3 80.6ZM182.1 87.4L183 89.5L184.3 88.7L182.9 86.8L185.4 86.8L185.8 84.1L184.1 83.8L182.6 84.5L181.6 83.4L179.2 83.9L178.5 83.4L178.1 83.3L176.3 84.4L177.3 86.2L179.2 85.9L179.3 85.9L182.4 86.4L182.5 86.6ZM187 91L188 89.8L188 89.8L188 89.4L188.9 88.1L189.4 87.9L188.5 86.9L186.4 87.7L185.8 89.6L185.9 90.2L185.8 90.5L183.9 91.1L184.8 93.8L185.2 93.9L186.2 96.4L186.9 96.4L187.6 95.3L186.7 92.7L186.9 92.2L187.8 92.2L187.9 92.1ZM176 88.5L177.1 91.6L176.4 92.2L176 93L177 95.1L177.5 95.3L178.8 97.6L181.3 96L180.5 94.4L179.4 93.7L179.1 91.6L180.1 90.7L180 89.4L179.1 88.6L176.4 88.2L176.1 88.3ZM187.8 100L189 100.8L190.8 99.5L190.9 99.3L190.7 98.3L190 98L188 97.7ZM177.6 101.3L177.9 102L178.5 102.1L179.4 99.1L178.7 98.2L177.4 98.7ZM179.3 149.8L178 149.9L177.2 152.5L177.5 153L177.9 153L180 151.9L180 151Z" fill="#8dcd00" stroke="#8dcd00" stroke-width="0.25" fill-rule="evenodd"/>
<path d="M148.7 129.9L148.1 128.6L146.2 128.9L145.5 130.8L147.2 131.4ZM137.3 133.5L137.6 130.6L134.9 131.6L136.3 133.1L137.1 133.7ZM141.3 133.2L140.8 133.5L141.1 134.9L140.2 136.1L139.9 137.7L139.9 137.8L143.3 137.7L143.7 138.4L145.5 137.9L146.9 138L147.1 138.6L148.2 139.3L148.3 139.3L150.3 138.4L149.8 136.6L148.6 136.1L148.2 133.8L147.6 133.6L147 133.7L146.1 135.7L144.7 135.7L143.9 135.5L144.7 133.1L144.6 133ZM127 133.3L125.7 133.2L124.9 133.9L125 134.6L126.5 136.2L127.5 136.1L127.8 134.3ZM131.7 142.6L133.1 144L132.6 145.6L133.9 146.8L133.9 146.8L135.9 144.4L135.9 143.5L135.9 143.4L133.5 140.7L132 141.6ZM123 147.5L121.1 147.2L120.2 148.6L121 150L122.4 149.8L122.6 149.5ZM125.6 151.9L124.9 152.4L125.5 154.6L125.6 154.7L127.6 154.3L127.3 152.6ZM148.9 154L149 153.9L147.7 152L146.3 153.1L146.7 154.9L147 154.9ZM122.4 153.5L120.5 152.4L119.6 153.1L119.4 153.9L120.8 154.9ZM136.2 154.2L136.1 154.4L135 155.1L134.9 157L135.5 157.7L137.3 156.2L138.8 156.2L139 155.9L138.6 153.4L138.5 153.1ZM123.7 161.4L124 161.4L123.5 160L122.7 159.4ZM126.9 163.5L128.8 163.6L129.4 166.1L130.1 166.2L130.2 166L131.4 165.3L131.5 165.2L130.6 162.8L130.8 162L128.6 161L127.3 161ZM203.7 72.3L203 73.8L203.1 74.1L204 74.7L206.1 74.1L206.5 73.4L204.3 72.1ZM172.4 77.6L173.4 76.5L172.6 74.9L172.1 75.2L171.4 77.3ZM161.4 76.7L161.3 76.1L159 76.5L158.3 76.8L158.3 77.2L160 77.8ZM170.5 79.7L171.6 80.4L172.9 79.6L173.2 77.8L172.4 77.6L170.5 79.5ZM186.4 87.7L188.5 86.9L188.7 85.9L186.7 83.8L185.8 84.1L185.4 86.8ZM169 89.9L171.4 88.8L169.2 87.3L168.6 89.6ZM182.3 91.5L182.4 92.5L180.5 94.4L181.3 96L182.2 96.1L182.7 96L183.4 94.3L184.8 93.8L183.9 91.1L185.8 90.5L185.9 90.2L185.8 89.6L184.3 88.7L183 89.5L183 91.2ZM172 90.9L170 90.8L168.8 92.8L168.7 93.6L168.9 93.7L171.2 93.3L172.1 91.2ZM177 95.1L174.7 96.5L173.9 96.5L173.8 96.5L173.6 99L174.9 100.3L174.9 100.4L176.4 102.7L177.9 102L177.6 101.3L177.4 98.7L178.7 98.2L178.8 97.6L177.5 95.3ZM159.4 96.4L158.6 95.9L157 97L157.4 98.7L158.3 99.2L159.4 99ZM161.6 103.4L161.6 103.4L161.9 104.7L164.4 105.1L165.3 103.7L165.4 102.8L165.3 102.3L162.8 102.7ZM157.3 110L157.5 113L158.9 113.3L160.3 112L160.4 110.7L160.2 110.2L157.5 109.9Z" fill="#a9d900" stroke="#a9d900" stroke-width="0.25" fill-rule="evenodd"/>
<path d="M155.2 85.6L155.8 87.3L156.8 87.9L158.2 86.6L158.2 85.2L160.1 85L160.5 85.1L162.3 83L163.7 85.1L165.2 84.7L166.2 85.2L167.8 84.1L168.1 83.6L166.1 81.9L165.5 82.2L163.7 81.5L162.2 82.4L161.3 81.9L160 82L159.3 81.9L157.5 83L157.8 84.7ZM157.4 98.7L155.8 99.9L155.6 100.7L157.3 102.1L157.7 102.1L158 101.5L160.9 100.1L161 99.8L159.4 99L158.3 99.2ZM147.2 131.4L145.5 130.8L144.5 131.3L144.6 133L144.7 133.1L143.9 135.5L144.7 135.7L146.1 135.7L147 133.7L147.6 133.6L148.2 133.8L149.5 133.2L150.4 131.5L149.2 130.2L148.7 129.9ZM140.1 131.3L140.4 133.1L140.8 133.5L141.3 133.2L143.1 130.9L140.7 130.2ZM133.5 140.7L135.9 143.4L135.9 143.5L136.6 143L137 141L137.1 140.1L136.1 139.1L134.9 139.5L133.6 140.5ZM128.2 143.5L126.5 142.7L125 143.2L125 144.6L125.7 144.9L127.6 144.9ZM123.4 146.9L123.2 145.7L122.6 145.3L121.7 145.6L121.8 146L121.1 147.2L123 147.5ZM130.9 146.8L132.4 149.2L133.9 146.8L132.6 145.6L132.3 145.6ZM131.9 159.7L131.6 161.4L130.8 162L130.6 162.8L131.5 165.2L132.4 163.9L132.4 163.1L133.1 162.6L133.1 162.2L133.6 162.3L134.6 161.7L135.4 161.4L135.8 161.3L136.5 161.3L136.9 161.2L137 161.4L137.2 161.4L138.3 160.3L139.3 159.7L139.5 159.6L141.1 159.5L141 158.5L140.9 158.3L138.9 156.7L137.9 159.5L137.4 159.8L135.5 157.9L135.5 157.7L134.9 157L133.1 156.8L132.3 155.8L130.7 157.9L131.1 158.9L131.9 159.6ZM125.8 164.3L125.1 164L125.5 165ZM170.5 78L168.9 76.5L167.7 77.1L166.1 76.8L165.3 78.9L167.1 80.2L167.7 80.1L169.1 80.3L170.1 79.9L170.5 79.5ZM170 80L169.1 81.7L169.1 82.9L171.4 83.1L172.4 82.3L171.6 80.4L170.5 79.7L170.1 79.9ZM171.4 85L171.2 84.4L168.4 84.7L168.3 84.5L166.2 85.2L166.2 85.2L164.4 86.4L165.4 88.4L166.3 87.4L169.1 87.2L169.3 86.8L171.2 86.1ZM168.8 92.8L170 90.8L172 90.9L172.3 89.1L172.3 89.1L171.4 88.8L169 89.9L168.6 89.6L167.6 90L167.6 90.3ZM172.1 91.2L171.2 93.3L168.9 93.7L169.1 95.2L171.8 96.2L171.8 96.2L171.5 93.6L172.7 93.8L173.2 91.9L172.9 91.5ZM163.9 94.7L165.2 96.9L166.5 96.2L166.1 93.5L165.9 93.4L165.7 92.7L164.8 91.8L162.4 91.9L162.4 92L163.3 94.8Z" fill="#c6e600" stroke="#c6e600" stroke-width="0.25" fill-rule="evenodd"/>
<path d="M158.6 95.9L159.4 96.4L159.4 99L161 99.8L161.6 99.5L162.6 98.3L162.5 98L160.1 96.3L161.5 94.7L160.6 93.2L158.3 94ZM155.8 96.8L154.8 97.1L154.8 97.9L153 99.9L153.1 100.2L154.3 101L155.6 100.7L155.8 99.9L157.4 98.7L157 97ZM146.2 100.6L146.3 100.6L146.8 100.3L146.8 98.6L146.5 98.1L145.5 98.5L145.9 99.1ZM135.5 114.8L137 113.9L137 112.5L136.2 112L136 112L135.5 114.8ZM127.6 139.8L126.7 140.6L126.5 142.7L128.2 143.5L128.9 143L130.3 143.5L131.7 142.6L132 141.6L130.1 140.2L128.6 140.4L127.8 139.9L128.8 138L128.4 136.3L127.5 136.1L126.5 136.2L126 138L126.1 138.2ZM125 143.2L123.9 141.7L122 143.7L122.6 145.3L123.2 145.7L125 144.6ZM127.5 148.5L128.2 147.8L128.5 147L127.6 144.9L125.7 144.9L126.1 147.7L126.4 148.1ZM135.3 151.7L136.6 151.4L136.7 149.6L136.4 148.4L134.6 149.8ZM123.7 152.3L122.4 149.8L121 150L120.8 150.3L120.5 152.4L122.4 153.5L122.6 153.5ZM126.7 160.3L127.3 161L128.6 161L129.4 159.2L127.4 158ZM166.1 75.3L165.7 76.2L166.1 76.8L167.7 77.1L168.9 76.5L169 75.5L168.7 75.1L167.7 75ZM162.4 78.1L162.1 78.6L163.7 81.2L165 78.9L163 78ZM168.1 83.6L169.1 81.7L169.1 80.3L167.7 80.1L167.1 80.2L166.1 81.9ZM169.2 87.3L171.4 88.8L172.3 89.1L172.6 87L174 86.2L173 84.8L171.4 85L171.2 86.1L169.3 86.8L169.1 87.2ZM165.4 88.6L164.9 88.9L164.8 91.8L165.7 92.7L167.6 90.3L167.6 90ZM163 98L162.9 98.3L164.3 98.5L165.5 101.8L167.7 100.9L166.8 98.5L168 97L166.5 96.2L165.2 96.9L163.9 94.7L163.3 94.8L163.1 95L162.8 96.5ZM167.4 105.9L164.5 105.6L164.4 107.4L166 108.1L166.3 108L166.8 107.6L167.6 106L168.9 105.2L168.9 105.2L171.1 103.1L170.9 102.6L168.5 101.3L168.2 104.1L165.4 102.8L165.3 103.7Z" fill="#e2f200" stroke="#e2f200" stroke-width="0.25" fill-rule="evenodd"/>
<path d="M156.6 92.4L157.9 90.8L157.3 89.4L159.2 89.1L159.3 89L159.9 88.7L160 87.8L158.2 86.6L156.8 87.9L156.8 89L156.8 89L155.6 91.7ZM155.4 103.9L156 105.6L157.4 105.8L158.3 105.3L158.7 103.2L157.7 102.1L157.3 102.1ZM157.4 107.7L154.5 107.6L154.4 107.9L156 110L157.3 110L157.5 109.9L157.6 108.5ZM144.3 117.1L144 117.6L144.3 118.7L146.9 118L146 117.2ZM148.3 116.9L147.3 118.2L149.3 119.7L150.3 119.2L150.4 118.7ZM127.8 139.9L128.6 140.4L130.1 140.2L131.1 138.8L130.4 137.8L129 136L129 135.9L128.4 136.3L128.8 138ZM123.2 137.5L122.2 139L121.2 138.3L120.9 140.6L120.8 141.2L121.1 142.4L121.7 143.5L121.7 143.5L121.4 144L121.7 145.6L122.6 145.3L122 143.7L123.9 141.7L125 143.2L126.5 142.7L126.7 140.6L127.6 139.8L126.1 138.2L126 138ZM130.9 146.8L132.3 145.6L130.5 144.2L129.6 146.5ZM138.8 156.2L137.3 156.2L135.5 157.7L135.5 157.9L137.4 159.8L137.9 159.5L138.9 156.7ZM122.6 159.3L122.7 159.4L123.5 160L124.7 159.1L124.5 157L122.6 157L122.3 157.1L122.2 158L122.8 158.7ZM126.2 164.2L126.9 163.5L127.3 161L126.7 160.3L126.3 160.4L124.1 161.4L124.2 162.1L124.5 162.6L125.1 163.9L125.1 164L125.8 164.3ZM130.1 166.2L129.4 166.1L128 166.5L129.5 167.2ZM207.1 72.8L206.5 73.4L206.1 74.1L206.9 75.2L208.7 74.6L208.9 73.6ZM170.5 74.1L168.7 74.7L168.7 75.1L169 75.5L170.6 74.9ZM192.5 77.1L194.3 76.3L194.4 75.4L192.1 76.8L192.2 77ZM165.3 78.9L166.1 76.8L165.7 76.2L164.5 76L163 78L165 78.9ZM161.3 79.3L162.1 78.6L162.4 78.1L161.4 76.7L160 77.8L160 79.2ZM174 86.2L172.6 87L172.3 89.1L172.3 89.1L173.9 89.1L174.5 86.6L174.1 86.2L174.8 85.4L173.4 82.6L173.2 82.6L172.4 82.3L171.4 83.1L171.2 84.4L171.4 85L173 84.8ZM203.1 87.6L204.3 87.2L204.5 87L204.5 85.1L203 84.8L202.3 86.1ZM198.5 87.2L198.5 87.8L199.2 87L198.7 86.9ZM159.9 88.7L159.8 89L159.2 89.1L157.9 90.8L158.1 91.4L160.7 90.8L161.3 91.1L163.1 88.7L162.3 87.6L162 87.7ZM170.1 98.6L168.2 97L168 97L166.8 98.5L167.7 100.9L168.1 100.9ZM165.3 102.3L165.4 101.9L165.5 101.8L164.3 98.5L162.9 98.3L162.4 100.5L162.4 100.5L162.8 102.7ZM164.5 105.6L167.4 105.9L165.3 103.7L164.4 105.1ZM160.2 110.2L160.4 110.7L162.7 111.2L163 109.1L162.8 108.5L161 108.6ZM194.4 109.3L195.2 111.1L195.7 110.9L195.7 110.6L195.6 109.3L194.9 108.9Z" fill="#ffff00" stroke="#ffff00" stroke-width="0.25" fill-rule="evenodd"/>
<path d="M152.8 85.7L153 85.1L149.4 84L149.4 84L149.6 85.9L151.1 86.9ZM149.9 89L148.3 86.8L147.9 86.9L147.9 87.7L148.3 89.6ZM150.5 94.4L150.8 94.6L152.1 94.2L151.8 92.5L149.9 92.1L149.3 92.3ZM155.8 96.8L155.9 94.1L155 94L154 95.1L153 95.3L153.1 96.2L154.8 97.1ZM153.7 103.3L154.3 101L153.1 100.2L152.5 100.9L153.7 103.3ZM150.7 101.6L149.5 100.9L148.8 101.3L148.5 102.9L148.6 103.2L150.6 101.8ZM126.5 136.2L125 134.6L123.2 136.4L123.2 137.5L126 138ZM133.6 140.5L132.7 139.3L132 140L131.1 138.8L130.1 140.2L132 141.6L133.5 140.7ZM122.6 153.5L122.9 154.3L125.5 154.6L124.9 152.4L123.7 152.3ZM129.4 159.2L131.1 158.9L130.7 157.9L128.8 156.3L127.3 157.8L127.4 158ZM210.5 75.5L209.8 76.5L210.8 77.1ZM160 77.8L158.3 77.2L157.6 78.9L158.9 79.6L160 79.2ZM208.1 84.3L208.5 83.7L206.3 84.9L206.6 85.4L206.7 85.4ZM200.5 84.9L199.5 85.7L199.4 86.9L200 87.4L202.3 86.1L203 84.8L202.9 84.7L200.4 84ZM163.2 88.8L164.9 88.9L165.4 88.6L165.4 88.4L164.4 86.4L163.7 86.9ZM167.6 90.3L165.7 92.7L165.9 93.4L166.1 93.5L168.7 93.6L168.8 92.8ZM162.3 92.4L162.4 92L162.4 91.9L161.5 91.5L160.6 93.2L161.5 94.7L162.6 94.9ZM157.7 102.1L158.7 103.2L160.8 102.9L160.9 100.1L158 101.5ZM154.2 120.2L153.7 122L156.3 122.8L157.6 121L157.5 120.6L155.3 119.4Z" fill="#ffdf00" stroke="#ffdf00" stroke-width="0.25" fill-rule="evenodd"/>
<path d="M148 84.3L147.9 86.9L148.3 86.8L149.6 85.9L149.4 84L149.4 84L149.6 83L148.7 82.1L148 83ZM153.8 87.7L155.8 87.3L155.2 85.6L153.7 84.7L153.3 84.8L153 85.1L152.8 85.7ZM156.8 89L153.3 89.9L153.1 90L153.2 90.6L154.3 91.5L155.6 91.7L156.8 89ZM150.7 101.6L151.3 99.1L151.1 98.9L150.2 99.1L149.7 98.6L146.8 98.6L146.8 100.3L148.8 101.3L149.5 100.9ZM145.2 105.5L146.3 106.1L148 105.3L148.8 103.8L148.6 103.2L148.6 103.2ZM127.5 121.5L126.1 121.7L125.4 124L127.5 124.6L128.4 121.9ZM122.9 154.3L122.6 153.5L122.4 153.5L120.8 154.9L121.5 156.8L122.3 157.1L122.6 157ZM161.3 76.1L161.4 76.7L162.4 78.1L163 78L164.5 76L164.2 75.6ZM190.4 79.8L191 80.4L193.3 79.9L192.5 77.1L192.2 77L191.1 77.4L190.4 77.9ZM158.6 95.9L158.3 94L157.4 93.2L155.9 94.1L155.8 96.8L157 97ZM168.2 97L170.1 98.6L168.1 100.9L168.5 101.3L170.9 102.6L171.6 101.2L171.5 99.7L170.1 98.6L171.8 96.2L169.1 95.2L168.9 93.7L168.7 93.6L166.1 93.5L166.5 96.2L168 97ZM162.8 96.5L162.6 94.9L161.5 94.7L160.1 96.3L162.5 98ZM153.7 103.3L155.4 103.9L157.3 102.1L155.6 100.7L154.3 101ZM164.5 105.6L164.4 105.1L161.9 104.7L161.9 104.7L162.2 106.1L163.9 107.7L164.4 107.4Z" fill="#ffbf00" stroke="#ffbf00" stroke-width="0.25" fill-rule="evenodd"/>
<path d="M153.7 84.7L155.2 85.6L157.8 84.7L157.5 83L156.9 82.6L156.3 80.2L153.9 80.6L153.8 80.4L151.9 79.9L152 79.6L150.6 80.2L150 80.5L148.7 82.1L149.6 83L151.1 82.1L152 82.5L153.3 84.8ZM150.5 89L149.9 92.1L151.8 92.5L152.1 94.2L150.8 94.6L150.7 94.7L151.3 95.7L153 95.3L153 95L154.5 94L155 94L156.6 92.4L156.6 92.4L155.6 91.7L154.3 91.5L153.2 90.6L153.1 90L150.8 88.9ZM142.7 93.7L141.9 96.2L142.8 96.6L143.9 97L145 96L144.4 94.6L143.3 93.6L143.1 93.6ZM138.4 116.2L138.5 115.7L137 113.9L135.5 114.8L135.9 116.4L137 116.9ZM129.6 124.9L130.9 126.5L132.1 126.2L132.6 124.2L131.6 122.3L131.2 122.3L129.6 121.4L128.4 121.9L127.5 124.6L127.6 124.8ZM208.7 74.6L206.9 75.2L207 77.1L207.4 77.5L207.9 77.6L209.2 76.5ZM194.6 75.3L194.4 75.4L194.3 76.3L196 77.7L196.4 77.6L196.7 75.4L195.8 74.9ZM153.3 89.9L156.8 89L156.8 87.9L155.8 87.3L153.8 87.7ZM182.3 91.5L183 91.2L183 89.5L182.1 87.4L180 89.4L180.1 90.7ZM157.4 92.9L157.4 93.2L158.3 94L160.6 93.2L161.5 91.5L161.3 91.1L160.7 90.8L158.1 91.4ZM158.3 105.3L157.4 105.8L157.4 107.7L157.6 108.5L160.2 106.9L160.2 106.6L161.6 105.4L161.9 104.7L161.6 103.5L161.6 103.4L161.6 103.4L161.6 103.4L162.4 100.5L162.3 100.5L161.6 99.5L161 99.8L160.9 100.1L160.8 102.9L158.7 103.2Z" fill="#ff9f00" stroke="#ff9f00" stroke-width="0.25" fill-rule="evenodd"/>
<path d="M152 82.5L151.1 82.1L149.6 83L149.4 84L153 85.1L153.3 84.8ZM149.6 85.9L148.3 86.8L149.9 89L150.5 89L150.8 88.9L153.1 90L153.3 89.9L153.8 87.7L152.8 85.7L151.1 86.9ZM148 95.7L146.5 96.6L145 96L143.9 97L144.5 97.1L145.5 98.5L146.5 98.1L146.8 98.6L149.7 98.6L149.3 97.2L149.2 97.1L148.8 96.1L148.2 94.6L148 95.3ZM140.8 110L140.2 108.8L139.7 108.7L139 109L138.1 109.9L136.3 111.7L136.2 112L137 112.5L138.2 112.1L138.8 110.8ZM153.8 80.4L154 78.7L152 79.6L151.9 79.9ZM208.9 82.5L206.5 81.9L205.5 82.2L205.4 84.6L206.3 84.9L208.5 83.7L208.9 83L208.9 83ZM200.5 88.4L200 87.4L199.4 86.9L199.2 87L198.5 87.8L198.5 88.6L198.5 90L199.5 89.1ZM157.5 109.9L160.2 110.2L161 108.6L160.2 106.9L157.6 108.5ZM181.8 121.8L181.8 120.8L180.3 119.1L178.4 120.5L178.7 121.2L180.7 122.3Z" fill="#ff7f00" stroke="#ff7f00" stroke-width="0.25" fill-rule="evenodd"/>
<path d="M209.8 76.5L210.5 75.5L210.1 73.4L209.8 73.3L208.9 73.6L208.7 74.6L209.2 76.5ZM182.9 86.8L184.3 88.7L185.8 89.6L186.4 87.7L185.4 86.8ZM146.8 89L146.9 88.4L145.9 89L145.7 89.3ZM146.3 100.6L146.3 100.7L146.5 101.8L148.2 102.9L148.5 102.9L148.8 101.3L146.8 100.3ZM141.8 114.4L141.8 114.2L140.8 112L139.2 112.7L139.9 114.5ZM142.7 151.8L139.6 151.4L138.9 152.5L142.3 154.8L143.6 153.2L143.7 152.8Z" fill="#ff5f00" stroke="#ff5f00" stroke-width="0.25" fill-rule="evenodd"/>
<path d="M203 84.8L204.5 85.1L205.4 84.6L205.5 82.2L204.6 81.4L203.1 82.4L202.9 84.7ZM202 88.4L203.1 87.6L203.1 87.6L202.3 86.1L200 87.4L200.5 88.4L200.6 88.4ZM139.2 112.7L138.2 112.1L137 112.5L137 113.9L138.5 115.7L139.9 114.5ZM146 117.2L146.9 118L147 118L147.3 118.2L148.3 116.9L148.5 115.3L146.9 115.7Z" fill="#ff3f00" stroke="#ff3f00" stroke-width="0.25" fill-rule="evenodd"/>
<path d="M198.2 74.1L195.8 74.9L196.7 75.4L198.2 74.3ZM204.5 76.4L207 77.1L206.9 75.2L206.1 74.1L204 74.7Z" fill="#ff1f00" stroke="#ff1f00" stroke-width="0.25" fill-rule="evenodd"/>
<path d="M207 71.9L206.2 71.5L204.3 72.1L206.5 73.4L207.1 72.8ZM124.9 120.7L123.7 122.4L124.5 124L124.9 124.1L125.4 124L126.1 121.7Z" fill="#ff0000" stroke="#ff0000" stroke-width="0.25" fill-rule="evenodd"/>
<path d="M91.7 103L104.6 104L107.6 109L112.5 111L111.5 113.9L105.6 111.9L100.6 110L94.7 109L92.1 106Z" fill="#ff7f00"/><path d="M117.1 106.4L122.4 104.8L123.8 108L121.1 110.4L117.9 109.6Z" fill="#ffff00"/><path d="M118.5 111.9L121.5 113.9L122.6 118.9L119.9 122.3L117.5 117.9Z" fill="#ff7f00"/><path d="M120.7 118.9L123 119.5L122.6 121.9L120.7 121.5Z" fill="#ff0000"/><path d="M129.8 115.5L133 115.5L133.4 118.3L130.6 118.7Z" fill="#ff0000"/><path d="M114.5 121.9L117.1 121.5L117.5 124.8L115.5 125.4Z" fill="#ff9f00"/><path d="M98.6 118.9L101.6 118.5L102 120.9L99.2 121.1Z" fill="#ffbf00"/><path d="M67.9 122.3L74.2 121.9L75 127.4L71.8 131.4L68.3 128.8Z" fill="#ff7f00"/><path d="M70.5 62.8L75.3 58.6L76.5 61.6L75.3 66.4L72.9 67.6L69.9 65.2Z" fill="#e2f200"/><path d="M65.7 65.2L68.1 65.8L71.1 67.3L74.7 68.2L74.1 69L69.9 68.5L66.9 67.6Z" fill="#ff9f00"/><path d="M67.3 51.2L69.6 51L69.6 53.5L67.6 53.5Z" fill="#54b400"/><path d="M132.8 93.5L135.9 93.3L136.4 95.9L133.4 96.1Z" fill="#ff9f00"/><path d="M98.8 118L103.2 117.5L103.4 120.6L99.3 121.1Z" fill="#ff9f00"/><path d="M201.6 25.3L206.9 26.1L205.5 31.2L203.4 29.2Z" fill="#ff1f00"/><path d="M207.9 38.2L211.3 38.8L208.9 42.1L205.3 44.1L204.9 42.1Z" fill="#54b400"/><path d="M210.5 50.7L213.9 51.1L212.5 53.5Z" fill="#ffff00"/><path d="M196 57L198.6 58L199 60L197 59Z" fill="#54b400"/><path d="M187.1 64.6L189.1 64.6L191 68.9L187.5 69.9Z" fill="#ff0000"/><path d="M187.1 69.9L192 68.9L198 69.3L197 71.9L189.1 72.9Z" fill="#54b400"/><path d="M194.6 68.5L198 68.9L197.6 71.3L195 70.9Z" fill="#ff9f00"/><path d="M202 75.3L204.5 74.9L204.9 76.9L202.4 77.3Z" fill="#ffff00"/><path d="M206.9 76.9L208.9 76.9L208.9 78.9L206.9 78.9Z" fill="#ffdf00"/><path d="M212.5 78.5L214.1 78.5L214.1 80.1L212.5 80.1Z" fill="#54b400"/>
<use href="#cn" fill="none" stroke="#1a1a1a" stroke-width="1.25" stroke-linejoin="round"/>
<use href="#pv" fill="none" stroke="#1a1a1a" stroke-width="1.12" stroke-linejoin="round"/>
<use href="#pe" fill="none" stroke="#111" stroke-width="1.15" stroke-linejoin="round"/>
<use href="#coast" fill="none" stroke="#111" stroke-width="1.35" stroke-linejoin="round"/>
<use href="#hn" fill="none" stroke="#111" stroke-width="1.2"/>
<use href="#tw" fill="none" stroke="#111" stroke-width="1.05"/>
<use href="#isx"/><use href="#na"/><use href="#sb"/><use href="#ins"/>
<use href="#hn" transform="translate(64.5 -45.5)" fill="#70bc0e" stroke="#111" stroke-width="1.1"/>
</g>
<g transform="translate(4.34 193.58) scale(0.9709)">
<path d="M193.3 122.8L191.6 121.8L190.8 124.5L191.9 125.6L193.3 123.9ZM182.2 126.9L183.7 125.6L184 124.4L183.6 124.2L181.4 124.8L181.7 127ZM187.5 129.1L188.1 129.1L189.1 126.9L188.7 126.4L186.7 126.2L185.9 127.7ZM175.9 130.5L177.7 130.9L179.1 129.9L179.1 129L177.2 127.5L176 128.7ZM181.5 131.2L183.1 131.2L184.3 130.1L184 129L181.7 129ZM178.7 158.3L177.9 157L176 157.1L176.6 158.4L176.7 158.2L178.3 158.5Z" fill="#54b400" stroke="#54b400" stroke-width="0.25" fill-rule="evenodd"/>
<path d="M182.2 126.9L184.1 129L184.9 128L183.7 125.6ZM183.1 131.2L181.5 131.2L180.7 131.6L180.5 132.3L181.1 133.4L183.5 133.2L184.4 134L185.8 132.5L185.4 130.8L184.3 130.1ZM176 136.4L178.3 134.9L177.9 133.3L177.8 133.3L175.9 133.3L175.7 136.1L175.9 136.4ZM196.1 137.2L197.7 138L199 136.8L197.8 135.2L196.2 135.6ZM181.5 153.7L181.5 154.3L184.2 154.4L184.4 154.5L184.5 154.2L185.8 153.5L186.4 153.5L186.1 152.8L184.8 153L183.5 151.6ZM181.6 157.5L180.6 157.5L180.8 157.8L181.5 157.7Z" fill="#70c000" stroke="#70c000" stroke-width="0.25" fill-rule="evenodd"/>
<path d="M175.5 100L174.9 100.3L174.9 100.4L176.4 102.7L177.9 102L177.6 101.3ZM183.6 124.2L184 124.4L184.3 124.3L185.5 122.4L184.4 121.2L182.2 122ZM184 129L184.3 130.1L185.4 130.8L185.8 132.5L187.7 132.9L188.1 131.6L186.4 130.3L187.5 129.1L185.9 127.7L184.9 128L184.1 129L182.2 126.9L181.7 127L180.7 127.6L180.6 128.1L181.7 129ZM177.8 133.3L177.9 133.3L180.5 132.3L180.7 131.6L179.1 129.9L177.7 130.9ZM178.7 158.3L179.4 158.1L180.3 157.3L180.4 155.5L179.8 155.3L178 155.7L176.3 154.9L175.7 155.1L175.3 156.5L173.8 157.4L173.8 159.2L173.9 159.3L176 159.7L176.6 158.4L176 157.1L177.9 157ZM145.3 157.4L146.4 157.7L148.3 157.5L147 154.9L146.7 154.9L145.6 155.5L145.2 156.9Z" fill="#8dcd00" stroke="#8dcd00" stroke-width="0.25" fill-rule="evenodd"/>
<path d="M168.2 97L170.1 98.6L170.1 98.6L171.8 96.2L169.1 95.2ZM164.4 105.1L164.5 105.6L167.4 105.9L165.3 103.7ZM162.7 114.1L163.4 114.3L164.6 113.9L164.7 113L163 111.5L162.4 112.6L162.3 113.3ZM167.6 120.3L166.7 118.4L166.5 118.3L165.5 119.1L165.6 121.1L166.3 121.5L167.2 121.2ZM139.8 122.5L141.8 122.6L143.1 120.9L143.1 120.9L141.5 119.8L139.6 121.9ZM173.1 140.6L173.2 138.4L173.1 138.4L170.3 138.9L170 140L172.4 141.1ZM143.3 145.1L146 145.3L146.5 144.9L146.3 143.2L145 142.4L143.3 143.8L143.3 145.1ZM158.5 151L156.5 149.6L155.8 150.2L155.3 151.4L156.9 152.6L158.7 152ZM151.6 158.9L153.3 159.7L154.2 158.9L154.3 157.7L153.5 156.5L151.3 157ZM174.5 91L176.4 92.2L177.1 91.6L176 88.5L175 89ZM186.9 110.8L185.6 110.1L185.3 110.2L184.1 111.7L185.8 112.8L186.4 112.3ZM195 116.3L196.3 115.5L196.1 113L194.8 112.7L193.6 113.1L193.4 114.7L194.9 116.3ZM191.6 121.8L188.7 122.4L188.4 122.7L188.5 123L189 124L190.8 124.5L191.6 121.8ZM181.5 131.2L181.7 129L180.6 128.1L179.1 129L179.1 129.9L180.7 131.6ZM198.9 137.9L199.2 136.8L199 136.8L197.7 138L197.8 139.4L197.9 138.9ZM186.1 152.8L186.4 153.5L187.6 153.4L187.8 152.3L186.3 152.4ZM182.7 156L181.4 154.6L180.4 155.5L180.3 157.3L180.6 157.5L181.6 157.5L182.5 156.1Z" fill="#a9d900" stroke="#a9d900" stroke-width="0.25" fill-rule="evenodd"/>
<path d="M172.3 89.1L172.3 89.1L171.4 88.8L169 89.9L170 90.8L172 90.9ZM158 101.5L158.3 99.2L157.4 98.7L155.8 99.9L155.6 100.7L157.3 102.1L157.7 102.1ZM178.4 105.7L180 105.2L180.4 103.5L178.5 102.1L177.9 102L176.4 102.7L176.1 103.5L178 105.7ZM149.1 124L149.5 123.5L149.7 122.7L148.6 120.7L147.2 121.3L148 123.8ZM174.5 132.3L173.5 133.1L173.9 135.2L175.7 136.1L175.9 133.3ZM148.2 133.8L147.6 133.6L147 133.7L146.1 135.7L147.1 137.4L148.6 136.1L149.8 136.6L151.6 135.3L149.5 133.2ZM176 136.4L178.2 137.6L177 140.1L177.8 140.5L179 140.5L180.1 138.8L179.4 137.3L180 135.9L180.8 135.6L181.1 133.4L180.5 132.3L177.9 133.3L178.3 134.9ZM175.2 137.7L173.2 138.4L173.1 140.6L175 141.4L175.2 141.3L176.8 140.1ZM157.4 173L157.4 173L156 174.6L157.2 176.2L159.3 175L158 172.8L158 172.8ZM183.4 94.3L182.4 92.5L180.5 94.4L181.3 96L182.2 96.1L182.7 96ZM185.8 104.4L185.8 105.3L187.4 105.6L187.7 105.6L188.6 102.6L186.5 102.4ZM185.7 108.6L184.4 106.9L183.2 108.6L183.5 109.3L185.3 110.2L185.6 110.1ZM178.5 108.2L178.1 109.4L180.7 109.5L181.1 108.6L180.9 107.7ZM188.5 123L186.2 125.3L186.7 126.2L188.7 126.4L189 124ZM200.9 125.4L200.7 125.3L200.4 125.5L200.6 126.6L201 126.9L201.4 126.7L201.4 126.7ZM193.9 131.4L193.2 132.9L193.7 134.3L194.1 134.7L195.2 134.7L196.7 132.7L195 131.2ZM195.5 141.4L196.6 140.9L197.4 140.2L195.2 139.6L193.8 142.4L193.9 142.5L194.3 142.7L194.6 142.2Z" fill="#c6e600" stroke="#c6e600" stroke-width="0.25" fill-rule="evenodd"/>
<path d="M166.5 96.2L166.1 93.5L165.9 93.4L163.9 94.7L165.2 96.9ZM162.6 94.9L161.5 94.7L160.1 96.3L162.5 98L162.8 96.5ZM166 108.1L166.3 108L166.8 107.6L167.6 106L167.4 105.9L164.5 105.6L164.4 105.1L161.9 104.7L161.9 104.7L162.2 106.1L163.9 107.7L164.4 107.4ZM167.2 107.7L166.3 108L166.1 108.1L166.5 110.1L167.8 110.8L169.2 109.5L169.1 108.3L167.2 107.7ZM162.6 116.9L162.9 116.8L163.2 115.3L162.7 114.1L162 113.9L160.2 115.8L160.4 117L160.7 117.2ZM145.1 123.2L146.5 121.3L145.6 119.8L144.5 119.6L143.1 120.9L143.1 120.9L145 123.2ZM159.3 121.6L159.3 123.6L160.4 124.7L161.4 124.4L161.4 121.8L160.1 121.1ZM165.2 124.6L163.9 124L162.4 124.6L162.7 126.3L164.5 127L164.8 126.8ZM153 127.9L154.6 130.8L155 130.5L155.9 128.5L155.4 126.8L154.7 126.2L154.7 126.2L153.5 126.7ZM177.7 130.9L175.9 130.5L174.5 131.5L174.5 132.3L175.9 133.3L177.8 133.3ZM164 131.8L162.9 130.9L160.9 131.8L160.5 133.2L163 134.9L164.2 132.6ZM175.9 136.4L175.2 137.7L176.8 140.1L177 140.1L178.2 137.6L176 136.4ZM161 146L161.1 145.7L157.6 144.2L157.3 145.8L158.5 147.6L159.5 147.9ZM135 155.1L134.9 157L135.5 157.7L137.3 156.2L136.1 154.4ZM162.9 162.9L165.2 164.8L165.4 164.7L165.5 164.6L165.7 161.4L165.1 161.3ZM207.1 72.8L206.5 73.4L206.1 74.1L206.9 75.2L208.7 74.6L208.9 73.6ZM181.3 74.4L181.1 74.4L181 74.4L178.4 74.8L177.4 76L177.5 76.6L176.5 78.2L176.5 79.4L178 80.1L177.4 82.2L178.1 83.3L178.5 83.4L179.8 80.9L179.7 80.8L178.6 80.1L179.5 77.4L180.1 77.4L181.4 74.6L183 75.5L185.1 74.7L183.8 73.7L181.3 74.3ZM176.4 92.2L176 93L177 95.1L177.5 95.3L179.4 93.7L179.1 91.6L177.1 91.6ZM189.6 96L190.2 95.1L189.3 94.4L187.6 95.3L186.9 96.4L187.6 97ZM192.2 106.7L192.2 107.5L193.8 109.3L194.4 109.3L194.9 108.9L194.1 108.5L193.8 107L193.7 106.1ZM186.2 125.3L188.5 123L188.4 122.7L186.6 122L185.5 122.4L184.3 124.3ZM197.8 135.2L198.2 133.9L197 132.7L196.7 132.7L195.2 134.7L196.2 135.6ZM180.8 135.6L182.9 136.4L184.5 135.1L184.4 134L183.5 133.2L181.1 133.4ZM180.1 138.8L179 140.5L179.5 141L182.2 140.6L181.7 139ZM188.7 140.3L188.4 139.5L187.4 138.8L186.7 140.9L187.4 141.7ZM184.4 154.5L184.2 154.4L181.5 154.3L181.4 154.6L182.7 156L184 155.6ZM180.3 157.3L179.4 158.1L179.8 157.9L180.8 157.8L180.6 157.5Z" fill="#e2f200" stroke="#e2f200" stroke-width="0.25" fill-rule="evenodd"/>
<path d="M158.3 76.8L158.3 77.2L160 77.8L161.4 76.7L162.4 78.1L162.1 78.6L163.7 81.2L165 78.9L165.3 78.9L166.1 76.8L165.7 76.2L164.5 76L164.2 75.6L161.3 76.1L159 76.5ZM159.2 89.1L159.3 89L159.9 88.7L160 87.8L158.2 86.6L156.8 87.9L156.8 89L156.8 89L157.3 89.4ZM146.8 98.6L146.8 100.3L148.8 101.3L149.5 100.9L150.2 99.1L149.7 98.6ZM161.6 103.4L161.9 104.7L164.4 105.1L165.3 103.7L167.4 105.9L167.6 106L168.9 105.2L168.9 105.2L171.1 103.1L170.9 102.6L171.6 101.2L171.5 99.7L170.1 98.6L170.1 98.6L168.2 97L168 97L166.5 96.2L165.2 96.9L164.3 98.5L166.8 98.5L167.7 100.9L168.1 100.9L168.5 101.3L168.2 104.1L165.4 102.8L165.3 102.3L162.8 102.7L161.6 103.4ZM140.8 112L139.2 112.7L139.9 114.5L141.8 114.4L141.8 114.2ZM150.4 115.4L149.7 114.9L148.7 115L148.5 115.3L148.3 116.9L150.4 118.7L151.4 116.7L151.4 116.4ZM140.4 133.1L140.8 133.5L141.3 133.2L143.1 130.9L140.7 130.2L140.1 131.3ZM154.8 134.1L155.5 132.5L154.6 130.8L152.4 131.7L152.8 133.9ZM164.5 138.4L164.5 136.2L163.2 135.6L161.7 136.9L161.9 138.1ZM123.2 137.5L122.2 139L122.3 139.7L123.4 140.6L126.1 138.2L126 138ZM151.7 140.5L153.6 142.7L154.9 143L155 143L155.5 141.5L151.9 139.6ZM132.3 145.6L130.5 144.2L129.6 146.5L130.9 146.8ZM143.8 152.8L143.7 152.8L143.6 153.2L145.6 155.5L146.7 154.9L146.3 153.1ZM135.8 161.3L136.5 161.3L136.9 161.2L137.4 159.8L135.5 157.9L133.7 159.5L135.4 161.4ZM157.8 161.3L159.7 161.6L161.3 160.8L159.5 159ZM172 73.5L170.5 74.1L170.6 74.9L172.1 75.2L171.4 77.3L172.4 77.6L173.4 76.5L172.6 74.9ZM171.2 86.1L172.6 87L174 86.2L173 84.8L171.4 85L171.2 84.4L168.4 84.7L169.3 86.8ZM164.9 88.9L164.8 91.8L165.7 92.7L167.6 90.3L167.6 90L165.4 88.6ZM172.9 91.5L172.1 91.2L171.2 93.3L171.5 93.6L172.7 93.8L173.2 91.9ZM164.7 113L164.6 113.9L166 115.1L167.1 114.9L168.1 112.9L165.1 112.5L165.9 110.6L163.6 110.3L163 111.3L163 111.5ZM166.5 118.3L165.6 116.3L163.5 117.2L164 118.9L165.5 119.1ZM166.3 121.5L166.6 124.3L165.2 124.6L164.8 126.8L166.1 127.8L167.5 124.6L167.8 124.6L169.5 123.5L169.8 122.4L169.7 122.3L170 119.9L169.7 119.7L167.6 120.3L167.2 121.2ZM167.8 137.9L166.9 137.8L165.3 139.3L166.9 141.2L168.1 140.7ZM176.4 75.3L177.4 76L178.4 74.8L176.9 75.1ZM206.5 81.9L205.5 82.2L205.4 84.6L206.3 84.9L208.5 83.7L208.9 83L208.9 83L208.9 82.5ZM176.3 84.4L175.6 84.3L174.8 85.4L174.8 85.5L174.5 86.6L176.1 88.3L176.4 88.2L177.3 86.2L179.2 85.9L179.2 83.9L178.5 83.4L178.1 83.3ZM187.8 92.2L186.9 92.2L186.7 92.7L187.6 95.3L189.3 94.4L189.3 93.8L188.1 92.3ZM190.7 98.3L191.8 96.8L191.6 95.4L190.2 95.1L189.6 96L190 98ZM188.6 102.6L189.1 102.3L189 100.8L187.8 100L185.6 100.6L186.5 102.4ZM171.9 105.7L173 107.4L173.3 107.4L174.3 106.4L176.7 106.6L178 105.7L176.1 103.5L174.3 104.2L173.5 103.6L172.1 103.6L171.9 104ZM188.4 122.7L188.7 122.4L188.8 120L186.4 119.6L186.6 122ZM185.2 135.4L186.1 135.4L188.1 133.6L187.7 132.9L185.8 132.5L184.4 134L184.5 135.1ZM174.8 150.1L176.4 149.3L177 147L176.8 146.9L173.8 148.5L174.4 149.9ZM179.8 155.3L177.9 153L177.5 153L176.3 154.9L178 155.7Z" fill="#ffff00" stroke="#ffff00" stroke-width="0.25" fill-rule="evenodd"/>
<path d="M145.9 89L145.7 89.3L146.8 89L146.9 88.4ZM148 105.3L148.8 103.8L148.6 103.2L148.6 103.2L145.2 105.5L146.3 106.1ZM151.8 121.6L149.7 122.7L149.5 123.5L152.1 124.1L153.2 122.2ZM131.2 122.3L129.6 121.4L128.4 121.9L127.5 121.5L126.1 121.7L125.4 124L127.5 124.6L127.6 124.8L129.6 124.9ZM140.7 130.2L143.1 130.9L143.7 130.7L143.6 129.6L141.6 128.8L140.6 128.9ZM125.7 133.2L124.9 133.9L125 134.6L126.5 136.2L127.5 136.1L127.8 134.3L127 133.3ZM154.9 135.8L155.2 135.2L154.8 134.1L152.8 133.9L151.9 135.3L153.3 137ZM140.2 136.1L138 135.3L137.6 137.2L139.9 137.7ZM148.3 139.3L150.3 141.6L150.4 141.6L151.7 140.5L151.9 139.6L155.5 141.5L155 143L157.6 144.2L159 142.5L158.8 141.5L155.8 141.1L155.8 140.6L157.3 138.2L153.2 137.9L153.1 138.2L152 139.2L150.3 138.4ZM150.5 147.2L149.1 149.1L149 150.1L150.5 150.8L152 149L151.8 148.1L153.1 147.5L153.3 145.6L151 145.2L150.2 145.7ZM132.4 149.2L133.9 146.8L132.6 145.6L132.3 145.6L130.9 146.8ZM147 154.9L148.3 157.5L148.6 157.5L150.4 156.4L148.9 154ZM145 157.7L145.5 157.8L146.4 158.3L146.4 157.7L145.3 157.4ZM138.9 156.7L137.9 159.5L139.3 159.7L139.5 159.6L141.1 159.5L141 158.5L140.9 158.3ZM133.1 162.2L133.6 162.3L134.6 161.7L135.4 161.4L133.7 159.5L135.5 157.9L135.5 157.7L134.9 157L133.1 156.8L131.9 159.6L131.9 159.7L131.6 161.4ZM122.6 159.3L122.7 159.4L123.5 160L124 161.4L124.1 161.4L126.3 160.4L124.7 159.1L124.5 157L122.6 157L122.3 157.1L122.2 158L122.8 158.7ZM166.1 76.8L165.3 78.9L167.1 80.2L167.7 80.1L167.7 77.1L168.9 76.5L169 75.5L168.7 75.1L167.7 75L166.1 75.3L165.7 76.2ZM163.7 85.1L165.2 84.7L165.5 82.2L163.7 81.5L162.2 82.4L162.3 83ZM161.9 86.8L160.5 85.1L160.1 85L160 82L159.3 81.9L157.5 83L157.8 84.7L158.2 85.2L158.2 86.6L160 87.8L161.9 86.9ZM166.3 87.4L169.1 87.2L169.3 86.8L168.4 84.7L168.3 84.5L166.2 85.2ZM168.8 92.8L170 90.8L169 89.9L171.4 88.8L169.2 87.3L168.6 89.6L167.6 90L167.6 90.3L165.7 92.7L165.9 93.4L166.1 93.5L168.7 93.6ZM155.6 100.7L155.8 99.9L154.8 97.9L153 99.9L153.1 100.2L154.3 101ZM164.3 98.5L165.5 101.8L165.4 101.9L165.3 102.3L165.4 102.8L168.2 104.1L168.5 101.3L168.1 100.9L167.7 100.9L166.8 98.5L164.3 98.5ZM165.9 110.6L166.5 110.1L166.1 108.1L166 108.1L163.2 109L163.6 110.3ZM160.2 110.2L160.4 110.7L162.7 111.2L163 109.1L162.8 108.5L161 108.6ZM167.8 115.4L168.8 117L168.4 117.9L169.7 119.7L170 119.9L171.9 119L172.2 117.5L170.2 116.6L170.2 114.6ZM164.5 138.4L161.9 138.1L161.8 138.3L163.5 140.2L164.8 139.1ZM167.6 143.7L168.9 145.2L170 145.1L170.2 143.1L170.1 143ZM155.3 147.5L156.6 148.7L158.5 147.6L157.3 145.8L155.4 146.6ZM164.4 153.8L164.9 154.6L167.8 154.3L168.2 154L168.2 153.9L165.8 152L164.5 152.3ZM157.6 161.4L157.8 161.3L159.5 159L159.5 158.9L156.6 159L156.2 160.1L156.3 160.5ZM194.3 76.3L194.4 75.4L192.1 76.8L192.2 77L192.5 77.1ZM176.5 78.2L174.1 77.2L173.6 77.8L173.4 79.3L175.5 80.2L176.5 79.4ZM183.2 77.4L180.9 78.1L181.2 79.4L182.9 80.1L183.6 79.7L183.8 78.1ZM173 84.8L174 86.2L174.1 86.2L174.8 85.4L173.4 82.6L173.2 82.6ZM208.5 83.7L206.3 84.9L206.6 85.4L206.7 85.4L208.1 84.3ZM188.5 86.9L188.7 85.9L186.7 83.8L185.8 84.1L185.4 86.8L186.4 87.7ZM176 88.5L177.1 91.6L179.1 91.6L180.1 90.7L180 89.4L179.1 88.6L176.4 88.2L176.1 88.3ZM173.2 91.9L174.3 93.5L176 93L176.4 92.2L174.5 91L173.3 91.4ZM185.2 93.9L184.8 93.8L183.4 94.3L182.7 96L184.9 97.1L186.2 96.4ZM178.5 102.1L180.4 103.5L181.1 102.9L181.7 101.1L180.2 99.4L179.4 99.1ZM185.5 100.5L184.7 100.8L184.2 102.7L182.8 103.4L184.5 106L185.8 105.3L185.8 104.4L186.5 102.4L185.6 100.6ZM170.8 111.9L172.2 113.1L173.2 112.7L173 111L171.5 110.9ZM192.3 112.2L191.1 112.7L189 112.1L188.3 113.8L188.3 114.4L189.2 114.7L190.4 114.2L192.1 115.6L193.4 114.7L193.6 113.1ZM191.6 121.8L191.7 119.3L191.3 118.9L191.1 117.2L190.1 116.8L187.7 117.4L189.2 119.5L188.8 120L188.7 122.4ZM190.7 127.1L191.8 126.6L191.9 125.6L190.8 124.5L189 124L188.7 126.4L189.1 126.9Z" fill="#ffdf00" stroke="#ffdf00" stroke-width="0.25" fill-rule="evenodd"/>
<path d="M155.2 85.6L155.8 87.3L156.8 87.9L158.2 86.6L158.2 85.2L157.8 84.7ZM155.6 91.7L156.6 92.4L157.9 90.8L157.3 89.4L156.8 89ZM154.8 97.9L154.8 97.1L153.1 96.2L152.4 96.9L151.7 98.4L151.8 99L153 99.9ZM156 110L154.9 111.1L154.4 112.5L156.1 113.7L156.5 113.8L157.5 113L157.3 110ZM147.3 118.2L149.3 119.7L150.3 119.2L150.4 118.7L148.3 116.9ZM142.2 123.4L141.1 125.1L141.6 126L143.7 126.2L144 124.3ZM149.1 126.8L149.5 126.2L149.1 124L148 123.8L146.7 124.1L146.5 126.1L148.7 127.1ZM155.9 128.5L155 130.5L157.4 130.4L158 129ZM134.9 131.6L136.3 133.1L137.1 133.7L137.3 133.5L137.6 130.6ZM121.1 142.4L121.7 143.5L122 143.7L122.6 145.3L123.2 145.7L125 144.6L125.7 144.9L127.6 144.9L128.2 143.5L126.5 142.7L125 143.2L123.9 141.7L123.8 141.3L123.4 140.6L122.3 139.7L120.9 140.6L120.8 141.2ZM155.4 146.6L157.3 145.8L157.6 144.2L157.6 144.2L155 143L154.9 143L154.2 145.2ZM121.1 147.2L120.2 148.6L121 150L122.4 149.8L122.6 149.5L123 147.5ZM138.9 152.5L142.3 154.8L143.6 153.2L143.7 152.8L142.7 151.8L142.8 149.7L142 149.1L139.6 151.3L139.6 151.4ZM125.1 156.8L125.6 154.7L125.5 154.6L122.9 154.3L122.6 157L124.5 157ZM148.6 158L148.6 157.5L148.3 157.5L146.4 157.7L146.4 158.3L146.8 158.5L147.5 159.5L147.9 159.6ZM154.1 162L153.5 161.7L152.9 161.9L151.4 163.4L153.4 164.6L154.3 162.7ZM126.2 164.2L125.8 164.3L125.5 165L125.6 165.3L126.9 165.9L127 166L127.7 166.3ZM158.4 166.2L159.1 166.9L159.6 167.4L159.8 166.3L159.3 166ZM158 172.8L159.5 172.5L159.7 172.1L158 172.8ZM155.3 174.9L155.8 174.6L155.7 174.4L155.4 174.7ZM159.9 177.9L159.8 177.7L157.2 177L156.4 178.2L156.5 178.9L157.4 179.4L159.5 179ZM170.5 78L171.4 77.3L172.1 75.2L170.6 74.9L169 75.5L168.9 76.5ZM170 80L169.1 81.7L169.1 82.9L168.3 83.8L168.3 84.5L168.4 84.7L171.2 84.4L171.4 85L173 84.8L173.2 82.6L172.4 82.3L171.6 80.4L172.9 79.6L173.2 77.8L172.4 77.6L170.5 79.5L170.5 79.7L170.1 79.9ZM160.1 85L160.5 85.1L162.3 83L162.2 82.4L161.3 81.9L160 82ZM166.2 85.2L167.8 84.1L168.1 83.6L166.1 81.9L165.5 82.2L165.2 84.7ZM172.6 87L171.2 86.1L169.3 86.8L169.1 87.2L169.2 87.3L171.4 88.8L172.3 89.1ZM171.8 96.2L171.5 93.6L171.2 93.3L172.1 91.2L172 90.9L170 90.8L168.8 92.8L168.7 93.6L166.1 93.5L166.5 96.2L168 97L168.2 97L169.1 95.2L171.8 96.2ZM162.4 91.9L161.5 91.5L160.6 93.2L158.3 94L158.6 95.9L159.4 96.4L160.1 96.3L161.5 94.7L162.6 94.9L162.3 92.4L162.4 92ZM165.7 92.7L164.8 91.8L162.4 91.9L162.4 92L163.3 94.8L163.9 94.7L165.9 93.4ZM172 96.6L172.4 99.4L172.6 101.3L172.7 102.2L172.1 103.6L173.5 103.6L174 101.4L174.9 100.4L174.9 100.3L175.5 100L177 98.8L174.7 96.5L173.9 96.5L173.8 96.5L172.1 96.2ZM162.4 100.5L162.4 100.5L162.8 102.7L165.3 102.3L165.4 101.9L165.5 101.8L164.3 98.5L162.9 98.3ZM161 99.8L159.4 99L158.3 99.2L158 101.5L160.9 100.1ZM161 108.6L160.2 106.9L157.6 108.5L157.5 109.9L160.2 110.2ZM171.5 110.9L171 109.7L169.2 109.5L167.8 110.8L168.6 112.4L169.6 112.7L170.8 111.9ZM159.7 133.6L160.5 133.2L160.9 131.8L160 130.9L157.9 131.1L157.7 133L157.8 133.2ZM167.4 149.6L168.8 150.4L170.6 149.8L171 148.1L170.2 147.4L167.8 147.7L167.3 146.6L166.6 146.2L165.2 148.4L166.9 149.5L167.3 149.6ZM164.5 156.8L164.9 154.6L164.4 153.8L162.6 154.4L161.8 155.8L162.3 156.9L162.5 157.1ZM195.8 74.9L196.7 75.4L198.2 74.3L198.2 74.1ZM210.8 77.1L210.5 75.5L209.8 76.5ZM180.1 77.4L180.9 78.1L183.2 77.4L183 75.5L181.4 74.6ZM174.6 82.6L175.2 81.6L175.5 80.2L173.4 79.3L172.9 79.6L172.7 81.3L173.4 82.6ZM179.2 83.9L181.6 83.4L181.6 82.3L179.8 80.9L178.5 83.4ZM182.4 86.4L179.3 85.9L179.1 88.6L180 89.4L182.1 87.4L182.5 86.6L182.9 86.8L185.4 86.8L185.8 84.1L184.1 83.8L182.6 84.5ZM200 87.4L200.5 88.4L200.6 88.4L202 88.4L203.1 87.6L203.1 87.6L202.3 86.1ZM173.3 91.4L174.5 91L175 89L173.9 89.1L173.4 91ZM186.7 92.7L186.9 92.2L185.8 90.5L183.9 91.1L184.8 93.8L185.2 93.9ZM187.8 100L189 100.8L190.8 99.5L190.9 99.3L190.7 98.3L190 98L189.6 96L187.6 97L187.9 97.5L188 97.7ZM199.2 99.8L199.2 100.1L199.6 99.3L200.9 99.1L201.2 98.9L200.7 98.7L199.7 99.1ZM192.3 112.2L193.6 113.1L194.8 112.7L195.2 111.1L194.4 109.3L193.8 109.3L192.1 111.1ZM183.9 114.8L185.4 114.4L185.8 112.8L184.1 111.7L182.2 112.3L182.1 112.3ZM179.1 129L180.6 128.1L180.7 127.6L179.5 125.7L177.2 127.4L177.2 127.5ZM193.9 131.4L193.2 130.6L190.4 131.4L190.8 132.9L193.2 132.9ZM192.9 143.4L192.9 145L193.2 144.6L193.9 143.4L194.3 142.7L193.9 142.5ZM185.2 146.6L184.7 144.9L184.7 144.8L182.7 145.1L182.6 147.6L183.6 147.8ZM173.8 148.5L176.8 146.9L175.4 145.9L173.4 147.8ZM177 147L176.4 149.3L178 149.9L179.3 149.8L180 148L177.9 146.6Z" fill="#ffbf00" stroke="#ffbf00" stroke-width="0.25" fill-rule="evenodd"/>
<path d="M141.9 96.2L142.8 96.6L143.9 97L145 96L144.4 94.6L143.3 93.6L143.1 93.6L142.7 93.7ZM148 95.3L148 95.7L148.8 96.1L148.2 94.6ZM146.8 100.3L146.8 98.6L146.5 98.1L145.5 98.5L145.9 99.1L146.2 100.6L146.3 100.6ZM137 113.9L137 112.5L138.2 112.1L138.8 110.8L138.1 109.9L136.3 111.7L136.2 112L136 112L135.5 114.8L135.5 114.8ZM138.6 121.2L139.6 121.9L141.5 119.8L141.5 119.7L140.1 119L139.3 119L138.5 119.8ZM144 126.7L141.6 128.8L143.6 129.6L144.5 127.5L144.3 126.9ZM144.5 131.3L143.7 130.7L143.1 130.9L141.3 133.2L144.6 133ZM138 135.3L140.2 136.1L141.1 134.9L140.8 133.5L140.4 133.1L137.3 133.5L137.1 133.7L137 133.9L138 135ZM128.8 138L128.4 136.3L127.5 136.1L126.5 136.2L125 134.6L123.2 136.4L121.7 135.5L121.2 138.3L122.2 139L123.2 137.5L126 138L126.1 138.2L127.6 139.8L127.8 139.9ZM148.2 139.3L147.7 141.6L147.8 142.1L148.9 142.3L150.3 141.6L148.3 139.3L150.3 138.4L149.8 136.6L148.6 136.1L147.1 137.4L146.9 138L147.1 138.6ZM137.7 140L139.9 137.8L139.9 137.8L139.9 137.7L137.6 137.2L137.1 140.1L137.2 140.1ZM132 141.6L130.1 140.2L128.6 140.4L128.9 143L130.3 143.5L131.7 142.6L133.1 144L135.9 143.4L135.9 143.5L136.6 143L137 141L137.1 140.1L136.1 139.1L134.9 139.5L133.6 140.5L133.5 140.7ZM136.6 143L136.2 144.8L137 145.8L139.8 145.7L139.9 145.4L138.1 143L136.9 142.8ZM143.1 146.9L144.9 148L145 148L146 145.3L143.3 145.1ZM138.9 152.5L138.6 153.1L138.6 153.4L139.8 155.8L140.9 158.3L141.2 158.5L141.8 158.5L142.1 155.6L142.1 155.6L142.3 154.8L138.9 152.5L139.6 151.4L139.6 151.3L139.4 150.6L137.3 149.8L138 152L138 152.1ZM120.8 150.3L120.5 152.4L122.4 153.5L120.8 154.9L121.5 156.8L122.3 157.1L122.6 157L122.9 154.3L122.6 153.5L123.7 152.3L122.4 149.8L121 150ZM151.5 152.1L151.5 152.1L153.2 151.5L153.2 149.8L152 149L150.5 150.8L149 150.1L147.8 150.8L147.7 152L146.3 153.1L146.7 154.9L147 154.9L148.9 154L149 153.9ZM131.6 161.4L131.9 159.7L131.9 159.6L133.1 156.8L132.3 155.8L130.7 157.9L131.1 158.9L129.4 159.2L128.6 161L130.8 162ZM125.1 156.8L124.5 157L124.7 159.1L126.3 160.4L126.7 160.3L127.4 158L127.3 157.8ZM124 161.4L123.5 160L122.7 159.4L123.7 161.4ZM130.6 162.8L128.8 163.6L129.4 166.1L130.1 166.2L130.2 166L131.4 165.3L131.5 165.2ZM162.4 78.1L161.4 76.7L160 77.8L160 79.2L161.3 79.3L162.1 78.6ZM156.8 87.9L155.8 87.3L153.8 87.7L153.3 89.9L156.8 89ZM158.3 94L160.6 93.2L161.5 91.5L161.3 91.1L160.7 90.8L158.1 91.4L157.4 92.9L157.4 93.2ZM153 95.3L153 95L154.5 94L154.3 91.5L153.2 90.6L151.8 92.5L152.1 94.2L150.8 94.6L150.7 94.7L151.3 95.7ZM154 95.1L153 95.3L153.1 96.2L154.8 97.1L155.8 96.8L155.9 94.1L155 94ZM158.7 103.2L158.3 105.3L160.2 106.6L161.6 105.4L161.9 104.7L161.6 103.5L161.6 103.4L161.6 103.4L161.6 103.4L162.4 100.5L162.3 100.5L161.6 99.5L161 99.8L160.9 100.1L160.8 102.9ZM160.2 110.2L157.5 109.9L157.6 108.5L157.4 107.7L154.5 107.6L154.4 107.9L156 110L157.3 110L157.5 113L158.9 113.3L160.3 112L160.4 110.7ZM160.2 115.8L159.8 115.4L157.3 115.4L156.8 117.2L158.3 117.9L160.4 117ZM155.4 118.7L155.6 117.5L155.2 117.1L153 117.9L153.1 119.3L151.5 119.4L151.3 120.7L151.5 121.1L153.8 119.9L154 119.8ZM157.5 120.6L157.6 121L159.3 121.6L160.1 121.1L160.4 119.9L158.1 119.2ZM148.6 120.7L149.7 122.7L151.8 121.6L151.5 121.1L151.2 121.2L149.3 119.7L149 119.9ZM154.6 130.8L153 127.9L151.8 128.5L151.4 131.4L152.4 131.7L154.6 130.8ZM157.8 133.2L157.7 133L155.5 132.5L154.8 134.1L155.2 135.2L156.9 135ZM153.3 137L153.2 137.9L157.3 138.2L157.4 138.2L154.9 135.8ZM150.5 147.2L150.2 145.7L149.2 145.4L147.9 145.6L147.5 147.5L149.1 149.1ZM154.2 158.9L153.3 159.7L153.5 161.7L154.1 162L156.3 160.5L156.2 160.1L156.6 159L156.5 157.7L157.2 156.6L156 154.9L154.6 154.9L154.5 154.9L153.5 156.5L154.3 157.7ZM148.6 158L147.9 159.6L148.9 159.9L148.8 161.4L149.2 161.6L150.3 162L150.3 162.6L151.4 163.4L152.9 161.9L150.6 160.4L151.6 158.9L151.3 157L150.5 156.4L150.4 156.4L148.6 157.5ZM159.8 166.3L161.6 165.3L161.7 164L159.8 163.5L157.9 163.9L159.3 166ZM155.9 165.4L156.5 165.7L156.3 165.3ZM157.4 173L155.7 174.4L155.8 174.6L156 174.6ZM174.1 77.2L176.5 78.2L177.5 76.6L177.4 76L176.4 75.3L174 76.2ZM168.9 76.5L167.7 77.1L167.7 80.1L169.1 80.3L170.1 79.9L170.5 79.5L170.5 78ZM163.7 85.1L162.3 83L160.5 85.1L161.9 86.8L163.7 85.2ZM174 86.2L172.6 87L172.3 89.1L172.3 89.1L173.9 89.1L174.5 86.6L174.1 86.2ZM172.1 96.2L173.8 96.5L173.9 96.5L174.7 96.5L177 95.1L176 93L174.3 93.5L174 94L172.7 93.8ZM164.3 98.5L165.2 96.9L163.9 94.7L163.3 94.8L163.1 95L162.8 96.5L163 98L162.9 98.3L164.3 98.5ZM175.5 100L177.6 101.3L177.9 102L178.5 102.1L179.4 99.1L178.7 98.2L177.4 98.7L177 98.8ZM176.1 103.5L176.4 102.7L174.9 100.4L174 101.4L173.5 103.6L174.3 104.2ZM162.6 116.9L160.8 117.8L161.1 118.9L162.9 119.9L163.1 121.2L163.7 121.7L165.6 121.1L165.5 119.1L164 118.9L163.5 117.2L165.6 116.3L166.5 118.3L166.7 118.4L168.4 117.9L168.8 117L167.8 115.4L167.1 114.9L166 115.1L164.6 113.9L163.4 114.3L163.2 115.3L163.7 116.4L162.9 116.8L162.9 116.9ZM169.7 122.3L169.8 122.4L173.1 121.9L173.2 120.5L171.9 119L170 119.9ZM177.8 123.9L177.7 123.4L175.9 122.3L175.2 122.7L175.2 124.7L176.8 124.9ZM161.8 128.2L160.9 128L159.6 128.8L160 130.9L160.9 131.8L162.9 130.9L163 129.4L165.9 129.2L166.1 130.9L167.4 131.7L168.3 131.4L168.5 128.6L168.4 128.5L166.6 128.5L166.1 127.8L164.8 126.8L164.5 127L163 129.1ZM170.1 128.9L170.8 131L171.4 130.9L172.9 130L171.6 128.3ZM159.7 133.6L159.6 136.4L161.7 136.9L163.2 135.6L163 134.9L160.5 133.2ZM161.8 138.3L160.5 139.8L161.2 140.5L163.1 141L163.5 140.2ZM176.8 146.9L177 147L177.9 146.6L178.6 144.3L177.7 143.7L176.8 143.7L175.2 144.9L175.4 145.9ZM167.3 146.6L167.8 147.7L170.2 147.4L170.2 145.3L170 145.1L168.9 145.2ZM175.7 155.1L174.2 153.7L173.5 153.7L172.5 155.2L172.5 156.7L173.8 157.4L175.3 156.5ZM168.3 158L169.5 160L170.7 159.8L170.8 159.6L171.3 157L169.9 156.3ZM162.5 162.9L162.9 162.9L165.1 161.3L164.6 160.1L165.2 158.3L164.6 156.9L164.5 156.8L162.5 157.1L162.6 159.4L161.4 160.8ZM173.7 160.9L173.7 160.9L175.1 160.9L176 159.8L176 159.7L173.9 159.3ZM164.6 165.8L165.4 164.7L165.2 164.8L164.5 165.7ZM192.5 77.1L192.2 77L191.1 77.4L190.4 77.9L190.4 79.8L191 80.4L193.3 79.9ZM181.6 82.3L182.6 81.2L182.9 80.1L181.2 79.4L180.9 78.1L180.1 77.4L179.5 77.4L178.6 80.1L179.7 80.8L179.8 80.9ZM186.7 83.7L185.2 81L184.2 82.4L184.1 83.8L185.8 84.1L186.7 83.8ZM179.2 85.9L179.3 85.9L182.4 86.4L182.6 84.5L181.6 83.4L179.2 83.9ZM182.1 87.4L180 89.4L180.1 90.7L182.3 91.5L183 91.2L183 89.5L184.3 88.7L182.9 86.8L182.5 86.6ZM191.6 95.4L192.4 94.5L189.8 94.4L189.3 93.8L189.3 94.4L190.2 95.1ZM186.2 96.4L184.9 97.1L184.9 97.3L185.4 99.7L187.9 97.5L187.6 97L186.9 96.4ZM184.5 106L182.8 103.4L184.2 102.7L184.7 100.8L182.9 100.5L181.7 101.1L181.1 102.9L180.4 103.5L180 105.2L180.7 106L184.4 106.1ZM178 105.7L176.7 106.6L176.7 107.9L178.1 109.4L178.1 109.4L178.5 108.2L178.4 105.7ZM189 112.1L188.4 110.5L186.9 110.8L186.4 112.3L188.3 113.8ZM182 112.3L181.2 111.7L179.5 112.1L178.3 113L178.4 113.8L176.3 115.6L176.4 116.1L177.4 117.1L179.3 116.9L180 115.2L180.1 115.2L182.5 116L183.7 115.2L183.9 114.8L182.1 112.3ZM187 115.3L187.1 117.3L187.7 117.4L190.1 116.8L189.2 114.7L188.3 114.4ZM184.5 116.8L183.4 118.6L183.7 119.3L184.2 119.5L186 119.1L186.5 117.7ZM192.9 129.6L193.2 128.4L195.5 128L196.1 126.8L195.6 126L195.5 125.4L193.3 123.9L191.9 125.6L191.8 126.6L190.7 127.1L190.5 129.6ZM189.4 130.4L188.1 129.1L187.5 129.1L186.4 130.3L188.1 131.6ZM197.1 129.8L196.1 129.6L195 131.2L196.7 132.7L197 132.7L198.3 131.1ZM193.7 134.3L190.2 136.1L190.7 136.9L193.8 136.3L194.1 134.7ZM194.5 138L194.3 138.4L195.2 139.6L197.4 140.2L197.5 140.1L197.8 139.4L197.7 138L196.1 137.2ZM191.9 140.2L192 139.1L190.9 137.8L188.4 139.5L188.7 140.3L190.2 141.3ZM191.8 147L192.5 145.8L192.6 145.6L191.1 146.6L191.3 147.2ZM188.6 149.9L188.2 150.1L188.1 151.1L188.4 150.3Z" fill="#ff9f00" stroke="#ff9f00" stroke-width="0.25" fill-rule="evenodd"/>
<path d="M148 84.3L147.9 86.9L148.3 86.8L149.9 89L150.5 89L149.9 92.1L149.3 92.3L150.5 94.4L150.8 94.6L152.1 94.2L151.8 92.5L153.2 90.6L153.1 90L153.3 89.9L153.8 87.7L152.8 85.7L153 85.1L153.3 84.8L153.7 84.7L155.2 85.6L157.8 84.7L157.5 83L156.9 82.6L156.3 80.2L153.9 80.6L153.8 80.4L151.9 79.9L152 79.6L150.6 80.2L150 80.5L148.7 82.1L148 83ZM146.8 98.6L149.7 98.6L149.3 97.2L149.2 97.1L148.8 96.1L148 95.7L146.5 96.6L146.5 98.1ZM151.3 99.1L151.1 98.9L150.2 99.1L149.5 100.9L150.7 101.6ZM148.5 115.3L146.9 115.7L146 117.2L146.9 118L147 118L147.3 118.2L148.3 116.9ZM147.2 118.3L147.2 118.3L145.6 119.8L146.5 121.3L147.2 121.3L148.6 120.7L149 119.9ZM149.5 123.5L149.1 124L149.5 126.2L152.2 125.7L152.1 124.1ZM146.5 126.1L146.7 124.1L145.1 123.2L145 123.2L144 124.3L143.7 126.2L144 126.7L144.3 126.9ZM139.6 127.9L137.4 129.5L137.6 130.6L140.1 131.3L140.7 130.2L140.6 128.9L139.8 127.9ZM129 136L129 135.9L128.4 136.3L128.8 138L130.4 137.8ZM122.2 139L121.2 138.3L120.9 140.6L122.3 139.7ZM125 143.2L126.5 142.7L128.2 143.5L128.9 143L128.6 140.4L127.8 139.9L127.6 139.8L126.1 138.2L123.4 140.6L123.8 141.3L123.9 141.7ZM121.7 143.5L121.7 143.5L121.4 144L121.7 145.6L122.6 145.3L122 143.7ZM133.9 146.8L135.9 144.4L135.9 143.5L135.9 143.4L133.1 144L132.6 145.6L133.9 146.8ZM128.5 147L127.6 144.9L125.7 144.9L126.1 147.7L126.4 148.1L127.5 148.5L128.2 147.8ZM149 150.1L149.1 149.1L147.5 147.5L145.6 148.6L146.1 150.1L147.8 150.8ZM136.7 149.6L136.4 148.4L134.6 149.8L135.3 151.7L136.6 151.4ZM125.5 154.6L124.9 152.4L123.7 152.3L122.6 153.5L122.9 154.3ZM119.6 153.1L119.4 153.9L120.8 154.9L122.4 153.5L120.5 152.4ZM137.3 156.2L135.5 157.7L135.5 157.9L137.4 159.8L137.9 159.5L138.9 156.7L138.8 156.2L139 155.9L138.6 153.4L138.5 153.1L136.2 154.2L136.1 154.4ZM145.3 157.4L145.2 156.9L142.1 155.6L141.8 158.5L142.8 158.5L143.1 158.4L144 157.6L145 157.7ZM124.2 162.1L124.5 162.6L125.1 163.9L125.1 164L125.5 165L125.8 164.3L126.2 164.2L126.9 163.5L128.8 163.6L130.6 162.8L131.5 165.2L132.4 163.9L132.4 163.1L133.1 162.6L133.1 162.2L131.6 161.4L130.8 162L128.6 161L129.4 159.2L131.1 158.9L130.7 157.9L128.8 156.3L127.3 157.8L127.4 158L126.7 160.3L126.3 160.4L124.1 161.4ZM159.2 89.1L157.9 90.8L158.1 91.4L160.7 90.8L159.8 89ZM161.6 99.5L162.6 98.3L162.5 98L160.1 96.3L159.4 96.4L159.4 99L161 99.8ZM154.8 97.1L154.8 97.9L155.8 99.9L157.4 98.7L157 97L155.8 96.8ZM155.4 103.9L156 105.6L157.4 105.8L158.3 105.3L158.7 103.2L160.8 102.9L160.9 100.1L158 101.5L157.7 102.1L157.3 102.1ZM152.5 100.9L153.7 103.3L153.7 103.3L154.3 101L153.1 100.2ZM162.4 112.6L162.7 111.2L160.4 110.7L160.3 112L161.8 113.6ZM154.7 126.2L155.4 126.8L155.9 128.5L158 129L158.4 128.6L157.8 126.9L158.3 126.1L156.7 123.9L156.7 123.9ZM162.4 124.6L161.4 124.4L160.4 124.7L160.1 125.5L160.9 128L161.8 128.2L163 129.1L164.5 127L162.7 126.3ZM155.5 132.5L157.7 133L157.9 131.1L157.4 130.4L155 130.5L154.6 130.8L154.6 130.8ZM157.3 138.2L155.8 140.6L155.8 141.1L158.8 141.5L159 142.5L157.6 144.2L157.6 144.2L161.1 145.7L161.3 145.4L160.8 143L163.5 142.1L163.1 141L161.2 140.5L160.5 139.8L161.8 138.3L161.9 138.1L161.7 136.9L159.6 136.4L159.7 133.6L157.8 133.2L156.9 135L158.3 137.3L158 138L157.4 138.2ZM151.3 143.9L153.6 142.7L151.7 140.5L150.4 141.6ZM156 154.9L156 154.9L157.2 156.6L156.5 157.7L156.6 159L159.5 158.9L159.7 158.1L158.4 156.7L159.8 154.4L161.8 155.8L162.6 154.4L161.7 152.3L161.3 152.1L161.6 149.7L159.9 148.7L159.5 147.9L158.5 147.6L156.6 148.7L156.5 149.6L158.5 151L158.7 152L159.7 152.8L159.7 154ZM153.2 151.5L154.1 151.9L155.3 151.4L155.8 150.2L154 149.1L153.2 149.8ZM162 175.6L162.2 175.4L162.3 175.3L163.2 173.6L163.2 173.4L162.1 172.5L162.1 171.8L162.1 171.7L159.7 172.1L159.7 172.1L159.5 172.5L160.9 173.1L160.3 175ZM156.4 178.2L157.2 177L159.8 177.7L159.9 175.2L159.3 175L157.2 176.2L156 174.6L155.8 174.6L155.3 174.9L154.8 176.8L155.4 177.9ZM176.3 84.4L178.1 83.3L177.4 82.2L178 80.1L176.5 79.4L175.5 80.2L175.2 81.6L174.6 82.6L175.6 84.3ZM169.1 80.3L167.7 80.1L167.1 80.2L166.1 81.9L168.1 83.6L169.1 81.7ZM164.8 91.8L164.9 88.9L165.4 88.6L165.4 88.4L166.3 87.4L166.2 85.2L166.2 85.2L164.4 86.4L163.7 86.9L163.2 88.8L162.4 91.9ZM182.1 98.1L182.2 96.1L181.3 96L180.5 94.4L182.4 92.5L182.3 91.5L180.1 90.7L179.1 91.6L179.4 93.7L177.5 95.3L178.8 97.6L178.7 98.2L179.4 99.1L180.2 99.4ZM178.5 108.2L180.9 107.7L180.7 106L180 105.2L178.4 105.7ZM171.5 110.9L173 111L174.6 110.1L174.5 109.5L173.3 107.4L173 107.4L171.9 105.7L171.1 105.7L169.7 106.4L170 107.1L171.8 107.9L171 109.7ZM178.3 113L179.5 112.1L177.8 109.9L176 111.1L176.1 111.7L174.9 114.1L173.2 112.7L172.2 113.1L170.8 111.9L169.6 112.7L168.6 112.4L168.1 112.9L167.1 114.9L167.8 115.4L170.2 114.6L170.4 114.3L171.9 114.4L172.9 115.4L174.9 114.3L176.3 115.6L178.4 113.8ZM176.9 119.8L177.4 117.1L176.4 116.1L174.5 117.6L175.5 119.8L176.4 120ZM167.6 120.3L169.7 119.7L168.4 117.9L166.7 118.4ZM175.2 124.7L175.2 122.7L173.3 122.2L173 123.6L174.5 125.1ZM177.2 127.4L179.5 125.7L179.6 124.5L177.8 123.9L176.8 124.9L177 127.2ZM164.2 132.6L166.3 133.7L166 135.3L168.8 136L169.1 134.3L166.5 133.5L167.4 131.7L166.1 130.9L164 131.8ZM172.1 136.5L171.7 136.3L169.5 136.9L170.3 138.9L173.1 138.4ZM175.2 151.4L174.2 153.7L175.7 155.1L176.3 154.9L177.5 153L177.9 153L179.8 155.3L180.4 155.5L181.4 154.6L181.5 154.3L181.5 153.7L180 151.9L180 151L182.4 150.3L183.5 150.8L184.6 150.1L183.6 147.8L182.6 147.6L181.7 148L180.5 147.8L180.7 145.5L179.3 144.1L178.6 144.3L177.9 146.6L180 148L179.3 149.8L178 149.9L177.2 152.5ZM168.9 152.6L168.2 153.9L168.2 154L169.6 155.1L169.9 156.3L171.3 157L170.8 159.6L173.8 159.2L173.8 157.4L172.5 156.7L172.5 155.2L170.8 154.5L171.8 152.5L171.9 152.4L172.1 151L174.4 149.9L173.8 148.5L173.4 147.8L172.9 147.5L171 148.1L170.6 149.8L168.8 150.4ZM207.4 77.5L207.9 77.6L209.2 76.5L208.7 74.6L206.9 75.2L207 77.1ZM196 77.7L196.4 77.6L196.7 75.4L195.8 74.9L194.6 75.3L194.4 75.4L194.3 76.3ZM183.6 79.7L182.9 80.1L182.6 81.2L184.2 82.4L185.2 81L185.3 80.6L187.2 79.7L187.5 79.9L190.3 79.8L189.8 78.2L188.7 77.2L188.3 77L187.2 78.7L185.4 77.6L185.8 75.2L185.1 74.7L183 75.5L183.2 77.4L183.8 78.1ZM200 87.4L199.4 86.9L199.2 87L198.7 86.9L198.5 87.2L198.5 87.8L198.5 88.6L198.5 90L199.5 89.1L200.5 88.4ZM186.4 87.7L185.8 89.6L184.3 88.7L183 89.5L183 91.2L183.9 91.1L185.8 90.5L186.9 92.2L187.8 92.2L187.9 92.1L187 91L188 89.8L188 89.8L188 89.4L188.9 88.1L189.4 87.9L188.5 86.9ZM196.3 96.5L197 97.3L198 97.2L199.1 96.1L198.3 95.1L198.1 94.8L197.5 94.6L196.3 94.6ZM200.7 98.7L201.2 98.9L201.8 98.1L200.6 98.1ZM187.8 100L188 97.7L187.9 97.5L185.4 99.7L185.5 100.5L185.6 100.6ZM191.1 103.6L190.7 105.6L192.2 106.7L193.7 106.1L193.7 105.5L194.1 104L194.1 104ZM184.4 106.1L184.4 106.9L185.7 108.6L187.2 108.1L187.4 105.6L185.8 105.3L184.5 106ZM188.4 110.5L189 112.1L191.1 112.7L192.3 112.2L192.1 111.1L193.8 109.3L192.2 107.5L191.1 108.8L192 111L188.5 110.3ZM195.2 111.1L195.7 110.9L195.7 110.6L195.6 109.3L194.9 108.9L194.4 109.3ZM183.2 108.6L181.1 108.6L180.7 109.5L181.2 111.7L182 112.3L182.1 112.3L182.2 112.3L183.5 109.3ZM189.2 114.7L190.1 116.8L191.1 117.2L191.3 117L192.1 115.6L190.4 114.2ZM180.5 118.2L180.3 119.1L181.8 120.8L183.7 119.3L183.4 118.6L182 117.7ZM181.4 124.8L183.6 124.2L182.2 122L181.8 121.8L180.7 122.3L179.9 124.4ZM195.5 125.4L195.6 126L196.1 126.8L197.4 126.8L198.4 125.2L196.9 123.4ZM190.5 129.6L189.7 130.4L190.4 131.4L193.2 130.6L192.9 129.6ZM194.1 134.7L193.8 136.3L194.5 138L196.1 137.2L196.2 135.6L195.2 134.7ZM184.9 139.2L184.6 140.5L186.7 140.9L187.4 138.8L187.1 138.6L187.9 136.8L186.1 135.4L185.2 135.4L186.1 138.6ZM179.4 137.3L180.1 138.8L181.7 139L183 137.4L182.9 136.4L180.8 135.6L180 135.9ZM188.9 148.6L188.8 149.5L189.1 148.8L189.5 148.3L190.1 147.6L191.3 147.2L191.1 146.6L189.6 145.2L188.7 145.3L187.7 146.8Z" fill="#ff7f00" stroke="#ff7f00" stroke-width="0.25" fill-rule="evenodd"/>
<path d="M152 79.6L151.9 79.9L153.8 80.4L154 78.7ZM147.9 87.7L148.3 89.6L149.9 89L148.3 86.8L147.9 86.9ZM145 96L143.9 97L144.5 97.1L145.5 98.5L146.5 98.1L146.5 96.6ZM148.5 102.9L148.8 101.3L146.8 100.3L146.3 100.6L146.3 100.7L146.5 101.8L148.2 102.9ZM144.3 118.7L143 119L141.8 119L141.5 119.7L141.5 119.8L143.1 120.9L144.5 119.6ZM146.7 124.1L148 123.8L147.2 121.3L146.5 121.3L145.1 123.2ZM132.6 124.2L131.6 122.3L131.2 122.3L129.6 124.9L130.9 126.5L132.1 126.2ZM141.6 126L139.8 127.9L140.6 128.9L141.6 128.8L144 126.7L143.7 126.2ZM145.5 130.8L146.2 128.9L144.5 127.5L143.6 129.6L143.7 130.7L144.5 131.3ZM137.4 129.5L135.5 128.5L135.2 128.7L134.9 131.5L134.9 131.6L137.6 130.6L137.6 130.6ZM150.4 131.5L149.5 133.2L151.6 135.3L151.9 135.3L152.8 133.9L152.4 131.7L151.4 131.4ZM143.3 137.7L143.3 135.8L141.1 134.9L140.2 136.1L139.9 137.7L139.9 137.8ZM132.7 139.3L133.6 140.5L134.9 139.5L134 138ZM145.7 140.3L144.5 140.9L145 142.4L146.3 143.2L147.8 142.1L147.7 141.6ZM151 145.2L151.3 143.9L150.4 141.6L150.3 141.6L148.9 142.3L149.2 145.4L150.2 145.7ZM123.2 145.7L122.6 145.3L121.7 145.6L121.8 146L121.1 147.2L123 147.5L123.4 146.9ZM147.9 145.6L146.5 144.9L146 145.3L145 148L145.6 148.6L147.5 147.5ZM136.7 148.1L137.3 149.8L139.4 150.6L139.6 151.3L142 149.1L141.6 147.8L140.1 147.3L139.8 145.7L137 145.8L136.7 148.1ZM153.2 149.8L154 149.1L154.2 148.1L153.1 147.5L151.8 148.1L152 149ZM150.5 156.4L151.3 157L153.5 156.5L154.5 154.9L154.6 154.9L156 154.9L156 154.9L159.7 154L159.7 152.8L158.7 152L156.9 152.6L155.3 151.4L154.1 151.9L153.2 151.5L151.5 152.1L151.5 152.1L151.9 153.8ZM128 166.5L129.5 167.2L130.1 166.2L129.4 166.1ZM157.6 78.9L158.9 79.6L160 79.2L160 77.8L158.3 77.2ZM153.7 84.7L153.3 84.8L153 85.1L152.8 85.7L153.8 87.7L155.8 87.3L155.2 85.6ZM153.2 90.6L154.3 91.5L154.5 94L155 94L156.6 92.4L156.6 92.4L155.6 91.7L156.8 89L156.8 89L153.3 89.9L153.1 90ZM158.6 95.9L157 97L157.4 98.7L158.3 99.2L159.4 99L159.4 96.4ZM156.5 113.8L157.3 115.4L159.8 115.4L158.9 113.3L157.5 113ZM152 117.1L153 117.9L155.2 117.1L154.6 116L152.9 115.3L151.4 116.1L151.4 116.4L152 117ZM153.7 122L153.4 122.1L154.7 126.2L154.7 126.2L156.7 123.9L156.7 123.9L159.3 123.6L159.3 121.6L157.6 121L157.5 120.6L158.1 119.2L158.2 118.1L156.7 117.7L155.4 118.7L155.3 119.4L154.2 120.2ZM164 131.8L166.1 130.9L165.9 129.2L163 129.4L162.9 130.9ZM163.9 148.2L165.2 148.4L166.6 146.2L167.3 146.6L168.9 145.2L167.6 143.7L166.2 143.2L165.7 145.3L164.2 145.9L162.8 145.2L161.3 145.4L161.1 145.7L161 146L163.3 148.7ZM161.4 160.8L162.6 159.4L162.5 157.1L162.3 156.9L161.8 155.8L159.8 154.4L158.4 156.7L159.7 158.1L159.5 158.9L159.5 159L161.3 160.8ZM153.4 164.6L154.6 165.4L155.5 165.3L155.9 165.4L156.3 165.3L156.5 165.7L156.9 165.9L158.4 166.2L158.4 166.2L159.3 166L157.9 163.9L157.6 163.8L157.6 161.4L156.3 160.5L154.1 162L154.3 162.7ZM163.2 173.4L163 172.5L162.1 171.7L162.1 171.8L162.1 172.5ZM159.9 175.2L160.3 175L160.9 173.1L159.5 172.5L158 172.8L159.3 175ZM156.5 178.9L156.4 178.2L155.4 177.9L155.7 178.5ZM160.6 177.9L159.9 177.9L159.5 179L159.5 179ZM168.7 74.7L168.7 75.1L169 75.5L170.6 74.9L170.5 74.1ZM177 98.8L177.4 98.7L178.7 98.2L178.8 97.6L177.5 95.3L177 95.1L174.7 96.5ZM169.1 108.3L170 107.1L169.7 106.4L167.2 107.7ZM180.7 109.5L178.1 109.4L178.1 109.4L177.8 109.9L179.5 112.1L181.2 111.7ZM165.9 110.6L165.1 112.5L168.1 112.9L168.6 112.4L167.8 110.8L166.5 110.1ZM174.5 117.6L176.4 116.1L176.3 115.6L174.9 114.3L172.9 115.4L171.9 114.4L170.4 114.3L170.2 114.6L170.2 116.6L172.2 117.5L172.3 117.4ZM169.8 122.4L169.5 123.5L171.3 124.8L171.6 126.2L172.2 126.8L173.5 126.7L174.1 126.2L174.5 125.1L173 123.6L173.3 122.2L175.2 122.7L175.9 122.3L176.4 120L175.5 119.8L173.2 120.5L173.1 121.9ZM181.8 121.8L182.2 122L184.4 121.2L185.5 122.4L186.6 122L186.4 119.6L186 119.1L184.2 119.5L183.7 119.3L181.8 120.8L180.3 119.1L178.4 120.5L178.7 121.2L177.7 123.4L177.8 123.9L179.6 124.5L179.5 125.7L180.7 127.6L181.7 127L181.4 124.8L179.9 124.4L180.7 122.3ZM166.6 128.5L168.4 128.5L168.7 127L167.8 124.6L167.5 124.6L166.1 127.8ZM169.6 132.2L169.9 133.2L169.1 134.3L168.8 136L169.1 136.7L169.5 136.9L171.7 136.3L171.4 133.8L172.8 133.2L173.5 133.1L174.5 132.3L174.5 131.5L173.3 130.1L172.9 130L171.4 130.9L170.8 131ZM166.1 142.7L166.9 141.2L165.3 139.3L164.8 139.1L163.5 140.2L163.1 141L163.5 142.1L163.7 142.3ZM170.1 143L170.2 143.1L171.8 142.6L172.4 141.1L170 140L168.6 140.8ZM179 140.5L177.8 140.5L177.7 143.7L178.6 144.3L179.3 144.1L180.3 142.9L179.5 141ZM175.4 145.9L175.2 144.9L174.1 144.2L173.1 144.3L172.4 145.4L172.9 147.5L173.4 147.8ZM168.1 158L166.9 156.5L164.6 156.9L165.2 158.3L166.7 158.8ZM168.6 161.4L170.2 162.4L170.4 162.3L171.1 161.6L171.8 161.5L171.9 161.4L170.7 159.8L169.5 160ZM166.7 164.3L168.3 164.6L168.6 164.3L167.9 163.2L165.9 164.5ZM182.6 81.2L181.6 82.3L181.6 83.4L182.6 84.5L184.1 83.8L184.2 82.4ZM185.4 86.8L182.9 86.8L184.3 88.7L185.8 89.6L186.4 87.7ZM184.8 93.8L183.9 91.1L183 91.2L182.3 91.5L182.4 92.5L183.4 94.3ZM185.2 93.9L186.2 96.4L186.9 96.4L187.6 95.3L186.7 92.7ZM184.7 100.8L185.5 100.5L185.4 99.7L184.9 97.3L182.9 99.1L182.9 100.5ZM190.8 99.5L192.2 101.4L191 103.3L191.1 103.6L194.1 104L194.3 103.5L194 101.4L194.6 100.7L194.2 99.1L194.2 99.1L190.9 99.3ZM180.7 106L180.9 107.7L181.1 108.6L183.2 108.6L184.4 106.9L184.4 106.1ZM196.1 113L196.3 115.5L197.5 115.7L197.6 115.6L196.4 114.6L196.6 113.2L196.4 113L195.8 112L195.7 110.9L195.2 111.1L194.8 112.7ZM187.1 117.3L187 115.3L185.4 114.4L183.9 114.8L183.7 115.2L184.5 116.8L186.5 117.7ZM197 122.5L196.9 123.4L198.4 125.2L199.7 124.9L200.4 125.5L200.7 125.3L199.9 124.9L199.7 124.9L198.5 125.2L199.2 123.8L199.6 123.5L200.4 122.8L200.3 122L199.5 122.6L197 122.5L197 119.7L196.8 119.4L194.3 119.5L194.3 122.2ZM190 135.9L190.2 136.1L193.7 134.3L193.2 132.9L190.8 132.9L189.7 134.3L188.1 133.6L186.1 135.4L187.9 136.8ZM195.2 139.6L194.3 138.4L192 139.1L191.9 140.2L193.8 142.4ZM182.5 145L180.7 145.5L180.5 147.8L181.7 148L182.6 147.6L182.7 145.1ZM188.9 148.6L187.7 146.8L186.4 147.2L186.1 149.8L188.2 150.1L188.6 149.9L188.8 149.5Z" fill="#ff5f00" stroke="#ff5f00" stroke-width="0.25" fill-rule="evenodd"/>
<path d="M148.8 101.3L148.5 102.9L148.6 103.2L150.6 101.8L150.7 101.6L149.5 100.9ZM138.5 115.7L139.9 114.5L139.2 112.7L138.2 112.1L137 112.5L137 113.9ZM126.1 121.7L124.9 120.7L123.7 122.4L124.5 124L124.9 124.1L125.4 124ZM141.8 122.6L142.2 123.4L144 124.3L145 123.2L143.1 120.9ZM133.6 128L133.9 128.4L135.2 128.7L135.5 128.5L136.4 126.2L135.9 125.3L135.4 125.1L133.8 126.2ZM146.5 126.1L144.3 126.9L144.5 127.5L146.2 128.9L148.1 128.6L148.7 127.1ZM149.2 130.2L150.4 131.5L151.4 131.4L151.8 128.5L151.2 128.3ZM141.1 134.9L143.3 135.8L143.3 137.7L143.7 138.4L143.3 140.2L144.5 140.9L145.7 140.3L147.7 141.6L148.2 139.3L147.1 138.6L146.9 138L147.1 137.4L146.1 135.7L144.7 135.7L143.9 135.5L144.7 133.1L144.6 133L141.3 133.2L140.8 133.5ZM151.9 135.3L151.6 135.3L149.8 136.6L150.3 138.4L152 139.2L153.1 138.2L153.2 137.9L153.3 137ZM128.6 140.4L130.1 140.2L132 141.6L133.5 140.7L133.6 140.5L132.7 139.3L132 140L131.1 138.8L130.4 137.8L128.8 138L127.8 139.9ZM138.1 143L138.7 142.7L139.9 141L141.3 140.6L139.9 137.8L137.7 140L137.2 140.1L136.9 142.8ZM153.1 147.5L154.2 148.1L155.3 147.5L155.4 146.6L154.2 145.2L154.9 143L153.6 142.7L151.3 143.9L151 145.2L153.3 145.6ZM143.3 145.1L143.3 145.1L140.7 144.8L139.9 145.4L139.8 145.7L140.1 147.3L141.6 147.8L143.1 146.9ZM142.8 149.7L142.7 151.8L143.7 152.8L143.8 152.8L145.2 150.8L146.1 150.1L145.6 148.6L145 148L144.9 148L143.2 149.5ZM124.9 152.4L125.5 154.6L125.6 154.7L127.6 154.3L127.3 152.6L125.6 151.9ZM150.5 156.4L151.9 153.8L151.5 152.1L149 153.9L148.9 154L150.4 156.4ZM145.2 156.9L145.6 155.5L143.6 153.2L142.3 154.8L142.1 155.6L142.1 155.6ZM150.6 160.4L152.9 161.9L153.5 161.7L153.3 159.7L151.6 158.9ZM155.9 94.1L155.8 96.8L157 97L158.6 95.9L158.3 94L157.4 93.2ZM174.3 106.4L173.3 107.4L174.5 109.5L174.6 110.1L173 111L173.2 112.7L174.9 114.1L176.1 111.7L176 111.1L177.8 109.9L178.1 109.4L176.7 107.9L176.7 106.6ZM157.3 115.4L156.5 113.8L156.1 113.7L154.6 116L155.2 117.1L155.6 117.5L156.8 117.2ZM159.5 118.4L158.2 118.1L158.1 119.2L160.4 119.9L161.1 118.9L160.8 117.8ZM175.5 119.8L174.5 117.6L172.3 117.4L172.2 117.5L171.9 119L173.2 120.5ZM163.7 121.7L163.1 121.2L161.4 121.8L161.4 124.4L162.4 124.6L163.9 124L165.2 124.6L166.6 124.3L166.3 121.5L165.6 121.1ZM159.3 123.6L156.7 123.9L158.3 126.1L160.1 125.5L160.4 124.7ZM171.6 128.3L172.9 130L173.3 130.1L174.3 128.3L173.5 126.7L172.2 126.8L171.6 126.2L168.7 127L168.4 128.5L168.5 128.6L170.1 128.9ZM173.5 133.1L172.8 133.2L171.4 133.8L171.7 136.3L172.1 136.5L173.1 138.4L173.2 138.4L175.2 137.7L175.9 136.4L175.7 136.1L173.9 135.2ZM165.3 136L164.5 136.2L164.5 138.4L164.8 139.1L165.3 139.3L166.9 137.8L167.8 137.9L169.1 136.7L168.8 136L166 135.3ZM175.2 144.9L176.8 143.7L175.2 141.3L175 141.4L173.1 140.6L172.4 141.1L171.8 142.6L173.1 144.3L174.1 144.2ZM166.1 142.7L163.7 142.3L162.8 145.2L164.2 145.9L165.7 145.3L166.2 143.2ZM164 150.3L164.3 152.1L161.7 152.3L162.6 154.4L164.4 153.8L164.5 152.3L165.8 152L168.2 153.9L168.9 152.6L168.8 150.4L167.4 149.6L167.3 149.6L166.9 149.5L165.2 148.4L163.9 148.2L163.3 148.7L161 146L159.5 147.9L159.9 148.7L161.6 149.7L163.2 149.1ZM173.8 159.2L170.8 159.6L170.7 159.8L171.9 161.4L171.9 161.5L172.5 161.4L173.7 160.9L173.9 159.3ZM160 169.1L160.2 170.7L161.7 170.7L161.6 169.4L161.5 169L159.9 168.8ZM161.9 175.9L162 175.6L160.3 175L159.9 175.2L159.8 177.7L159.9 177.9L160.6 177.9L161.2 177.3ZM203 73.8L203.1 74.1L204 74.7L206.1 74.1L206.5 73.4L204.3 72.1L203.7 72.3ZM188.3 77L186.6 75.8L185.8 75.2L185.4 77.6L187.2 78.7ZM191.3 84.6L191.5 84.1L190.7 81.2L189.4 82.5L190.4 84.6ZM199.1 96.1L198 97.2L199.7 99.1L200.7 98.7L200.6 98.1L200.5 98.1L200.4 96.8L199.1 96.1ZM182.1 98.1L180.2 99.4L181.7 101.1L182.9 100.5L182.9 99.1ZM196.4 101L196.5 101L196.5 100.9L194.6 100.7L194 101.4L194.3 103.5L194.6 102.6L195.1 101.3ZM188.5 110.3L192 111L191.1 108.8L189.3 108.9L188.7 109.6ZM186.4 112.3L185.8 112.8L185.4 114.4L187 115.3L188.3 114.4L188.3 113.8ZM184.5 116.8L183.7 115.2L182.5 116L180.1 115.2L180 115.2L179.3 116.9L180.5 118.2L182 117.7L183.4 118.6ZM200.3 121.7L199.5 120.9L199 119.5L199 119.5L198.7 118L197.8 117.2L196.9 118.3L196.8 119.4L197 119.7L197 122.5L199.5 122.6L200.3 122ZM189.2 119.5L187.7 117.4L187.1 117.3L186.5 117.7L186 119.1L186.4 119.6L188.8 120ZM191.6 121.8L193.3 122.8L194.3 122.2L194.3 119.5L194 119.2L191.7 119.3L191.6 121.8ZM177 127.2L176.8 124.9L175.2 124.7L174.5 125.1L174.1 126.2ZM188.1 133.6L189.7 134.3L190.8 132.9L190.4 131.4L189.7 130.4L189.4 130.4L188.1 131.6L187.7 132.9ZM181.7 139L182.2 140.6L183.1 141.6L183.1 141.6L184.8 144.6L186.4 143L184.4 140.9L184.6 140.5L184.9 139.2L186.1 138.6L185.2 135.4L184.5 135.1L182.9 136.4L183 137.4ZM187.3 142.5L190.1 142.3L190.2 141.3L188.7 140.3L187.4 141.7ZM179.3 144.1L180.7 145.5L182.5 145L181.8 142.8L180.3 142.9ZM175.2 151.4L177.2 152.5L178 149.9L176.4 149.3L174.8 150.1ZM185.9 150L186.3 152.4L187.8 152.3L187.9 151.8L188.1 151.1L188.2 150.1L186.1 149.8ZM180 151.9L181.5 153.7L183.5 151.6L183.5 150.8L182.4 150.3L180 151Z" fill="#ff3f00" stroke="#ff3f00" stroke-width="0.25" fill-rule="evenodd"/>
<path d="M153.7 103.3L155.4 103.9L157.3 102.1L155.6 100.7L154.3 101ZM140.8 110L140.2 108.8L139.7 108.7L139 109L138.1 109.9L138.8 110.8ZM138.5 115.7L137 113.9L135.5 114.8L135.9 116.4L137 116.9L138.4 116.2ZM151.5 119.4L153.1 119.3L153 117.9L152 117.1ZM139.4 124L139.3 124L137 123.8L135.9 125.3L136.4 126.2L138.5 126.5L139.6 127.9L139.8 127.9L141.6 126L141.1 125.1L142.2 123.4L141.8 122.6L139.8 122.5ZM147.2 131.4L147.6 133.6L148.2 133.8L149.5 133.2L150.4 131.5L149.2 130.2L148.7 129.9ZM137.6 130.6L137.3 133.5L140.4 133.1L140.1 131.3L137.6 130.6ZM144.7 135.7L146.1 135.7L147 133.7L144.7 133.1L143.9 135.5ZM140.7 144.8L143.3 145.1L143.3 143.8L141.7 142.3L141.6 140.8L141.3 140.6L139.9 141L138.7 142.7L141 143.2ZM156.6 148.7L155.3 147.5L154.2 148.1L154 149.1L155.8 150.2L156.5 149.6ZM139.3 159.7L137.9 159.5L137.4 159.8L136.9 161.2L137 161.4L137.2 161.4L138.3 160.3ZM179.1 88.6L179.3 85.9L179.2 85.9L177.3 86.2L176.4 88.2ZM159.9 88.7L159.8 89L160.7 90.8L161.3 91.1L163.1 88.7L162.3 87.6L162 87.7ZM182.2 96.1L182.1 98.1L182.9 99.1L184.9 97.3L184.9 97.1L182.7 96ZM178.7 121.2L178.4 120.5L176.9 119.8L176.4 120L175.9 122.3L177.7 123.4ZM177.2 127.4L177 127.2L174.1 126.2L173.5 126.7L174.3 128.3L176 128.7L177.2 127.5ZM157.4 130.4L157.9 131.1L160 130.9L159.6 128.8L158.4 128.6L158 129ZM168.3 131.4L169.6 132.2L170.8 131L170.1 128.9L168.5 128.6ZM166.3 133.7L164.2 132.6L163 134.9L163.2 135.6L164.5 136.2L165.3 136L166 135.3ZM175.2 141.3L176.8 143.7L177.7 143.7L177.8 140.5L177 140.1L176.8 140.1ZM166.2 143.2L167.6 143.7L170.1 143L168.6 140.8L168.1 140.7L166.9 141.2L166.1 142.7ZM173.1 144.3L171.8 142.6L170.2 143.1L170 145.1L170.2 145.3L172.4 145.4ZM172.1 151L171.9 152.4L173.5 153.7L174.2 153.7L175.2 151.4L174.8 150.1L174.4 149.9ZM164.6 156.9L166.9 156.5L167.8 154.3L164.9 154.6L164.5 156.8ZM164.6 160.1L165.1 161.3L165.7 161.4L166.6 161.4L166.7 158.8L165.2 158.3ZM187.2 79.7L185.3 80.6L185.2 81L186.7 83.7L188 82.3L189.4 82.5L190.7 81.2L190.3 79.8L187.5 79.9ZM203.1 87.6L204.3 87.2L204.5 87L204.5 85.1L203 84.8L202.3 86.1ZM199 100.7L199.2 100.1L199.2 99.8L197.2 100L196.5 100.9L196.5 101L197.5 100.6ZM189.3 106L189.3 108.9L191.1 108.8L192.2 107.5L192.2 106.7L190.7 105.6L191.1 103.6L191 103.3L192.2 101.4L190.8 99.5L189 100.8L189.1 102.3L188.6 102.6L187.7 105.6ZM188.7 109.6L187.2 108.1L185.7 108.6L185.6 110.1L186.9 110.8L188.4 110.5L188.5 110.3ZM184.1 111.7L185.3 110.2L183.5 109.3L182.2 112.3ZM189.7 130.4L190.5 129.6L190.7 127.1L189.1 126.9L188.1 129.1L189.4 130.4ZM188.4 139.5L190.9 137.8L190.7 136.9L190.2 136.1L190 135.9L187.9 136.8L187.1 138.6L187.4 138.8ZM184.8 144.6L184.7 144.8L184.7 144.9L185.2 146.6L186.4 147.2L187.7 146.8L188.7 145.3L188.5 145.1L187 142.9L187.3 142.5L187.4 141.7L186.7 140.9L184.6 140.5L184.4 140.9L186.4 143Z" fill="#ff1f00" stroke="#ff1f00" stroke-width="0.25" fill-rule="evenodd"/>
<path d="M152.9 115.3L154.6 116L156.1 113.7L154.4 112.5L153.3 112.9ZM144.3 117.1L144 117.6L144.3 118.7L146.9 118L146 117.2ZM138 119L137.6 119.4L138.5 119.8L139.3 119ZM136.4 126.2L135.5 128.5L137.4 129.5L139.6 127.9L138.5 126.5ZM145.5 130.8L144.5 131.3L144.6 133L144.7 133.1L147 133.7L147.6 133.6L147.2 131.4L148.7 129.9L149.2 130.2L151.2 128.3L149.1 126.8L148.7 127.1L148.1 128.6L146.2 128.9ZM133.9 128.4L133.6 128.7L133.5 130L134.9 131.5L135.2 128.7ZM154.9 135.8L157.4 138.2L158 138L158.3 137.3L156.9 135L155.2 135.2ZM144.5 140.9L143.3 140.2L143.7 138.4L143.3 137.7L139.9 137.8L139.9 137.8L141.3 140.6L141.6 140.8L141.7 142.3L143.3 143.8L145 142.4ZM146.5 144.9L147.9 145.6L149.2 145.4L148.9 142.3L147.8 142.1L146.3 143.2ZM139.9 145.4L140.7 144.8L141 143.2L138.7 142.7L138.1 143ZM141.6 147.8L142 149.1L142.8 149.7L143.2 149.5L144.9 148L143.1 146.9ZM143.8 152.8L146.3 153.1L147.7 152L147.8 150.8L146.1 150.1L145.2 150.8ZM128.8 163.6L126.9 163.5L126.2 164.2L127.7 166.3L128 166.5L129.4 166.1ZM160.2 106.9L160.2 106.6L158.3 105.3L157.4 105.8L157.4 107.7L157.6 108.5ZM179.3 116.9L177.4 117.1L176.9 119.8L178.4 120.5L180.3 119.1L180.5 118.2ZM160.4 119.9L160.1 121.1L161.4 121.8L163.1 121.2L162.9 119.9L161.1 118.9ZM171.3 124.8L169.5 123.5L167.8 124.6L168.7 127L171.6 126.2ZM158.4 128.6L159.6 128.8L160.9 128L160.1 125.5L158.3 126.1L157.8 126.9ZM175.9 130.5L176 128.7L174.3 128.3L173.3 130.1L174.5 131.5ZM168.3 131.4L167.4 131.7L166.5 133.5L169.1 134.3L169.9 133.2L169.6 132.2ZM169.5 136.9L169.1 136.7L167.8 137.9L168.1 140.7L168.6 140.8L170 140L170.3 138.9ZM163.5 142.1L160.8 143L161.3 145.4L162.8 145.2L163.7 142.3ZM164 150.3L163.2 149.1L161.6 149.7L161.3 152.1L161.7 152.3L164.3 152.1ZM171.9 152.4L171.8 152.5L170.8 154.5L172.5 155.2L173.5 153.7ZM167.8 154.3L166.9 156.5L168.1 158L166.7 158.8L166.6 161.4L167.9 161.8L167.9 163.2L168.6 164.3L169.3 163.7L170.2 162.5L170.3 162.4L170.2 162.4L168.6 161.4L169.5 160L168.3 158L169.9 156.3L169.6 155.1L168.2 154ZM161.3 160.8L159.7 161.6L159.8 163.5L161.7 164L162.5 162.9L161.4 160.8ZM159.8 166.3L159.6 167.4L159.8 167.6L159.9 168.8L161.5 169L161.3 168.2L162 167L162.2 166L161.6 165.3ZM207 71.9L206.2 71.5L204.3 72.1L206.5 73.4L207.1 72.8ZM208.9 73.6L208.7 74.6L209.2 76.5L209.8 76.5L210.5 75.5L210.1 73.4L209.8 73.3ZM204 74.7L204.5 76.4L207 77.1L206.9 75.2L206.1 74.1ZM204.6 81.4L203.1 82.4L202.9 84.7L200.4 84L200.5 84.9L199.5 85.7L199.4 86.9L200 87.4L202.3 86.1L203 84.8L204.5 85.1L205.4 84.6L205.5 82.2ZM186.7 83.8L188.7 85.9L190.4 84.6L189.4 82.5L188 82.3L186.7 83.7ZM197.2 100L196.8 98.3L194.2 99.1L194.6 100.7L196.5 100.9ZM195 116.3L196.9 118.3L197.8 117.2L197.5 117L197.5 115.7L196.3 115.5ZM193.2 130.6L193.9 131.4L195 131.2L196.1 129.6L195.5 128L193.2 128.4L192.9 129.6ZM181.8 142.8L182.5 145L182.7 145.1L184.7 144.8L184.8 144.6L183.1 141.6L183.1 141.6L182.2 140.6L179.5 141L180.3 142.9ZM187.3 142.5L187 142.9L188.5 145.1L188.7 145.3L189.6 145.2L190.5 143.5L192.9 143.4L193.9 142.5L193.8 142.4L191.9 140.2L190.2 141.3L190.1 142.3ZM186.1 149.8L186.4 147.2L185.2 146.6L183.6 147.8L184.6 150.1L185.9 150Z" fill="#ff0000" stroke="#ff0000" stroke-width="0.25" fill-rule="evenodd"/>
<path d="M91.7 103L104.6 104L107.6 109L112.5 111L111.5 113.9L105.6 111.9L100.6 110L94.7 109L92.1 106Z" fill="#ff7f00"/><path d="M117.1 106.4L122.4 104.8L123.8 108L121.1 110.4L117.9 109.6Z" fill="#ffff00"/><path d="M118.5 111.9L121.5 113.9L122.6 118.9L119.9 122.3L117.5 117.9Z" fill="#ff7f00"/><path d="M120.7 118.9L123 119.5L122.6 121.9L120.7 121.5Z" fill="#ff1f00"/><path d="M129.8 115.5L133 115.5L133.4 118.3L130.6 118.7Z" fill="#ff0000"/><path d="M114.5 121.9L117.1 121.5L117.5 124.8L115.5 125.4Z" fill="#ff9f00"/><path d="M98.6 118.9L101.6 118.5L102 120.9L99.2 121.1Z" fill="#ffbf00"/><path d="M67.9 122.3L74.2 121.9L75 127.4L71.8 131.4L68.3 128.8Z" fill="#ff7f00"/><path d="M70.5 62.8L75.3 58.6L76.5 61.6L75.3 66.4L72.9 67.6L69.9 65.2Z" fill="#ffff00"/><path d="M65.7 65.2L68.1 65.8L71.1 67.3L74.7 68.2L74.1 69L69.9 68.5L66.9 67.6Z" fill="#ff9f00"/><path d="M67.3 51.2L69.6 51L69.6 53.5L67.6 53.5Z" fill="#54b400"/><path d="M132.8 93.5L135.9 93.3L136.4 95.9L133.4 96.1Z" fill="#ff9f00"/><path d="M98.8 118L103.2 117.5L103.4 120.6L99.3 121.1Z" fill="#ff9f00"/><path d="M201.6 25.3L206.9 26.1L205.5 31.2L203.4 29.2Z" fill="#ff5f00"/><path d="M207.9 38.2L211.3 38.8L208.9 42.1L205.3 44.1L204.9 42.1Z" fill="#54b400"/><path d="M210.5 50.7L213.9 51.1L212.5 53.5Z" fill="#ffff00"/><path d="M196 57L198.6 58L199 60L197 59Z" fill="#54b400"/><path d="M187.1 64.6L189.1 64.6L191 68.9L187.5 69.9Z" fill="#ff1f00"/><path d="M187.1 69.9L192 68.9L198 69.3L197 71.9L189.1 72.9Z" fill="#54b400"/><path d="M194.6 68.5L198 68.9L197.6 71.3L195 70.9Z" fill="#ff9f00"/><path d="M202 75.3L204.5 74.9L204.9 76.9L202.4 77.3Z" fill="#ffff00"/><path d="M206.9 76.9L208.9 76.9L208.9 78.9L206.9 78.9Z" fill="#ffdf00"/><path d="M212.5 78.5L214.1 78.5L214.1 80.1L212.5 80.1Z" fill="#54b400"/>
<use href="#cn" fill="none" stroke="#1a1a1a" stroke-width="1.25" stroke-linejoin="round"/>
<use href="#pv" fill="none" stroke="#1a1a1a" stroke-width="1.12" stroke-linejoin="round"/>
<use href="#pe" fill="none" stroke="#111" stroke-width="1.15" stroke-linejoin="round"/>
<use href="#coast" fill="none" stroke="#111" stroke-width="1.35" stroke-linejoin="round"/>
<use href="#hn" fill="none" stroke="#111" stroke-width="1.2"/>
<use href="#tw" fill="none" stroke="#111" stroke-width="1.05"/>
<use href="#isx"/><use href="#na"/><use href="#sb"/><use href="#ins"/>
<use href="#hn" transform="translate(64.5 -45.5)" fill="#ffc000" stroke="#111" stroke-width="1.1"/>
</g>
<g transform="translate(260.0 190.0) scale(1.0)">
<path d="M208.2 50.1h0M165.1 69.2h0M172.1 79.4h0M179 84.3h0M184.7 85.5h0M191.7 100.8h0M185.4 104h0M174.1 105.3h0M178.5 106.4h0M189.2 106h0M180.9 108.3h0M196.2 119.6h0M178 122.8h0M153.1 124h0M181.9 135h0M156.6 144.6h0M154.9 161h0M156 161.1h0" stroke="#ff2a00" stroke-width="1.1" stroke-linecap="round" fill="none"/>
<path d="M186.2 39.2h0M208.9 42.4h0M222.4 47.9h0M177.2 78.2h0M216.7 78.5h0M178.3 82.6h0M178.3 85.3h0M167.4 86.9h0M177.2 86.5h0M110.9 88.7h0M172.8 90.3h0M173.3 90.2h0M176.9 89.6h0M143 91.5h0M159.5 93h0M160.6 93.7h0M175.9 95.2h0M192.8 94.8h0M154.1 95.7h0M148.8 97.5h0M186.9 98.9h0M167.2 104.4h0M171.7 103.7h0M183.2 104.2h0M184 105h0M162.3 107.4h0M146 107.8h0M152.4 107.5h0M152.9 107.8h0M165.6 107.7h0M149.9 109.1h0M189.7 108.5h0M164.8 110.1h0M183.2 112h0M149.2 115.5h0M152.2 120.6h0M161.4 122.1h0M182.5 122h0M141.6 123h0M171.4 135.9h0M154.4 148.5h0M173.3 150h0M129.4 166.9h0" stroke="#ff5200" stroke-width="1.1" stroke-linecap="round" fill="none"/>
<path d="M193.2 54.5h0M181.9 60.3h0M215.9 74.6h0M172.9 77h0M183.5 77.8h0M171.5 79.9h0M170.9 81.7h0M178.5 83h0M151.8 85.4h0M172.6 87h0M149.7 87.7h0M173.1 88.1h0M147.3 88.7h0M156.8 92.7h0M158.4 96.4h0M168.2 96.3h0M165.9 96.9h0M181.4 100.7h0M181.6 100.9h0M162.3 102h0M183.5 101.6h0M165 103.4h0M167.1 104.6h0M189.1 105h0M162.9 106.8h0M147 107.8h0M171.6 107.6h0M185.9 107.9h0M150 109.1h0M153.4 109.2h0M179.4 109.4h0M158.7 109.6h0M161 110.4h0M190.2 109.7h0M145.2 113.8h0M165 114.2h0M177.8 113.7h0M165.1 116.1h0M161.4 117.1h0M186.9 119.2h0M183.3 125.3h0M185.3 125.8h0M136.5 127.5h0M136.1 136.5h0M167.9 142.1h0M150 146.4h0M121.2 153.7h0M160.1 154.2h0M132.7 155.5h0M138.9 156.2h0M171.4 158.4h0" stroke="#ff7800" stroke-width="1.1" stroke-linecap="round" fill="none"/>
<path d="M213.8 34.5h0M216.6 39.1h0M191.3 63.6h0M213.7 71.1h0M218 70.7h0M183 75.5h0M193.5 77.6h0M141.3 80.4h0M158.7 79.6h0M187.5 80.3h0M172.8 83h0M163.6 85.3h0M164 85.2h0M164.7 86.8h0M167 87.6h0M173.5 87.6h0M161.4 88.8h0M177.2 89.1h0M168.1 90.5h0M174.5 90.5h0M184.3 89.6h0M185.1 90.3h0M157.8 91.7h0M168.2 92.2h0M171.1 96.4h0M166.9 96.6h0M176.4 97.4h0M180.8 96.6h0M173.5 97.7h0M192.5 98.2h0M162.1 100.3h0M155.2 101.2h0M162.4 101h0M192.1 101.3h0M166.5 102.4h0M175 102.8h0M186 103h0M186.8 103.5h0M154.1 104h0M164.5 104.9h0M180.3 104.9h0M153.2 105.6h0M158.3 105.9h0M166.4 105.9h0M173 105.9h0M189.4 105.6h0M191.9 105.8h0M192.3 105.9h0M170.9 106.5h0M192.9 106.5h0M193 107.5h0M182.4 108.1h0M163.3 110h0M170 110.3h0M180.2 110.2h0M161.9 110.7h0M173 110.5h0M191.4 111.5h0M156.9 111.7h0M164.4 113.2h0M174.5 113h0M175.3 112.6h0M139.7 114.1h0M182.4 116.1h0M193.6 115.6h0M159.4 116.9h0M166.7 118.1h0M149.8 120h0M197.1 121.1h0M158.4 121.5h0M137.5 122.9h0M149.4 124.1h0M181.3 123.7h0M122.8 130.3h0M134.2 129.7h0M180.5 130.9h0M196.6 130.6h0M158.4 132.6h0M147 135.5h0M156 134.6h0M179.3 135.3h0M108.7 136.2h0M159.3 137.2h0M161.9 137.4h0M163.4 137.7h0M127.8 141.4h0M129.2 143.6h0M166.5 144.3h0M155.9 144.7h0M178.8 146.7h0M129.5 151.2h0M154.6 151.4h0M179.4 151.7h0M144.6 153.7h0M181.8 156.5h0M123.2 159.7h0M160.5 161h0" stroke="#ff9e00" stroke-width="1.1" stroke-linecap="round" fill="none"/>
<path d="M201.3 29.2h0M213.3 36.2h0M204.3 60.8h0M182 74.7h0M174.4 76.3h0M176.1 76.4h0M176.9 77.5h0M180.1 78.3h0M173 78.9h0M180 79h0M187.9 79.3h0M181 80.7h0M184.1 81.1h0M170.6 81.7h0M171.2 81.9h0M174.7 81.8h0M176.5 82.1h0M184.4 81.9h0M185.6 81.8h0M188.5 82h0M181.2 82.5h0M147.7 84.2h0M168.1 83.6h0M183 84.2h0M92 85.5h0M173.3 84.5h0M175.3 85.1h0M172.1 86.4h0M176.1 85.8h0M184.5 85.9h0M170.4 87.5h0M163.7 87.6h0M165.4 88.2h0M183 88.2h0M184.3 87.9h0M164.2 91.4h0M184.6 91h0M151.8 91.6h0M166.7 92.1h0M180.6 93.2h0M165 94.6h0M165.9 94.8h0M185.1 95.4h0M162.1 96.8h0M165.7 97h0M169.7 97.1h0M171.5 97.5h0M198 96.9h0M151.9 97.7h0M171.3 97.5h0M152.7 99h0M164.8 98.9h0M167.3 99.2h0M183 99h0M148 99.5h0M150.6 99.8h0M160.4 100.1h0M161.4 99.5h0M179.2 100.1h0M184.1 99.6h0M188.6 100.2h0M193.9 100h0M199.2 100.1h0M164.5 101h0M167.4 100.7h0M176.1 100.8h0M183.7 101.3h0M196.4 100.7h0M156.3 102.3h0M168.7 101.8h0M181.1 102.4h0M191.7 102h0M192.1 101.8h0M162.8 102.7h0M185 102.7h0M189.5 102.8h0M149.2 104.2h0M156.1 103.9h0M161.7 103.5h0M163.5 103.9h0M165 104.3h0M167.6 104.4h0M173.4 104.4h0M176.4 104.1h0M178.2 104.5h0M180.7 104.2h0M159.8 105.1h0M161.9 104.5h0M164.2 105.1h0M177.1 105h0M180.9 104.9h0M182.9 104.6h0M193 104.7h0M176 106.5h0M157 106.6h0M168.7 107.4h0M184.8 107.3h0M150.6 108.5h0M151.8 107.9h0M160.5 107.7h0M176 108.3h0M159 109.4h0M187 108.5h0M174.5 110.5h0M193.1 110h0M146 111.5h0M146.2 110.6h0M154.3 111.1h0M165.7 110.9h0M174.9 111.2h0M175.3 111.2h0M185.3 110.9h0M165.4 112.2h0M181.5 112.5h0M153.4 112.7h0M177.8 113.5h0M182.2 113h0M167.4 114h0M170.3 114.4h0M173.4 113.6h0M144.6 114.6h0M189 115.2h0M137.3 115.6h0M167.4 116.6h0M167.7 118h0M178.2 117.9h0M147.8 118.8h0M163.7 118.9h0M158.5 120.4h0M185.3 120.1h0M151.3 121h0M189.6 122.8h0M174.3 124.3h0M141.7 125.2h0M176.2 124.7h0M196.9 125.4h0M194.5 125.7h0M199.3 127.3h0M158.1 130.1h0M163.3 130.3h0M122.9 132.2h0M162.3 131.6h0M175.4 132.3h0M143.8 133.2h0M177.1 133.7h0M189.9 134h0M132.6 134.9h0M166.1 137.8h0M132.8 140h0M165.5 142.3h0M180.3 142.3h0M132.1 143.1h0M177.6 142.7h0M146.3 146.3h0M171.2 152.2h0M120.7 153.2h0M175.2 153.5h0M168.7 153.8h0M134.2 155.2h0M123.9 156h0M164.7 157h0M169.3 156.6h0M125.2 160h0M149.2 160.7h0M163.7 162h0M125.6 164.9h0M158.4 174.2h0" stroke="#ffc400" stroke-width="1.1" stroke-linecap="round" fill="none"/>
<path d="M197.3 22.5h0M205 23.1h0M88.7 45.9h0M184.5 56.8h0M220.8 59.7h0M224.6 61.6h0M212.1 69.7h0M185.5 75h0M164.9 75.6h0M173.3 76.9h0M171.6 78.6h0M160.1 79.9h0M182.3 80.1h0M184.1 81.4h0M183.1 81.7h0M185 82.3h0M185.2 82.1h0M177.9 82.6h0M181.3 83.1h0M174.8 83.7h0M180.2 83.6h0M166.7 84.9h0M178.2 84.9h0M182.1 85h0M165.9 85.8h0M168.5 85.9h0M180.5 86h0M182.9 86.3h0M184.6 86.1h0M149.9 86.7h0M155.5 86.6h0M163.9 87.4h0M172.1 86.7h0M162.6 87.9h0M165.4 88.5h0M170.4 88.4h0M183.2 88.2h0M164.4 89.4h0M169.6 88.6h0M184.4 90h0M161.5 90.8h0M162.4 91.5h0M164.4 91.4h0M169.2 91.4h0M181.7 90.6h0M183.9 90.9h0M155.6 92.3h0M171.2 92.3h0M173.9 91.8h0M175.8 92.4h0M179.2 91.9h0M156.4 92.6h0M161 93.4h0M165.8 92.8h0M172.4 93.4h0M179.2 92.9h0M180.2 92.9h0M146.1 93.9h0M170.7 94.5h0M186.9 94.4h0M160.2 95.5h0M194.6 95.4h0M195.8 95.1h0M157.6 95.6h0M168.3 96.5h0M171.6 95.8h0M180 95.9h0M183.8 96.1h0M195.5 96.1h0M163.2 96.9h0M166 96.6h0M175.8 97.3h0M193.9 96.7h0M153.5 97.9h0M160.1 98.4h0M160.5 98.5h0M161.9 98.1h0M182.1 98.4h0M184.4 98.5h0M186.2 97.8h0M192.8 97.7h0M148.9 98.8h0M162 98.8h0M167.1 98.6h0M169.8 99.1h0M181 99h0M191 99.4h0M147.1 100.4h0M168.2 99.6h0M170.7 99.8h0M176 100.1h0M194.4 100h0M199 100.2h0M73.5 101h0M148.4 100.6h0M170.1 100.6h0M177.4 101.3h0M190.6 101.2h0M162.9 102h0M163.1 103.1h0M165.2 102.8h0M183.8 103.4h0M187.7 103.1h0M188.3 103.3h0M164.7 103.8h0M168.1 104.3h0M171.9 104.5h0M178.3 103.7h0M153.6 105.3h0M161 104.8h0M163.1 105h0M168.2 105.1h0M171.1 104.6h0M179.7 105.5h0M184.6 105.4h0M187.3 105.2h0M163.4 106.3h0M164.9 105.5h0M167.9 105.6h0M185.4 106.2h0M190.1 106.4h0M142.8 107.3h0M171.7 107.3h0M187.5 107.5h0M161.5 108.4h0M165.3 107.6h0M182.5 107.6h0M144.5 109h0M158 108.6h0M162.2 109.2h0M163.9 108.9h0M176.2 108.6h0M192.6 108.6h0M126.1 109.8h0M145.9 109.7h0M148.1 110.3h0M155.5 110.3h0M158.6 109.9h0M160.5 110.2h0M162.3 110.4h0M168.8 111.2h0M179 111.3h0M189.9 111.4h0M178.1 112.4h0M166.7 112.8h0M177.8 112.7h0M149.5 114.2h0M163.9 114.2h0M164.6 114.2h0M161.2 115.3h0M173.4 114.7h0M152.4 116.3h0M196.4 115.5h0M168.3 116.8h0M172.5 118.2h0M186.9 117.9h0M152.1 119.3h0M160.5 119h0M177.3 119.1h0M141 120.2h0M152.3 120.3h0M177.6 120.3h0M138.1 122.6h0M146.3 123.1h0M136 123.9h0M178.1 124.8h0M183.6 125.3h0M188.9 125.2h0M137.6 126.6h0M149.6 127.3h0M156.6 128.1h0M185.7 128.2h0M153.7 129.9h0M154.9 129.6h0M178.6 130.2h0M173.5 131.2h0M185.9 130.6h0M193.2 130.9h0M200 130.8h0M168.9 132.5h0M177.1 133.7h0M162.3 134.7h0M184.4 135.1h0M136.2 136.3h0M137.3 135.6h0M158.5 136.1h0M137.4 137h0M180.9 136.8h0M192.1 136.6h0M135.3 137.5h0M136.9 137.9h0M185.4 137.7h0M135.9 139.3h0M183.9 138.7h0M157.3 139.9h0M148.6 142.4h0M155 141.6h0M132.6 143h0M167.4 143h0M127.8 143.8h0M135.7 143.8h0M150.9 145.6h0M163.3 146.6h0M173.6 146.9h0M175.7 147.4h0M167.4 147.7h0M135.3 148.6h0M139 148.9h0M188.2 149h0M180.6 150.1h0M138.8 151.1h0M149.4 151.1h0M176.8 150.8h0M174.7 153.4h0M141.5 154.5h0M168 156h0M169.7 157.5h0M125.9 159h0M155 158.7h0M157.3 159h0M133.5 160.7h0M128.3 163.7h0M127.5 165.8h0" stroke="#ffea00" stroke-width="1.1" stroke-linecap="round" fill="none"/>
<path d="M204.7 43.2h0M181.1 46.4h0M217.3 54.9h0M75.4 56.9h0M182.7 56.8h0M190.1 72.7h0M182 75.4h0M184.5 76.2h0M184.9 75.7h0M174.2 77.1h0M176.6 76.8h0M178.6 76.7h0M179.5 77.9h0M182.9 78.1h0M180.6 78.7h0M171.3 80.4h0M175.8 79.7h0M159.9 81.3h0M170.3 81.2h0M178.6 81.1h0M172 81.9h0M174.9 81.6h0M179.7 82.4h0M183.6 82h0M191.5 81.5h0M144.7 83h0M175 82.6h0M177.2 83.4h0M177.4 83.1h0M180.3 82.9h0M188.4 83.2h0M169.2 84.3h0M172.9 83.6h0M176.6 84.5h0M183.8 84h0M206.2 84.4h0M156.5 85h0M180.1 84.6h0M190.2 84.8h0M148.1 86.5h0M166 86h0M170.9 86.5h0M173 85.8h0M178 85.8h0M182.1 86.3h0M178.8 86.7h0M181.7 86.7h0M165.3 87.9h0M166.2 88.5h0M182.6 88.2h0M161.5 88.9h0M165.9 88.6h0M168.2 88.7h0M169.1 89.2h0M171.2 89h0M180.2 89.3h0M180.4 88.9h0M182 89h0M185.1 89.4h0M157 89.9h0M163.4 89.9h0M166 90.3h0M168.8 90.4h0M152.8 91.2h0M162.9 91.4h0M164 91.1h0M165.2 90.8h0M173.4 91h0M179.1 91.3h0M185.5 92h0M158.8 92.7h0M168.2 92.5h0M144.1 93.9h0M145.9 94.4h0M171.9 94.4h0M178 93.5h0M185.3 93.9h0M156.3 94.8h0M168.7 94.5h0M176.5 95.4h0M181.8 95.2h0M148.8 96.4h0M153.7 95.9h0M154.6 95.7h0M160.7 95.9h0M161.1 96.4h0M167.9 95.6h0M176.4 95.8h0M197.3 96.3h0M152.9 97.2h0M167.2 97.4h0M169.5 97.1h0M174.9 97h0M200.3 97.3h0M149.5 97.9h0M152.3 98.2h0M165.8 98h0M171.1 98.5h0M197.4 97.6h0M152.2 99h0M153.2 99.2h0M156.3 98.5h0M167.6 98.9h0M197.2 99h0M152.3 99.7h0M187.9 100.2h0M193.1 100h0M193.2 100.4h0M162.7 100.6h0M162.9 100.7h0M178.3 101.1h0M182.7 100.9h0M185.7 100.7h0M190.1 101.1h0M190.2 101.4h0M191.1 101.4h0M194.8 100.7h0M178.5 102.2h0M189.6 101.5h0M157 102.6h0M168.4 103.2h0M177.3 103.4h0M185.8 103.3h0M189.4 102.7h0M190.1 102.7h0M157.2 104.1h0M159 104.2h0M159.9 104.2h0M162.6 103.5h0M163.5 104.5h0M172.9 103.9h0M173.7 104.2h0M177.9 103.9h0M165.8 105.2h0M175.7 104.5h0M184.7 105.2h0M191.8 105.1h0M193.5 105.3h0M150.3 106.3h0M152.2 106.3h0M165.5 105.8h0M173.3 105.9h0M180.1 106.4h0M162.1 107.4h0M178.6 107.2h0M181.1 106.8h0M182 106.5h0M187.5 106.6h0M147.3 107.6h0M153.3 107.5h0M154.7 107.9h0M164.8 108.2h0M178.5 107.7h0M181.1 107.9h0M149.5 108.5h0M155.8 109.2h0M158.6 108.7h0M167 108.9h0M172.2 108.8h0M174.5 108.8h0M175.5 108.5h0M183.2 109h0M186.1 109.1h0M157.7 110.3h0M160.7 110h0M161.9 110.2h0M168.3 110.3h0M171.5 109.9h0M162.4 111.4h0M166.7 111.4h0M178.5 110.6h0M191.6 110.6h0M142.8 112h0M147.8 111.6h0M150 112.1h0M166.1 112h0M173.7 112.1h0M60.3 112.6h0M154.7 112.7h0M160 113.2h0M161.5 113h0M167.4 113.4h0M195.9 112.7h0M196.6 113.2h0M153.5 114.5h0M159.2 113.6h0M159.7 114.5h0M167 114.4h0M175.3 113.5h0M182.2 114.5h0M159 114.6h0M165.9 115.3h0M168.4 115.2h0M176.3 115.4h0M178.4 114.7h0M185.4 115.4h0M187.4 115.1h0M151.1 115.7h0M152.4 116.2h0M161.7 116.4h0M176.6 116.4h0M185.8 115.9h0M187.3 116.2h0M145.1 116.9h0M158.2 116.8h0M179 116.8h0M183.9 116.9h0M146.2 117.8h0M157.8 118.1h0M167.4 118h0M174.8 119.1h0M195.6 119.2h0M196.6 119.4h0M142.1 119.6h0M153.1 119.8h0M162.2 120.9h0M172.5 121.5h0M155.2 121.9h0M183.6 121.7h0M133.5 123.5h0M140.3 123.4h0M163.6 123.2h0M175 123.7h0M126.5 124.7h0M179.3 125.2h0M179.8 125.5h0M172.1 126.8h0M174.8 127.4h0M180.3 127.9h0M138.5 129.3h0M148.5 128.6h0M182.9 128.9h0M185.8 128.7h0M196.6 129.4h0M197.1 128.9h0M149.9 129.5h0M173.3 130h0M164.3 131.1h0M174.9 132.4h0M185.7 132h0M125.3 134.7h0M142.4 135h0M161.4 135.2h0M186.7 135h0M129.7 137h0M136.3 136.7h0M138.5 137.1h0M138 138.2h0M150.2 138.1h0M178.4 137.6h0M181.4 137.9h0M193.7 137.9h0M197 138.4h0M125.7 139.2h0M131.3 139.2h0M136.5 138.8h0M138.7 138.6h0M171.8 139.4h0M150.1 140h0M123.3 141.2h0M135 140.7h0M146.4 141.3h0M154.5 140.9h0M186.8 141.2h0M156 141.9h0M159.2 142.1h0M178 141.6h0M179.8 142h0M133.3 142.7h0M129.5 143.6h0M157.2 143.7h0M159.5 144.3h0M182.7 143.7h0M192.4 144.1h0M138.7 145.4h0M143.4 145.3h0M144.1 146.2h0M176.1 145.9h0M140.9 147.2h0M172.6 147.2h0M134.6 148.2h0M134.9 148.1h0M124.6 149.2h0M131.8 148.6h0M144.5 149.2h0M151.9 148.9h0M152.8 148.8h0M188.7 149.5h0M131.9 150.2h0M133.7 150.4h0M119.1 150.9h0M136.8 150.8h0M171.7 151.4h0M122.2 152.2h0M138.4 151.6h0M149.6 153h0M177.8 152.7h0M130.9 154.4h0M144.4 154.2h0M146.9 154.1h0M174.3 153.6h0M182 153.9h0M119.8 155h0M144.4 155.3h0M147.4 154.8h0M136 156h0M166.8 155.6h0M139.5 157.3h0M139.8 158.7h0M165.8 159.5h0M149 160.5h0M124.3 160.9h0M130.7 161.7h0M153.6 162.4h0M161.5 162.5h0M129.1 164.4h0M128.7 165.8h0" stroke="#dce61c" stroke-width="1.1" stroke-linecap="round" fill="none"/>
<path d="M195.8 31.8h0M203.3 41.4h0M188.5 68.6h0M222.6 72.5h0M180.3 75.3h0M181.9 74.6h0M206.6 75.2h0M174.5 76.5h0M182.2 76.1h0M184.1 77.3h0M176.5 77.6h0M198.1 77.6h0M173 79.1h0M181.8 79.3h0M145.8 79.6h0M179.3 80.3h0M180.9 79.5h0M181 79.8h0M169.5 81.4h0M171.4 80.6h0M177.3 80.7h0M184.8 81h0M205.8 82h0M173.4 83.1h0M174 82.8h0M182.1 82.9h0M174 84.5h0M175 84h0M180.6 84.1h0M186.1 84.3h0M187.8 83.7h0M166.9 85.1h0M170.2 84.5h0M171.6 84.6h0M175 85h0M188.3 84.6h0M166.6 86.2h0M168.1 86.3h0M168.2 85.9h0M178.5 86.4h0M182.4 86.1h0M183.1 85.8h0M160.7 86.9h0M165.4 87h0M166.6 87.1h0M186.4 87.2h0M172.4 88.2h0M182.8 88.2h0M163.1 89.5h0M177.6 88.8h0M165.3 89.9h0M177.5 90.1h0M180.6 90.4h0M183.9 90h0M154.7 90.8h0M158.7 90.6h0M168 90.7h0M177 91.5h0M178.2 91.2h0M178.5 90.7h0M180.7 91.2h0M147.2 91.8h0M157.7 91.5h0M172.2 92.2h0M179 92.3h0M181.9 92.1h0M185.2 92.3h0M186.8 92.3h0M159 93.3h0M172.8 93.1h0M174.2 92.5h0M174.7 93.2h0M186.6 93.4h0M164.2 94.5h0M169.8 94.2h0M170 93.6h0M180.4 94.5h0M182.7 94.3h0M146.4 94.9h0M170.9 94.7h0M175.7 95.4h0M177.6 95.2h0M193.7 95.1h0M196.3 94.6h0M196.8 94.8h0M147.7 96.3h0M159.5 96h0M166.2 95.6h0M174 95.8h0M180.7 95.9h0M181.4 96.5h0M188.1 95.7h0M144.2 96.8h0M153.9 96.6h0M168 96.8h0M186.8 96.7h0M196.7 97.3h0M199.7 97h0M148.1 97.8h0M156.7 98.3h0M157.3 98.3h0M159.4 97.6h0M170.1 98.4h0M177.4 97.5h0M177.5 97.7h0M178.3 98.4h0M178.9 97.7h0M187.5 97.7h0M191.2 98.1h0M193.2 98.4h0M194.3 98.3h0M194.3 98.3h0M198.1 97.8h0M198.4 97.6h0M199.2 98.3h0M165 99.2h0M177.7 99.4h0M187.4 98.6h0M195.7 98.9h0M197.1 99.4h0M158.7 99.9h0M163 99.9h0M174.7 99.7h0M177 100.3h0M180.7 100.2h0M181.1 100.3h0M190.2 100.2h0M196.2 100h0M167.1 101.2h0M178.8 101.5h0M179.1 101h0M179.3 101.2h0M180.6 100.5h0M186.2 101.2h0M165.3 101.8h0M174.5 101.7h0M191.1 102h0M191.7 101.8h0M193.5 102.5h0M158.3 103.1h0M165.6 103.3h0M172.8 103.3h0M192.6 102.9h0M166.4 103.8h0M167.2 104.3h0M170.4 104.3h0M174.7 104.3h0M175.1 104.3h0M176.8 103.6h0M179.6 103.7h0M181.8 104.3h0M186.1 104.1h0M189.3 103.6h0M189.7 104.4h0M192.7 103.9h0M193.7 103.7h0M153.5 105.5h0M163.2 105h0M167.5 104.6h0M179.9 104.6h0M184.9 104.6h0M191.9 105.4h0M166.3 106.3h0M166.8 105.5h0M167.9 106.1h0M174.1 106.3h0M174.3 106h0M175.2 106.3h0M181 105.9h0M183.4 106.4h0M186 105.9h0M190.1 106.3h0M193.3 105.5h0M165.4 107.5h0M167.5 107.3h0M172.2 107.3h0M173.7 107.5h0M173.8 107h0M174.4 107.3h0M179.9 107.5h0M183.3 106.8h0M189.4 106.9h0M147.2 108.1h0M169 107.6h0M169.7 107.7h0M179.6 108.3h0M181.2 108.4h0M183 108.2h0M191.9 108.4h0M192.7 108.4h0M150.2 109.3h0M159.7 108.7h0M164.6 109.4h0M179.5 108.9h0M182 108.8h0M183.1 108.6h0M183.6 109.2h0M189.1 108.7h0M145.1 110h0M151.6 110h0M161.9 110.3h0M165.7 109.8h0M171.9 109.9h0M175.4 109.6h0M176.9 110.5h0M179.2 109.6h0M181.3 110.2h0M143.7 110.8h0M169.3 110.8h0M176.5 111.4h0M180.5 110.5h0M187.3 111.1h0M194.8 111.2h0M141.1 112h0M163.5 112.3h0M165.6 112.3h0M194.9 112.4h0M147.5 113h0M153.8 113.2h0M157.1 113.4h0M161 113.5h0M172.9 113h0M173.7 113.1h0M175.8 112.7h0M184.1 113.3h0M191.1 113.4h0M156.1 113.7h0M165 113.8h0M176.2 113.8h0M186.6 113.7h0M186.7 114.2h0M155.9 114.6h0M168.7 115.3h0M169.3 115.1h0M170.1 115.3h0M174 115.4h0M175.9 115.2h0M181.5 114.7h0M182.9 115.4h0M64.3 116.2h0M167.7 116.4h0M168.9 116.2h0M131.2 117.4h0M165 116.7h0M185.6 117.5h0M190.7 117.4h0M152.7 118.5h0M163.1 118.4h0M170.1 117.5h0M196.9 118.5h0M198.4 118.5h0M145.8 119.5h0M162.3 119.1h0M176.6 119.3h0M140.3 119.6h0M154.4 120.1h0M155.9 120.3h0M157 120h0M173.3 119.6h0M181.5 120.4h0M187.1 119.5h0M194 119.8h0M145.3 120.7h0M146.9 120.5h0M160.5 120.6h0M161.5 120.6h0M141.9 122.4h0M145.9 121.8h0M149.2 121.9h0M172.8 121.9h0M173.7 122.2h0M178.6 122.1h0M180.3 121.7h0M180.6 121.8h0M141.6 123.2h0M176 123.1h0M186.2 123h0M188 123h0M134.8 123.6h0M169.3 123.8h0M180.3 123.9h0M91.9 124.5h0M157.7 125h0M164.3 125.1h0M191.3 125.2h0M141.7 126.5h0M161.7 126.2h0M182.3 126.4h0M151 127.1h0M170.9 126.5h0M172.7 126.9h0M144.3 128.1h0M167.4 128h0M170.9 128.2h0M166.5 128.9h0M193.7 129.1h0M150.2 130.2h0M157.2 129.8h0M161.5 130.2h0M174.4 129.6h0M135.3 131.9h0M136.1 132.3h0M156.2 132h0M164.3 132.2h0M194.1 131.7h0M153.4 133.2h0M159.9 133h0M166.1 133.4h0M198 132.6h0M152.8 134.1h0M121.8 135h0M143.7 135.3h0M149.9 134.8h0M158.7 134.9h0M174.8 134.9h0M159.2 137h0M195.6 137.4h0M144.2 138.9h0M147.8 138.8h0M194.8 138.7h0M197 139.2h0M126.8 141h0M149.5 141.3h0M175.9 141.4h0M183.1 141.5h0M128.2 141.8h0M134.3 142.1h0M153.2 142h0M186.7 142.3h0M122.7 143.2h0M148 142.6h0M150.9 144.1h0M161.2 143.5h0M178.2 146.4h0M146.2 147.3h0M172 146.8h0M174.5 146.5h0M175.2 147h0M179.2 147.1h0M153.8 147.9h0M155.6 148.3h0M141.2 149h0M153 149.1h0M154.7 149.8h0M124.5 150.7h0M133.3 150.6h0M138.8 151h0M182.6 151h0M171.2 151.6h0M184.2 152h0M120.6 154.5h0M142.4 154.4h0M177.1 153.6h0M181 153.8h0M139.5 155.1h0M168.4 155.3h0M168.6 154.6h0M121 156.1h0M150.2 155.7h0M151.1 155.6h0M176.7 155.7h0M141 156.6h0M160.2 157.3h0M163.7 158.4h0M123 159.5h0M151 159h0M130.6 159.6h0M160.2 161h0M126.3 162.2h0M126.2 162.9h0M125.3 163.5h0M129.5 164.2h0M156.7 164.6h0M163.3 165.2h0M155.1 176.4h0M157.5 175.7h0M160.4 175.8h0" stroke="#a8c818" stroke-width="1.1" stroke-linecap="round" fill="none"/>
<path d="M205.7 52.7h0M174.3 60h0M173.2 72.5h0M183.1 74.3h0M165.9 75.4h0M184.2 74.8h0M176.9 76.3h0M177.7 77.3h0M202.6 77.4h0M175.6 78.2h0M180.4 78.4h0M180.5 78.1h0M197.8 77.9h0M170.5 78.9h0M184 79.5h0M190.8 79.2h0M176.7 80.2h0M180.2 80.2h0M180.3 80.3h0M188.9 79.6h0M201.5 80h0M210.6 79.5h0M173.4 81.2h0M186.1 81h0M186.3 81.4h0M189.8 81.1h0M179 81.5h0M179.2 81.8h0M179.2 82.2h0M181.1 81.6h0M181.2 82h0M187.4 82.4h0M155 82.7h0M171.7 83.5h0M172.4 82.8h0M177.5 83.2h0M177.9 83.3h0M180.7 83.4h0M183.7 82.9h0M187.3 82.8h0M168.6 84.4h0M179.1 84.2h0M181.5 83.9h0M183.6 84.1h0M186.4 84.4h0M98.1 84.9h0M167.4 85.1h0M173.5 84.7h0M179.9 85h0M180.2 84.6h0M180.2 84.8h0M182.6 85h0M189.9 85.2h0M177.9 86.2h0M182.5 85.5h0M166 87.4h0M166.1 87.3h0M176.1 87.2h0M177.6 87.3h0M179.1 87.3h0M164.5 88.4h0M174.6 87.9h0M175.6 87.5h0M176.8 87.5h0M178.9 88.2h0M185.1 87.9h0M183.4 88.6h0M174.8 90.1h0M176.7 89.8h0M158.3 91.3h0M159.1 90.7h0M164 90.9h0M171.1 90.6h0M174.9 90.6h0M175.2 91.5h0M179.7 91.1h0M158.4 91.6h0M166.4 91.6h0M176.1 91.8h0M177.4 92.3h0M180.6 91.5h0M182 92.3h0M156.3 92.9h0M163 92.8h0M166.3 93.2h0M170.5 93.3h0M178.3 92.7h0M180.6 93.5h0M182.7 93.1h0M183.5 93h0M188.2 92.8h0M169.8 94.3h0M184.3 93.8h0M143.8 95.2h0M159.3 95.4h0M173.8 95h0M179.4 95h0M190.4 94.7h0M194.1 95.2h0M194.1 95.2h0M196.4 95.1h0M153.5 96.4h0M154.3 95.7h0M154.9 96.1h0M155 96.1h0M156.3 95.5h0M169.4 96.3h0M180.7 95.5h0M193.8 96.4h0M145 96.8h0M167.5 96.7h0M168.5 96.8h0M172.1 96.5h0M173.5 97h0M177.2 96.9h0M180.8 97.1h0M181.2 97.3h0M183.9 97.1h0M191.4 96.8h0M168.5 97.7h0M174.9 97.6h0M175.6 97.9h0M181.1 97.9h0M187.9 97.9h0M188.6 97.9h0M194.4 98.3h0M196.4 97.7h0M167.5 99.5h0M182.5 98.6h0M184.1 99.3h0M193.7 98.8h0M194.9 98.6h0M150.7 100.3h0M153.2 100.1h0M158.6 99.9h0M163.8 99.9h0M163.8 99.7h0M169.3 99.6h0M182.6 99.5h0M182.6 99.7h0M193.3 100.1h0M195.2 100.3h0M198.5 100.1h0M149.1 100.6h0M166 101.3h0M173 101.3h0M180.3 101.1h0M182.2 101h0M184.8 101h0M194.5 101.5h0M165.6 101.8h0M167.1 102.1h0M173.3 102h0M183.8 101.8h0M183.8 102.5h0M188.8 102.5h0M190.3 102.3h0M191.1 102h0M191.5 101.5h0M191.9 102.2h0M193.4 102.2h0M162 103.5h0M173.1 102.7h0M175 102.9h0M177.6 103.2h0M179.7 103.3h0M193.5 102.5h0M147.8 104h0M157.4 103.9h0M161.6 103.8h0M172.4 103.8h0M173.5 103.6h0M178.2 104.1h0M191 104.1h0M192.5 104.1h0M155.8 104.7h0M171.4 105.1h0M172.5 104.6h0M175.7 105.4h0M176.1 104.9h0M178.4 104.9h0M183.4 104.8h0M191.3 104.5h0M192.2 105.3h0M152 106.1h0M158.7 105.8h0M175 105.7h0M179.8 105.9h0M159.3 106.9h0M160.5 107.1h0M162.9 107h0M163 107.1h0M168.9 107h0M177.7 106.6h0M177.9 106.7h0M182.9 106.9h0M183.2 107.2h0M184 107.5h0M185.4 106.6h0M187.6 107.1h0M189.7 107.1h0M192 106.6h0M149.8 108.4h0M158 107.7h0M170.6 107.6h0M170.8 108.1h0M170.9 107.6h0M171.6 107.8h0M173.5 108.2h0M181.8 108.4h0M182.2 108h0M184.4 108.4h0M152.6 109.2h0M161.2 109.3h0M164.7 108.7h0M165.7 108.6h0M165.9 108.9h0M171.5 108.9h0M175.1 109h0M179.3 108.8h0M189.3 108.9h0M151.5 110.3h0M157.4 110.1h0M159.2 110.5h0M161 110.1h0M162.1 110h0M168.8 110.5h0M189.2 110h0M148.9 111.1h0M158.4 110.6h0M160.9 110.7h0M167.3 110.7h0M174.4 110.5h0M180.5 110.5h0M180.9 110.6h0M184.3 110.8h0M160.2 111.6h0M169.5 111.5h0M185.3 111.6h0M186.6 111.9h0M192.6 112.4h0M150.9 113.3h0M150.9 113.3h0M161 113h0M165.7 113.3h0M172.2 112.9h0M172.6 113h0M177.3 112.8h0M177.8 112.7h0M178.6 113.3h0M182.1 113.2h0M186.8 113.1h0M195.4 112.8h0M160.1 114h0M163.7 114.2h0M170.3 114.4h0M176.4 113.8h0M179.8 113.5h0M187.2 114.3h0M164.4 115h0M165.3 114.9h0M165.7 114.9h0M182.9 114.6h0M191.6 115.3h0M164.7 116.1h0M175.5 116.4h0M180 116.5h0M141.2 116.7h0M160.4 117.3h0M162.2 116.6h0M179 117.4h0M179.2 116.7h0M186.2 116.7h0M150.7 118.5h0M160.6 118h0M161.3 117.7h0M168.1 118.1h0M170 117.9h0M187.8 118.5h0M196.3 118.1h0M163.2 118.9h0M169.9 119.3h0M185.5 119.2h0M153.9 120.3h0M156.3 119.6h0M157 120.5h0M170 120.1h0M181.7 120.1h0M183.2 119.9h0M197.8 120.2h0M144.8 120.6h0M155.2 121.4h0M166.9 121.2h0M170.7 121.4h0M173.7 121.5h0M174 121.4h0M179.5 120.5h0M124.8 121.6h0M137.9 122.1h0M162.6 121.6h0M170.6 122.5h0M192.5 122h0M135.8 122.9h0M145.6 123.4h0M145.8 123.3h0M154.9 122.5h0M171.5 122.9h0M178.1 122.5h0M191.1 123.3h0M192.4 123.5h0M141.8 123.8h0M142.9 123.8h0M171.5 124h0M173.7 124h0M198.5 124.1h0M128.1 125.2h0M136.6 124.8h0M136.6 124.7h0M147.1 125.3h0M154.4 125.4h0M171.1 124.7h0M173 125.4h0M179.3 125.4h0M154.6 126.2h0M174.2 126h0M184.5 126.3h0M134.9 126.6h0M171.4 127.5h0M181.4 126.6h0M181.7 127.1h0M145.3 127.7h0M150.7 128.4h0M169.7 128.1h0M152.8 129.4h0M174.6 129.2h0M133.8 130.3h0M137.1 130.1h0M139.4 129.6h0M160.3 129.8h0M185.7 129.9h0M188.4 130.5h0M153.9 131.4h0M158.4 131.2h0M159.5 131.3h0M162.5 131.8h0M180.4 131.5h0M129.9 133h0M185.3 133.4h0M154.9 134.4h0M159.2 134.1h0M128 134.7h0M150 134.9h0M164.8 135.1h0M177.2 135h0M191.7 135.3h0M141.5 136h0M149.8 136.6h0M156.6 136.6h0M143.1 137.8h0M144.7 137.7h0M175.2 137.7h0M154.6 138.7h0M133.1 140.3h0M156.3 140h0M166.2 140.2h0M144.5 140.6h0M161.6 141h0M161.6 141.3h0M164.6 141.1h0M171.7 140.6h0M147.5 141.8h0M147.9 142.5h0M174.4 142.2h0M131.6 142.8h0M166.3 143.1h0M185.8 142.5h0M138.6 144.2h0M164.3 144.1h0M183.6 143.9h0M186.7 143.9h0M153 144.6h0M173.8 144.6h0M175.5 145.4h0M178.3 144.7h0M179.1 145h0M147.7 146.4h0M154.4 146.5h0M156.4 145.6h0M161.7 146.4h0M147 147.2h0M152.3 146.9h0M153.9 146.7h0M169.2 147.2h0M128.9 147.5h0M133.4 147.7h0M151.2 147.7h0M153.5 148.3h0M179.8 147.8h0M139.9 148.9h0M150.2 149.1h0M151.4 149.3h0M173.6 149.5h0M179.3 149.1h0M185.5 148.8h0M142.3 149.7h0M142.7 149.6h0M145.4 150.4h0M135.6 150.8h0M152.8 152.3h0M160.9 151.7h0M167 151.7h0M169.1 151.9h0M170.1 152.2h0M172.3 152h0M175.1 151.9h0M172.3 153.1h0M143.4 154.4h0M145 153.8h0M145.2 154.3h0M173.7 153.7h0M182.6 154.1h0M145.4 155.7h0M157 157h0M161 157.4h0M163.3 156.9h0M176 156.6h0M180.8 157.4h0M137.3 158h0M152.3 157.5h0M148.4 158.9h0M171.7 159.4h0M176 159.5h0M150.3 159.6h0M155.3 160h0M165.3 159.7h0M170.9 159.8h0M174.6 160.1h0M159.7 160.7h0M160.2 161.1h0M152.6 162.2h0M161.4 162.4h0M131.6 163.3h0M154.6 163.4h0M129.6 164.4h0M156.9 163.7h0M160.6 164.2h0M161 166.4h0M160.4 166.7h0M159.5 178.2h0M157.1 178.6h0M159.6 178.7h0" stroke="#78ae12" stroke-width="1.1" stroke-linecap="round" fill="none"/>
<path d="M183.5 74.2h0M180.9 74.6h0M178.5 76.2h0M186.5 76.1h0M178.9 77.3h0M183.8 76.6h0M208.4 77.2h0M171 77.7h0M172.1 78.4h0M174.3 77.9h0M177.5 77.9h0M178.8 78.1h0M178.5 78.7h0M188.5 78.9h0M170.5 80.2h0M171.9 79.7h0M171.1 80.9h0M173.4 80.8h0M189.5 80.9h0M171.3 82h0M173.3 81.8h0M174.4 82.4h0M180.8 81.8h0M173.2 82.8h0M180.1 82.8h0M185.3 82.8h0M171.5 83.9h0M175.4 84.2h0M176.5 84.2h0M179.8 83.6h0M190.8 83.8h0M205.2 83.9h0M203.3 84.9h0M168.6 86.3h0M179 85.8h0M183.5 86.4h0M187.2 86.4h0M175.8 86.9h0M178.9 86.5h0M160 87.5h0M165 88.2h0M174.5 88h0M175 88.1h0M156 89.1h0M176.9 89.2h0M181.8 89.2h0M183.6 88.6h0M185.3 89.3h0M145.1 90.2h0M146.1 89.6h0M164.7 90h0M177.2 90.2h0M147.1 91.2h0M164.9 90.9h0M146.5 91.7h0M183.9 92.1h0M170.2 92.9h0M179.2 93.5h0M186.6 92.6h0M157.3 93.7h0M164.3 94.3h0M166.9 93.8h0M168 93.8h0M176.8 94.5h0M152.1 95.1h0M159.2 95.3h0M160.8 95.5h0M180.1 94.5h0M184.5 95.1h0M185 94.9h0M151.7 96h0M154.5 95.5h0M166.9 96h0M172.2 95.5h0M175.7 95.6h0M184.1 96.2h0M194.1 96.3h0M197.2 96.1h0M165.7 97.4h0M170.5 97.2h0M172.5 97.1h0M172.8 97h0M175.5 97h0M175.9 96.9h0M178.2 97.2h0M195.4 97.5h0M145.2 98h0M154.8 97.9h0M158.1 97.9h0M161.9 97.6h0M172.2 97.9h0M173.8 97.8h0M175.7 97.9h0M177.6 98h0M181.1 97.7h0M190.9 98.1h0M192.8 97.7h0M196.3 97.5h0M147.5 99.3h0M175.5 99.2h0M189.9 98.7h0M190.2 99h0M192.9 99.3h0M193 99.1h0M196.9 98.8h0M197.7 99.1h0M164.8 100.3h0M177.5 100h0M181.3 99.7h0M192.7 99.6h0M195.4 99.7h0M197.5 100.4h0M147.4 100.6h0M150.2 100.8h0M152.6 100.6h0M166.3 101.3h0M173.2 101.4h0M181.5 100.9h0M187.7 100.5h0M188.3 100.5h0M172 102.4h0M178.4 102.1h0M182.5 102.2h0M185.3 102.5h0M185.7 101.9h0M187.9 101.6h0M189.3 102.1h0M189.5 102.4h0M194.5 101.8h0M155.3 102.7h0M160.1 102.6h0M165.4 102.7h0M174.7 103.1h0M177.8 103.2h0M179.3 102.9h0M181.9 102.6h0M184.1 103h0M190.1 103.1h0M162.2 103.9h0M167.4 104.4h0M169.1 103.7h0M169.6 104.4h0M173.1 103.9h0M173.4 104.1h0M177.6 104h0M178.8 103.8h0M185 104.1h0M188.1 103.5h0M190.2 103.6h0M165 105h0M176.7 105.1h0M182.7 104.7h0M184 104.8h0M149.9 106.1h0M170.3 106.2h0M175.6 106h0M178.6 106.1h0M186.6 106h0M193.3 106.1h0M145.4 106.6h0M153.3 107h0M154.9 106.9h0M159.8 107h0M165.3 107.1h0M168 107.2h0M170.7 106.8h0M172.2 107.2h0M173 106.7h0M182.3 106.7h0M185.1 107.5h0M193.5 107.3h0M166.9 108h0M170.9 108.2h0M174.5 107.6h0M179.2 108.4h0M179.5 107.8h0M149.9 109.4h0M164 108.8h0M177.8 108.7h0M184.7 109h0M184.8 109h0M190.3 108.7h0M164.3 110.1h0M175.4 110.4h0M177.5 109.9h0M180 109.7h0M195 109.6h0M152.6 110.6h0M159 110.5h0M167.8 111.3h0M174.4 110.5h0M179 111.5h0M181.1 110.6h0M185.9 111.4h0M193.3 110.7h0M140.1 111.8h0M156 111.9h0M163.9 111.8h0M164 112.1h0M180.5 111.8h0M180.6 111.8h0M184.5 112.1h0M195.6 112.3h0M159.4 113.4h0M164 113.3h0M164.3 112.6h0M169.6 112.6h0M178.2 112.7h0M183.3 112.7h0M145 114.3h0M168.8 113.8h0M186.9 114.5h0M194.7 113.7h0M136.9 114.6h0M145.5 115.4h0M163.6 115.3h0M168.2 115h0M184 115.3h0M185.9 114.6h0M193.7 115h0M196.5 114.8h0M176.6 116.1h0M178.2 115.5h0M186.9 116.4h0M195.4 115.7h0M151.9 117.1h0M163.8 117.4h0M164.7 116.7h0M167.7 117.3h0M175.8 116.9h0M177.3 116.6h0M181.9 117.2h0M184.2 116.7h0M185.5 116.6h0M169.6 117.9h0M176.8 118h0M180.2 118.4h0M185.5 117.8h0M188 117.5h0M190.4 117.8h0M166.4 119.4h0M173.2 118.8h0M176 118.7h0M177.2 118.7h0M178.1 118.7h0M124.4 120h0M146.2 120.4h0M163 120h0M165.8 120.1h0M167.3 119.8h0M176.4 120h0M179.3 120.3h0M137.6 121.1h0M143.2 121.4h0M143.7 120.8h0M147.6 120.8h0M156.3 121.2h0M180.5 120.6h0M183.6 120.6h0M188.2 121.3h0M195.8 121.5h0M152.2 122.2h0M172.5 122.1h0M177.8 121.8h0M178.1 122.2h0M179.1 122.2h0M182 121.9h0M185.2 121.5h0M196.5 121.6h0M197.7 121.8h0M137.8 123.4h0M144.1 123.4h0M145.1 122.8h0M156.5 122.8h0M136.9 123.7h0M153.1 123.6h0M153.9 123.5h0M161.5 124.5h0M183.6 123.9h0M186.5 124.1h0M138.9 125.1h0M159.7 124.9h0M160.5 125.5h0M168.4 125.2h0M190.1 124.7h0M136.2 125.9h0M154.6 125.9h0M193.7 125.8h0M136.9 127.3h0M136.9 127.3h0M139.8 126.6h0M153.1 127.3h0M167.6 127h0M173.3 127.5h0M186.1 126.8h0M141.4 128.2h0M152.9 128.3h0M186.3 128.5h0M200.2 127.9h0M158.3 129.4h0M169.7 129.4h0M180.4 128.7h0M183.1 128.6h0M199.6 128.8h0M144.2 130.1h0M144.5 129.9h0M149.4 129.8h0M157.4 130.2h0M173.9 130.3h0M174.8 130.4h0M178.7 129.9h0M191 130.4h0M171.1 130.7h0M171.1 131.2h0M176.3 131.3h0M188 130.6h0M196.4 130.6h0M138.8 132.1h0M148.7 131.8h0M157.1 132.2h0M158.2 132h0M171.1 132.2h0M173.2 132.3h0M179.9 132.1h0M180.3 131.6h0M180.4 131.6h0M183.8 132.2h0M140 133h0M143.9 133h0M151 133h0M175.3 133.5h0M177.3 133.3h0M185.8 133.5h0M187 133.2h0M187.9 133.2h0M140.5 133.6h0M153.7 134.3h0M157.7 133.6h0M163 134.4h0M168.9 134.4h0M171.9 134.2h0M184.9 134h0M156.8 135.4h0M162.3 134.9h0M192.1 135.2h0M155.6 136.3h0M158.9 136h0M173.5 136.3h0M141 137.3h0M145.5 137.4h0M160.9 136.5h0M197.4 136.5h0M136.8 138.5h0M137.1 138h0M138 137.8h0M141.1 137.5h0M149.5 137.9h0M158.5 137.8h0M177.3 137.8h0M179.8 138.2h0M141.8 139.4h0M146.1 139.4h0M148.7 139.4h0M151.2 139.4h0M178.2 138.8h0M179.2 139.3h0M182.5 139.2h0M185.4 138.9h0M136.4 140.1h0M137.4 140.2h0M141.7 140h0M149.3 139.5h0M153.9 139.9h0M155.9 139.8h0M168.6 139.5h0M174.7 140.3h0M139.3 140.7h0M158.5 141.2h0M174 141.3h0M126.3 142.3h0M130.5 141.7h0M137.4 141.9h0M168.4 141.9h0M177.7 142h0M139.3 143.4h0M140.4 143.2h0M146.1 142.8h0M155.7 143.1h0M158.1 143.5h0M170.5 143h0M121.8 144.1h0M127.1 143.6h0M141.8 144h0M142.4 143.6h0M170.3 143.7h0M135.2 145.4h0M150.2 145.5h0M168.1 144.7h0M186.1 145.2h0M142.4 146.5h0M167.5 146.4h0M170.2 146.3h0M176.7 146.1h0M177.8 145.9h0M179.8 146.4h0M180.4 146.2h0M189.8 146.4h0M155.6 147.1h0M166.4 146.9h0M172.4 147.3h0M177.5 146.9h0M179.6 146.6h0M152.7 148h0M153.9 147.8h0M165.2 147.7h0M178.4 147.5h0M180.2 148.3h0M132.6 148.5h0M144.5 149.2h0M148.7 149.4h0M157.2 149.1h0M173.2 149.4h0M179.3 149.1h0M180.1 149.4h0M183 149.2h0M184.2 149.1h0M185.4 148.6h0M140 149.6h0M175.1 149.8h0M185.3 150.3h0M135 151.4h0M151.4 151.2h0M161.7 151.3h0M176.2 150.8h0M180.8 150.7h0M187.2 151.4h0M138.4 151.6h0M138.9 152.2h0M143.6 151.8h0M154.4 152.2h0M155.5 152.4h0M180.9 152.3h0M184.4 152.3h0M185.9 152.5h0M140.9 152.5h0M161 152.5h0M163.7 153h0M165.9 153.2h0M166.4 152.6h0M181.5 153.1h0M119.4 154.2h0M154.8 154.3h0M155.6 153.8h0M174 153.8h0M178.7 154h0M180.3 153.8h0M145.2 154.7h0M149.2 154.5h0M149.6 154.6h0M170.2 154.9h0M172.5 155.2h0M173 155.5h0M182.1 155.4h0M120.3 156h0M121.5 156.4h0M141.9 156.3h0M145.8 155.5h0M148.2 155.9h0M158.8 156.2h0M161.9 156h0M173.4 156.4h0M174.5 156.4h0M178.5 156.2h0M150.7 156.5h0M169.7 157h0M145.8 157.7h0M148.8 157.9h0M149.9 157.9h0M152.7 158.4h0M173.4 158.1h0M175.8 158.2h0M152.9 159.4h0M160.7 159h0M161.8 158.8h0M169.2 158.6h0M169.8 158.6h0M122.9 159.6h0M151.6 160.1h0M165.6 159.8h0M167.4 159.6h0M167.9 160.1h0M158.2 160.6h0M163.6 160.9h0M166.2 161h0M151.4 162.3h0M152.7 162.1h0M155 162.1h0M164.8 162.3h0M170 162.6h0M152.5 163.8h0M163.2 163.9h0M160.2 165.7h0M162.9 172.8h0M155.3 175.2h0M156.5 174.9h0M159.6 174.5h0M160.3 176.4h0M156.3 178.2h0M159.8 178.2h0" stroke="#48920c" stroke-width="1.1" stroke-linecap="round" fill="none"/>
<path d="M176.3 77.4h0M177 77h0M179.2 77.9h0M184.4 78.5h0M183.2 78.8h0M170.7 80.3h0M189.2 80.9h0M178.4 82h0M185.2 82.4h0M163.8 83.6h0M169.4 83.8h0M172.2 84.6h0M191.1 85.1h0M166.6 85.8h0M184.2 85.7h0M163.3 87.3h0M167 86.8h0M168.9 87.1h0M174 86.7h0M178.2 86.6h0M178.8 87.1h0M181.3 87.5h0M189.8 87.4h0M171.9 87.7h0M180.1 88.2h0M180.3 87.6h0M181.1 87.8h0M182.7 87.6h0M161.4 89.4h0M170.9 88.9h0M180.2 89.1h0M185 88.9h0M146.9 90.4h0M156.8 90.4h0M160.3 89.6h0M164 89.6h0M178 90.4h0M157.2 91.2h0M164.7 90.7h0M184.1 91.1h0M174 92.2h0M175.5 91.7h0M175.6 92h0M159.5 92.7h0M160.6 92.5h0M165.7 93h0M159.7 93.7h0M177.9 94.3h0M167.9 95.4h0M176 95.2h0M177.7 95.4h0M168.9 96h0M178.5 95.7h0M164.3 97.3h0M177 96.5h0M180.2 96.8h0M181.9 96.8h0M197.7 97.1h0M198.3 96.9h0M167.6 98.2h0M168.3 97.6h0M171.6 98h0M178.9 98.2h0M179.9 97.7h0M180 98h0M182.6 98h0M191.7 98.5h0M192.8 98.4h0M163.2 98.7h0M168.1 98.6h0M170.6 99.4h0M194.4 99.5h0M190.2 100h0M194 100h0M149.2 101h0M159.8 100.9h0M187.3 100.5h0M187.6 100.5h0M194 100.6h0M174 101.7h0M176.1 102.4h0M179.4 101.5h0M184 102.1h0M190.6 101.8h0M192.1 102.1h0M156.7 102.9h0M179.9 102.8h0M183.6 102.7h0M186.2 103.4h0M158.2 103.7h0M171 103.7h0M173.7 104.2h0M164.2 105.4h0M164.6 105.2h0M170.4 104.6h0M179.9 105h0M183.6 105.1h0M189 104.7h0M189.8 104.8h0M168.5 106.4h0M169.9 105.7h0M177.1 106.2h0M185.6 105.9h0M188.5 105.8h0M191.6 105.7h0M145.3 107h0M166.7 107.2h0M181.9 106.6h0M183.5 106.9h0M191.9 107.3h0M152.6 107.6h0M158.6 107.7h0M168.3 108h0M171.3 107.6h0M172.3 107.9h0M185.1 108h0M186.5 107.5h0M193.5 108.2h0M153.1 109.2h0M163.4 109h0M166 109.2h0M167 109.3h0M170.2 108.6h0M171.5 108.8h0M174.6 109.2h0M175.2 108.8h0M177.8 108.8h0M189.8 108.7h0M190.7 108.8h0M141.5 109.9h0M143.1 110.5h0M152.8 110.2h0M176.1 110.1h0M180.2 109.7h0M186.3 110h0M151 110.6h0M163.3 111.1h0M164.8 111.4h0M165.6 111.1h0M165.9 110.8h0M167.3 110.9h0M172.2 111.4h0M181.1 111h0M186.7 110.5h0M189.9 111h0M194.2 110.7h0M194.6 111.1h0M153.6 111.7h0M157.9 112h0M167.8 112.2h0M175.8 111.9h0M176.4 111.7h0M187 112h0M187.2 112.5h0M150.6 112.8h0M166.1 112.9h0M174.6 113h0M178.3 113h0M178.5 113.2h0M181.3 112.7h0M183.6 113h0M190.7 113.3h0M191.7 112.8h0M196 112.7h0M136.5 114.3h0M171.1 113.6h0M177.4 114.4h0M184.4 114.1h0M189.2 114.5h0M192.5 114.4h0M194.7 114.2h0M195.2 114.4h0M182.9 115.4h0M185.6 114.7h0M191.3 114.5h0M195.3 115.2h0M149.6 116h0M173.5 116h0M187.2 116.3h0M191.4 116.1h0M192.2 115.9h0M193.6 115.8h0M180.3 117.1h0M180.4 117.3h0M185.8 116.8h0M188.5 116.6h0M160.1 117.8h0M161.4 117.5h0M164.1 118.2h0M171.1 118.3h0M183.4 118h0M192.2 118.2h0M143.9 118.8h0M145 119h0M145.4 118.6h0M163.8 118.5h0M170.3 119.2h0M179.5 119.2h0M184.8 118.7h0M186.6 118.7h0M187.3 119.1h0M188.3 118.8h0M194 118.8h0M195.8 119h0M137.5 119.7h0M138 119.7h0M140.1 120.1h0M152.8 120.2h0M169.2 120.1h0M175.9 120.3h0M179.6 120.1h0M186.5 120h0M187.4 119.7h0M188.1 120.4h0M192 120.2h0M147.2 120.7h0M148.1 121.4h0M158.6 120.6h0M160.1 121.3h0M163.5 121.3h0M163.6 121h0M173.2 121.3h0M175.2 121.4h0M179.7 121.1h0M138.3 122.5h0M148.6 121.7h0M152.9 122h0M165 121.8h0M170.8 121.6h0M173.6 121.6h0M174.1 122.3h0M187.2 121.9h0M188.1 121.5h0M190.2 122.1h0M193.8 121.9h0M195.4 121.7h0M138.4 123.3h0M139.1 123.4h0M148 123.3h0M155.2 122.8h0M164 123.4h0M164.7 122.7h0M165.2 123.3h0M166.1 123.1h0M168.4 122.7h0M170.2 123.5h0M170.9 123.5h0M172.7 122.6h0M174.1 122.6h0M183.3 123.2h0M184.2 123.4h0M196.8 122.6h0M198.1 123.1h0M135.5 123.6h0M138.2 124.2h0M141.9 123.7h0M151.2 124.1h0M160.8 124.3h0M185.6 124.4h0M191.7 123.8h0M196.9 124.3h0M197 123.6h0M139.4 125.1h0M144.5 124.9h0M146.7 125.4h0M151.4 125.4h0M154.8 124.9h0M164 125h0M168.7 125h0M168.8 124.7h0M177.1 125.3h0M182.4 125.1h0M196.8 125.3h0M197.6 125.1h0M155.4 126.4h0M162.5 125.7h0M165.4 126.4h0M169.6 125.9h0M170.7 125.9h0M172.9 125.6h0M186.1 126.3h0M189.3 126h0M144.3 127.2h0M160.9 126.9h0M162.7 127.5h0M164 127h0M172.5 127.1h0M181.1 127.4h0M181.3 127.3h0M188.2 126.7h0M198.6 126.8h0M200.5 127.2h0M137.9 127.5h0M139.2 128.3h0M147.4 128.3h0M155.4 128h0M168.3 128.4h0M170.6 127.8h0M172.1 127.9h0M179.5 128h0M182.8 127.9h0M184.7 128.2h0M157.3 129.4h0M169.1 129h0M173.6 128.7h0M182.8 129.5h0M185.8 128.5h0M197.8 129h0M153.2 129.5h0M155.3 130.3h0M157.8 130.2h0M165.1 130.4h0M165.6 129.6h0M167.1 129.9h0M177.4 129.9h0M178.1 130.3h0M183.7 129.8h0M199.6 129.8h0M137.2 130.7h0M143.1 130.8h0M144.1 131.2h0M150.1 131.3h0M151.5 130.7h0M152 131.3h0M158.1 131.4h0M160.1 131.4h0M161 131.5h0M163 131.3h0M163.3 130.8h0M171.3 130.7h0M172.2 130.6h0M180.3 131.5h0M194.8 131.3h0M138.8 132.3h0M147.8 132.4h0M148.9 131.5h0M153.1 132.3h0M153.9 132.2h0M154.3 131.8h0M156 131.6h0M158 132h0M159.5 131.7h0M159.7 132.4h0M162.1 132.1h0M162.7 131.9h0M167.1 131.6h0M172.6 131.5h0M177.3 131.9h0M184.8 131.8h0M189 131.6h0M192.1 132.4h0M138.8 132.7h0M140.1 133h0M145.7 132.8h0M151.3 132.9h0M163.9 132.5h0M164.8 132.7h0M175 133.3h0M175.8 133.4h0M179.9 133.3h0M183.1 132.6h0M189.9 133.5h0M190.5 133.3h0M197.5 133.5h0M130.1 134.5h0M132.6 134h0M138.5 134.5h0M139.6 134.5h0M144.8 134.3h0M145.4 133.5h0M150.7 133.7h0M154.1 134h0M154.2 133.7h0M158.9 133.9h0M159.4 134.2h0M172 134.3h0M192.5 134.1h0M195.2 134.3h0M199.2 134.4h0M140.5 135.1h0M152.7 134.9h0M154.5 134.6h0M165.6 134.7h0M175.5 134.9h0M180.1 134.7h0M181.2 134.5h0M182.5 134.6h0M138.6 135.7h0M139.2 135.5h0M141.2 135.5h0M143.9 136.2h0M152.3 136h0M153.5 136.4h0M156.4 136.3h0M158.6 136.4h0M169.4 136.4h0M173.3 135.6h0M178.2 135.9h0M189.4 136.4h0M191.3 135.6h0M128.3 137.2h0M131.9 136.6h0M141.9 137.4h0M156.5 136.5h0M157 137.2h0M178.3 136.9h0M198.4 136.8h0M145.8 137.9h0M146.3 138.2h0M175.3 138.2h0M175.9 138h0M178.6 138.5h0M181 137.5h0M181.1 138.5h0M196.9 138.3h0M141.6 139.4h0M142.2 139.2h0M147.7 138.5h0M148.2 139.3h0M148.3 139.5h0M153.2 139.4h0M166.6 138.9h0M174 139.4h0M174.6 139.1h0M176.8 139.5h0M178.4 139.4h0M180.1 138.6h0M186.3 138.6h0M187.6 139h0M188.2 139.2h0M188.2 139.3h0M193.4 139.3h0M141 140.3h0M148.3 139.7h0M150.8 139.6h0M152.8 140.2h0M154.7 140.4h0M155.2 140.2h0M160.7 139.9h0M167.5 139.9h0M177.9 140.1h0M181.8 140h0M183 140.4h0M191.2 139.7h0M143.3 140.7h0M148.4 140.8h0M158 141h0M159 141.3h0M160.8 141.1h0M165.2 141h0M171.8 140.7h0M176 140.6h0M176.3 140.8h0M178.7 140.7h0M179.3 140.7h0M181.8 141.1h0M183.1 141h0M184.3 141.1h0M185 141.3h0M186.3 141.2h0M186.8 141.3h0M192.2 140.8h0M145.2 141.8h0M152.6 142h0M155.6 142.4h0M156.1 142.3h0M170.3 141.8h0M170.6 142.4h0M176.4 141.8h0M177.1 142.3h0M191.7 142.5h0M138.5 143.3h0M140.5 143.2h0M155.6 142.9h0M173.7 142.6h0M173.9 142.9h0M181.6 142.8h0M183.6 143.2h0M188 142.9h0M193.1 143.3h0M193.2 143.2h0M136.7 143.6h0M144.7 144.3h0M148 144.4h0M151.7 143.5h0M152.4 143.7h0M156.8 143.9h0M163.2 144.3h0M164.2 144.3h0M167.5 143.5h0M172.7 144.4h0M177.9 144.4h0M189.4 144.5h0M132.2 145.3h0M140.4 145.2h0M156.5 144.5h0M158.4 145h0M159.3 145.2h0M160.2 145h0M167.4 145.3h0M170 144.5h0M170.3 145.3h0M173 144.7h0M174.4 144.8h0M186.8 145h0M136.4 145.6h0M137.3 146.1h0M151.2 145.6h0M158.1 145.5h0M163.7 145.5h0M163.9 145.6h0M174.2 146h0M174.2 146.1h0M175.7 146.1h0M141.7 147h0M150 147.1h0M154.4 146.8h0M155.2 147.4h0M160.7 147h0M161.9 147.4h0M170.3 147.4h0M174.3 146.9h0M177.4 146.9h0M178.4 147h0M182.8 147.5h0M187.4 146.7h0M188.8 146.8h0M142.7 147.5h0M143.7 148.5h0M153.1 147.6h0M163.7 148h0M167.5 148.4h0M173.1 147.9h0M173.8 147.7h0M174.8 148.1h0M180.5 147.7h0M183.7 147.5h0M143.1 149h0M146.6 148.8h0M153.2 149.2h0M154.4 148.6h0M155 148.7h0M160.3 149.4h0M160.6 149.4h0M162.2 149.4h0M167.1 148.9h0M168.9 149.5h0M119.8 149.6h0M142.1 149.7h0M143.8 149.5h0M144.1 150h0M144.5 149.8h0M148.3 149.8h0M148.9 149.8h0M152.8 150.2h0M153 150.2h0M170.4 150.1h0M173.1 150.4h0M173.1 150h0M180.4 150h0M132.9 150.9h0M138.1 151.2h0M140.3 150.5h0M141.5 151.3h0M146.2 151.1h0M151.8 151.1h0M154.1 150.8h0M156.9 150.6h0M171 150.6h0M173.1 150.6h0M176.2 151.1h0M179.6 151.5h0M180.5 151.3h0M183.4 150.6h0M134.6 151.9h0M142.1 152.3h0M145.6 152.3h0M146.5 151.9h0M147.9 152.3h0M148.4 152.3h0M148.5 151.9h0M149.8 151.7h0M163.6 152h0M171.7 152.4h0M172 152.2h0M175.3 152.4h0M175.9 151.6h0M186.5 151.7h0M138.8 152.9h0M148.5 153h0M153.2 152.6h0M154.1 152.7h0M161.1 152.8h0M171.8 152.8h0M175.8 152.5h0M179.9 152.7h0M187.5 152.8h0M135 153.7h0M140.7 153.8h0M141.6 153.8h0M143.4 153.8h0M148.9 153.6h0M149.8 153.6h0M150.7 154.4h0M151.5 153.7h0M152.3 154.3h0M163.6 154.3h0M169.5 154.3h0M143.3 154.9h0M146 154.7h0M156 154.7h0M161.9 154.7h0M163.4 154.8h0M174 155.3h0M174.3 154.9h0M175 155h0M181.9 154.9h0M139.4 156.2h0M145.1 156.4h0M152.4 156.4h0M161.3 156.1h0M163 156.2h0M163.9 156.4h0M165.3 156.5h0M172.2 156.2h0M172.2 156.2h0M180.5 156.3h0M180.7 155.6h0M139.3 156.5h0M141.5 156.5h0M142.1 156.9h0M144.3 156.5h0M147.1 157.1h0M148.3 157.2h0M149.7 157.4h0M160 156.7h0M160.1 157.4h0M166.8 156.8h0M179.2 157.4h0M136.9 158.5h0M141.7 157.7h0M152.8 158.5h0M168.5 158.4h0M174.9 158.3h0M140.7 158.8h0M148.3 158.9h0M151.3 158.9h0M162.1 158.5h0M164.1 158.6h0M165.7 159.1h0M173.1 159.3h0M150.3 160.1h0M159.4 159.6h0M164.9 159.5h0M168.6 160h0M131.3 161h0M131.5 160.8h0M152.3 161.5h0M157.2 161.3h0M167 160.6h0M167.3 160.5h0M173.7 160.5h0M164.3 162.5h0M151.2 163.1h0M156.6 162.8h0M159.3 163.2h0M154.1 164.4h0M156.8 163.7h0M159 164.4h0M166.3 163.8h0M160.6 166h0M159.6 166.9h0M162.4 173.3h0M157 174.8h0M158.6 175.8h0M157.9 176.9h0M158 179.1h0" stroke="#1f7a08" stroke-width="1.1" stroke-linecap="round" fill="none"/>
<path d="M206.7 72.3h0M183.4 75.2h0M182.2 77.5h0M170.5 80.2h0M173.4 79.5h0M174.3 79.7h0M187.6 81.2h0M182.3 81.9h0M174.4 83.2h0M178.9 82.9h0M175.8 84.4h0M176.5 83.7h0M187.2 83.8h0M172.2 85.3h0M173.8 85h0M177.5 85.2h0M164.2 86.8h0M180.4 86.9h0M165.2 88.5h0M170 89.3h0M176.8 89.1h0M178.5 88.6h0M181.4 88.5h0M160.8 90h0M158.5 91.3h0M184.9 91h0M185.2 91h0M164.5 92.5h0M165.4 92.1h0M145.8 92.9h0M163.2 92.9h0M164.4 92.6h0M172.1 92.8h0M177.9 93.2h0M183.6 93.4h0M164.8 94.1h0M175.1 93.7h0M183 94.7h0M194.5 95.5h0M197.3 95h0M154.7 97.3h0M166.3 97.1h0M198.7 97h0M199.4 97.1h0M168.5 98h0M188.7 98h0M169.5 98.7h0M173.9 99.5h0M176.3 99.5h0M187.4 99.2h0M190.5 99h0M194.8 99.1h0M162.7 100.4h0M171.2 99.8h0M176.3 99.7h0M178.3 100.2h0M165.3 100.8h0M165.9 101h0M170.8 101.5h0M177.6 100.7h0M184 100.7h0M153.9 102.1h0M165.1 101.7h0M169.2 101.9h0M177.2 102.3h0M177.7 102.3h0M186.5 101.7h0M185.2 102.7h0M187.1 103h0M190.8 102.6h0M176.3 104.2h0M176.6 104.2h0M178.7 103.5h0M180.5 104.2h0M184 104.4h0M185 104.4h0M187 103.9h0M146.9 105.4h0M165.9 104.8h0M171.2 105.4h0M178.8 104.6h0M181 104.8h0M182.1 105.4h0M188 105.3h0M191.4 104.6h0M193.5 104.9h0M148.1 105.6h0M154.9 105.5h0M175.2 105.9h0M185.5 105.6h0M186.5 106.2h0M161.2 106.9h0M166.3 107.4h0M170.8 107h0M171.1 107.2h0M174.8 107.1h0M181 106.7h0M182.9 107h0M183.3 106.9h0M187.8 107h0M190 107.3h0M142.1 108.3h0M152.8 107.6h0M156.5 107.8h0M168.5 107.8h0M173.3 107.6h0M173.9 107.9h0M178.9 108.2h0M180 107.9h0M189.5 107.9h0M144.7 109.1h0M158.9 109.2h0M159.9 109.5h0M168.4 109h0M172.4 109.4h0M182.1 109.1h0M184.4 109.2h0M188.2 109.1h0M140.9 110.4h0M151.2 110.4h0M152.4 109.7h0M164 109.9h0M164.9 109.6h0M167 110.3h0M179.1 110.4h0M186 110.3h0M192.5 109.6h0M166.5 110.6h0M171.2 110.7h0M173.3 110.8h0M174.6 110.5h0M177.9 110.7h0M182.7 110.5h0M158 112h0M163.6 112.2h0M163.7 111.8h0M166.5 111.6h0M169.2 112.2h0M172.2 112.3h0M172.9 112.2h0M176.9 111.9h0M184.8 112.1h0M185 112h0M158.9 113.4h0M159.8 113.4h0M165.2 113.1h0M168.1 113.3h0M174.1 113.1h0M174.6 112.6h0M178.6 113h0M179.2 113h0M183.6 112.6h0M183.8 112.8h0M194.7 112.6h0M163.5 113.7h0M164.8 113.7h0M172.8 114h0M175.8 113.8h0M177.5 114.1h0M182.4 113.9h0M183.5 114h0M184.7 114h0M189.8 114.3h0M194.4 114.1h0M145.5 115.3h0M164.5 114.9h0M166.4 115.1h0M169.6 115.3h0M173.3 114.9h0M174.2 114.6h0M175.8 115.3h0M187.7 114.6h0M195.5 114.9h0M195.6 115.2h0M170 116.3h0M183.8 116.1h0M186.5 116h0M188.2 116.3h0M194.8 115.6h0M162.7 117.2h0M165.2 116.6h0M166.6 116.7h0M170 117.3h0M170.2 116.8h0M173.3 116.5h0M182 117.4h0M195.4 117.3h0M147.3 118.4h0M161.1 118.3h0M162.5 117.9h0M162.7 118.2h0M163 117.9h0M163.6 117.6h0M163.8 117.8h0M164.6 118.4h0M169.4 117.6h0M170 117.8h0M172.6 118.1h0M173.6 118.4h0M176.2 118.3h0M188.2 118.2h0M191.8 117.7h0M195.6 118.2h0M130.8 119.1h0M141.5 119.4h0M147.3 119h0M160.3 118.6h0M165.2 118.5h0M165.4 118.9h0M171.5 118.8h0M173.7 119.1h0M174 119.4h0M174.2 118.6h0M179.1 118.8h0M187.4 119.1h0M192.8 119.1h0M195.2 119.4h0M196.7 118.9h0M198.3 119.2h0M139.2 120.3h0M139.9 120.1h0M143.1 120.1h0M144.2 119.7h0M157.6 119.6h0M161.5 120h0M163.1 119.6h0M163.7 120.2h0M164.3 120h0M170.7 120.4h0M172.5 120.2h0M181.1 120.5h0M195.8 120.3h0M198.8 120.1h0M134.4 120.6h0M138.4 121.1h0M140.8 121.1h0M141.3 120.9h0M143.8 120.8h0M146.7 121.5h0M148.6 121h0M152.2 121h0M167.7 120.8h0M170.8 120.8h0M172 120.8h0M173.3 120.9h0M176.8 121.2h0M188.4 120.6h0M190.9 120.5h0M191.9 120.6h0M192.2 121.3h0M193.3 120.6h0M133.7 121.7h0M144.8 121.9h0M146.5 122.2h0M149.3 121.6h0M150.9 121.7h0M163.6 121.7h0M167.6 122.1h0M168.1 122.2h0M175.8 122.2h0M177.2 122.4h0M177.8 121.7h0M178.1 121.7h0M180.4 121.9h0M182.9 121.9h0M188.1 122.2h0M190.1 122.4h0M193.9 122.4h0M129.8 122.9h0M135.1 122.8h0M135.9 123.3h0M136.6 123.5h0M144 122.9h0M150.7 123.1h0M150.7 122.8h0M157.8 123.2h0M163 123.3h0M164.1 123h0M167.6 123.3h0M168.7 122.8h0M170.8 123h0M173.2 122.9h0M176.2 122.5h0M178.9 123.2h0M183.2 122.7h0M187.7 123h0M191.8 122.6h0M132.3 124.4h0M141.9 124.4h0M144.7 123.7h0M152.5 124.1h0M155.3 123.7h0M158.4 124.3h0M167.4 124.1h0M167.9 123.9h0M172.3 123.8h0M175.9 124.1h0M184 123.8h0M185.2 124.3h0M192.5 123.9h0M134.6 125.4h0M137.2 124.8h0M138.7 124.7h0M140.1 125.3h0M140.4 124.6h0M142.9 124.7h0M144.3 124.7h0M146.4 124.5h0M149.1 125.2h0M150.3 124.7h0M153.2 124.6h0M155.7 125.4h0M162.6 124.6h0M167.9 124.9h0M168.8 125.3h0M169.9 125.4h0M171 125.3h0M174.1 125.2h0M182.5 124.8h0M182.6 124.6h0M186.6 124.5h0M192 125.4h0M194.1 124.8h0M197.7 124.8h0M199.5 125.4h0M127.5 125.9h0M136.1 125.5h0M136.1 125.6h0M137.7 125.6h0M139.9 125.8h0M140.9 126.2h0M146.2 125.6h0M147.6 125.6h0M162.3 126.3h0M166.5 125.9h0M167.5 125.5h0M167.9 126.3h0M168.4 126.2h0M168.6 126.2h0M175.6 126.5h0M180.4 125.7h0M181.1 126.1h0M187.9 126.3h0M196.7 125.9h0M200.5 126.5h0M140.7 126.7h0M141.1 126.5h0M144.7 127.5h0M158.2 127h0M165.6 126.5h0M165.8 127.3h0M169.8 127.2h0M170.7 126.8h0M171 127.3h0M172.1 126.6h0M173.4 126.6h0M174.8 127.2h0M174.8 126.9h0M177 127.3h0M178.9 127.4h0M182.5 127.3h0M183.5 127.5h0M184.8 127.5h0M191.6 127.4h0M191.6 127.4h0M193.4 127.5h0M193.9 127.1h0M195.2 127h0M196.1 127.1h0M197.7 127.4h0M200.4 126.6h0M125.3 127.7h0M127.7 128.2h0M134 127.7h0M137.3 128.4h0M150.7 127.8h0M159.2 127.9h0M163.1 128.4h0M166.4 128.5h0M172.4 127.6h0M173.5 128.1h0M174.7 128.1h0M179.4 127.7h0M190.3 128.3h0M192.6 127.6h0M197.9 128h0M199 128.2h0M199.7 128.1h0M200.6 128.3h0M135.3 129.4h0M141.4 128.5h0M142.4 129.2h0M151.1 129.3h0M151.5 128.8h0M157.3 129.2h0M158.8 128.6h0M159.7 129.4h0M159.8 129.3h0M165.9 128.9h0M170.6 128.7h0M175.8 128.7h0M176.8 129h0M178.5 128.9h0M178.8 128.9h0M184 129.4h0M184.5 129.4h0M136.4 130.2h0M138.9 130.3h0M140.1 129.8h0M142.2 129.7h0M143.3 130.5h0M150.3 129.8h0M152.3 130h0M152.7 130h0M158.4 129.5h0M166 130.4h0M167.8 130.3h0M169.6 130.2h0M170.7 129.9h0M174.3 130.3h0M175.4 130.1h0M177.1 130.1h0M183.7 129.9h0M185.3 130.1h0M185.8 129.9h0M186.3 129.7h0M186.5 130.2h0M187 129.5h0M198.4 130.1h0M198.8 130.4h0M126.9 131.5h0M136.2 130.5h0M140.7 130.6h0M144 130.7h0M144.4 131.3h0M150.2 130.9h0M157.3 130.7h0M157.5 130.6h0M159.2 131.2h0M159.5 130.6h0M161.2 131.3h0M162.5 131.1h0M164.6 130.8h0M164.7 130.5h0M166.2 130.8h0M169.3 131.1h0M172.2 131.2h0M172.7 130.9h0M173 130.7h0M177.7 131.3h0M178.3 131.2h0M179.3 131.2h0M181.7 131.4h0M182.1 130.9h0M189.3 131.2h0M190.1 131.4h0M190.1 130.6h0M191.1 131h0M196.7 130.8h0M138.2 132.2h0M141.1 132.5h0M145.2 131.8h0M149.3 132.4h0M150.8 132.3h0M153.7 131.9h0M157.9 131.7h0M159.3 132.1h0M160.1 131.9h0M161.7 132.1h0M165.7 131.9h0M166.5 131.6h0M167.6 132.3h0M169.7 132.1h0M170.5 132.1h0M171.1 131.6h0M172 132.3h0M179.3 132.1h0M182.9 131.8h0M131.6 132.6h0M132.9 133h0M140.2 132.9h0M143.6 132.9h0M143.7 133.2h0M147.5 133.4h0M157.1 132.7h0M160 133.1h0M164 132.9h0M164.7 132.7h0M165.8 132.8h0M166.6 132.8h0M169 132.9h0M174.1 132.8h0M175.1 132.5h0M178.3 132.9h0M179.6 133.2h0M180.6 133h0M181 132.9h0M185.6 132.6h0M138.7 134.1h0M149.2 134.3h0M155.5 134h0M159.4 133.9h0M160.4 133.8h0M160.7 134h0M164.8 134.3h0M167.8 133.6h0M168.2 133.7h0M169 133.7h0M172.3 134.5h0M176.3 134.4h0M176.4 133.9h0M179.1 134.4h0M182.5 133.9h0M182.7 133.9h0M184.3 134.3h0M184.7 134.1h0M186.7 134.3h0M194.7 133.8h0M131.4 134.7h0M138.5 134.5h0M142.1 135.1h0M142.8 134.7h0M143.9 135h0M146.6 135.1h0M148.5 134.9h0M148.6 134.6h0M149 135.4h0M152.2 134.9h0M152.6 135.5h0M152.6 134.7h0M152.6 135.2h0M152.8 135.1h0M154.4 134.8h0M156.6 134.8h0M158.1 135.2h0M159.5 134.6h0M161.6 134.6h0M164.9 134.9h0M168.6 134.8h0M169.2 134.9h0M171 134.5h0M171.8 134.9h0M172.8 135.3h0M173.7 135.5h0M174.4 135.2h0M177.3 135.4h0M181.9 134.9h0M183.8 135.3h0M184.6 135.3h0M188.4 134.7h0M188.5 135h0M191.4 135.3h0M194.5 134.7h0M131 136.4h0M146.2 135.6h0M146.5 135.7h0M150.4 136.4h0M152.8 136.2h0M157.4 136.4h0M158.4 136.1h0M161.4 135.7h0M162.4 135.9h0M175 135.7h0M178.3 136.4h0M179.1 135.6h0M182.5 136.2h0M184.3 136.3h0M186.2 136.2h0M188.7 136.3h0M190.9 135.7h0M196.5 136.5h0M133.5 137.2h0M138.8 137.3h0M142.7 137.4h0M148.6 136.9h0M151.4 137.2h0M152.8 136.6h0M154.2 136.8h0M158 136.6h0M165.1 137.4h0M170.4 136.7h0M170.8 137h0M173.6 137.3h0M174.1 137.4h0M175.5 137.1h0M178.1 137.1h0M188.3 136.6h0M193.1 136.8h0M139.7 137.6h0M140.2 138h0M145.4 138.2h0M146.6 137.7h0M147.4 137.9h0M148 138h0M149.3 138.4h0M151.6 138.5h0M153.1 138.2h0M155.8 137.6h0M162.5 137.6h0M167 137.8h0M170.4 138.3h0M171.1 138.4h0M172 137.5h0M175.4 138.2h0M178.3 137.7h0M184.3 137.6h0M185.7 137.7h0M188.9 138.1h0M189.6 138.1h0M192.6 138.1h0M125 138.8h0M139.3 138.6h0M139.7 139.2h0M140.3 138.8h0M143 139.3h0M145.8 139.4h0M148.8 139.1h0M151.6 139.1h0M152.9 139.4h0M156.8 139.3h0M160 138.8h0M164.2 139.2h0M169.1 138.7h0M169.8 139.2h0M176.6 138.7h0M177.6 138.7h0M179.2 138.6h0M186.1 138.6h0M187.6 139.1h0M188.8 139.1h0M193.1 139.4h0M138.8 139.9h0M139.4 139.6h0M144.2 139.9h0M145 139.6h0M146.7 139.6h0M148 140h0M152.4 139.7h0M154.5 140.3h0M159 140.3h0M159.8 139.7h0M161.3 139.5h0M163.6 140.1h0M164.9 140.1h0M167 140.3h0M170.6 140.2h0M174.2 140.2h0M174.4 140h0M176 140.4h0M176.3 139.6h0M176.7 139.9h0M177.9 140h0M181.9 140.1h0M183.7 140.4h0M184.1 139.5h0M185.9 139.5h0M190.1 140.5h0M193.1 139.5h0M137.5 140.6h0M148.9 141h0M150.5 141.1h0M150.7 141.3h0M151.1 141.2h0M153.4 141.5h0M170.1 140.7h0M170.8 140.9h0M171.2 140.5h0M171.6 140.7h0M171.9 141.4h0M172 141.3h0M174.5 141.4h0M175.7 141.1h0M177.3 141.5h0M177.7 140.6h0M182.7 141.5h0M182.9 141.4h0M187.3 140.8h0M195.5 140.5h0M138 141.8h0M138.3 142.5h0M144.9 141.8h0M150.5 142.5h0M152.2 142.4h0M153.6 141.8h0M154.7 141.7h0M154.8 141.9h0M155.9 141.6h0M158.5 141.6h0M158.7 141.7h0M161.1 142.3h0M162.2 141.5h0M163.1 142.1h0M172.9 141.7h0M174.7 141.9h0M178.9 142.2h0M179.7 142.1h0M182.3 141.9h0M182.4 141.8h0M183.4 141.8h0M187.6 142.3h0M194.6 141.7h0M137.2 143.1h0M150 143h0M150.1 142.7h0M153.3 143.1h0M153.4 143h0M156.2 142.9h0M156.6 143.2h0M162.3 143.1h0M163.8 143.3h0M168.9 142.9h0M173.5 142.8h0M173.6 143h0M174.5 142.8h0M177.8 143.2h0M182 142.5h0M182.1 142.8h0M191.6 142.9h0M192.9 143.3h0M126.8 144h0M137.6 143.8h0M137.7 144h0M139.5 143.6h0M142.3 143.6h0M146.6 143.5h0M148 144.3h0M149 144.3h0M150.8 143.9h0M153.4 143.7h0M161.5 143.9h0M173.2 143.8h0M181 143.7h0M182.5 144.4h0M184.7 144.4h0M187.2 144.2h0M189.8 144.2h0M140.4 144.7h0M141.5 145.3h0M143.4 144.8h0M145.6 144.9h0M147.6 144.7h0M147.9 145h0M149.6 145.2h0M150.1 145.3h0M151.4 145.1h0M155.9 144.6h0M158.4 144.9h0M170.7 144.8h0M174.7 144.8h0M176 144.8h0M179.4 145.4h0M179.4 145.1h0M179.7 144.9h0M180.9 145.1h0M137.2 146h0M144.6 145.8h0M146.8 145.7h0M147.1 146.5h0M147.2 145.6h0M150 146.4h0M152.2 145.6h0M152.4 145.7h0M153.7 146.1h0M153.7 146.4h0M154.1 146.3h0M154.2 145.9h0M160.3 145.6h0M166.3 146.1h0M173.9 145.6h0M176 145.8h0M184 146.1h0M185.4 146.2h0M185.5 145.8h0M190.5 146.3h0M137.9 146.7h0M139.6 147.1h0M139.8 147.4h0M145.3 146.5h0M146 146.6h0M149.2 147.2h0M155.1 146.8h0M156.1 146.9h0M165.9 146.8h0M167 146.7h0M168 147.5h0M179.6 147.5h0M182.5 147.4h0M184.1 147.1h0M186 146.8h0M189.5 146.8h0M190.9 146.7h0M124.4 147.7h0M145.2 148.3h0M151.3 147.9h0M151.5 147.6h0M154.6 148.2h0M158.8 147.9h0M163.6 147.7h0M164 148.1h0M168.7 147.9h0M169 147.5h0M169.1 148.2h0M171.1 147.6h0M172 147.6h0M173.7 147.9h0M178.1 147.6h0M180.4 147.9h0M181.8 148.1h0M183.3 148.1h0M186.2 147.6h0M189.9 147.5h0M137.6 149.3h0M139.4 148.9h0M160.1 149.2h0M162.3 149h0M162.5 148.8h0M165.1 149.3h0M169.6 149.1h0M173.1 148.8h0M173.1 148.9h0M178.3 149h0M182.2 149.2h0M186 148.8h0M186.9 149h0M124.5 149.9h0M137.7 150.3h0M138.3 149.6h0M141.5 150h0M142.2 150.2h0M145.7 150.5h0M148.3 149.9h0M152.6 150.4h0M153.5 150.3h0M155.2 150.3h0M157.7 150h0M163.8 150.2h0M165.2 149.6h0M165.2 150.1h0M169.6 149.8h0M170.3 149.6h0M173.9 150.2h0M177.3 150.3h0M136.2 150.9h0M142.6 150.8h0M142.8 151h0M144.6 151.5h0M147.9 151h0M148.4 151.2h0M149.3 151.3h0M153.1 150.6h0M160 150.6h0M165.6 150.7h0M166.3 150.7h0M167.9 151.1h0M168.5 150.9h0M169.7 151.4h0M169.9 150.8h0M169.9 150.7h0M170.9 151.4h0M173.2 150.9h0M178.3 150.5h0M179.1 151.1h0M181.3 150.7h0M181.9 150.6h0M139.2 152h0M141.4 151.5h0M143.8 151.6h0M144.9 152.3h0M144.9 152.1h0M147 152.4h0M149.4 152.2h0M149.7 152.1h0M155 152h0M156.9 151.9h0M163.1 152.4h0M166.2 151.9h0M166.2 152.4h0M167.9 152.3h0M172 152.1h0M173.7 151.7h0M173.9 151.9h0M174.5 152h0M175.3 151.5h0M176.2 151.6h0M176.5 151.6h0M181.7 152.2h0M183.3 151.8h0M183.6 152h0M184.1 152h0M184.2 151.9h0M185.6 152.2h0M144 153.4h0M146.7 153.2h0M147.6 153.5h0M149.4 153.2h0M152.6 153.3h0M155.1 152.6h0M155.8 153.1h0M160.3 153h0M160.6 152.7h0M163.8 152.6h0M166.6 152.6h0M166.9 153.2h0M168.5 152.6h0M168.6 152.7h0M171 152.5h0M171.1 152.8h0M171.8 153.2h0M173.2 152.6h0M174.2 153h0M174.6 152.6h0M175.6 153.5h0M177.4 152.9h0M177.5 153.2h0M177.8 153.5h0M178.7 152.6h0M178.8 152.8h0M180.2 152.5h0M180.8 153.3h0M183.1 152.5h0M183.9 153.4h0M142.9 153.7h0M145.4 154h0M147.3 154.2h0M147.4 153.7h0M149.7 153.8h0M150 153.8h0M150.7 154.3h0M151 154.3h0M151.3 154.2h0M152.6 153.7h0M153.9 154.3h0M157.1 154.5h0M158.1 153.8h0M161 154.1h0M165.4 154.4h0M170.1 154.4h0M175.4 153.8h0M178.3 154.1h0M180.5 153.7h0M181 153.9h0M181.7 153.6h0M142 155.2h0M142.2 155.3h0M142.4 155.3h0M142.5 155.1h0M147.1 154.5h0M153.2 155h0M155.7 154.8h0M168.1 155h0M171.3 155h0M171.4 155.4h0M178.1 155.3h0M179.2 155.3h0M180 154.7h0M181.5 155h0M141.1 156h0M144 156.1h0M145.6 155.9h0M146 156h0M149.2 155.9h0M149.3 156.2h0M157.8 155.9h0M157.9 156.4h0M165.9 156.4h0M168.9 155.9h0M169.2 155.7h0M170.7 155.7h0M171.1 156.1h0M171.6 156h0M171.6 155.7h0M179.6 155.7h0M181.8 156h0M142.3 157.2h0M143.6 156.8h0M144.2 157.2h0M145.2 156.9h0M145.9 157.2h0M147.3 157.5h0M148.8 157.4h0M149.6 156.8h0M151.1 156.7h0M153.6 157.5h0M155 157h0M156.9 156.6h0M157.3 157.4h0M163.5 157h0M170.7 157.4h0M171.1 157h0M171.5 156.9h0M173.4 156.8h0M178.9 157.2h0M180.8 157.1h0M141.1 158.1h0M145.2 157.6h0M145.6 157.7h0M146.7 157.5h0M147.7 157.7h0M148.4 157.9h0M151.3 157.5h0M169.3 157.5h0M174.9 158.4h0M178.2 157.6h0M124 158.8h0M147.5 158.6h0M150.1 159.3h0M155.9 159.5h0M156.3 159.4h0M158 159.2h0M158.7 159.3h0M159.5 159h0M160.6 158.8h0M162.2 158.6h0M162.9 158.5h0M163.2 159.1h0M167.8 159.5h0M168.3 158.9h0M170.8 159.2h0M172.1 159.3h0M172.9 159.1h0M174.1 159.1h0M175.9 159.2h0M150.4 159.6h0M152.9 160h0M158.3 160.3h0M159 160.2h0M161.8 159.7h0M163 159.8h0M164.8 159.5h0M166.9 159.7h0M168.2 159.9h0M168.6 160.3h0M171.9 159.7h0M173.1 160.3h0M174.6 160.2h0M148.9 161h0M149.2 161.3h0M150.5 161.3h0M151 161.5h0M151.3 161.3h0M153.8 160.9h0M154.5 160.7h0M156.1 161.3h0M166.9 161.4h0M168.1 161h0M172.7 160.6h0M173.3 160.9h0M151.5 161.8h0M151.5 162.2h0M152 162.1h0M154.8 162.4h0M163.7 161.8h0M163.9 162.1h0M151.9 163.1h0M153 163.3h0M153.5 162.8h0M156.3 163.1h0M158.5 163.4h0M164.4 163.1h0M166.1 163.2h0M130 163.7h0M155.5 164.4h0M158.3 163.9h0M158.6 164.1h0M154.6 165.2h0M155.7 164.5h0M158.4 164.7h0M162.1 164.9h0M162.2 164.6h0M162.9 165.4h0M129.3 166.2h0M158.2 165.8h0M158.8 166.1h0M160 167.8h0M160.5 168.1h0M160.4 169.8h0M161.6 169.7h0M160.5 172.4h0M158 172.8h0M162.1 172.7h0M157.3 174.3h0M158.1 173.6h0M156.3 174.7h0M159 175.3h0M155.4 175.7h0M160.1 176.5h0M159.3 176.6h0M158 177.9h0M158.5 177.7h0" stroke="#006400" stroke-width="1.1" stroke-linecap="round" fill="none"/>
<use href="#cn" fill="none" stroke="#1a1a1a" stroke-width="1.25" stroke-linejoin="round"/>
<use href="#pv" fill="none" stroke="#1a1a1a" stroke-width="1.12" stroke-linejoin="round"/>
<use href="#pe" fill="none" stroke="#111" stroke-width="0.95" stroke-linejoin="round"/>
<use href="#coast" fill="none" stroke="#111" stroke-width="1.35" stroke-linejoin="round"/>
<use href="#hn" fill="none" stroke="#111" stroke-width="1.2"/>
<use href="#tw" fill="none" stroke="#111" stroke-width="1.05"/>
<use href="#isx"/><use href="#na"/><use href="#sb"/><use href="#ins"/>
<use href="#hn" transform="translate(64.5 -45.5)" fill="#8cc04a" stroke="#111" stroke-width="1.1"/>
</g>
<rect x="12.6" y="400.7" width="240.0" height="143.00000000000006" fill="#fff" stroke="#858585" stroke-width="1"/>
<line x1="48.5" y1="502.5" x2="242.8" y2="502.5" stroke="#9a9a9a" stroke-width="0.7"/>
<text x="44.9" y="504.8" font-family="'Liberation Sans',sans-serif" font-size="6.7" text-anchor="end" fill="#111" stroke="#111" stroke-width="0.12">0</text>
<line x1="48.5" y1="490.4" x2="242.8" y2="490.4" stroke="#9a9a9a" stroke-width="0.7"/>
<text x="44.9" y="492.7" font-family="'Liberation Sans',sans-serif" font-size="6.7" text-anchor="end" fill="#111" stroke="#111" stroke-width="0.12">50</text>
<line x1="48.5" y1="478.2" x2="242.8" y2="478.2" stroke="#9a9a9a" stroke-width="0.7"/>
<text x="44.9" y="480.5" font-family="'Liberation Sans',sans-serif" font-size="6.7" text-anchor="end" fill="#111" stroke="#111" stroke-width="0.12">100</text>
<line x1="48.5" y1="466.1" x2="242.8" y2="466.1" stroke="#9a9a9a" stroke-width="0.7"/>
<text x="44.9" y="468.4" font-family="'Liberation Sans',sans-serif" font-size="6.7" text-anchor="end" fill="#111" stroke="#111" stroke-width="0.12">150</text>
<line x1="48.5" y1="453.9" x2="242.8" y2="453.9" stroke="#9a9a9a" stroke-width="0.7"/>
<text x="44.9" y="456.2" font-family="'Liberation Sans',sans-serif" font-size="6.7" text-anchor="end" fill="#111" stroke="#111" stroke-width="0.12">200</text>
<line x1="48.5" y1="441.8" x2="242.8" y2="441.8" stroke="#9a9a9a" stroke-width="0.7"/>
<text x="44.9" y="444.1" font-family="'Liberation Sans',sans-serif" font-size="6.7" text-anchor="end" fill="#111" stroke="#111" stroke-width="0.12">250</text>
<line x1="48.5" y1="429.6" x2="242.8" y2="429.6" stroke="#9a9a9a" stroke-width="0.7"/>
<text x="44.9" y="431.9" font-family="'Liberation Sans',sans-serif" font-size="6.7" text-anchor="end" fill="#111" stroke="#111" stroke-width="0.12">300</text>
<line x1="48.5" y1="417.5" x2="242.8" y2="417.5" stroke="#9a9a9a" stroke-width="0.7"/>
<text x="44.9" y="419.8" font-family="'Liberation Sans',sans-serif" font-size="6.7" text-anchor="end" fill="#111" stroke="#111" stroke-width="0.12">350</text>
<line x1="49.5" y1="417.5" x2="49.5" y2="502.5" stroke="#8c8c8c" stroke-width="0.5"/>
<line x1="49.5" y1="502.5" x2="49.5" y2="504.5" stroke="#8c8c8c" stroke-width="0.5"/>
<line x1="61.5" y1="502.5" x2="61.5" y2="504.5" stroke="#8c8c8c" stroke-width="0.5"/>
<line x1="73.6" y1="502.5" x2="73.6" y2="504.5" stroke="#8c8c8c" stroke-width="0.5"/>
<line x1="85.7" y1="502.5" x2="85.7" y2="504.5" stroke="#8c8c8c" stroke-width="0.5"/>
<line x1="97.8" y1="502.5" x2="97.8" y2="504.5" stroke="#8c8c8c" stroke-width="0.5"/>
<line x1="109.9" y1="502.5" x2="109.9" y2="504.5" stroke="#8c8c8c" stroke-width="0.5"/>
<line x1="122" y1="502.5" x2="122" y2="504.5" stroke="#8c8c8c" stroke-width="0.5"/>
<line x1="134" y1="502.5" x2="134" y2="504.5" stroke="#8c8c8c" stroke-width="0.5"/>
<line x1="146.1" y1="502.5" x2="146.1" y2="504.5" stroke="#8c8c8c" stroke-width="0.5"/>
<line x1="158.2" y1="502.5" x2="158.2" y2="504.5" stroke="#8c8c8c" stroke-width="0.5"/>
<line x1="170.3" y1="502.5" x2="170.3" y2="504.5" stroke="#8c8c8c" stroke-width="0.5"/>
<line x1="182.4" y1="502.5" x2="182.4" y2="504.5" stroke="#8c8c8c" stroke-width="0.5"/>
<line x1="194.5" y1="502.5" x2="194.5" y2="504.5" stroke="#8c8c8c" stroke-width="0.5"/>
<line x1="206.5" y1="502.5" x2="206.5" y2="504.5" stroke="#8c8c8c" stroke-width="0.5"/>
<line x1="218.6" y1="502.5" x2="218.6" y2="504.5" stroke="#8c8c8c" stroke-width="0.5"/>
<line x1="230.7" y1="502.5" x2="230.7" y2="504.5" stroke="#8c8c8c" stroke-width="0.5"/>
<line x1="242.8" y1="502.5" x2="242.8" y2="504.5" stroke="#8c8c8c" stroke-width="0.5"/>
<polyline points="55.5,502.5 67.6,424.8 79.7,439.8 91.7,470.4 103.8,473.8 115.9,479.9 128,474.6 140.1,483.1 152.2,486.2 164.3,489.9 176.3,492.1 188.4,494.7 200.5,495.7 212.6,499.1 224.7,497.6 236.8,499.3" fill="none" stroke="#3f73be" stroke-width="1.5" stroke-linejoin="round"/>
<path d="M55.5 500.2l2.3 2.3l-2.3 2.3l-2.3 -2.3zM67.6 422.5l2.3 2.3l-2.3 2.3l-2.3 -2.3zM79.7 437.5l2.3 2.3l-2.3 2.3l-2.3 -2.3zM91.7 468.1l2.3 2.3l-2.3 2.3l-2.3 -2.3zM103.8 471.5l2.3 2.3l-2.3 2.3l-2.3 -2.3zM115.9 477.6l2.3 2.3l-2.3 2.3l-2.3 -2.3zM128 472.3l2.3 2.3l-2.3 2.3l-2.3 -2.3zM140.1 480.8l2.3 2.3l-2.3 2.3l-2.3 -2.3zM152.2 483.9l2.3 2.3l-2.3 2.3l-2.3 -2.3zM164.3 487.6l2.3 2.3l-2.3 2.3l-2.3 -2.3zM176.3 489.8l2.3 2.3l-2.3 2.3l-2.3 -2.3zM188.4 492.4l2.3 2.3l-2.3 2.3l-2.3 -2.3zM200.5 493.4l2.3 2.3l-2.3 2.3l-2.3 -2.3zM212.6 496.8l2.3 2.3l-2.3 2.3l-2.3 -2.3zM224.7 495.3l2.3 2.3l-2.3 2.3l-2.3 -2.3zM236.8 497l2.3 2.3l-2.3 2.3l-2.3 -2.3z" fill="#3f73be"/>
<text transform="translate(58 512.8) rotate(-45)" font-family="'Liberation Sans',sans-serif" font-size="6.6" text-anchor="end" fill="#111" stroke="#111" stroke-width="0.25">2005</text>
<text transform="translate(70.1 512.8) rotate(-45)" font-family="'Liberation Sans',sans-serif" font-size="6.6" text-anchor="end" fill="#111" stroke="#111" stroke-width="0.25">2006</text>
<text transform="translate(82.2 512.8) rotate(-45)" font-family="'Liberation Sans',sans-serif" font-size="6.6" text-anchor="end" fill="#111" stroke="#111" stroke-width="0.25">2007</text>
<text transform="translate(94.2 512.8) rotate(-45)" font-family="'Liberation Sans',sans-serif" font-size="6.6" text-anchor="end" fill="#111" stroke="#111" stroke-width="0.25">2008</text>
<text transform="translate(106.3 512.8) rotate(-45)" font-family="'Liberation Sans',sans-serif" font-size="6.6" text-anchor="end" fill="#111" stroke="#111" stroke-width="0.25">2009</text>
<text transform="translate(118.4 512.8) rotate(-45)" font-family="'Liberation Sans',sans-serif" font-size="6.6" text-anchor="end" fill="#111" stroke="#111" stroke-width="0.25">2010</text>
<text transform="translate(130.5 512.8) rotate(-45)" font-family="'Liberation Sans',sans-serif" font-size="6.6" text-anchor="end" fill="#111" stroke="#111" stroke-width="0.25">2011</text>
<text transform="translate(142.6 512.8) rotate(-45)" font-family="'Liberation Sans',sans-serif" font-size="6.6" text-anchor="end" fill="#111" stroke="#111" stroke-width="0.25">2012</text>
<text transform="translate(154.7 512.8) rotate(-45)" font-family="'Liberation Sans',sans-serif" font-size="6.6" text-anchor="end" fill="#111" stroke="#111" stroke-width="0.25">2013</text>
<text transform="translate(166.8 512.8) rotate(-45)" font-family="'Liberation Sans',sans-serif" font-size="6.6" text-anchor="end" fill="#111" stroke="#111" stroke-width="0.25">2014</text>
<text transform="translate(178.8 512.8) rotate(-45)" font-family="'Liberation Sans',sans-serif" font-size="6.6" text-anchor="end" fill="#111" stroke="#111" stroke-width="0.25">2015</text>
<text transform="translate(190.9 512.8) rotate(-45)" font-family="'Liberation Sans',sans-serif" font-size="6.6" text-anchor="end" fill="#111" stroke="#111" stroke-width="0.25">2016</text>
<text transform="translate(203 512.8) rotate(-45)" font-family="'Liberation Sans',sans-serif" font-size="6.6" text-anchor="end" fill="#111" stroke="#111" stroke-width="0.25">2017</text>
<text transform="translate(215.1 512.8) rotate(-45)" font-family="'Liberation Sans',sans-serif" font-size="6.6" text-anchor="end" fill="#111" stroke="#111" stroke-width="0.25">2018</text>
<text transform="translate(227.2 512.8) rotate(-45)" font-family="'Liberation Sans',sans-serif" font-size="6.6" text-anchor="end" fill="#111" stroke="#111" stroke-width="0.25">2019</text>
<text transform="translate(239.3 512.8) rotate(-45)" font-family="'Liberation Sans',sans-serif" font-size="6.6" text-anchor="end" fill="#111" stroke="#111" stroke-width="0.25">2020</text>
<text x="146.5" y="535" font-family="'Liberation Sans',sans-serif" font-size="6" font-weight="bold" text-anchor="middle" fill="#111">Year</text>
<text transform="translate(25.5 460) rotate(-90)" font-family="'Liberation Sans',sans-serif" font-size="6" font-weight="bold" text-anchor="middle" fill="#111" textLength="65" lengthAdjust="spacingAndGlyphs">New occurring counties</text>
<line x1="160.5" y1="425.5" x2="174.5" y2="425.5" stroke="#3f73be" stroke-width="1.5"/>
<path d="M167.5 423.2l2.3 2.3l-2.3 2.3l-2.3 -2.3z" fill="#3f73be"/>
<text x="175.6" y="427.7" font-family="'Liberation Sans',sans-serif" font-size="6.4" fill="#111" textLength="64" lengthAdjust="spacingAndGlyphs">New occurring counties</text>
<rect x="271.6" y="400.7" width="240.39999999999998" height="143.00000000000006" fill="#fff" stroke="#858585" stroke-width="1"/>
<line x1="307.8" y1="508" x2="497.8" y2="508" stroke="#9a9a9a" stroke-width="0.7"/>
<text x="304.1" y="510.3" font-family="'Liberation Sans',sans-serif" font-size="6.7" text-anchor="end" fill="#111" stroke="#111" stroke-width="0.12">0</text>
<line x1="307.8" y1="491.2" x2="497.8" y2="491.2" stroke="#9a9a9a" stroke-width="0.7"/>
<text x="304.1" y="493.6" font-family="'Liberation Sans',sans-serif" font-size="6.7" text-anchor="end" fill="#111" stroke="#111" stroke-width="0.12">50</text>
<line x1="307.8" y1="474.5" x2="497.8" y2="474.5" stroke="#9a9a9a" stroke-width="0.7"/>
<text x="304.1" y="476.8" font-family="'Liberation Sans',sans-serif" font-size="6.7" text-anchor="end" fill="#111" stroke="#111" stroke-width="0.12">100</text>
<line x1="307.8" y1="457.8" x2="497.8" y2="457.8" stroke="#9a9a9a" stroke-width="0.7"/>
<text x="304.1" y="460.1" font-family="'Liberation Sans',sans-serif" font-size="6.7" text-anchor="end" fill="#111" stroke="#111" stroke-width="0.12">150</text>
<line x1="307.8" y1="441" x2="497.8" y2="441" stroke="#9a9a9a" stroke-width="0.7"/>
<text x="304.1" y="443.3" font-family="'Liberation Sans',sans-serif" font-size="6.7" text-anchor="end" fill="#111" stroke="#111" stroke-width="0.12">200</text>
<line x1="307.8" y1="424.2" x2="497.8" y2="424.2" stroke="#9a9a9a" stroke-width="0.7"/>
<text x="304.1" y="426.6" font-family="'Liberation Sans',sans-serif" font-size="6.7" text-anchor="end" fill="#111" stroke="#111" stroke-width="0.12">250</text>
<line x1="307.8" y1="407.5" x2="497.8" y2="407.5" stroke="#9a9a9a" stroke-width="0.7"/>
<text x="304.1" y="409.8" font-family="'Liberation Sans',sans-serif" font-size="6.7" text-anchor="end" fill="#111" stroke="#111" stroke-width="0.12">300</text>
<line x1="308.8" y1="407.5" x2="308.8" y2="508" stroke="#8c8c8c" stroke-width="0.5"/>
<line x1="308.8" y1="508" x2="308.8" y2="510" stroke="#8c8c8c" stroke-width="0.5"/>
<line x1="324.5" y1="508" x2="324.5" y2="510" stroke="#8c8c8c" stroke-width="0.5"/>
<line x1="340.2" y1="508" x2="340.2" y2="510" stroke="#8c8c8c" stroke-width="0.5"/>
<line x1="356" y1="508" x2="356" y2="510" stroke="#8c8c8c" stroke-width="0.5"/>
<line x1="371.8" y1="508" x2="371.8" y2="510" stroke="#8c8c8c" stroke-width="0.5"/>
<line x1="387.5" y1="508" x2="387.5" y2="510" stroke="#8c8c8c" stroke-width="0.5"/>
<line x1="403.2" y1="508" x2="403.2" y2="510" stroke="#8c8c8c" stroke-width="0.5"/>
<line x1="419" y1="508" x2="419" y2="510" stroke="#8c8c8c" stroke-width="0.5"/>
<line x1="434.8" y1="508" x2="434.8" y2="510" stroke="#8c8c8c" stroke-width="0.5"/>
<line x1="450.5" y1="508" x2="450.5" y2="510" stroke="#8c8c8c" stroke-width="0.5"/>
<line x1="466.2" y1="508" x2="466.2" y2="510" stroke="#8c8c8c" stroke-width="0.5"/>
<line x1="482" y1="508" x2="482" y2="510" stroke="#8c8c8c" stroke-width="0.5"/>
<line x1="497.8" y1="508" x2="497.8" y2="510" stroke="#8c8c8c" stroke-width="0.5"/>
<polyline points="316.6,508 332.4,414.9 348.1,430.3 363.9,460.1 379.6,463.4 395.4,467.5 411.1,472.8 426.9,477.9 442.6,486.9 458.4,490.6 474.1,494.9 489.9,496.9" fill="none" stroke="#3f73be" stroke-width="1.5" stroke-linejoin="round"/>
<path d="M316.6 505.7l2.3 2.3l-2.3 2.3l-2.3 -2.3zM332.4 412.6l2.3 2.3l-2.3 2.3l-2.3 -2.3zM348.1 428l2.3 2.3l-2.3 2.3l-2.3 -2.3zM363.9 457.8l2.3 2.3l-2.3 2.3l-2.3 -2.3zM379.6 461.1l2.3 2.3l-2.3 2.3l-2.3 -2.3zM395.4 465.2l2.3 2.3l-2.3 2.3l-2.3 -2.3zM411.1 470.5l2.3 2.3l-2.3 2.3l-2.3 -2.3zM426.9 475.6l2.3 2.3l-2.3 2.3l-2.3 -2.3zM442.6 484.6l2.3 2.3l-2.3 2.3l-2.3 -2.3zM458.4 488.3l2.3 2.3l-2.3 2.3l-2.3 -2.3zM474.1 492.6l2.3 2.3l-2.3 2.3l-2.3 -2.3zM489.9 494.6l2.3 2.3l-2.3 2.3l-2.3 -2.3z" fill="#3f73be"/>
<text x="316.6" y="520" font-family="'Liberation Sans',sans-serif" font-size="6.4" text-anchor="middle" fill="#111">1</text>
<text x="332.4" y="520" font-family="'Liberation Sans',sans-serif" font-size="6.4" text-anchor="middle" fill="#111">2</text>
<text x="348.1" y="520" font-family="'Liberation Sans',sans-serif" font-size="6.4" text-anchor="middle" fill="#111">3</text>
<text x="363.9" y="520" font-family="'Liberation Sans',sans-serif" font-size="6.4" text-anchor="middle" fill="#111">4</text>
<text x="379.6" y="520" font-family="'Liberation Sans',sans-serif" font-size="6.4" text-anchor="middle" fill="#111">5</text>
<text x="395.4" y="520" font-family="'Liberation Sans',sans-serif" font-size="6.4" text-anchor="middle" fill="#111">6</text>
<text x="411.1" y="520" font-family="'Liberation Sans',sans-serif" font-size="6.4" text-anchor="middle" fill="#111">7</text>
<text x="426.9" y="520" font-family="'Liberation Sans',sans-serif" font-size="6.4" text-anchor="middle" fill="#111">8</text>
<text x="442.6" y="520" font-family="'Liberation Sans',sans-serif" font-size="6.4" text-anchor="middle" fill="#111">9</text>
<text x="458.4" y="520" font-family="'Liberation Sans',sans-serif" font-size="6.4" text-anchor="middle" fill="#111">10</text>
<text x="474.1" y="520" font-family="'Liberation Sans',sans-serif" font-size="6.4" text-anchor="middle" fill="#111">11</text>
<text x="489.9" y="520" font-family="'Liberation Sans',sans-serif" font-size="6.4" text-anchor="middle" fill="#111">12</text>
<text x="404" y="533.6" font-family="'Liberation Sans',sans-serif" font-size="6" font-weight="bold" text-anchor="middle" fill="#111">Month</text>
<text transform="translate(285.5 458) rotate(-90)" font-family="'Liberation Sans',sans-serif" font-size="6" font-weight="bold" text-anchor="middle" fill="#111" textLength="65" lengthAdjust="spacingAndGlyphs">New occurring counties</text>
<line x1="413.3" y1="414.8" x2="427" y2="414.8" stroke="#3f73be" stroke-width="1.5"/>
<path d="M420.1 412.5l2.3 2.3l-2.3 2.3l-2.3 -2.3z" fill="#3f73be"/>
<text x="428.6" y="417" font-family="'Liberation Sans',sans-serif" font-size="6.4" fill="#111" textLength="64" lengthAdjust="spacingAndGlyphs">New occurring counties</text>
<text x="17.8" y="24.4" font-family="'Liberation Serif',serif" font-size="3.6" font-weight="bold" text-anchor="start" fill="#111">Year</text>
<circle cx="22.4" cy="28.8" r="0.55" fill="#1b6b2a"/>
<text x="28.2" y="30" font-family="'Liberation Serif',serif" font-size="3.5" font-weight="normal" text-anchor="start" fill="#333">2005</text>
<circle cx="22.4" cy="35" r="0.55" fill="#2f7f36"/>
<text x="28.2" y="36.2" font-family="'Liberation Serif',serif" font-size="3.5" font-weight="normal" text-anchor="start" fill="#333">2006</text>
<circle cx="22.4" cy="41.2" r="0.55" fill="#4a9445"/>
<text x="28.2" y="42.4" font-family="'Liberation Serif',serif" font-size="3.5" font-weight="normal" text-anchor="start" fill="#333">2007</text>
<circle cx="22.4" cy="47.5" r="0.55" fill="#6aa855"/>
<text x="28.2" y="48.7" font-family="'Liberation Serif',serif" font-size="3.5" font-weight="normal" text-anchor="start" fill="#333">2008</text>
<circle cx="22.4" cy="53.7" r="0.55" fill="#94c060"/>
<text x="28.2" y="54.9" font-family="'Liberation Serif',serif" font-size="3.5" font-weight="normal" text-anchor="start" fill="#333">2009</text>
<circle cx="22.4" cy="59.9" r="0.55" fill="#bcd468"/>
<text x="28.2" y="61.1" font-family="'Liberation Serif',serif" font-size="3.5" font-weight="normal" text-anchor="start" fill="#333">2010</text>
<circle cx="22.4" cy="66.1" r="0.55" fill="#dde26a"/>
<text x="28.2" y="67.3" font-family="'Liberation Serif',serif" font-size="3.5" font-weight="normal" text-anchor="start" fill="#333">2011</text>
<circle cx="22.4" cy="72.3" r="0.55" fill="#f2ea6e"/>
<text x="28.2" y="73.5" font-family="'Liberation Serif',serif" font-size="3.5" font-weight="normal" text-anchor="start" fill="#333">2012</text>
<circle cx="22.4" cy="78.6" r="0.55" fill="#f7dc68"/>
<text x="28.2" y="79.8" font-family="'Liberation Serif',serif" font-size="3.5" font-weight="normal" text-anchor="start" fill="#333">2013</text>
<circle cx="22.4" cy="84.8" r="0.55" fill="#f7c860"/>
<text x="28.2" y="86" font-family="'Liberation Serif',serif" font-size="3.5" font-weight="normal" text-anchor="start" fill="#333">2014</text>
<circle cx="22.4" cy="91" r="0.55" fill="#f5b058"/>
<text x="28.2" y="92.2" font-family="'Liberation Serif',serif" font-size="3.5" font-weight="normal" text-anchor="start" fill="#333">2015</text>
<circle cx="22.4" cy="97.2" r="0.55" fill="#f09850"/>
<text x="28.2" y="98.4" font-family="'Liberation Serif',serif" font-size="3.5" font-weight="normal" text-anchor="start" fill="#333">2016</text>
<circle cx="22.4" cy="103.4" r="0.55" fill="#e88048"/>
<text x="28.2" y="104.6" font-family="'Liberation Serif',serif" font-size="3.5" font-weight="normal" text-anchor="start" fill="#333">2017</text>
<circle cx="22.4" cy="109.7" r="0.55" fill="#dc6a40"/>
<text x="28.2" y="110.9" font-family="'Liberation Serif',serif" font-size="3.5" font-weight="normal" text-anchor="start" fill="#333">2018</text>
<circle cx="22.4" cy="115.9" r="0.55" fill="#c85a3a"/>
<text x="28.2" y="117.1" font-family="'Liberation Serif',serif" font-size="3.5" font-weight="normal" text-anchor="start" fill="#333">2019</text>
<circle cx="22.4" cy="122.1" r="0.55" fill="#b04a34"/>
<text x="28.2" y="123.3" font-family="'Liberation Serif',serif" font-size="3.5" font-weight="normal" text-anchor="start" fill="#333">2020</text>
<text x="17.3" y="129.6" font-family="'Liberation Serif',serif" font-size="3.6" font-weight="bold" text-anchor="start" fill="#111">Year</text>
<line x1="16.9" y1="134.4" x2="26.5" y2="134.4" stroke="#5ab0c8" stroke-width="0.7"/>
<text x="28.3" y="135.6" font-family="'Liberation Serif',serif" font-size="3.5" font-weight="normal" text-anchor="start" fill="#333">2005</text>
<line x1="16.9" y1="140.6" x2="26.5" y2="140.6" stroke="#6ab8c0" stroke-width="0.7"/>
<text x="28.3" y="141.8" font-family="'Liberation Serif',serif" font-size="3.5" font-weight="normal" text-anchor="start" fill="#333">2006</text>
<line x1="16.9" y1="146.8" x2="26.5" y2="146.8" stroke="#80c0c0" stroke-width="0.7"/>
<text x="28.3" y="148" font-family="'Liberation Serif',serif" font-size="3.5" font-weight="normal" text-anchor="start" fill="#333">2007</text>
<line x1="16.9" y1="153" x2="26.5" y2="153" stroke="#a8d4b8" stroke-width="0.7"/>
<text x="28.3" y="154.2" font-family="'Liberation Serif',serif" font-size="3.5" font-weight="normal" text-anchor="start" fill="#333">2008</text>
<line x1="16.9" y1="159.2" x2="26.5" y2="159.2" stroke="#c0dcb0" stroke-width="0.7"/>
<text x="28.3" y="160.4" font-family="'Liberation Serif',serif" font-size="3.5" font-weight="normal" text-anchor="start" fill="#333">2009</text>
<line x1="16.9" y1="165.5" x2="26.5" y2="165.5" stroke="#dce8b0" stroke-width="0.7"/>
<text x="28.3" y="166.7" font-family="'Liberation Serif',serif" font-size="3.5" font-weight="normal" text-anchor="start" fill="#333">2010</text>
<line x1="16.9" y1="171.7" x2="26.5" y2="171.7" stroke="#e8ecb0" stroke-width="0.7"/>
<text x="28.3" y="172.9" font-family="'Liberation Serif',serif" font-size="3.5" font-weight="normal" text-anchor="start" fill="#333">2011</text>
<line x1="16.9" y1="177.9" x2="26.5" y2="177.9" stroke="#f0f0a8" stroke-width="0.7"/>
<text x="28.3" y="179.1" font-family="'Liberation Serif',serif" font-size="3.5" font-weight="normal" text-anchor="start" fill="#333">2012</text>
<line x1="40.9" y1="134.4" x2="50.5" y2="134.4" stroke="#f4ec98" stroke-width="0.7"/>
<text x="52.5" y="135.6" font-family="'Liberation Serif',serif" font-size="3.5" font-weight="normal" text-anchor="start" fill="#333">2013</text>
<line x1="40.9" y1="140.6" x2="50.5" y2="140.6" stroke="#f4e090" stroke-width="0.7"/>
<text x="52.5" y="141.8" font-family="'Liberation Serif',serif" font-size="3.5" font-weight="normal" text-anchor="start" fill="#333">2014</text>
<line x1="40.9" y1="146.8" x2="50.5" y2="146.8" stroke="#f4d088" stroke-width="0.7"/>
<text x="52.5" y="148" font-family="'Liberation Serif',serif" font-size="3.5" font-weight="normal" text-anchor="start" fill="#333">2015</text>
<line x1="40.9" y1="153" x2="50.5" y2="153" stroke="#f0b878" stroke-width="0.7"/>
<text x="52.5" y="154.2" font-family="'Liberation Serif',serif" font-size="3.5" font-weight="normal" text-anchor="start" fill="#333">2016</text>
<line x1="40.9" y1="159.2" x2="50.5" y2="159.2" stroke="#eca870" stroke-width="0.7"/>
<text x="52.5" y="160.4" font-family="'Liberation Serif',serif" font-size="3.5" font-weight="normal" text-anchor="start" fill="#333">2017</text>
<line x1="40.9" y1="165.5" x2="50.5" y2="165.5" stroke="#e09060" stroke-width="0.7"/>
<text x="52.5" y="166.7" font-family="'Liberation Serif',serif" font-size="3.5" font-weight="normal" text-anchor="start" fill="#333">2018</text>
<line x1="40.9" y1="171.7" x2="50.5" y2="171.7" stroke="#d88060" stroke-width="0.7"/>
<text x="52.5" y="172.9" font-family="'Liberation Serif',serif" font-size="3.5" font-weight="normal" text-anchor="start" fill="#333">2019</text>
<line x1="40.9" y1="177.9" x2="50.5" y2="177.9" stroke="#c87868" stroke-width="0.7"/>
<text x="52.5" y="179.1" font-family="'Liberation Serif',serif" font-size="3.5" font-weight="normal" text-anchor="start" fill="#333">2020</text>
<text x="273.5" y="105.6" font-family="'Liberation Serif',serif" font-size="5.25" font-weight="normal" text-anchor="start" fill="#222">The year of</text>
<text x="273.5" y="112" font-family="'Liberation Serif',serif" font-size="5.25" font-weight="normal" text-anchor="start" fill="#222">the first appearance</text>
<text x="273.5" y="117.8" font-family="'Liberation Serif',serif" font-size="5.25" font-weight="normal" text-anchor="start" fill="#222">of human rabies</text>
<rect x="274.7" y="123.3" width="12.2" height="5.6" fill="#38a800"/>
<text x="289" y="127.5" font-family="'Liberation Serif',serif" font-size="4.35" font-weight="normal" text-anchor="start" fill="#333">2005</text>
<rect x="274.7" y="131.1" width="12.2" height="5.6" fill="#54b400"/>
<text x="289" y="135.3" font-family="'Liberation Serif',serif" font-size="4.35" font-weight="normal" text-anchor="start" fill="#333">2006</text>
<rect x="274.7" y="139" width="12.2" height="5.6" fill="#70c000"/>
<text x="289" y="143.2" font-family="'Liberation Serif',serif" font-size="4.35" font-weight="normal" text-anchor="start" fill="#333">2007</text>
<rect x="274.7" y="146.8" width="12.2" height="5.6" fill="#8dcd00"/>
<text x="289" y="151" font-family="'Liberation Serif',serif" font-size="4.35" font-weight="normal" text-anchor="start" fill="#333">2008</text>
<rect x="274.7" y="154.7" width="12.2" height="5.6" fill="#a9d900"/>
<text x="289" y="158.9" font-family="'Liberation Serif',serif" font-size="4.35" font-weight="normal" text-anchor="start" fill="#333">2009</text>
<rect x="274.7" y="162.5" width="12.2" height="5.6" fill="#c6e600"/>
<text x="289" y="166.8" font-family="'Liberation Serif',serif" font-size="4.35" font-weight="normal" text-anchor="start" fill="#333">2010</text>
<rect x="274.7" y="170.4" width="12.2" height="5.6" fill="#e2f200"/>
<text x="289" y="174.6" font-family="'Liberation Serif',serif" font-size="4.35" font-weight="normal" text-anchor="start" fill="#333">2011</text>
<rect x="274.7" y="178.2" width="12.2" height="5.6" fill="#ffff00"/>
<text x="289" y="182.4" font-family="'Liberation Serif',serif" font-size="4.35" font-weight="normal" text-anchor="start" fill="#333">2012</text>
<rect x="300.1" y="123.3" width="12.2" height="5.6" fill="#ffdf00"/>
<text x="313.9" y="127.5" font-family="'Liberation Serif',serif" font-size="4.35" font-weight="normal" text-anchor="start" fill="#333">2013</text>
<rect x="300.1" y="131.1" width="12.2" height="5.6" fill="#ffbf00"/>
<text x="313.9" y="135.3" font-family="'Liberation Serif',serif" font-size="4.35" font-weight="normal" text-anchor="start" fill="#333">2014</text>
<rect x="300.1" y="139" width="12.2" height="5.6" fill="#ff9f00"/>
<text x="313.9" y="143.2" font-family="'Liberation Serif',serif" font-size="4.35" font-weight="normal" text-anchor="start" fill="#333">2015</text>
<rect x="300.1" y="146.8" width="12.2" height="5.6" fill="#ff7f00"/>
<text x="313.9" y="151" font-family="'Liberation Serif',serif" font-size="4.35" font-weight="normal" text-anchor="start" fill="#333">2016</text>
<rect x="300.1" y="154.7" width="12.2" height="5.6" fill="#ff5f00"/>
<text x="313.9" y="158.9" font-family="'Liberation Serif',serif" font-size="4.35" font-weight="normal" text-anchor="start" fill="#333">2017</text>
<rect x="300.1" y="162.5" width="12.2" height="5.6" fill="#ff3f00"/>
<text x="313.9" y="166.8" font-family="'Liberation Serif',serif" font-size="4.35" font-weight="normal" text-anchor="start" fill="#333">2018</text>
<rect x="300.1" y="170.4" width="12.2" height="5.6" fill="#ff1f00"/>
<text x="313.9" y="174.6" font-family="'Liberation Serif',serif" font-size="4.35" font-weight="normal" text-anchor="start" fill="#333">2019</text>
<rect x="300.1" y="178.2" width="12.2" height="5.6" fill="#ff0000"/>
<text x="313.9" y="182.4" font-family="'Liberation Serif',serif" font-size="4.35" font-weight="normal" text-anchor="start" fill="#333">2020</text>
<text x="14.1" y="298.6" font-family="'Liberation Serif',serif" font-size="5.25" font-weight="normal" text-anchor="start" fill="#222">The year of</text>
<text x="14.1" y="305" font-family="'Liberation Serif',serif" font-size="5.25" font-weight="normal" text-anchor="start" fill="#222">the last appearance</text>
<text x="14.1" y="310.8" font-family="'Liberation Serif',serif" font-size="5.25" font-weight="normal" text-anchor="start" fill="#222">of human rabies</text>
<rect x="15.3" y="316.3" width="12.2" height="5.6" fill="#38a800"/>
<text x="29.6" y="320.5" font-family="'Liberation Serif',serif" font-size="4.35" font-weight="normal" text-anchor="start" fill="#333">2005</text>
<rect x="15.3" y="324.1" width="12.2" height="5.6" fill="#54b400"/>
<text x="29.6" y="328.3" font-family="'Liberation Serif',serif" font-size="4.35" font-weight="normal" text-anchor="start" fill="#333">2006</text>
<rect x="15.3" y="332" width="12.2" height="5.6" fill="#70c000"/>
<text x="29.6" y="336.2" font-family="'Liberation Serif',serif" font-size="4.35" font-weight="normal" text-anchor="start" fill="#333">2007</text>
<rect x="15.3" y="339.8" width="12.2" height="5.6" fill="#8dcd00"/>
<text x="29.6" y="344" font-family="'Liberation Serif',serif" font-size="4.35" font-weight="normal" text-anchor="start" fill="#333">2008</text>
<rect x="15.3" y="347.7" width="12.2" height="5.6" fill="#a9d900"/>
<text x="29.6" y="351.9" font-family="'Liberation Serif',serif" font-size="4.35" font-weight="normal" text-anchor="start" fill="#333">2009</text>
<rect x="15.3" y="355.6" width="12.2" height="5.6" fill="#c6e600"/>
<text x="29.6" y="359.8" font-family="'Liberation Serif',serif" font-size="4.35" font-weight="normal" text-anchor="start" fill="#333">2010</text>
<rect x="15.3" y="363.4" width="12.2" height="5.6" fill="#e2f200"/>
<text x="29.6" y="367.6" font-family="'Liberation Serif',serif" font-size="4.35" font-weight="normal" text-anchor="start" fill="#333">2011</text>
<rect x="15.3" y="371.2" width="12.2" height="5.6" fill="#ffff00"/>
<text x="29.6" y="375.4" font-family="'Liberation Serif',serif" font-size="4.35" font-weight="normal" text-anchor="start" fill="#333">2012</text>
<rect x="40.7" y="316.3" width="12.2" height="5.6" fill="#ffdf00"/>
<text x="54.5" y="320.5" font-family="'Liberation Serif',serif" font-size="4.35" font-weight="normal" text-anchor="start" fill="#333">2013</text>
<rect x="40.7" y="324.1" width="12.2" height="5.6" fill="#ffbf00"/>
<text x="54.5" y="328.3" font-family="'Liberation Serif',serif" font-size="4.35" font-weight="normal" text-anchor="start" fill="#333">2014</text>
<rect x="40.7" y="332" width="12.2" height="5.6" fill="#ff9f00"/>
<text x="54.5" y="336.2" font-family="'Liberation Serif',serif" font-size="4.35" font-weight="normal" text-anchor="start" fill="#333">2015</text>
<rect x="40.7" y="339.8" width="12.2" height="5.6" fill="#ff7f00"/>
<text x="54.5" y="344" font-family="'Liberation Serif',serif" font-size="4.35" font-weight="normal" text-anchor="start" fill="#333">2016</text>
<rect x="40.7" y="347.7" width="12.2" height="5.6" fill="#ff5f00"/>
<text x="54.5" y="351.9" font-family="'Liberation Serif',serif" font-size="4.35" font-weight="normal" text-anchor="start" fill="#333">2017</text>
<rect x="40.7" y="355.6" width="12.2" height="5.6" fill="#ff3f00"/>
<text x="54.5" y="359.8" font-family="'Liberation Serif',serif" font-size="4.35" font-weight="normal" text-anchor="start" fill="#333">2018</text>
<rect x="40.7" y="363.4" width="12.2" height="5.6" fill="#ff1f00"/>
<text x="54.5" y="367.6" font-family="'Liberation Serif',serif" font-size="4.35" font-weight="normal" text-anchor="start" fill="#333">2019</text>
<rect x="40.7" y="371.2" width="12.2" height="5.6" fill="#ff0000"/>
<text x="54.5" y="375.4" font-family="'Liberation Serif',serif" font-size="4.35" font-weight="normal" text-anchor="start" fill="#333">2020</text>
<rect x="283.1" y="322.8" width="10.9" height="5.4" fill="#fff" stroke="#111" stroke-width="0.9"/>
<text x="295.9" y="326.8" font-family="'Liberation Serif',serif" font-size="3.9" font-weight="normal" text-anchor="start" fill="#333">Province</text>
<text x="281" y="334.1" font-family="'Liberation Serif',serif" font-size="3.6" font-weight="bold" text-anchor="start" fill="#111">Month</text>
<circle cx="285.8" cy="339" r="1" fill="#006400"/>
<text x="293.3" y="340.2" font-family="'Liberation Serif',serif" font-size="3.5" font-weight="normal" text-anchor="start" fill="#333">1</text>
<circle cx="285.8" cy="346.2" r="1" fill="#1f7a08"/>
<text x="293.3" y="347.4" font-family="'Liberation Serif',serif" font-size="3.5" font-weight="normal" text-anchor="start" fill="#333">2</text>
<circle cx="285.8" cy="353.3" r="1" fill="#48920c"/>
<text x="293.3" y="354.5" font-family="'Liberation Serif',serif" font-size="3.5" font-weight="normal" text-anchor="start" fill="#333">3</text>
<circle cx="285.8" cy="360.5" r="1" fill="#78ae12"/>
<text x="293.3" y="361.7" font-family="'Liberation Serif',serif" font-size="3.5" font-weight="normal" text-anchor="start" fill="#333">4</text>
<circle cx="285.8" cy="367.7" r="1" fill="#a8c818"/>
<text x="293.3" y="368.9" font-family="'Liberation Serif',serif" font-size="3.5" font-weight="normal" text-anchor="start" fill="#333">5</text>
<circle cx="285.8" cy="374.9" r="1" fill="#dce61c"/>
<text x="293.3" y="376.1" font-family="'Liberation Serif',serif" font-size="3.5" font-weight="normal" text-anchor="start" fill="#333">6</text>
<circle cx="305.5" cy="339" r="1" fill="#ffea00"/>
<text x="313" y="340.2" font-family="'Liberation Serif',serif" font-size="3.5" font-weight="normal" text-anchor="start" fill="#333">7</text>
<circle cx="305.5" cy="346.2" r="1" fill="#ffc400"/>
<text x="313" y="347.4" font-family="'Liberation Serif',serif" font-size="3.5" font-weight="normal" text-anchor="start" fill="#333">8</text>
<circle cx="305.5" cy="353.3" r="1" fill="#ff9e00"/>
<text x="313" y="354.5" font-family="'Liberation Serif',serif" font-size="3.5" font-weight="normal" text-anchor="start" fill="#333">9</text>
<circle cx="305.5" cy="360.5" r="1" fill="#ff7800"/>
<text x="313" y="361.7" font-family="'Liberation Serif',serif" font-size="3.5" font-weight="normal" text-anchor="start" fill="#333">10</text>
<circle cx="305.5" cy="367.7" r="1" fill="#ff5200"/>
<text x="313" y="368.9" font-family="'Liberation Serif',serif" font-size="3.5" font-weight="normal" text-anchor="start" fill="#333">11</text>
<circle cx="305.5" cy="374.9" r="1" fill="#ff2a00"/>
<text x="313" y="376.1" font-family="'Liberation Serif',serif" font-size="3.5" font-weight="normal" text-anchor="start" fill="#333">12</text>
</svg></body></html>
